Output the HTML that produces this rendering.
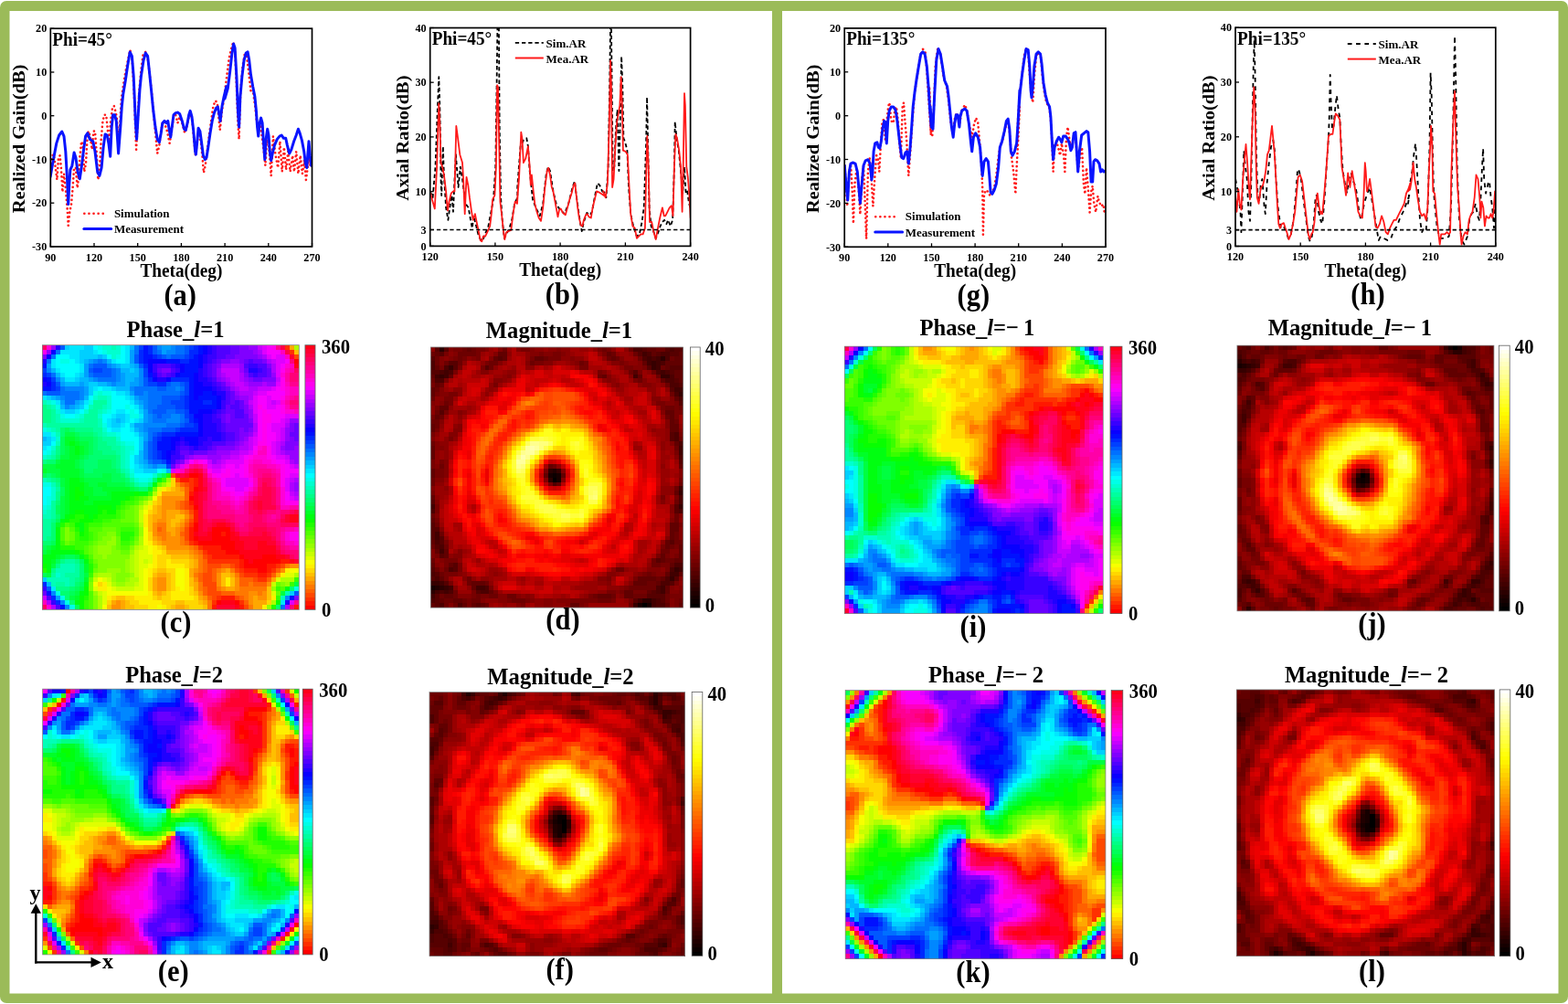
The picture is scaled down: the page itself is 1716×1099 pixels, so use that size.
<!DOCTYPE html>
<html><head><meta charset="utf-8"><style>
html,body{margin:0;padding:0;background:#fff;width:1716px;height:1099px;overflow:hidden}
svg{display:block}
text{font-family:'Liberation Serif','Times New Roman',serif;font-weight:bold}
</style></head><body>
<svg width="1716" height="1099" viewBox="0 0 1716 1099" font-family="'Liberation Serif','Times New Roman',serif" font-weight="bold">
<rect x="0" y="1" width="1716" height="1097" rx="7" fill="#9bbb59"/><rect x="10.5" y="12" width="834.5" height="1075.5" fill="#fff"/><rect x="856" y="12" width="849.5" height="1075.5" fill="#fff"/><g transform="translate(46.40 377.70) scale(5.01607 4.99483)" shape-rendering="crispEdges"><path fill="#ff0060" d="M0 0h1v1h-1zM55 5h1v1h-1zM35 28h1v1h-1zM48 29h2v1h-2zM49 30h1v1h-1zM47 31h1v1h-1zM50 31h1v1h-1zM47 32h1v1h-1zM50 32h1v1h-1zM46 33h1v1h-1zM50 33h1v1h-1zM35 34h1v1h-1zM45 34h1v1h-1zM50 34h1v1h-1zM35 35h1v1h-1zM45 35h1v1h-1zM35 36h1v1h-1zM45 36h2v1h-2zM48 36h1v1h-1zM54 36h1v1h-1zM35 37h1v1h-1zM46 37h2v1h-2zM52 37h1v1h-1zM36 38h1v1h-1zM40 38h1v1h-1zM46 38h2v1h-2zM45 39h4v1h-4zM52 39h4v1h-4zM42 40h1v1h-1zM45 40h1v1h-1zM49 40h2v1h-2zM43 41h2v1h-2zM50 41h1v1h-1zM51 43h1v1h-1zM52 45h1v1h-1zM54 46h1v1h-1zM0 57h1v1h-1z"/><path fill="#ff00d7" d="M1 0h1v1h-1zM53 4h1v1h-1zM52 6h1v1h-1zM53 9h1v1h-1zM53 10h1v1h-1zM52 12h1v1h-1zM53 14h2v1h-2zM47 22h1v1h-1zM46 24h3v1h-3zM33 25h1v1h-1zM45 25h1v1h-1zM48 25h2v1h-2zM31 26h1v1h-1zM51 26h1v1h-1zM29 27h1v1h-1zM45 28h1v1h-1zM38 29h1v1h-1zM45 31h1v1h-1zM52 31h1v1h-1zM39 32h2v1h-2zM44 32h1v1h-1zM52 32h1v1h-1zM41 33h1v1h-1zM43 33h1v1h-1zM52 33h1v1h-1zM42 34h1v1h-1zM52 34h1v1h-1zM53 41h1v1h-1zM53 42h1v1h-1zM55 43h1v1h-1zM1 57h1v1h-1z"/><path fill="#9700ff" d="M2 0h1v1h-1zM45 0h2v1h-2zM1 1h1v1h-1zM46 1h1v1h-1zM47 2h1v1h-1zM41 3h2v1h-2zM43 4h1v1h-1zM38 5h1v1h-1zM43 5h1v1h-1zM38 6h1v1h-1zM50 6h1v1h-1zM39 7h1v1h-1zM44 7h1v1h-1zM40 8h1v1h-1zM45 8h3v1h-3zM49 8h2v1h-2zM41 9h1v1h-1zM42 10h1v1h-1zM43 11h2v1h-2zM44 12h1v1h-1zM45 14h1v1h-1zM45 15h1v1h-1zM54 16h2v1h-2zM53 18h1v1h-1zM45 19h1v1h-1zM53 19h1v1h-1zM44 20h1v1h-1zM53 20h1v1h-1zM43 21h1v1h-1zM42 22h1v1h-1zM52 22h1v1h-1zM55 22h1v1h-1zM38 23h3v1h-3zM53 23h3v1h-3zM32 24h1v1h-1zM36 24h3v1h-3zM54 24h2v1h-2zM37 25h1v1h-1zM55 25h1v1h-1zM55 30h1v1h-1zM55 31h1v1h-1z"/><path fill="#2000ff" d="M3 0h1v1h-1zM36 0h1v1h-1zM36 1h1v1h-1zM35 2h1v1h-1zM0 3h1v1h-1zM35 3h1v1h-1zM29 4h1v1h-1zM34 5h1v1h-1zM45 5h2v1h-2zM24 6h1v1h-1zM34 6h1v1h-1zM25 7h2v1h-2zM34 7h2v1h-2zM0 8h1v1h-1zM35 8h2v1h-2zM37 9h1v1h-1zM38 10h2v1h-2zM39 11h1v1h-1zM37 14h1v1h-1zM35 15h2v1h-2zM35 16h2v1h-2zM35 17h3v1h-3zM35 18h3v1h-3zM35 19h4v1h-4zM30 20h1v1h-1zM34 20h2v1h-2zM37 20h2v1h-2zM29 21h1v1h-1zM31 21h1v1h-1zM34 21h1v1h-1zM33 22h1v1h-1zM28 23h1v1h-1zM53 56h1v1h-1z"/><path fill="#0058ff" d="M4 0h1v1h-1zM24 0h1v1h-1zM31 0h1v1h-1zM24 1h1v1h-1zM31 1h1v1h-1zM20 2h1v1h-1zM26 2h1v1h-1zM28 2h3v1h-3zM20 3h1v1h-1zM11 4h3v1h-3zM21 4h1v1h-1zM10 5h1v1h-1zM13 5h2v1h-2zM11 6h4v1h-4zM22 7h1v1h-1zM3 8h1v1h-1zM22 8h1v1h-1zM27 8h1v1h-1zM30 8h1v1h-1zM25 9h2v1h-2zM1 10h3v1h-3zM30 10h1v1h-1zM26 11h4v1h-4zM26 12h2v1h-2zM25 13h4v1h-4zM24 14h3v1h-3zM29 14h2v1h-2zM25 15h1v1h-1zM31 16h1v1h-1zM30 17h1v1h-1zM26 18h3v1h-3zM24 19h1v1h-1zM23 21h1v1h-1zM23 22h1v1h-1zM23 23h1v1h-1zM23 24h1v1h-1zM24 25h2v1h-2zM1 53h1v1h-1zM55 54h1v1h-1z"/><path fill="#00cfff" d="M5 0h1v1h-1zM9 0h2v1h-2zM8 1h3v1h-3zM8 2h4v1h-4zM13 2h1v1h-1zM8 3h1v1h-1zM17 4h2v1h-2zM19 5h1v1h-1zM8 6h1v1h-1zM7 7h1v1h-1zM10 8h2v1h-2zM10 9h1v1h-1zM15 9h1v1h-1zM10 10h1v1h-1zM18 10h1v1h-1zM1 11h1v1h-1zM19 11h1v1h-1zM8 13h1v1h-1zM5 14h2v1h-2zM21 14h1v1h-1zM16 15h2v1h-2zM15 16h1v1h-1zM17 16h1v1h-1zM21 16h1v1h-1zM15 17h2v1h-2zM19 17h1v1h-1zM1 20h1v1h-1zM21 20h1v1h-1zM0 21h2v1h-2zM21 21h1v1h-1zM21 22h1v1h-1zM20 24h1v1h-1zM20 25h1v1h-1zM21 26h1v1h-1zM22 27h3v1h-3zM0 51h1v1h-1zM54 54h1v1h-1z"/><path fill="#00e7ff" d="M6 0h3v1h-3zM18 0h1v1h-1zM4 1h4v1h-4zM11 1h1v1h-1zM18 1h1v1h-1zM6 2h2v1h-2zM18 2h1v1h-1zM2 3h1v1h-1zM7 3h1v1h-1zM15 3h1v1h-1zM18 3h1v1h-1zM2 4h1v1h-1zM8 4h1v1h-1zM3 5h1v1h-1zM8 5h1v1h-1zM4 6h1v1h-1zM7 6h1v1h-1zM5 7h2v1h-2zM11 9h1v1h-1zM13 9h2v1h-2zM16 10h2v1h-2zM0 11h1v1h-1zM18 11h1v1h-1zM3 12h1v1h-1zM9 12h1v1h-1zM19 12h1v1h-1zM20 13h1v1h-1zM4 14h1v1h-1zM7 14h1v1h-1zM16 14h2v1h-2zM15 15h1v1h-1zM18 15h1v1h-1zM21 15h1v1h-1zM14 16h1v1h-1zM18 16h1v1h-1zM20 16h1v1h-1zM14 17h1v1h-1zM17 17h1v1h-1zM15 18h2v1h-2zM19 18h1v1h-1zM0 19h2v1h-2zM20 19h1v1h-1zM2 20h1v1h-1zM0 22h1v1h-1zM20 26h1v1h-1zM20 27h2v1h-2zM2 53h1v1h-1zM52 56h1v1h-1z"/><path fill="#00ffff" d="M11 0h1v1h-1zM17 0h1v1h-1zM12 1h1v1h-1zM17 1h1v1h-1zM3 2h3v1h-3zM14 2h1v1h-1zM17 2h1v1h-1zM3 3h1v1h-1zM6 3h1v1h-1zM16 3h2v1h-2zM3 4h5v1h-5zM4 5h4v1h-4zM5 6h2v1h-2zM12 9h1v1h-1zM15 10h1v1h-1zM10 11h1v1h-1zM15 11h3v1h-3zM15 12h4v1h-4zM9 13h1v1h-1zM15 13h3v1h-3zM19 13h1v1h-1zM8 14h1v1h-1zM15 14h1v1h-1zM18 14h1v1h-1zM20 14h1v1h-1zM5 15h2v1h-2zM13 15h2v1h-2zM13 16h1v1h-1zM19 16h1v1h-1zM18 17h1v1h-1zM14 18h1v1h-1zM17 18h2v1h-2zM17 19h3v1h-3zM17 20h4v1h-4zM2 21h1v1h-1zM20 21h1v1h-1zM1 22h1v1h-1zM20 22h1v1h-1zM0 23h1v1h-1zM20 23h1v1h-1zM19 24h1v1h-1zM19 25h1v1h-1zM19 26h1v1h-1zM25 27h1v1h-1zM20 28h4v1h-4zM0 31h2v1h-2zM0 32h2v1h-2zM0 33h1v1h-1zM0 34h1v1h-1z"/><path fill="#00ffe7" d="M12 0h1v1h-1zM13 1h1v1h-1zM16 2h1v1h-1zM4 3h2v1h-2zM11 10h1v1h-1zM13 10h2v1h-2zM2 12h1v1h-1zM10 12h1v1h-1zM3 13h1v1h-1zM18 13h1v1h-1zM14 14h1v1h-1zM19 14h1v1h-1zM4 15h1v1h-1zM7 15h1v1h-1zM19 15h2v1h-2zM13 17h1v1h-1zM0 18h1v1h-1zM2 19h1v1h-1zM16 19h1v1h-1zM18 21h2v1h-2zM1 23h1v1h-1zM19 23h1v1h-1zM19 27h1v1h-1zM26 27h1v1h-1zM21 29h2v1h-2zM0 30h2v1h-2zM1 33h1v1h-1zM1 34h1v1h-1zM0 35h1v1h-1zM55 53h1v1h-1zM3 54h1v1h-1zM4 55h1v1h-1zM5 56h1v1h-1zM6 57h1v1h-1z"/><path fill="#00ffcf" d="M13 0h2v1h-2zM16 0h1v1h-1zM14 1h3v1h-3zM15 2h1v1h-1zM12 10h1v1h-1zM11 11h1v1h-1zM14 11h1v1h-1zM1 12h1v1h-1zM14 12h1v1h-1zM14 13h1v1h-1zM3 14h1v1h-1zM9 14h1v1h-1zM13 14h1v1h-1zM8 15h1v1h-1zM12 15h1v1h-1zM4 16h4v1h-4zM1 18h1v1h-1zM13 18h1v1h-1zM14 19h2v1h-2zM3 20h1v1h-1zM16 20h1v1h-1zM17 21h1v1h-1zM2 22h1v1h-1zM18 22h2v1h-2zM18 23h1v1h-1zM0 24h1v1h-1zM18 24h1v1h-1zM18 25h1v1h-1zM18 26h1v1h-1zM19 28h1v1h-1zM24 28h1v1h-1zM20 29h1v1h-1zM23 29h1v1h-1zM2 31h1v1h-1zM2 32h1v1h-1zM2 33h1v1h-1zM1 35h1v1h-1zM0 36h1v1h-1zM3 50h1v1h-1z"/><path fill="#00ffb7" d="M15 0h1v1h-1zM12 11h2v1h-2zM0 12h1v1h-1zM2 13h1v1h-1zM10 13h1v1h-1zM13 13h1v1h-1zM12 14h1v1h-1zM3 15h1v1h-1zM3 16h1v1h-1zM8 16h1v1h-1zM12 16h1v1h-1zM0 17h1v1h-1zM12 17h1v1h-1zM2 18h1v1h-1zM3 19h1v1h-1zM13 19h1v1h-1zM3 21h1v1h-1zM16 21h1v1h-1zM17 22h1v1h-1zM2 23h1v1h-1zM17 23h1v1h-1zM1 24h1v1h-1zM17 24h1v1h-1zM17 25h1v1h-1zM17 26h1v1h-1zM18 27h1v1h-1zM0 29h1v1h-1zM2 30h1v1h-1zM21 30h2v1h-2zM1 36h1v1h-1zM0 37h2v1h-2zM4 48h3v1h-3zM3 49h4v1h-4zM4 50h1v1h-1zM1 51h5v1h-5zM2 52h1v1h-1zM5 52h1v1h-1zM53 54h1v1h-1zM52 55h1v1h-1z"/><path fill="#00b7ff" d="M19 0h1v1h-1zM12 2h1v1h-1zM9 3h1v1h-1zM14 3h1v1h-1zM16 4h1v1h-1zM19 4h1v1h-1zM2 5h1v1h-1zM17 5h2v1h-2zM20 5h1v1h-1zM3 6h1v1h-1zM18 6h3v1h-3zM4 7h1v1h-1zM8 7h2v1h-2zM18 7h2v1h-2zM5 8h3v1h-3zM9 8h1v1h-1zM12 8h2v1h-2zM18 8h1v1h-1zM16 9h3v1h-3zM2 11h1v1h-1zM9 11h1v1h-1zM8 12h1v1h-1zM20 12h1v1h-1zM4 13h1v1h-1zM7 13h1v1h-1zM21 13h1v1h-1zM16 16h1v1h-1zM20 18h1v1h-1zM21 19h1v1h-1zM0 20h1v1h-1zM21 23h1v1h-1zM21 24h1v1h-1zM21 25h1v1h-1zM22 26h1v1h-1zM27 27h1v1h-1zM1 52h1v1h-1z"/><path fill="#0070ff" d="M20 0h1v1h-1zM29 0h2v1h-2zM3 1h1v1h-1zM20 1h1v1h-1zM25 1h1v1h-1zM29 1h2v1h-2zM2 2h1v1h-1zM27 2h1v1h-1zM1 3h1v1h-1zM12 3h1v1h-1zM10 4h1v1h-1zM15 5h1v1h-1zM2 6h1v1h-1zM10 6h1v1h-1zM15 6h1v1h-1zM12 7h4v1h-4zM28 8h2v1h-2zM4 9h1v1h-1zM20 9h5v1h-5zM27 9h2v1h-2zM30 9h1v1h-1zM0 10h1v1h-1zM4 10h4v1h-4zM20 10h2v1h-2zM23 10h7v1h-7zM5 11h3v1h-3zM23 11h3v1h-3zM5 12h2v1h-2zM23 12h3v1h-3zM23 13h2v1h-2zM23 14h1v1h-1zM27 14h2v1h-2zM24 15h1v1h-1zM26 15h2v1h-2zM30 15h1v1h-1zM24 16h3v1h-3zM30 16h1v1h-1zM27 17h3v1h-3zM23 18h3v1h-3zM23 19h1v1h-1zM23 20h1v1h-1zM23 25h1v1h-1zM52 57h1v1h-1z"/><path fill="#0040ff" d="M21 0h1v1h-1zM32 0h1v1h-1zM25 2h1v1h-1zM31 2h1v1h-1zM0 5h1v1h-1zM11 5h2v1h-2zM22 5h1v1h-1zM1 6h1v1h-1zM22 6h1v1h-1zM2 7h1v1h-1zM23 8h2v1h-2zM31 8h1v1h-1zM3 9h1v1h-1zM31 9h1v1h-1zM31 10h1v1h-1zM30 11h1v1h-1zM28 12h3v1h-3zM29 13h2v1h-2zM31 14h1v1h-1zM31 15h1v1h-1zM31 17h2v1h-2zM29 18h1v1h-1zM25 19h1v1h-1zM24 20h1v1h-1zM24 21h1v1h-1zM24 22h1v1h-1zM24 23h1v1h-1zM24 24h1v1h-1zM26 25h1v1h-1zM27 26h1v1h-1z"/><path fill="#0010ff" d="M22 0h1v1h-1zM34 0h1v1h-1zM22 1h1v1h-1zM34 1h1v1h-1zM22 2h2v1h-2zM33 2h1v1h-1zM22 3h1v1h-1zM27 3h3v1h-3zM32 3h2v1h-2zM0 4h1v1h-1zM31 4h3v1h-3zM31 5h3v1h-3zM23 6h1v1h-1zM30 6h3v1h-3zM1 7h1v1h-1zM32 7h1v1h-1zM32 8h1v1h-1zM0 9h2v1h-2zM32 9h1v1h-1zM32 10h1v1h-1zM35 10h2v1h-2zM32 11h1v1h-1zM34 11h4v1h-4zM32 12h3v1h-3zM37 12h1v1h-1zM32 13h6v1h-6zM32 14h2v1h-2zM33 16h1v1h-1zM29 19h5v1h-5zM26 20h2v1h-2zM25 21h3v1h-3zM25 22h3v1h-3zM26 23h1v1h-1zM26 24h1v1h-1zM27 25h1v1h-1zM1 54h1v1h-1zM54 55h1v1h-1zM4 57h1v1h-1z"/><path fill="#0028ff" d="M23 0h1v1h-1zM33 0h1v1h-1zM21 1h1v1h-1zM23 1h1v1h-1zM32 1h2v1h-2zM21 2h1v1h-1zM24 2h1v1h-1zM32 2h1v1h-1zM21 3h1v1h-1zM30 3h2v1h-2zM22 4h1v1h-1zM0 6h1v1h-1zM23 7h1v1h-1zM28 7h4v1h-4zM2 8h1v1h-1zM25 8h2v1h-2zM2 9h1v1h-1zM31 11h1v1h-1zM31 12h1v1h-1zM35 12h2v1h-2zM31 13h1v1h-1zM32 15h1v1h-1zM32 16h1v1h-1zM33 17h1v1h-1zM30 18h4v1h-4zM26 19h3v1h-3zM25 20h1v1h-1zM25 23h1v1h-1zM25 24h1v1h-1zM0 52h1v1h-1zM2 55h1v1h-1zM3 56h1v1h-1z"/><path fill="#0087ff" d="M25 0h1v1h-1zM28 0h1v1h-1zM27 1h2v1h-2zM11 3h1v1h-1zM13 3h1v1h-1zM14 4h1v1h-1zM1 5h1v1h-1zM16 5h1v1h-1zM21 5h1v1h-1zM16 6h1v1h-1zM21 6h1v1h-1zM3 7h1v1h-1zM11 7h1v1h-1zM16 7h1v1h-1zM21 7h1v1h-1zM15 8h1v1h-1zM21 8h1v1h-1zM5 9h4v1h-4zM19 9h1v1h-1zM29 9h1v1h-1zM8 10h1v1h-1zM22 10h1v1h-1zM4 11h1v1h-1zM8 11h1v1h-1zM21 11h2v1h-2zM22 12h1v1h-1zM5 13h1v1h-1zM22 13h1v1h-1zM23 15h1v1h-1zM28 15h2v1h-2zM23 16h1v1h-1zM27 16h3v1h-3zM22 17h5v1h-5zM22 18h1v1h-1zM22 21h1v1h-1zM22 22h1v1h-1zM22 23h1v1h-1zM22 24h1v1h-1zM24 26h1v1h-1zM2 54h1v1h-1zM53 55h1v1h-1zM4 56h1v1h-1zM5 57h1v1h-1z"/><path fill="#009fff" d="M26 0h2v1h-2zM19 1h1v1h-1zM26 1h1v1h-1zM19 2h1v1h-1zM10 3h1v1h-1zM19 3h1v1h-1zM1 4h1v1h-1zM9 4h1v1h-1zM15 4h1v1h-1zM20 4h1v1h-1zM9 5h1v1h-1zM9 6h1v1h-1zM17 6h1v1h-1zM10 7h1v1h-1zM17 7h1v1h-1zM20 7h1v1h-1zM4 8h1v1h-1zM8 8h1v1h-1zM14 8h1v1h-1zM16 8h2v1h-2zM19 8h2v1h-2zM9 9h1v1h-1zM9 10h1v1h-1zM19 10h1v1h-1zM3 11h1v1h-1zM20 11h1v1h-1zM4 12h1v1h-1zM7 12h1v1h-1zM21 12h1v1h-1zM6 13h1v1h-1zM22 14h1v1h-1zM22 15h1v1h-1zM22 16h1v1h-1zM20 17h2v1h-2zM21 18h1v1h-1zM22 19h1v1h-1zM22 20h1v1h-1zM22 25h1v1h-1zM23 26h1v1h-1zM25 26h2v1h-2zM3 55h1v1h-1z"/><path fill="#0800ff" d="M35 0h1v1h-1zM2 1h1v1h-1zM35 1h1v1h-1zM1 2h1v1h-1zM34 2h1v1h-1zM23 3h4v1h-4zM34 3h1v1h-1zM23 4h1v1h-1zM30 4h1v1h-1zM34 4h1v1h-1zM23 5h1v1h-1zM30 5h1v1h-1zM29 6h1v1h-1zM33 6h1v1h-1zM0 7h1v1h-1zM24 7h1v1h-1zM27 7h1v1h-1zM33 7h1v1h-1zM1 8h1v1h-1zM33 8h2v1h-2zM33 9h4v1h-4zM33 10h2v1h-2zM37 10h1v1h-1zM33 11h1v1h-1zM38 11h1v1h-1zM38 12h1v1h-1zM38 13h1v1h-1zM34 14h3v1h-3zM33 15h2v1h-2zM34 16h1v1h-1zM34 17h1v1h-1zM34 18h1v1h-1zM34 19h1v1h-1zM28 20h2v1h-2zM31 20h3v1h-3zM28 21h1v1h-1zM32 21h2v1h-2zM28 22h1v1h-1zM27 23h1v1h-1zM27 24h1v1h-1z"/><path fill="#3800ff" d="M37 0h1v1h-1zM37 1h1v1h-1zM36 2h2v1h-2zM36 3h1v1h-1zM24 4h1v1h-1zM28 4h1v1h-1zM35 4h1v1h-1zM45 4h2v1h-2zM24 5h1v1h-1zM29 5h1v1h-1zM35 5h1v1h-1zM47 5h1v1h-1zM28 6h1v1h-1zM35 6h1v1h-1zM46 6h1v1h-1zM36 7h1v1h-1zM37 8h1v1h-1zM38 9h1v1h-1zM39 12h1v1h-1zM39 13h1v1h-1zM38 14h1v1h-1zM37 15h1v1h-1zM37 16h2v1h-2zM38 17h1v1h-1zM38 18h1v1h-1zM39 19h1v1h-1zM36 20h1v1h-1zM39 20h1v1h-1zM30 21h1v1h-1zM35 21h2v1h-2zM29 22h1v1h-1zM32 22h1v1h-1zM34 22h2v1h-2zM29 23h1v1h-1zM28 24h2v1h-2zM28 25h1v1h-1zM0 53h1v1h-1zM2 56h1v1h-1z"/><path fill="#5000ff" d="M38 0h3v1h-3zM38 1h3v1h-3zM38 2h2v1h-2zM37 3h1v1h-1zM45 3h1v1h-1zM25 4h3v1h-3zM36 4h1v1h-1zM44 4h1v1h-1zM47 4h2v1h-2zM28 5h1v1h-1zM36 5h1v1h-1zM48 5h1v1h-1zM25 6h1v1h-1zM27 6h1v1h-1zM36 6h1v1h-1zM45 6h1v1h-1zM47 6h2v1h-2zM37 7h1v1h-1zM38 8h1v1h-1zM39 9h1v1h-1zM40 10h1v1h-1zM40 11h1v1h-1zM40 12h1v1h-1zM42 12h1v1h-1zM41 13h2v1h-2zM39 14h1v1h-1zM42 14h2v1h-2zM38 15h1v1h-1zM42 15h2v1h-2zM39 17h1v1h-1zM39 18h1v1h-1zM40 19h2v1h-2zM40 20h2v1h-2zM37 21h3v1h-3zM30 22h2v1h-2zM36 22h1v1h-1zM32 23h1v1h-1zM30 24h1v1h-1zM1 55h1v1h-1zM3 57h1v1h-1z"/><path fill="#6800ff" d="M41 0h2v1h-2zM41 1h2v1h-2zM40 2h2v1h-2zM38 3h1v1h-1zM44 3h1v1h-1zM46 3h2v1h-2zM37 4h1v1h-1zM25 5h1v1h-1zM37 5h1v1h-1zM44 5h1v1h-1zM49 5h1v1h-1zM26 6h1v1h-1zM37 6h1v1h-1zM49 6h1v1h-1zM46 7h2v1h-2zM39 8h1v1h-1zM40 9h1v1h-1zM41 10h1v1h-1zM41 11h1v1h-1zM41 12h1v1h-1zM43 12h1v1h-1zM40 13h1v1h-1zM43 13h1v1h-1zM40 14h2v1h-2zM39 15h1v1h-1zM41 15h1v1h-1zM44 15h1v1h-1zM39 16h1v1h-1zM41 16h4v1h-4zM40 17h6v1h-6zM55 17h1v1h-1zM40 18h3v1h-3zM44 18h1v1h-1zM55 18h1v1h-1zM42 19h1v1h-1zM54 19h2v1h-2zM42 20h1v1h-1zM55 20h1v1h-1zM40 21h2v1h-2zM37 22h1v1h-1zM30 23h2v1h-2zM33 23h3v1h-3zM29 25h1v1h-1zM28 26h1v1h-1zM0 54h1v1h-1z"/><path fill="#8000ff" d="M43 0h2v1h-2zM43 1h3v1h-3zM0 2h1v1h-1zM42 2h5v1h-5zM39 3h2v1h-2zM43 3h1v1h-1zM48 3h1v1h-1zM38 4h1v1h-1zM49 4h1v1h-1zM26 5h2v1h-2zM44 6h1v1h-1zM38 7h1v1h-1zM45 7h1v1h-1zM48 7h3v1h-3zM42 11h1v1h-1zM44 13h1v1h-1zM44 14h1v1h-1zM40 15h1v1h-1zM40 16h1v1h-1zM45 16h1v1h-1zM54 17h1v1h-1zM43 18h1v1h-1zM45 18h1v1h-1zM54 18h1v1h-1zM43 19h2v1h-2zM43 20h1v1h-1zM54 20h1v1h-1zM42 21h1v1h-1zM53 21h3v1h-3zM38 22h4v1h-4zM53 22h2v1h-2zM36 23h2v1h-2zM31 24h1v1h-1zM30 25h1v1h-1zM55 55h1v1h-1z"/><path fill="#c700ff" d="M47 0h1v1h-1zM50 3h1v1h-1zM39 5h4v1h-4zM40 6h3v1h-3zM41 7h2v1h-2zM51 7h1v1h-1zM42 8h2v1h-2zM43 9h2v1h-2zM47 9h3v1h-3zM46 10h1v1h-1zM45 12h1v1h-1zM50 12h1v1h-1zM46 15h1v1h-1zM46 16h1v1h-1zM53 16h1v1h-1zM52 18h1v1h-1zM46 19h1v1h-1zM52 19h1v1h-1zM45 20h1v1h-1zM52 20h1v1h-1zM45 21h1v1h-1zM51 21h1v1h-1zM45 22h1v1h-1zM51 22h1v1h-1zM43 23h2v1h-2zM51 23h1v1h-1zM41 24h2v1h-2zM53 24h1v1h-1zM31 25h1v1h-1zM36 25h1v1h-1zM39 25h1v1h-1zM37 26h2v1h-2zM55 26h1v1h-1zM54 29h1v1h-1zM54 32h1v1h-1zM55 33h1v1h-1zM0 55h1v1h-1z"/><path fill="#df00ff" d="M48 0h1v1h-1zM48 1h1v1h-1zM49 2h1v1h-1zM51 2h2v1h-2zM51 3h2v1h-2zM51 4h1v1h-1zM51 5h1v1h-1zM51 6h1v1h-1zM51 8h1v1h-1zM50 9h1v1h-1zM47 10h2v1h-2zM46 11h1v1h-1zM49 11h1v1h-1zM46 12h1v1h-1zM49 12h1v1h-1zM51 12h1v1h-1zM46 13h1v1h-1zM49 13h2v1h-2zM46 14h1v1h-1zM53 15h3v1h-3zM52 16h1v1h-1zM50 17h3v1h-3zM50 18h2v1h-2zM51 19h1v1h-1zM46 20h1v1h-1zM51 20h1v1h-1zM46 21h1v1h-1zM50 21h1v1h-1zM50 22h1v1h-1zM45 23h1v1h-1zM50 23h1v1h-1zM43 24h1v1h-1zM51 24h2v1h-2zM40 25h4v1h-4zM53 25h1v1h-1zM30 26h1v1h-1zM36 26h1v1h-1zM39 26h1v1h-1zM42 26h1v1h-1zM54 26h1v1h-1zM28 27h1v1h-1zM37 27h2v1h-2zM42 28h1v1h-1zM54 28h2v1h-2zM40 29h5v1h-5zM53 29h1v1h-1zM40 30h5v1h-5zM53 30h1v1h-1zM42 31h2v1h-2zM53 31h1v1h-1zM54 33h1v1h-1zM54 56h1v1h-1z"/><path fill="#f700ff" d="M49 0h1v1h-1zM49 1h3v1h-3zM50 2h1v1h-1zM53 3h1v1h-1zM52 4h1v1h-1zM51 9h1v1h-1zM49 10h4v1h-4zM47 11h2v1h-2zM50 11h2v1h-2zM47 12h2v1h-2zM48 13h1v1h-1zM51 13h1v1h-1zM47 14h1v1h-1zM49 14h3v1h-3zM47 15h1v1h-1zM50 15h3v1h-3zM47 16h1v1h-1zM50 16h2v1h-2zM47 17h1v1h-1zM49 17h1v1h-1zM47 18h1v1h-1zM49 18h1v1h-1zM47 19h1v1h-1zM49 19h2v1h-2zM47 20h1v1h-1zM49 20h2v1h-2zM49 21h1v1h-1zM46 22h1v1h-1zM44 24h1v1h-1zM50 24h1v1h-1zM32 25h1v1h-1zM35 25h1v1h-1zM51 25h2v1h-2zM40 26h2v1h-2zM43 26h1v1h-1zM53 26h1v1h-1zM39 27h1v1h-1zM41 27h3v1h-3zM53 27h3v1h-3zM38 28h1v1h-1zM41 28h1v1h-1zM43 28h1v1h-1zM53 28h1v1h-1zM39 29h1v1h-1zM39 30h1v1h-1zM45 30h1v1h-1zM40 31h2v1h-2zM44 31h1v1h-1zM42 32h2v1h-2zM53 32h1v1h-1zM53 33h1v1h-1z"/><path fill="#ff00ef" d="M50 0h1v1h-1zM0 1h1v1h-1zM52 5h1v1h-1zM52 7h1v1h-1zM52 8h1v1h-1zM52 9h1v1h-1zM52 11h1v1h-1zM47 13h1v1h-1zM52 13h1v1h-1zM48 14h1v1h-1zM52 14h1v1h-1zM48 15h2v1h-2zM48 16h2v1h-2zM48 17h1v1h-1zM48 18h1v1h-1zM48 19h1v1h-1zM48 20h1v1h-1zM47 21h2v1h-2zM49 22h1v1h-1zM46 23h1v1h-1zM49 23h1v1h-1zM45 24h1v1h-1zM49 24h1v1h-1zM34 25h1v1h-1zM44 25h1v1h-1zM50 25h1v1h-1zM44 26h1v1h-1zM52 26h1v1h-1zM36 27h1v1h-1zM40 27h1v1h-1zM44 27h1v1h-1zM52 27h1v1h-1zM37 28h1v1h-1zM39 28h2v1h-2zM44 28h1v1h-1zM52 28h1v1h-1zM45 29h1v1h-1zM52 29h1v1h-1zM52 30h1v1h-1zM39 31h1v1h-1zM41 32h1v1h-1zM42 33h1v1h-1zM53 34h3v1h-3zM54 41h2v1h-2zM54 42h2v1h-2z"/><path fill="#ff008f" d="M51 0h1v1h-1zM54 8h2v1h-2zM55 11h1v1h-1zM54 13h2v1h-2zM32 26h1v1h-1zM34 26h1v1h-1zM35 27h1v1h-1zM47 27h3v1h-3zM47 28h1v1h-1zM50 28h1v1h-1zM36 29h1v1h-1zM51 31h1v1h-1zM46 32h1v1h-1zM51 32h1v1h-1zM45 33h1v1h-1zM51 33h1v1h-1zM37 34h2v1h-2zM44 34h1v1h-1zM51 34h1v1h-1zM38 35h3v1h-3zM44 35h1v1h-1zM39 36h3v1h-3zM44 36h1v1h-1zM51 36h1v1h-1zM42 37h3v1h-3zM49 37h1v1h-1zM51 37h1v1h-1zM42 38h3v1h-3zM49 38h2v1h-2zM43 39h1v1h-1zM52 40h1v1h-1zM52 43h1v1h-1zM53 44h1v1h-1zM55 56h1v1h-1z"/><path fill="#ff0048" d="M52 0h1v1h-1zM53 1h1v1h-1zM32 27h1v1h-1zM34 27h1v1h-1zM30 28h1v1h-1zM35 29h1v1h-1zM35 30h1v1h-1zM48 30h1v1h-1zM48 31h2v1h-2zM35 32h1v1h-1zM48 32h2v1h-2zM35 33h1v1h-1zM47 33h3v1h-3zM46 34h1v1h-1zM48 34h2v1h-2zM46 35h1v1h-1zM48 35h3v1h-3zM47 36h1v1h-1zM55 36h1v1h-1zM35 38h1v1h-1zM37 38h3v1h-3zM52 38h1v1h-1zM35 39h2v1h-2zM41 39h1v1h-1zM35 40h1v1h-1zM46 40h3v1h-3zM45 41h3v1h-3zM49 41h1v1h-1zM50 42h1v1h-1zM51 44h1v1h-1z"/><path fill="#ff3000" d="M53 0h1v1h-1zM54 1h1v1h-1zM32 29h1v1h-1zM32 30h1v1h-1zM32 31h1v1h-1zM32 35h1v1h-1zM32 39h1v1h-1zM32 43h1v1h-1zM34 44h1v1h-1zM35 45h1v1h-1zM36 46h1v1h-1zM36 47h7v1h-7zM42 48h1v1h-1zM51 48h1v1h-1zM43 49h1v1h-1zM50 49h1v1h-1zM44 50h3v1h-3zM49 50h1v1h-1zM47 51h2v1h-2zM38 55h1v1h-1zM37 56h1v1h-1zM43 56h1v1h-1z"/><path fill="#ffa700" d="M54 0h1v1h-1zM29 31h1v1h-1zM26 32h5v1h-5zM25 35h1v1h-1zM25 36h1v1h-1zM27 36h3v1h-3zM24 37h2v1h-2zM27 37h2v1h-2zM24 38h1v1h-1zM27 38h1v1h-1zM30 38h1v1h-1zM27 39h1v1h-1zM29 39h1v1h-1zM27 40h2v1h-2zM28 41h1v1h-1zM24 42h1v1h-1zM25 43h1v1h-1zM27 45h5v1h-5zM32 46h1v1h-1zM33 47h1v1h-1zM33 48h1v1h-1zM32 49h1v1h-1zM40 49h1v1h-1zM25 50h2v1h-2zM32 50h1v1h-1zM41 50h1v1h-1zM51 50h1v1h-1zM24 51h1v1h-1zM50 51h1v1h-1zM24 52h1v1h-1zM33 52h1v1h-1zM24 53h1v1h-1zM33 53h1v1h-1zM40 53h2v1h-2zM25 54h1v1h-1zM34 55h1v1h-1zM46 55h1v1h-1zM15 56h1v1h-1zM17 56h1v1h-1zM35 56h1v1h-1zM46 56h3v1h-3zM17 57h1v1h-1zM29 57h2v1h-2zM46 57h2v1h-2z"/><path fill="#afff00" d="M55 0h1v1h-1zM24 32h1v1h-1zM22 34h1v1h-1zM21 35h1v1h-1zM21 39h1v1h-1zM21 42h1v1h-1zM21 43h1v1h-1zM20 44h1v1h-1zM19 46h1v1h-1zM19 47h1v1h-1zM19 48h1v1h-1zM19 49h1v1h-1zM12 50h3v1h-3zM55 50h1v1h-1zM19 51h2v1h-2zM52 51h3v1h-3zM15 52h1v1h-1zM18 52h2v1h-2zM12 55h1v1h-1zM12 56h1v1h-1zM50 56h1v1h-1zM12 57h1v1h-1z"/><path fill="#af00ff" d="M47 1h1v1h-1zM48 2h1v1h-1zM49 3h1v1h-1zM39 4h4v1h-4zM50 4h1v1h-1zM50 5h1v1h-1zM39 6h1v1h-1zM43 6h1v1h-1zM40 7h1v1h-1zM43 7h1v1h-1zM41 8h1v1h-1zM44 8h1v1h-1zM48 8h1v1h-1zM42 9h1v1h-1zM45 9h2v1h-2zM43 10h3v1h-3zM45 11h1v1h-1zM45 13h1v1h-1zM46 17h1v1h-1zM53 17h1v1h-1zM46 18h1v1h-1zM44 21h1v1h-1zM52 21h1v1h-1zM43 22h2v1h-2zM41 23h2v1h-2zM52 23h1v1h-1zM33 24h3v1h-3zM39 24h2v1h-2zM38 25h1v1h-1zM54 25h1v1h-1zM29 26h1v1h-1zM55 29h1v1h-1zM54 30h1v1h-1zM54 31h1v1h-1zM55 32h1v1h-1zM1 56h1v1h-1zM2 57h1v1h-1zM53 57h1v1h-1z"/><path fill="#ff00bf" d="M52 1h1v1h-1zM53 2h1v1h-1zM54 4h1v1h-1zM53 5h1v1h-1zM53 8h1v1h-1zM54 9h2v1h-2zM54 10h2v1h-2zM53 11h1v1h-1zM53 13h1v1h-1zM55 14h1v1h-1zM48 22h1v1h-1zM47 23h2v1h-2zM46 25h2v1h-2zM35 26h1v1h-1zM45 26h1v1h-1zM49 26h2v1h-2zM30 27h1v1h-1zM45 27h1v1h-1zM51 27h1v1h-1zM36 28h1v1h-1zM37 29h1v1h-1zM46 29h1v1h-1zM38 30h1v1h-1zM46 30h1v1h-1zM38 31h1v1h-1zM38 32h1v1h-1zM38 33h3v1h-3zM44 33h1v1h-1zM41 34h1v1h-1zM43 34h1v1h-1zM42 35h1v1h-1zM52 35h2v1h-2zM55 40h1v1h-1zM53 43h2v1h-2zM0 56h1v1h-1z"/><path fill="#ffbf00" d="M55 1h1v1h-1zM28 31h1v1h-1zM25 33h1v1h-1zM25 34h1v1h-1zM24 35h1v1h-1zM24 36h1v1h-1zM23 37h1v1h-1zM29 37h2v1h-2zM23 38h1v1h-1zM28 38h2v1h-2zM23 39h1v1h-1zM28 39h1v1h-1zM23 40h1v1h-1zM24 43h1v1h-1zM26 44h1v1h-1zM28 46h4v1h-4zM32 47h1v1h-1zM32 48h1v1h-1zM25 49h2v1h-2zM24 50h1v1h-1zM27 50h1v1h-1zM39 50h2v1h-2zM27 51h1v1h-1zM32 51h1v1h-1zM39 51h1v1h-1zM41 51h1v1h-1zM27 52h1v1h-1zM32 52h1v1h-1zM39 52h1v1h-1zM41 52h1v1h-1zM27 53h1v1h-1zM49 53h1v1h-1zM24 54h1v1h-1zM26 54h1v1h-1zM33 54h1v1h-1zM49 54h1v1h-1zM16 55h2v1h-2zM25 55h1v1h-1zM49 55h1v1h-1zM18 56h1v1h-1zM29 56h2v1h-2zM34 56h1v1h-1zM14 57h1v1h-1zM18 57h2v1h-2zM28 57h1v1h-1zM31 57h1v1h-1zM35 57h1v1h-1z"/><path fill="#ff0030" d="M54 2h1v1h-1zM33 27h1v1h-1zM29 28h1v1h-1zM31 28h1v1h-1zM35 31h1v1h-1zM34 32h1v1h-1zM34 33h1v1h-1zM34 34h1v1h-1zM47 34h1v1h-1zM34 35h1v1h-1zM47 35h1v1h-1zM34 36h1v1h-1zM34 37h1v1h-1zM53 37h1v1h-1zM34 38h1v1h-1zM53 38h1v1h-1zM34 39h1v1h-1zM37 39h1v1h-1zM40 39h1v1h-1zM34 40h1v1h-1zM36 40h1v1h-1zM41 40h1v1h-1zM34 41h2v1h-2zM42 41h1v1h-1zM48 41h1v1h-1zM43 42h7v1h-7zM44 43h3v1h-3zM49 43h2v1h-2zM44 44h3v1h-3zM51 45h1v1h-1zM53 46h1v1h-1zM55 47h1v1h-1zM38 57h4v1h-4z"/><path fill="#ff4800" d="M55 2h1v1h-1zM28 28h1v1h-1zM29 29h1v1h-1zM31 30h1v1h-1zM31 34h1v1h-1zM31 35h1v1h-1zM32 36h1v1h-1zM32 38h1v1h-1zM31 40h1v1h-1zM31 41h1v1h-1zM31 42h1v1h-1zM35 46h1v1h-1zM36 48h3v1h-3zM41 48h1v1h-1zM52 48h1v1h-1zM36 49h1v1h-1zM42 49h1v1h-1zM35 50h2v1h-2zM43 50h1v1h-1zM35 51h2v1h-2zM46 51h1v1h-1zM35 52h3v1h-3zM36 53h2v1h-2zM36 54h3v1h-3zM37 55h1v1h-1zM42 55h1v1h-1zM44 57h1v1h-1z"/><path fill="#ff0078" d="M54 3h1v1h-1zM54 6h2v1h-2zM54 7h2v1h-2zM54 12h2v1h-2zM33 26h1v1h-1zM31 27h1v1h-1zM48 28h2v1h-2zM47 29h1v1h-1zM50 29h1v1h-1zM36 30h1v1h-1zM47 30h1v1h-1zM50 30h1v1h-1zM36 31h1v1h-1zM36 32h1v1h-1zM36 33h1v1h-1zM36 34h1v1h-1zM36 35h2v1h-2zM51 35h1v1h-1zM36 36h3v1h-3zM49 36h2v1h-2zM52 36h2v1h-2zM36 37h6v1h-6zM45 37h1v1h-1zM48 37h1v1h-1zM41 38h1v1h-1zM45 38h1v1h-1zM48 38h1v1h-1zM51 38h1v1h-1zM42 39h1v1h-1zM44 39h1v1h-1zM49 39h3v1h-3zM43 40h2v1h-2zM51 40h1v1h-1zM51 41h1v1h-1zM51 42h1v1h-1zM52 44h1v1h-1zM53 45h3v1h-3zM55 46h1v1h-1zM54 57h1v1h-1z"/><path fill="#ff0000" d="M55 3h1v1h-1zM32 28h2v1h-2zM33 31h1v1h-1zM32 33h1v1h-1zM33 35h1v1h-1zM33 39h1v1h-1zM33 40h1v1h-1zM37 40h4v1h-4zM37 41h2v1h-2zM40 41h1v1h-1zM33 42h1v1h-1zM37 42h4v1h-4zM34 43h8v1h-8zM39 44h3v1h-3zM40 45h3v1h-3zM43 46h1v1h-1zM48 46h3v1h-3zM44 47h1v1h-1zM46 47h6v1h-6zM44 48h5v1h-5zM47 49h2v1h-2zM38 56h1v1h-1zM42 56h1v1h-1z"/><path fill="#ff0018" d="M55 4h1v1h-1zM34 28h1v1h-1zM34 29h1v1h-1zM34 30h1v1h-1zM34 31h1v1h-1zM33 32h1v1h-1zM33 33h1v1h-1zM33 34h1v1h-1zM54 37h2v1h-2zM54 38h2v1h-2zM38 39h2v1h-2zM33 41h1v1h-1zM36 41h1v1h-1zM41 41h1v1h-1zM34 42h3v1h-3zM41 42h2v1h-2zM42 43h2v1h-2zM47 43h2v1h-2zM42 44h2v1h-2zM47 44h4v1h-4zM43 45h8v1h-8zM44 46h4v1h-4zM51 46h2v1h-2zM45 47h1v1h-1zM54 47h1v1h-1zM39 56h3v1h-3zM42 57h1v1h-1z"/><path fill="#ff00a7" d="M54 5h1v1h-1zM53 6h1v1h-1zM53 7h1v1h-1zM54 11h1v1h-1zM53 12h1v1h-1zM46 26h3v1h-3zM46 27h1v1h-1zM50 27h1v1h-1zM46 28h1v1h-1zM51 28h1v1h-1zM51 29h1v1h-1zM37 30h1v1h-1zM51 30h1v1h-1zM37 31h1v1h-1zM46 31h1v1h-1zM37 32h1v1h-1zM45 32h1v1h-1zM37 33h1v1h-1zM39 34h2v1h-2zM41 35h1v1h-1zM43 35h1v1h-1zM54 35h2v1h-2zM42 36h2v1h-2zM50 37h1v1h-1zM53 40h2v1h-2zM52 41h1v1h-1zM52 42h1v1h-1zM54 44h2v1h-2z"/><path fill="#00ff9f" d="M11 12h3v1h-3zM1 13h1v1h-1zM11 13h2v1h-2zM2 14h1v1h-1zM10 14h2v1h-2zM2 15h1v1h-1zM9 15h3v1h-3zM2 16h1v1h-1zM9 16h3v1h-3zM1 17h11v1h-11zM3 18h1v1h-1zM11 18h2v1h-2zM12 19h1v1h-1zM13 20h3v1h-3zM14 21h2v1h-2zM15 22h2v1h-2zM16 23h1v1h-1zM2 24h1v1h-1zM17 27h1v1h-1zM18 28h1v1h-1zM1 29h1v1h-1zM19 29h1v1h-1zM20 30h1v1h-1zM3 31h1v1h-1zM2 34h1v1h-1zM2 35h1v1h-1zM2 36h1v1h-1zM2 37h1v1h-1zM0 38h2v1h-2zM0 39h2v1h-2zM0 40h2v1h-2zM0 41h2v1h-2zM0 42h1v1h-1zM5 47h2v1h-2zM7 48h1v1h-1zM7 49h1v1h-1zM2 50h1v1h-1zM5 50h3v1h-3zM6 51h1v1h-1zM3 52h2v1h-2zM6 52h1v1h-1z"/><path fill="#00ff87" d="M0 13h1v1h-1zM0 14h2v1h-2zM0 15h2v1h-2zM0 16h2v1h-2zM7 18h4v1h-4zM11 19h1v1h-1zM12 20h1v1h-1zM12 21h2v1h-2zM3 22h1v1h-1zM12 22h3v1h-3zM3 23h1v1h-1zM13 23h3v1h-3zM16 24h1v1h-1zM0 25h1v1h-1zM16 25h1v1h-1zM16 26h1v1h-1zM25 28h1v1h-1zM2 29h1v1h-1zM3 30h1v1h-1zM23 30h1v1h-1zM3 32h1v1h-1zM3 33h1v1h-1zM2 38h1v1h-1zM1 42h1v1h-1zM4 47h1v1h-1zM7 47h1v1h-1zM3 48h1v1h-1zM2 49h1v1h-1zM7 51h1v1h-1zM3 53h3v1h-3z"/><path fill="#00ff70" d="M4 18h1v1h-1zM6 18h1v1h-1zM4 19h1v1h-1zM8 19h3v1h-3zM11 20h1v1h-1zM11 21h1v1h-1zM11 22h1v1h-1zM11 23h2v1h-2zM3 24h1v1h-1zM10 24h6v1h-6zM1 25h2v1h-2zM9 25h3v1h-3zM15 25h1v1h-1zM9 26h3v1h-3zM15 26h1v1h-1zM9 27h2v1h-2zM16 27h1v1h-1zM1 28h1v1h-1zM17 28h1v1h-1zM3 29h1v1h-1zM18 29h1v1h-1zM24 29h1v1h-1zM19 30h1v1h-1zM21 31h2v1h-2zM3 34h1v1h-1zM3 37h1v1h-1zM2 39h1v1h-1zM2 40h1v1h-1zM2 41h1v1h-1zM2 42h1v1h-1zM0 43h2v1h-2zM8 48h1v1h-1zM8 49h1v1h-1zM8 50h1v1h-1zM8 51h1v1h-1zM7 52h1v1h-1zM6 53h1v1h-1zM54 53h1v1h-1zM4 54h2v1h-2zM5 55h1v1h-1zM6 56h1v1h-1zM51 57h1v1h-1z"/><path fill="#00ff58" d="M5 18h1v1h-1zM7 19h1v1h-1zM4 20h1v1h-1zM8 20h3v1h-3zM4 21h1v1h-1zM10 21h1v1h-1zM4 22h1v1h-1zM10 22h1v1h-1zM4 23h1v1h-1zM10 23h1v1h-1zM9 24h1v1h-1zM8 25h1v1h-1zM12 25h3v1h-3zM8 26h1v1h-1zM12 26h3v1h-3zM11 27h5v1h-5zM0 28h1v1h-1zM2 28h1v1h-1zM9 28h4v1h-4zM15 28h2v1h-2zM26 28h1v1h-1zM15 29h3v1h-3zM18 30h1v1h-1zM4 31h1v1h-1zM20 31h1v1h-1zM4 32h1v1h-1zM3 35h1v1h-1zM3 36h1v1h-1zM3 38h1v1h-1zM2 43h1v1h-1zM0 44h1v1h-1zM5 46h2v1h-2zM3 47h1v1h-1zM8 47h1v1h-1zM0 50h1v1h-1zM8 52h1v1h-1zM7 53h1v1h-1zM6 54h1v1h-1zM7 57h1v1h-1z"/><path fill="#00ff40" d="M5 19h2v1h-2zM7 20h1v1h-1zM8 21h2v1h-2zM5 22h1v1h-1zM9 22h1v1h-1zM5 23h1v1h-1zM9 23h1v1h-1zM4 24h2v1h-2zM8 24h1v1h-1zM3 25h1v1h-1zM7 25h1v1h-1zM0 26h3v1h-3zM7 26h1v1h-1zM1 27h3v1h-3zM8 27h1v1h-1zM3 28h1v1h-1zM8 28h1v1h-1zM13 28h2v1h-2zM4 29h1v1h-1zM9 29h6v1h-6zM4 30h1v1h-1zM10 30h2v1h-2zM14 30h4v1h-4zM11 31h2v1h-2zM19 31h1v1h-1zM11 32h3v1h-3zM4 33h1v1h-1zM4 34h1v1h-1zM4 35h1v1h-1zM4 36h1v1h-1zM4 37h1v1h-1zM1 44h1v1h-1zM0 45h1v1h-1zM4 46h1v1h-1zM7 46h1v1h-1zM2 48h1v1h-1zM1 50h1v1h-1zM9 50h1v1h-1zM55 52h1v1h-1zM8 53h1v1h-1zM7 54h1v1h-1zM52 54h1v1h-1zM6 55h1v1h-1z"/><path fill="#00ff28" d="M5 20h2v1h-2zM5 21h1v1h-1zM7 21h1v1h-1zM6 22h1v1h-1zM8 22h1v1h-1zM6 23h1v1h-1zM8 23h1v1h-1zM6 24h2v1h-2zM4 25h3v1h-3zM3 26h4v1h-4zM0 27h1v1h-1zM4 27h4v1h-4zM4 28h4v1h-4zM5 29h1v1h-1zM8 29h1v1h-1zM5 30h1v1h-1zM9 30h1v1h-1zM12 30h2v1h-2zM5 31h1v1h-1zM9 31h2v1h-2zM13 31h6v1h-6zM23 31h1v1h-1zM5 32h1v1h-1zM9 32h2v1h-2zM14 32h1v1h-1zM5 33h1v1h-1zM10 33h5v1h-5zM5 34h1v1h-1zM9 34h2v1h-2zM5 35h1v1h-1zM5 36h1v1h-1zM3 39h1v1h-1zM2 44h1v1h-1zM1 45h1v1h-1zM3 46h1v1h-1zM2 47h1v1h-1zM9 48h1v1h-1zM9 49h1v1h-1zM9 51h1v1h-1zM7 55h1v1h-1z"/><path fill="#00ff10" d="M6 21h1v1h-1zM7 22h1v1h-1zM7 23h1v1h-1zM6 29h2v1h-2zM25 29h1v1h-1zM6 30h3v1h-3zM24 30h1v1h-1zM6 31h1v1h-1zM8 31h1v1h-1zM6 32h1v1h-1zM15 32h5v1h-5zM21 32h2v1h-2zM6 33h1v1h-1zM8 33h2v1h-2zM15 33h3v1h-3zM6 34h3v1h-3zM11 34h6v1h-6zM6 35h6v1h-6zM15 35h1v1h-1zM6 36h1v1h-1zM9 36h3v1h-3zM5 37h1v1h-1zM10 37h1v1h-1zM4 38h1v1h-1zM8 39h1v1h-1zM3 40h1v1h-1zM8 40h1v1h-1zM3 41h1v1h-1zM3 42h1v1h-1zM3 43h1v1h-1zM3 44h1v1h-1zM2 45h5v1h-5zM0 46h3v1h-3zM8 46h1v1h-1zM0 47h2v1h-2zM9 47h1v1h-1zM1 48h1v1h-1zM1 49h1v1h-1zM9 52h1v1h-1zM53 53h1v1h-1zM8 54h1v1h-1zM7 56h1v1h-1z"/><path fill="#20ff00" d="M27 28h1v1h-1zM19 33h1v1h-1zM17 34h1v1h-1zM16 35h1v1h-1zM13 36h1v1h-1zM7 37h2v1h-2zM12 37h4v1h-4zM6 38h2v1h-2zM11 38h2v1h-2zM4 39h1v1h-1zM9 39h1v1h-1zM7 40h1v1h-1zM9 40h1v1h-1zM9 41h1v1h-1zM17 41h3v1h-3zM8 42h2v1h-2zM17 42h2v1h-2zM4 44h3v1h-3zM8 45h1v1h-1zM9 46h1v1h-1zM10 48h1v1h-1zM0 49h1v1h-1zM10 49h1v1h-1zM9 55h1v1h-1zM50 57h1v1h-1z"/><path fill="#38ff00" d="M26 29h1v1h-1zM23 32h1v1h-1zM20 33h1v1h-1zM18 34h2v1h-2zM17 35h1v1h-1zM16 36h1v1h-1zM16 37h1v1h-1zM13 38h2v1h-2zM6 39h1v1h-1zM10 39h3v1h-3zM17 40h3v1h-3zM7 41h1v1h-1zM10 41h1v1h-1zM7 42h1v1h-1zM10 42h1v1h-1zM19 42h1v1h-1zM4 43h1v1h-1zM7 43h3v1h-3zM17 43h2v1h-2zM7 44h2v1h-2zM10 47h1v1h-1zM10 50h1v1h-1zM55 51h1v1h-1zM54 52h1v1h-1zM51 53h1v1h-1zM51 55h1v1h-1zM9 56h1v1h-1zM9 57h1v1h-1z"/><path fill="#97ff00" d="M27 29h1v1h-1zM26 30h1v1h-1zM23 33h1v1h-1zM21 40h1v1h-1zM21 41h1v1h-1zM15 42h1v1h-1zM14 43h2v1h-2zM12 44h3v1h-3zM12 45h3v1h-3zM19 45h1v1h-1zM13 46h1v1h-1zM18 47h1v1h-1zM18 48h1v1h-1zM14 49h3v1h-3zM18 49h1v1h-1zM11 50h1v1h-1zM15 50h1v1h-1zM19 50h1v1h-1zM15 51h1v1h-1zM18 51h1v1h-1zM16 52h2v1h-2zM53 52h1v1h-1zM50 53h1v1h-1zM11 54h1v1h-1zM49 57h1v1h-1z"/><path fill="#ffd700" d="M28 29h1v1h-1zM28 30h1v1h-1zM27 31h1v1h-1zM24 34h1v1h-1zM23 36h1v1h-1zM23 41h1v1h-1zM23 42h1v1h-1zM25 44h1v1h-1zM26 45h1v1h-1zM25 46h3v1h-3zM25 47h2v1h-2zM28 47h4v1h-4zM25 48h2v1h-2zM31 48h1v1h-1zM24 49h1v1h-1zM27 49h2v1h-2zM28 50h1v1h-1zM23 51h1v1h-1zM28 51h1v1h-1zM12 52h1v1h-1zM23 52h1v1h-1zM28 52h1v1h-1zM23 53h1v1h-1zM28 53h1v1h-1zM32 53h1v1h-1zM27 54h1v1h-1zM32 54h1v1h-1zM15 55h1v1h-1zM18 55h2v1h-2zM24 55h1v1h-1zM26 55h2v1h-2zM33 55h1v1h-1zM14 56h1v1h-1zM19 56h2v1h-2zM26 56h3v1h-3zM31 56h3v1h-3zM49 56h1v1h-1zM20 57h3v1h-3zM27 57h1v1h-1zM32 57h3v1h-3z"/><path fill="#ff1800" d="M30 29h2v1h-2zM33 29h1v1h-1zM33 30h1v1h-1zM32 32h1v1h-1zM32 34h1v1h-1zM33 36h1v1h-1zM33 37h1v1h-1zM33 38h1v1h-1zM32 40h1v1h-1zM32 41h1v1h-1zM39 41h1v1h-1zM32 42h1v1h-1zM33 43h1v1h-1zM35 44h4v1h-4zM36 45h4v1h-4zM37 46h6v1h-6zM43 47h1v1h-1zM52 47h2v1h-2zM43 48h1v1h-1zM49 48h2v1h-2zM44 49h3v1h-3zM49 49h1v1h-1zM47 50h2v1h-2zM39 55h3v1h-3zM37 57h1v1h-1zM43 57h1v1h-1zM55 57h1v1h-1z"/><path fill="#68ff00" d="M25 30h1v1h-1zM24 31h1v1h-1zM22 33h1v1h-1zM19 35h1v1h-1zM18 36h2v1h-2zM18 37h2v1h-2zM17 38h3v1h-3zM20 39h1v1h-1zM13 40h3v1h-3zM6 41h1v1h-1zM12 41h2v1h-2zM6 42h1v1h-1zM12 42h1v1h-1zM16 42h1v1h-1zM20 42h1v1h-1zM5 43h1v1h-1zM11 43h1v1h-1zM16 43h1v1h-1zM10 44h1v1h-1zM16 44h1v1h-1zM10 45h1v1h-1zM17 45h2v1h-2zM11 47h1v1h-1zM11 49h1v1h-1zM10 51h1v1h-1zM51 52h1v1h-1zM51 54h1v1h-1z"/><path fill="#c7ff00" d="M27 30h1v1h-1zM21 36h1v1h-1zM21 37h1v1h-1zM21 38h1v1h-1zM21 44h1v1h-1zM20 45h1v1h-1zM20 46h1v1h-1zM20 47h1v1h-1zM22 47h1v1h-1zM20 48h1v1h-1zM20 49h1v1h-1zM20 50h1v1h-1zM11 51h1v1h-1zM14 51h1v1h-1zM20 52h1v1h-1zM50 52h1v1h-1zM16 53h4v1h-4zM12 54h1v1h-1z"/><path fill="#ff8f00" d="M29 30h1v1h-1zM30 31h1v1h-1zM26 33h5v1h-5zM26 34h3v1h-3zM26 35h3v1h-3zM26 36h1v1h-1zM30 36h1v1h-1zM26 37h1v1h-1zM31 37h1v1h-1zM25 38h2v1h-2zM24 39h1v1h-1zM30 39h1v1h-1zM24 40h1v1h-1zM29 40h1v1h-1zM24 41h1v1h-1zM27 41h1v1h-1zM29 41h1v1h-1zM25 42h1v1h-1zM27 42h3v1h-3zM26 43h4v1h-4zM27 44h5v1h-5zM32 45h1v1h-1zM33 46h1v1h-1zM54 48h2v1h-2zM33 49h1v1h-1zM39 49h1v1h-1zM52 49h1v1h-1zM38 50h1v1h-1zM25 51h2v1h-2zM33 51h1v1h-1zM38 51h1v1h-1zM42 51h1v1h-1zM25 52h2v1h-2zM38 52h1v1h-1zM42 52h1v1h-1zM49 52h1v1h-1zM25 53h2v1h-2zM39 53h1v1h-1zM42 53h1v1h-1zM34 54h1v1h-1zM45 54h2v1h-2zM48 54h1v1h-1zM35 55h1v1h-1zM45 55h1v1h-1zM47 55h2v1h-2zM16 56h1v1h-1zM45 56h1v1h-1zM15 57h2v1h-2z"/><path fill="#ff6000" d="M30 30h1v1h-1zM31 31h1v1h-1zM31 32h1v1h-1zM31 33h1v1h-1zM30 34h1v1h-1zM30 35h1v1h-1zM32 37h1v1h-1zM31 39h1v1h-1zM25 40h1v1h-1zM30 41h1v1h-1zM31 43h1v1h-1zM33 44h1v1h-1zM34 45h1v1h-1zM35 47h1v1h-1zM35 48h1v1h-1zM39 48h2v1h-2zM35 49h1v1h-1zM37 49h1v1h-1zM51 49h1v1h-1zM34 50h1v1h-1zM37 50h1v1h-1zM50 50h1v1h-1zM34 51h1v1h-1zM37 51h1v1h-1zM43 51h3v1h-3zM49 51h1v1h-1zM43 52h2v1h-2zM46 52h3v1h-3zM35 53h1v1h-1zM35 54h1v1h-1zM39 54h3v1h-3zM36 55h1v1h-1zM43 55h1v1h-1zM44 56h1v1h-1z"/><path fill="#08ff00" d="M7 31h1v1h-1zM7 32h2v1h-2zM20 32h1v1h-1zM7 33h1v1h-1zM18 33h1v1h-1zM12 35h3v1h-3zM7 36h2v1h-2zM12 36h1v1h-1zM14 36h2v1h-2zM6 37h1v1h-1zM9 37h1v1h-1zM11 37h1v1h-1zM5 38h1v1h-1zM8 38h3v1h-3zM7 39h1v1h-1zM8 41h1v1h-1zM7 45h1v1h-1zM0 48h1v1h-1zM9 53h1v1h-1zM9 54h1v1h-1zM8 55h1v1h-1zM8 56h1v1h-1zM51 56h1v1h-1zM8 57h1v1h-1z"/><path fill="#dfff00" d="M25 31h1v1h-1zM23 34h1v1h-1zM22 35h1v1h-1zM22 44h1v1h-1zM21 45h2v1h-2zM21 46h3v1h-3zM21 47h1v1h-1zM23 47h1v1h-1zM21 48h2v1h-2zM21 49h1v1h-1zM21 50h1v1h-1zM53 50h2v1h-2zM13 51h1v1h-1zM21 51h1v1h-1zM51 51h1v1h-1zM14 52h1v1h-1zM21 52h1v1h-1zM11 53h1v1h-1zM15 53h1v1h-1zM20 53h2v1h-2zM13 54h1v1h-1zM50 54h1v1h-1zM13 55h1v1h-1zM13 56h1v1h-1z"/><path fill="#ffef00" d="M26 31h1v1h-1zM25 32h1v1h-1zM23 35h1v1h-1zM22 37h1v1h-1zM22 38h1v1h-1zM22 39h1v1h-1zM23 43h1v1h-1zM24 44h1v1h-1zM24 45h2v1h-2zM24 46h1v1h-1zM24 47h1v1h-1zM27 47h1v1h-1zM24 48h1v1h-1zM27 48h4v1h-4zM23 49h1v1h-1zM31 49h1v1h-1zM53 49h1v1h-1zM23 50h1v1h-1zM31 50h1v1h-1zM52 50h1v1h-1zM31 51h1v1h-1zM40 51h1v1h-1zM13 52h1v1h-1zM31 52h1v1h-1zM40 52h1v1h-1zM12 53h2v1h-2zM29 53h1v1h-1zM31 53h1v1h-1zM23 54h1v1h-1zM28 54h4v1h-4zM14 55h1v1h-1zM20 55h4v1h-4zM28 55h5v1h-5zM50 55h1v1h-1zM21 56h5v1h-5zM23 57h2v1h-2zM26 57h1v1h-1zM48 57h1v1h-1z"/><path fill="#50ff00" d="M21 33h1v1h-1zM20 34h1v1h-1zM18 35h1v1h-1zM17 36h1v1h-1zM17 37h1v1h-1zM15 38h2v1h-2zM5 39h1v1h-1zM13 39h7v1h-7zM4 40h1v1h-1zM6 40h1v1h-1zM10 40h3v1h-3zM16 40h1v1h-1zM20 40h1v1h-1zM4 41h1v1h-1zM11 41h1v1h-1zM16 41h1v1h-1zM20 41h1v1h-1zM4 42h1v1h-1zM11 42h1v1h-1zM6 43h1v1h-1zM10 43h1v1h-1zM19 43h1v1h-1zM9 44h1v1h-1zM17 44h2v1h-2zM9 45h1v1h-1zM10 46h1v1h-1zM11 48h1v1h-1zM52 53h1v1h-1zM10 54h1v1h-1zM10 55h1v1h-1zM10 56h1v1h-1zM10 57h1v1h-1z"/><path fill="#f7ff00" d="M24 33h1v1h-1zM22 36h1v1h-1zM22 40h1v1h-1zM22 41h1v1h-1zM22 42h1v1h-1zM22 43h1v1h-1zM23 44h1v1h-1zM23 45h1v1h-1zM23 48h1v1h-1zM22 49h1v1h-1zM29 49h2v1h-2zM54 49h2v1h-2zM22 50h1v1h-1zM29 50h2v1h-2zM12 51h1v1h-1zM22 51h1v1h-1zM29 51h2v1h-2zM11 52h1v1h-1zM22 52h1v1h-1zM29 52h2v1h-2zM14 53h1v1h-1zM22 53h1v1h-1zM30 53h1v1h-1zM14 54h9v1h-9zM13 57h1v1h-1zM25 57h1v1h-1z"/><path fill="#80ff00" d="M21 34h1v1h-1zM20 35h1v1h-1zM20 36h1v1h-1zM20 37h1v1h-1zM20 38h1v1h-1zM5 40h1v1h-1zM5 41h1v1h-1zM14 41h2v1h-2zM5 42h1v1h-1zM13 42h2v1h-2zM12 43h2v1h-2zM20 43h1v1h-1zM11 44h1v1h-1zM15 44h1v1h-1zM19 44h1v1h-1zM11 45h1v1h-1zM15 45h2v1h-2zM11 46h2v1h-2zM14 46h5v1h-5zM12 47h6v1h-6zM12 48h6v1h-6zM12 49h2v1h-2zM17 49h1v1h-1zM16 50h3v1h-3zM16 51h2v1h-2zM10 52h1v1h-1zM52 52h1v1h-1zM10 53h1v1h-1zM11 55h1v1h-1zM11 56h1v1h-1zM11 57h1v1h-1z"/><path fill="#ff7800" d="M29 34h1v1h-1zM29 35h1v1h-1zM31 36h1v1h-1zM31 38h1v1h-1zM25 39h2v1h-2zM26 40h1v1h-1zM30 40h1v1h-1zM25 41h2v1h-2zM26 42h1v1h-1zM30 42h1v1h-1zM30 43h1v1h-1zM32 44h1v1h-1zM33 45h1v1h-1zM34 46h1v1h-1zM34 47h1v1h-1zM34 48h1v1h-1zM53 48h1v1h-1zM34 49h1v1h-1zM38 49h1v1h-1zM41 49h1v1h-1zM33 50h1v1h-1zM42 50h1v1h-1zM34 52h1v1h-1zM45 52h1v1h-1zM34 53h1v1h-1zM38 53h1v1h-1zM43 53h6v1h-6zM42 54h3v1h-3zM47 54h1v1h-1zM44 55h1v1h-1zM36 56h1v1h-1zM36 57h1v1h-1zM45 57h1v1h-1z"/></g><rect x="46.40" y="377.70" width="280.90" height="289.70" fill="none" stroke="#808080" stroke-width="0.8"/><g transform="translate(333.90 377.70) scale(11.10000 4.52656)" shape-rendering="crispEdges"><path fill="#ff0018" d="M0 0h1v1h-1z"/><path fill="#ff0030" d="M0 1h1v1h-1z"/><path fill="#ff0048" d="M0 2h1v1h-1z"/><path fill="#ff0060" d="M0 3h1v1h-1z"/><path fill="#ff0078" d="M0 4h1v1h-1z"/><path fill="#ff008f" d="M0 5h1v1h-1z"/><path fill="#ff00a7" d="M0 6h1v1h-1z"/><path fill="#ff00bf" d="M0 7h1v1h-1z"/><path fill="#ff00d7" d="M0 8h1v1h-1z"/><path fill="#ff00ef" d="M0 9h1v1h-1z"/><path fill="#f700ff" d="M0 10h1v1h-1z"/><path fill="#df00ff" d="M0 11h1v1h-1z"/><path fill="#c700ff" d="M0 12h1v1h-1z"/><path fill="#af00ff" d="M0 13h1v1h-1z"/><path fill="#9700ff" d="M0 14h1v1h-1z"/><path fill="#8000ff" d="M0 15h1v1h-1z"/><path fill="#6800ff" d="M0 16h1v1h-1z"/><path fill="#5000ff" d="M0 17h1v1h-1z"/><path fill="#3800ff" d="M0 18h1v1h-1z"/><path fill="#2000ff" d="M0 19h1v1h-1z"/><path fill="#0800ff" d="M0 20h1v1h-1z"/><path fill="#0010ff" d="M0 21h1v1h-1z"/><path fill="#0028ff" d="M0 22h1v1h-1z"/><path fill="#0040ff" d="M0 23h1v1h-1z"/><path fill="#0058ff" d="M0 24h1v1h-1z"/><path fill="#0070ff" d="M0 25h1v1h-1z"/><path fill="#0087ff" d="M0 26h1v1h-1z"/><path fill="#009fff" d="M0 27h1v1h-1z"/><path fill="#00b7ff" d="M0 28h1v1h-1z"/><path fill="#00cfff" d="M0 29h1v1h-1z"/><path fill="#00e7ff" d="M0 30h1v1h-1z"/><path fill="#00ffff" d="M0 31h1v1h-1z"/><path fill="#00ffe7" d="M0 32h1v1h-1z"/><path fill="#00ffcf" d="M0 33h1v1h-1z"/><path fill="#00ffb7" d="M0 34h1v1h-1z"/><path fill="#00ff9f" d="M0 35h1v1h-1z"/><path fill="#00ff87" d="M0 36h1v1h-1z"/><path fill="#00ff70" d="M0 37h1v1h-1z"/><path fill="#00ff58" d="M0 38h1v1h-1z"/><path fill="#00ff40" d="M0 39h1v1h-1z"/><path fill="#00ff28" d="M0 40h1v1h-1z"/><path fill="#00ff10" d="M0 41h1v1h-1z"/><path fill="#08ff00" d="M0 42h1v1h-1z"/><path fill="#20ff00" d="M0 43h1v1h-1z"/><path fill="#38ff00" d="M0 44h1v1h-1z"/><path fill="#50ff00" d="M0 45h1v1h-1z"/><path fill="#68ff00" d="M0 46h1v1h-1z"/><path fill="#80ff00" d="M0 47h1v1h-1z"/><path fill="#97ff00" d="M0 48h1v1h-1z"/><path fill="#afff00" d="M0 49h1v1h-1z"/><path fill="#c7ff00" d="M0 50h1v1h-1z"/><path fill="#dfff00" d="M0 51h1v1h-1z"/><path fill="#f7ff00" d="M0 52h1v1h-1z"/><path fill="#ffef00" d="M0 53h1v1h-1z"/><path fill="#ffd700" d="M0 54h1v1h-1z"/><path fill="#ffbf00" d="M0 55h1v1h-1z"/><path fill="#ffa700" d="M0 56h1v1h-1z"/><path fill="#ff8f00" d="M0 57h1v1h-1z"/><path fill="#ff7800" d="M0 58h1v1h-1z"/><path fill="#ff6000" d="M0 59h1v1h-1z"/><path fill="#ff4800" d="M0 60h1v1h-1z"/><path fill="#ff3000" d="M0 61h1v1h-1z"/><path fill="#ff1800" d="M0 62h1v1h-1z"/><path fill="#ff0000" d="M0 63h1v1h-1z"/></g><rect x="333.90" y="377.70" width="11.10" height="289.70" fill="none" stroke="#606060" stroke-width="0.8"/><text font-size="20.7" text-anchor="start" transform="translate(352.0 386.6) scale(1.0 1.1)">360</text><text font-size="20.7" text-anchor="start" transform="translate(352.0 674.6) scale(1.0 1.1)">0</text><g transform="translate(471.40 380.00) scale(4.93036 4.91724)" shape-rendering="crispEdges"><path fill="#8c0000" d="M0 0h1v1h-1zM23 0h2v1h-2zM26 0h2v1h-2zM29 0h2v1h-2zM36 0h1v1h-1zM40 0h1v1h-1zM43 0h1v1h-1zM4 1h1v1h-1zM17 1h1v1h-1zM21 1h1v1h-1zM30 1h1v1h-1zM37 1h1v1h-1zM41 1h1v1h-1zM44 1h1v1h-1zM3 2h1v1h-1zM8 2h1v1h-1zM21 2h1v1h-1zM29 2h2v1h-2zM32 2h2v1h-2zM38 2h1v1h-1zM45 2h1v1h-1zM7 3h1v1h-1zM11 3h1v1h-1zM31 3h1v1h-1zM44 3h2v1h-2zM14 4h1v1h-1zM21 4h2v1h-2zM42 4h1v1h-1zM17 5h2v1h-2zM43 5h1v1h-1zM48 5h1v1h-1zM16 6h1v1h-1zM16 7h1v1h-1zM38 7h1v1h-1zM40 7h1v1h-1zM50 7h1v1h-1zM13 8h1v1h-1zM40 8h1v1h-1zM46 8h1v1h-1zM49 8h1v1h-1zM51 8h1v1h-1zM5 9h2v1h-2zM13 9h1v1h-1zM48 9h2v1h-2zM52 9h1v1h-1zM6 10h1v1h-1zM12 10h1v1h-1zM49 10h1v1h-1zM1 11h2v1h-2zM1 12h1v1h-1zM49 12h1v1h-1zM0 13h1v1h-1zM4 13h1v1h-1zM0 14h1v1h-1zM7 14h1v1h-1zM6 15h1v1h-1zM2 17h1v1h-1zM5 17h1v1h-1zM55 17h1v1h-1zM49 18h1v1h-1zM52 18h1v1h-1zM1 19h1v1h-1zM52 19h1v1h-1zM3 20h1v1h-1zM5 20h1v1h-1zM52 20h1v1h-1zM2 21h2v1h-2zM51 21h1v1h-1zM3 22h1v1h-1zM51 22h1v1h-1zM1 23h1v1h-1zM3 23h1v1h-1zM1 24h1v1h-1zM3 24h1v1h-1zM1 25h1v1h-1zM28 26h1v1h-1zM51 26h1v1h-1zM1 30h2v1h-2zM3 31h1v1h-1zM51 31h3v1h-3zM51 32h3v1h-3zM1 33h1v1h-1zM53 37h1v1h-1zM55 38h1v1h-1zM3 42h1v1h-1zM51 43h1v1h-1zM4 46h1v1h-1zM1 47h1v1h-1zM6 47h1v1h-1zM2 48h1v1h-1zM48 48h1v1h-1zM40 49h1v1h-1zM43 49h1v1h-1zM51 49h1v1h-1zM7 50h1v1h-1zM14 50h1v1h-1zM41 50h1v1h-1zM45 50h1v1h-1zM9 51h1v1h-1zM11 51h2v1h-2zM13 52h1v1h-1zM37 52h2v1h-2zM55 52h1v1h-1zM8 53h1v1h-1zM39 53h3v1h-3zM54 53h1v1h-1zM37 54h2v1h-2zM20 55h1v1h-1zM22 55h1v1h-1zM34 55h1v1h-1zM41 55h1v1h-1zM12 56h3v1h-3zM23 56h2v1h-2zM27 56h1v1h-1zM43 56h1v1h-1zM16 57h1v1h-1zM23 57h2v1h-2zM27 57h3v1h-3z"/><path fill="#560000" d="M1 0h1v1h-1zM3 0h1v1h-1zM47 0h1v1h-1zM52 0h1v1h-1zM54 0h2v1h-2zM2 1h1v1h-1zM46 1h1v1h-1zM50 1h1v1h-1zM53 1h2v1h-2zM0 2h1v1h-1zM15 2h1v1h-1zM4 3h2v1h-2zM5 4h1v1h-1zM12 4h1v1h-1zM48 4h1v1h-1zM53 4h3v1h-3zM0 5h2v1h-2zM45 5h1v1h-1zM53 5h1v1h-1zM54 7h1v1h-1zM55 8h1v1h-1zM53 9h1v1h-1zM55 12h1v1h-1zM2 14h1v1h-1zM53 19h1v1h-1zM53 20h1v1h-1zM55 25h1v1h-1zM0 34h1v1h-1zM54 35h1v1h-1zM54 36h1v1h-1zM0 39h1v1h-1zM0 40h2v1h-2zM0 41h1v1h-1zM0 42h1v1h-1zM2 42h1v1h-1zM2 43h1v1h-1zM53 43h1v1h-1zM1 44h1v1h-1zM2 46h1v1h-1zM50 47h1v1h-1zM5 48h1v1h-1zM0 49h1v1h-1zM5 49h1v1h-1zM1 50h1v1h-1zM0 51h1v1h-1zM54 51h1v1h-1zM3 52h1v1h-1zM53 52h1v1h-1zM10 54h1v1h-1zM49 54h1v1h-1zM1 55h1v1h-1zM48 55h4v1h-4zM1 56h1v1h-1zM45 56h1v1h-1zM51 56h1v1h-1zM1 57h1v1h-1zM10 57h1v1h-1z"/><path fill="#2b0000" d="M2 0h1v1h-1zM51 2h1v1h-1zM26 27h1v1h-1zM26 29h1v1h-1zM2 53h1v1h-1zM0 54h1v1h-1zM47 56h2v1h-2z"/><path fill="#820000" d="M4 0h1v1h-1zM12 0h1v1h-1zM15 0h1v1h-1zM19 0h1v1h-1zM22 0h1v1h-1zM28 0h1v1h-1zM5 1h1v1h-1zM14 1h1v1h-1zM22 1h2v1h-2zM25 1h2v1h-2zM29 1h1v1h-1zM2 2h1v1h-1zM4 2h1v1h-1zM9 2h1v1h-1zM13 2h1v1h-1zM31 2h1v1h-1zM42 2h1v1h-1zM2 3h1v1h-1zM15 3h1v1h-1zM21 3h1v1h-1zM25 3h2v1h-2zM32 3h1v1h-1zM40 3h2v1h-2zM43 3h1v1h-1zM46 3h1v1h-1zM45 4h2v1h-2zM11 5h2v1h-2zM38 5h1v1h-1zM17 6h1v1h-1zM39 6h1v1h-1zM44 6h1v1h-1zM14 7h2v1h-2zM39 7h1v1h-1zM47 7h1v1h-1zM41 8h1v1h-1zM47 8h2v1h-2zM2 9h1v1h-1zM2 10h2v1h-2zM49 11h2v1h-2zM53 11h1v1h-1zM0 12h1v1h-1zM2 12h1v1h-1zM52 12h2v1h-2zM6 14h1v1h-1zM51 14h1v1h-1zM2 16h1v1h-1zM52 16h1v1h-1zM6 17h1v1h-1zM52 17h1v1h-1zM5 18h2v1h-2zM55 18h1v1h-1zM4 19h2v1h-2zM0 20h1v1h-1zM1 21h1v1h-1zM53 21h1v1h-1zM1 22h2v1h-2zM54 24h1v1h-1zM3 25h1v1h-1zM1 26h1v1h-1zM3 26h1v1h-1zM3 27h1v1h-1zM29 27h1v1h-1zM55 27h1v1h-1zM3 28h1v1h-1zM55 28h1v1h-1zM1 29h2v1h-2zM25 29h1v1h-1zM29 29h1v1h-1zM0 31h1v1h-1zM1 34h1v1h-1zM51 34h1v1h-1zM53 35h1v1h-1zM53 36h1v1h-1zM1 37h1v1h-1zM55 37h1v1h-1zM53 38h1v1h-1zM2 40h1v1h-1zM55 40h1v1h-1zM55 41h1v1h-1zM52 42h1v1h-1zM55 42h1v1h-1zM0 45h1v1h-1zM6 45h1v1h-1zM53 45h2v1h-2zM0 46h1v1h-1zM5 46h2v1h-2zM53 46h1v1h-1zM2 47h1v1h-1zM1 48h1v1h-1zM2 49h1v1h-1zM48 49h3v1h-3zM6 50h1v1h-1zM39 50h2v1h-2zM46 50h1v1h-1zM50 50h2v1h-2zM7 51h1v1h-1zM37 51h2v1h-2zM55 51h1v1h-1zM39 52h1v1h-1zM44 52h1v1h-1zM5 53h1v1h-1zM42 53h1v1h-1zM53 53h1v1h-1zM55 53h1v1h-1zM41 54h1v1h-1zM53 54h2v1h-2zM6 55h3v1h-3zM15 55h2v1h-2zM19 55h1v1h-1zM21 55h1v1h-1zM42 55h1v1h-1zM11 56h1v1h-1zM15 56h2v1h-2zM22 56h1v1h-1zM25 56h2v1h-2zM28 56h3v1h-3zM53 56h1v1h-1zM4 57h1v1h-1zM19 57h1v1h-1zM25 57h2v1h-2zM30 57h1v1h-1zM34 57h1v1h-1zM53 57h1v1h-1z"/><path fill="#770000" d="M5 0h2v1h-2zM10 0h2v1h-2zM20 0h2v1h-2zM37 0h1v1h-1zM39 0h1v1h-1zM3 1h1v1h-1zM10 1h1v1h-1zM24 1h1v1h-1zM27 1h2v1h-2zM38 1h1v1h-1zM5 2h1v1h-1zM7 2h1v1h-1zM10 2h1v1h-1zM22 2h1v1h-1zM26 2h3v1h-3zM12 3h1v1h-1zM23 3h2v1h-2zM34 3h1v1h-1zM42 3h1v1h-1zM2 4h1v1h-1zM6 4h1v1h-1zM11 4h1v1h-1zM33 4h2v1h-2zM43 4h2v1h-2zM47 4h1v1h-1zM5 5h1v1h-1zM37 5h1v1h-1zM46 5h1v1h-1zM3 7h1v1h-1zM45 7h1v1h-1zM0 8h1v1h-1zM14 8h1v1h-1zM1 10h1v1h-1zM4 10h2v1h-2zM3 11h2v1h-2zM4 12h1v1h-1zM50 12h2v1h-2zM54 12h1v1h-1zM1 13h1v1h-1zM51 13h1v1h-1zM54 13h1v1h-1zM3 14h1v1h-1zM54 14h2v1h-2zM0 15h1v1h-1zM54 15h1v1h-1zM1 18h1v1h-1zM0 19h1v1h-1zM55 19h1v1h-1zM4 20h1v1h-1zM54 23h1v1h-1zM0 25h1v1h-1zM2 25h1v1h-1zM0 26h1v1h-1zM1 27h2v1h-2zM25 27h1v1h-1zM1 28h2v1h-2zM55 29h1v1h-1zM26 30h1v1h-1zM0 32h1v1h-1zM51 33h1v1h-1zM54 33h1v1h-1zM1 35h1v1h-1zM1 36h1v1h-1zM1 38h1v1h-1zM55 39h1v1h-1zM3 43h1v1h-1zM51 44h1v1h-1zM54 44h1v1h-1zM1 46h1v1h-1zM50 46h1v1h-1zM52 46h1v1h-1zM54 46h1v1h-1zM3 47h3v1h-3zM3 48h1v1h-1zM6 48h1v1h-1zM51 48h2v1h-2zM6 49h1v1h-1zM52 49h1v1h-1zM3 50h3v1h-3zM47 50h1v1h-1zM49 50h1v1h-1zM3 51h1v1h-1zM39 51h1v1h-1zM45 51h1v1h-1zM4 52h1v1h-1zM54 52h1v1h-1zM13 53h1v1h-1zM43 53h1v1h-1zM9 54h1v1h-1zM14 54h1v1h-1zM39 54h2v1h-2zM42 54h1v1h-1zM45 54h3v1h-3zM55 54h1v1h-1zM9 55h1v1h-1zM11 55h2v1h-2zM35 55h1v1h-1zM53 55h3v1h-3zM8 56h1v1h-1zM17 56h1v1h-1zM21 56h1v1h-1zM31 56h6v1h-6zM40 56h1v1h-1zM44 56h1v1h-1zM54 56h1v1h-1zM8 57h1v1h-1zM20 57h1v1h-1zM33 57h1v1h-1zM54 57h1v1h-1z"/><path fill="#6c0000" d="M7 0h1v1h-1zM9 0h1v1h-1zM16 0h1v1h-1zM38 0h1v1h-1zM44 0h1v1h-1zM50 0h2v1h-2zM0 1h1v1h-1zM6 1h4v1h-4zM40 1h1v1h-1zM45 1h1v1h-1zM1 2h1v1h-1zM6 2h1v1h-1zM25 2h1v1h-1zM39 2h1v1h-1zM41 2h1v1h-1zM46 2h1v1h-1zM53 2h1v1h-1zM1 3h1v1h-1zM3 3h1v1h-1zM6 3h1v1h-1zM13 3h2v1h-2zM22 3h1v1h-1zM33 3h1v1h-1zM13 4h1v1h-1zM51 4h1v1h-1zM44 5h1v1h-1zM49 5h1v1h-1zM37 6h1v1h-1zM50 6h1v1h-1zM0 7h1v1h-1zM46 7h1v1h-1zM2 8h1v1h-1zM52 8h1v1h-1zM1 9h1v1h-1zM53 10h1v1h-1zM0 11h1v1h-1zM3 12h1v1h-1zM52 13h2v1h-2zM55 13h1v1h-1zM1 14h1v1h-1zM2 15h1v1h-1zM52 15h1v1h-1zM0 16h2v1h-2zM54 16h1v1h-1zM1 17h1v1h-1zM55 20h1v1h-1zM0 21h1v1h-1zM54 22h1v1h-1zM2 26h1v1h-1zM27 26h1v1h-1zM0 29h1v1h-1zM0 30h1v1h-1zM55 30h1v1h-1zM54 31h1v1h-1zM54 34h1v1h-1zM0 37h1v1h-1zM54 37h1v1h-1zM54 38h1v1h-1zM1 39h1v1h-1zM2 41h1v1h-1zM54 41h1v1h-1zM54 42h1v1h-1zM54 43h2v1h-2zM0 44h1v1h-1zM3 44h1v1h-1zM53 44h1v1h-1zM51 45h2v1h-2zM0 47h1v1h-1zM49 47h1v1h-1zM52 47h2v1h-2zM49 48h2v1h-2zM1 49h1v1h-1zM3 49h1v1h-1zM41 49h2v1h-2zM2 50h1v1h-1zM48 50h1v1h-1zM8 51h1v1h-1zM50 51h1v1h-1zM8 52h1v1h-1zM12 52h1v1h-1zM48 52h2v1h-2zM44 53h6v1h-6zM5 54h1v1h-1zM2 55h1v1h-1zM5 55h1v1h-1zM10 55h1v1h-1zM13 55h2v1h-2zM17 55h2v1h-2zM36 55h1v1h-1zM40 55h1v1h-1zM45 55h3v1h-3zM52 55h1v1h-1zM3 56h2v1h-2zM7 56h1v1h-1zM9 56h2v1h-2zM18 56h3v1h-3zM37 56h3v1h-3zM52 56h1v1h-1zM55 56h1v1h-1zM3 57h1v1h-1zM5 57h1v1h-1zM12 57h1v1h-1zM44 57h1v1h-1z"/><path fill="#610000" d="M8 0h1v1h-1zM48 0h2v1h-2zM1 1h1v1h-1zM15 1h2v1h-2zM39 1h1v1h-1zM49 1h1v1h-1zM55 1h1v1h-1zM14 2h1v1h-1zM16 2h1v1h-1zM23 2h2v1h-2zM40 2h1v1h-1zM54 2h2v1h-2zM47 3h1v1h-1zM52 3h4v1h-4zM1 4h1v1h-1zM52 4h1v1h-1zM54 5h2v1h-2zM0 6h1v1h-1zM4 6h1v1h-1zM38 6h1v1h-1zM46 6h1v1h-1zM54 6h2v1h-2zM51 7h1v1h-1zM55 7h1v1h-1zM1 8h1v1h-1zM0 9h1v1h-1zM0 10h1v1h-1zM54 11h1v1h-1zM2 13h2v1h-2zM52 14h2v1h-2zM1 15h1v1h-1zM53 15h1v1h-1zM53 16h1v1h-1zM0 17h1v1h-1zM53 17h2v1h-2zM0 18h1v1h-1zM53 18h2v1h-2zM54 21h1v1h-1zM0 22h1v1h-1zM0 23h1v1h-1zM0 24h1v1h-1zM26 26h1v1h-1zM55 26h1v1h-1zM0 27h1v1h-1zM0 28h1v1h-1zM25 28h1v1h-1zM29 28h1v1h-1zM28 30h1v1h-1zM54 32h1v1h-1zM0 33h1v1h-1zM0 38h1v1h-1zM53 39h2v1h-2zM53 40h2v1h-2zM53 41h1v1h-1zM53 42h1v1h-1zM0 43h1v1h-1zM52 43h1v1h-1zM52 44h1v1h-1zM55 44h1v1h-1zM1 45h1v1h-1zM3 45h1v1h-1zM55 45h1v1h-1zM3 46h1v1h-1zM51 46h1v1h-1zM55 46h1v1h-1zM51 47h1v1h-1zM54 47h2v1h-2zM0 48h1v1h-1zM4 48h1v1h-1zM53 48h1v1h-1zM52 50h1v1h-1zM55 50h1v1h-1zM2 51h1v1h-1zM46 51h4v1h-4zM51 51h1v1h-1zM9 52h3v1h-3zM45 52h3v1h-3zM50 52h1v1h-1zM9 53h1v1h-1zM52 53h1v1h-1zM13 54h1v1h-1zM43 54h2v1h-2zM48 54h1v1h-1zM52 54h1v1h-1zM3 55h2v1h-2zM37 55h3v1h-3zM43 55h2v1h-2zM2 56h1v1h-1zM5 56h2v1h-2zM0 57h1v1h-1zM7 57h1v1h-1zM9 57h1v1h-1zM11 57h1v1h-1zM31 57h2v1h-2zM52 57h1v1h-1zM55 57h1v1h-1z"/><path fill="#970000" d="M13 0h1v1h-1zM17 0h1v1h-1zM25 0h1v1h-1zM33 0h2v1h-2zM11 1h1v1h-1zM13 1h1v1h-1zM31 1h1v1h-1zM42 1h2v1h-2zM17 2h1v1h-1zM43 2h2v1h-2zM16 3h1v1h-1zM27 3h1v1h-1zM30 3h1v1h-1zM39 3h1v1h-1zM18 4h1v1h-1zM32 4h1v1h-1zM10 5h1v1h-1zM13 5h1v1h-1zM16 5h1v1h-1zM39 5h1v1h-1zM47 5h1v1h-1zM14 6h2v1h-2zM18 6h1v1h-1zM40 6h1v1h-1zM47 6h1v1h-1zM49 6h1v1h-1zM17 7h1v1h-1zM41 7h1v1h-1zM44 7h1v1h-1zM48 7h2v1h-2zM15 8h1v1h-1zM42 8h1v1h-1zM50 8h1v1h-1zM3 9h1v1h-1zM12 9h1v1h-1zM14 9h1v1h-1zM41 9h2v1h-2zM5 11h1v1h-1zM51 11h2v1h-2zM8 13h1v1h-1zM50 13h1v1h-1zM4 14h2v1h-2zM3 15h1v1h-1zM51 15h1v1h-1zM55 15h1v1h-1zM6 16h1v1h-1zM55 16h1v1h-1zM2 18h1v1h-1zM50 18h2v1h-2zM50 19h2v1h-2zM1 20h1v1h-1zM51 20h1v1h-1zM52 21h1v1h-1zM45 22h2v1h-2zM52 22h2v1h-2zM2 23h1v1h-1zM51 23h1v1h-1zM53 23h1v1h-1zM2 24h1v1h-1zM51 24h2v1h-2zM51 25h1v1h-1zM54 25h1v1h-1zM51 27h2v1h-2zM51 28h2v1h-2zM54 28h1v1h-1zM3 29h1v1h-1zM51 29h1v1h-1zM51 30h2v1h-2zM54 30h1v1h-1zM1 31h2v1h-2zM1 32h3v1h-3zM2 33h1v1h-1zM50 33h1v1h-1zM52 33h1v1h-1zM50 34h1v1h-1zM52 34h1v1h-1zM2 39h1v1h-1zM52 39h1v1h-1zM52 40h1v1h-1zM52 41h1v1h-1zM4 43h1v1h-1zM4 44h1v1h-1zM5 45h1v1h-1zM7 45h1v1h-1zM50 45h1v1h-1zM10 47h1v1h-1zM48 47h1v1h-1zM13 49h2v1h-2zM44 49h2v1h-2zM47 49h1v1h-1zM13 50h1v1h-1zM15 50h1v1h-1zM42 50h1v1h-1zM4 51h1v1h-1zM13 51h1v1h-1zM20 51h1v1h-1zM40 51h1v1h-1zM44 51h1v1h-1zM7 52h1v1h-1zM34 52h3v1h-3zM43 52h1v1h-1zM32 53h5v1h-5zM6 54h3v1h-3zM15 54h1v1h-1zM35 54h2v1h-2zM29 55h1v1h-1zM33 55h1v1h-1zM41 56h2v1h-2zM13 57h1v1h-1zM15 57h1v1h-1zM17 57h2v1h-2zM21 57h1v1h-1zM35 57h9v1h-9z"/><path fill="#a20000" d="M14 0h1v1h-1zM31 0h2v1h-2zM35 0h1v1h-1zM12 1h1v1h-1zM19 1h2v1h-2zM32 1h2v1h-2zM11 2h1v1h-1zM34 2h1v1h-1zM10 3h1v1h-1zM28 3h2v1h-2zM15 4h1v1h-1zM17 4h1v1h-1zM25 4h1v1h-1zM35 4h3v1h-3zM41 4h1v1h-1zM6 5h1v1h-1zM14 5h2v1h-2zM36 5h1v1h-1zM42 5h1v1h-1zM5 6h1v1h-1zM9 6h2v1h-2zM41 6h1v1h-1zM48 6h1v1h-1zM4 7h1v1h-1zM13 7h1v1h-1zM3 8h1v1h-1zM6 8h1v1h-1zM39 8h1v1h-1zM43 8h1v1h-1zM4 9h1v1h-1zM50 9h1v1h-1zM11 10h1v1h-1zM13 10h1v1h-1zM42 10h1v1h-1zM50 10h1v1h-1zM52 10h1v1h-1zM11 11h1v1h-1zM43 11h2v1h-2zM5 13h3v1h-3zM9 13h1v1h-1zM8 14h1v1h-1zM46 14h2v1h-2zM5 15h1v1h-1zM7 15h1v1h-1zM5 16h1v1h-1zM48 17h2v1h-2zM51 17h1v1h-1zM48 18h1v1h-1zM2 19h2v1h-2zM6 19h1v1h-1zM49 19h1v1h-1zM2 20h1v1h-1zM50 20h1v1h-1zM4 21h1v1h-1zM45 21h1v1h-1zM50 21h1v1h-1zM4 23h1v1h-1zM52 23h1v1h-1zM4 24h1v1h-1zM53 24h1v1h-1zM52 25h1v1h-1zM25 26h1v1h-1zM52 26h1v1h-1zM54 26h1v1h-1zM53 27h2v1h-2zM53 28h1v1h-1zM52 29h1v1h-1zM54 29h1v1h-1zM3 30h1v1h-1zM3 33h1v1h-1zM2 34h1v1h-1zM53 34h1v1h-1zM2 35h1v1h-1zM2 38h1v1h-1zM5 39h2v1h-2zM6 40h1v1h-1zM3 41h1v1h-1zM46 43h2v1h-2zM6 44h1v1h-1zM46 44h2v1h-2zM50 44h1v1h-1zM8 45h1v1h-1zM46 45h1v1h-1zM7 46h1v1h-1zM49 46h1v1h-1zM42 48h1v1h-1zM7 49h1v1h-1zM15 49h1v1h-1zM46 49h1v1h-1zM8 50h1v1h-1zM12 50h1v1h-1zM16 50h1v1h-1zM38 50h1v1h-1zM43 50h2v1h-2zM10 51h1v1h-1zM14 51h3v1h-3zM19 51h1v1h-1zM36 51h1v1h-1zM5 52h1v1h-1zM20 52h1v1h-1zM23 52h2v1h-2zM33 52h1v1h-1zM40 52h1v1h-1zM6 53h2v1h-2zM14 53h1v1h-1zM31 53h1v1h-1zM37 53h2v1h-2zM34 54h1v1h-1zM27 55h2v1h-2zM30 55h1v1h-1zM14 57h1v1h-1zM22 57h1v1h-1z"/><path fill="#ad0000" d="M18 0h1v1h-1zM41 0h2v1h-2zM18 1h1v1h-1zM34 1h1v1h-1zM12 2h1v1h-1zM18 2h1v1h-1zM20 2h1v1h-1zM37 2h1v1h-1zM9 3h1v1h-1zM17 3h2v1h-2zM20 3h1v1h-1zM35 3h1v1h-1zM38 3h1v1h-1zM7 4h1v1h-1zM10 4h1v1h-1zM16 4h1v1h-1zM23 4h1v1h-1zM26 4h1v1h-1zM31 4h1v1h-1zM38 4h1v1h-1zM40 4h1v1h-1zM9 5h1v1h-1zM19 5h1v1h-1zM40 5h2v1h-2zM11 6h1v1h-1zM13 6h1v1h-1zM42 6h2v1h-2zM6 7h1v1h-1zM37 7h1v1h-1zM42 7h2v1h-2zM7 8h1v1h-1zM16 8h1v1h-1zM44 8h2v1h-2zM7 9h1v1h-1zM40 9h1v1h-1zM43 9h1v1h-1zM46 9h2v1h-2zM41 10h1v1h-1zM43 10h1v1h-1zM48 10h1v1h-1zM12 11h1v1h-1zM48 11h1v1h-1zM5 12h1v1h-1zM8 12h2v1h-2zM43 12h2v1h-2zM45 13h2v1h-2zM9 14h1v1h-1zM47 15h1v1h-1zM3 16h1v1h-1zM51 16h1v1h-1zM50 17h1v1h-1zM4 18h1v1h-1zM5 21h1v1h-1zM46 21h1v1h-1zM4 22h1v1h-1zM50 22h1v1h-1zM46 23h1v1h-1zM50 25h1v1h-1zM50 26h1v1h-1zM50 27h1v1h-1zM53 30h1v1h-1zM4 31h1v1h-1zM4 32h1v1h-1zM50 32h1v1h-1zM53 33h1v1h-1zM3 34h1v1h-1zM9 35h1v1h-1zM50 35h3v1h-3zM2 36h1v1h-1zM52 36h1v1h-1zM2 37h1v1h-1zM52 38h1v1h-1zM49 39h1v1h-1zM5 40h1v1h-1zM43 40h1v1h-1zM4 42h1v1h-1zM48 43h1v1h-1zM5 44h1v1h-1zM7 44h1v1h-1zM4 45h1v1h-1zM47 45h1v1h-1zM8 46h1v1h-1zM45 46h2v1h-2zM9 47h1v1h-1zM45 47h1v1h-1zM7 48h1v1h-1zM10 48h2v1h-2zM13 48h1v1h-1zM41 48h1v1h-1zM43 48h3v1h-3zM47 48h1v1h-1zM12 49h1v1h-1zM39 49h1v1h-1zM37 50h1v1h-1zM5 51h2v1h-2zM21 51h1v1h-1zM23 51h2v1h-2zM43 51h1v1h-1zM14 52h1v1h-1zM19 52h1v1h-1zM29 52h4v1h-4zM27 53h2v1h-2zM16 54h4v1h-4zM33 54h1v1h-1zM23 55h1v1h-1zM25 55h2v1h-2zM32 55h1v1h-1z"/><path fill="#4c0000" d="M45 0h2v1h-2zM53 0h1v1h-1zM48 1h1v1h-1zM51 1h2v1h-2zM47 2h1v1h-1zM49 2h1v1h-1zM52 2h1v1h-1zM0 3h1v1h-1zM51 3h1v1h-1zM0 4h1v1h-1zM3 4h1v1h-1zM2 5h1v1h-1zM4 5h1v1h-1zM50 5h1v1h-1zM52 5h1v1h-1zM53 6h1v1h-1zM1 7h2v1h-2zM52 7h2v1h-2zM53 8h2v1h-2zM54 10h1v1h-1zM55 11h1v1h-1zM54 19h1v1h-1zM54 20h1v1h-1zM55 21h1v1h-1zM55 24h1v1h-1zM27 30h1v1h-1zM55 33h1v1h-1zM55 34h1v1h-1zM0 36h1v1h-1zM55 36h1v1h-1zM1 43h1v1h-1zM2 44h1v1h-1zM54 48h2v1h-2zM4 49h1v1h-1zM53 49h1v1h-1zM0 50h1v1h-1zM1 51h1v1h-1zM52 51h1v1h-1zM51 52h2v1h-2zM12 53h1v1h-1zM50 53h1v1h-1zM2 54h1v1h-1zM4 54h1v1h-1zM11 54h2v1h-2zM50 54h1v1h-1zM0 56h1v1h-1zM50 56h1v1h-1zM2 57h1v1h-1zM6 57h1v1h-1zM50 57h2v1h-2z"/><path fill="#c20000" d="M35 1h1v1h-1zM35 2h2v1h-2zM8 4h2v1h-2zM29 4h1v1h-1zM7 5h2v1h-2zM20 5h1v1h-1zM22 5h1v1h-1zM25 5h2v1h-2zM33 5h1v1h-1zM7 6h1v1h-1zM19 6h1v1h-1zM26 6h1v1h-1zM29 6h1v1h-1zM12 7h1v1h-1zM23 7h3v1h-3zM31 7h1v1h-1zM12 8h1v1h-1zM17 8h1v1h-1zM23 8h1v1h-1zM31 8h2v1h-2zM38 8h1v1h-1zM21 9h1v1h-1zM46 10h1v1h-1zM6 11h1v1h-1zM8 11h2v1h-2zM45 11h1v1h-1zM7 12h1v1h-1zM10 12h2v1h-2zM45 12h1v1h-1zM39 13h1v1h-1zM41 14h1v1h-1zM50 14h1v1h-1zM48 15h1v1h-1zM7 16h1v1h-1zM7 17h1v1h-1zM47 17h1v1h-1zM43 18h2v1h-2zM48 20h1v1h-1zM5 22h1v1h-1zM47 22h1v1h-1zM45 23h1v1h-1zM26 25h1v1h-1zM47 25h1v1h-1zM4 26h1v1h-1zM29 26h1v1h-1zM47 26h1v1h-1zM4 28h1v1h-1zM24 28h1v1h-1zM50 29h1v1h-1zM50 30h1v1h-1zM27 31h1v1h-1zM4 33h1v1h-1zM3 35h1v1h-1zM8 35h1v1h-1zM3 36h1v1h-1zM3 37h1v1h-1zM45 37h1v1h-1zM3 38h1v1h-1zM49 38h3v1h-3zM3 39h2v1h-2zM4 40h1v1h-1zM50 40h2v1h-2zM42 41h1v1h-1zM49 41h1v1h-1zM7 42h1v1h-1zM48 42h1v1h-1zM51 42h1v1h-1zM12 43h1v1h-1zM14 43h1v1h-1zM45 43h1v1h-1zM49 43h1v1h-1zM13 44h1v1h-1zM40 44h1v1h-1zM45 44h1v1h-1zM49 44h1v1h-1zM15 45h1v1h-1zM45 45h1v1h-1zM48 45h2v1h-2zM8 47h1v1h-1zM33 47h1v1h-1zM44 47h1v1h-1zM9 48h1v1h-1zM11 49h1v1h-1zM10 50h1v1h-1zM17 50h1v1h-1zM36 50h1v1h-1zM29 51h2v1h-2zM33 51h1v1h-1zM15 52h1v1h-1zM25 52h2v1h-2zM41 52h1v1h-1zM20 53h1v1h-1zM22 54h2v1h-2zM29 54h2v1h-2z"/><path fill="#b70000" d="M36 1h1v1h-1zM19 2h1v1h-1zM8 3h1v1h-1zM19 3h1v1h-1zM36 3h2v1h-2zM19 4h2v1h-2zM24 4h1v1h-1zM30 4h1v1h-1zM39 4h1v1h-1zM21 5h1v1h-1zM34 5h2v1h-2zM6 6h1v1h-1zM8 6h1v1h-1zM12 6h1v1h-1zM36 6h1v1h-1zM5 7h1v1h-1zM7 7h4v1h-4zM18 7h1v1h-1zM29 7h2v1h-2zM4 8h2v1h-2zM11 9h1v1h-1zM44 9h2v1h-2zM51 9h1v1h-1zM7 10h1v1h-1zM44 10h2v1h-2zM51 10h1v1h-1zM10 11h1v1h-1zM42 11h1v1h-1zM39 12h1v1h-1zM48 12h1v1h-1zM10 13h1v1h-1zM44 13h1v1h-1zM47 13h1v1h-1zM45 14h1v1h-1zM4 15h1v1h-1zM46 15h1v1h-1zM4 16h1v1h-1zM47 16h2v1h-2zM3 17h2v1h-2zM3 18h1v1h-1zM48 19h1v1h-1zM6 20h1v1h-1zM49 20h1v1h-1zM47 23h1v1h-1zM50 23h1v1h-1zM46 24h2v1h-2zM50 24h1v1h-1zM4 25h1v1h-1zM53 25h1v1h-1zM53 26h1v1h-1zM4 27h1v1h-1zM50 28h1v1h-1zM53 29h1v1h-1zM25 30h1v1h-1zM29 30h1v1h-1zM50 31h1v1h-1zM9 36h1v1h-1zM50 36h2v1h-2zM50 37h3v1h-3zM43 39h2v1h-2zM50 39h2v1h-2zM3 40h1v1h-1zM44 40h1v1h-1zM49 40h1v1h-1zM4 41h3v1h-3zM43 41h1v1h-1zM5 42h2v1h-2zM5 43h3v1h-3zM13 43h1v1h-1zM50 43h1v1h-1zM8 44h1v1h-1zM14 44h1v1h-1zM48 44h1v1h-1zM9 46h1v1h-1zM47 46h2v1h-2zM7 47h1v1h-1zM11 47h1v1h-1zM46 47h2v1h-2zM12 48h1v1h-1zM14 48h1v1h-1zM46 48h1v1h-1zM16 49h1v1h-1zM9 50h1v1h-1zM11 50h1v1h-1zM17 51h2v1h-2zM22 51h1v1h-1zM34 51h2v1h-2zM6 52h1v1h-1zM21 52h2v1h-2zM27 52h2v1h-2zM42 52h1v1h-1zM23 53h2v1h-2zM29 53h2v1h-2zM20 54h2v1h-2zM27 54h2v1h-2zM31 54h2v1h-2zM24 55h1v1h-1zM31 55h1v1h-1z"/><path fill="#410000" d="M47 1h1v1h-1zM48 2h1v1h-1zM50 2h1v1h-1zM48 3h1v1h-1zM50 3h1v1h-1zM50 4h1v1h-1zM3 5h1v1h-1zM51 5h1v1h-1zM1 6h1v1h-1zM3 6h1v1h-1zM45 6h1v1h-1zM54 9h2v1h-2zM55 22h1v1h-1zM55 23h1v1h-1zM55 31h1v1h-1zM0 35h1v1h-1zM1 41h1v1h-1zM1 42h1v1h-1zM2 45h1v1h-1zM55 49h1v1h-1zM53 50h2v1h-2zM2 52h1v1h-1zM4 53h1v1h-1zM10 53h2v1h-2zM51 53h1v1h-1zM1 54h1v1h-1zM3 54h1v1h-1zM51 54h1v1h-1zM0 55h1v1h-1zM46 56h1v1h-1zM49 56h1v1h-1zM49 57h1v1h-1z"/><path fill="#360000" d="M49 3h1v1h-1zM4 4h1v1h-1zM49 4h1v1h-1zM2 6h1v1h-1zM51 6h2v1h-2zM55 10h1v1h-1zM28 27h1v1h-1zM55 32h1v1h-1zM55 35h1v1h-1zM54 49h1v1h-1zM53 51h1v1h-1zM0 52h2v1h-2zM3 53h1v1h-1zM45 57h1v1h-1z"/><path fill="#cd0000" d="M27 4h1v1h-1zM22 6h1v1h-1zM25 6h1v1h-1zM27 6h2v1h-2zM30 6h1v1h-1zM11 7h1v1h-1zM22 7h1v1h-1zM26 7h1v1h-1zM28 7h1v1h-1zM8 8h4v1h-4zM18 8h1v1h-1zM21 8h2v1h-2zM30 8h1v1h-1zM33 8h1v1h-1zM8 9h1v1h-1zM15 9h1v1h-1zM22 9h1v1h-1zM39 9h1v1h-1zM8 10h1v1h-1zM10 10h1v1h-1zM14 10h1v1h-1zM40 10h1v1h-1zM47 10h1v1h-1zM7 11h1v1h-1zM13 11h1v1h-1zM36 11h1v1h-1zM39 11h1v1h-1zM46 11h2v1h-2zM38 12h1v1h-1zM40 12h1v1h-1zM46 12h2v1h-2zM40 13h1v1h-1zM43 13h1v1h-1zM48 13h2v1h-2zM10 14h1v1h-1zM40 14h1v1h-1zM44 14h1v1h-1zM48 14h1v1h-1zM8 15h1v1h-1zM40 15h2v1h-2zM45 15h1v1h-1zM50 15h1v1h-1zM46 16h1v1h-1zM49 16h2v1h-2zM43 17h1v1h-1zM7 18h1v1h-1zM47 18h1v1h-1zM47 19h1v1h-1zM45 20h1v1h-1zM47 20h1v1h-1zM6 21h1v1h-1zM44 21h1v1h-1zM47 21h1v1h-1zM49 21h1v1h-1zM27 25h1v1h-1zM46 25h1v1h-1zM47 27h1v1h-1zM30 28h1v1h-1zM47 28h1v1h-1zM26 31h1v1h-1zM28 31h1v1h-1zM49 33h1v1h-1zM4 34h1v1h-1zM49 34h1v1h-1zM8 36h1v1h-1zM49 36h1v1h-1zM4 37h1v1h-1zM49 37h1v1h-1zM4 38h2v1h-2zM44 38h2v1h-2zM48 39h1v1h-1zM48 40h1v1h-1zM7 41h1v1h-1zM48 41h1v1h-1zM42 42h2v1h-2zM47 42h1v1h-1zM49 42h1v1h-1zM33 43h1v1h-1zM9 45h1v1h-1zM16 45h1v1h-1zM44 46h1v1h-1zM12 47h1v1h-1zM32 47h1v1h-1zM34 47h1v1h-1zM8 48h1v1h-1zM8 49h1v1h-1zM10 49h1v1h-1zM21 50h1v1h-1zM25 51h1v1h-1zM41 51h2v1h-2zM16 52h3v1h-3zM15 53h1v1h-1zM19 53h1v1h-1zM21 53h2v1h-2zM25 53h2v1h-2zM24 54h3v1h-3z"/><path fill="#d80000" d="M28 4h1v1h-1zM23 5h2v1h-2zM27 5h4v1h-4zM21 6h1v1h-1zM23 6h2v1h-2zM21 7h1v1h-1zM27 7h1v1h-1zM32 7h1v1h-1zM24 8h1v1h-1zM37 8h1v1h-1zM9 9h2v1h-2zM9 10h1v1h-1zM35 10h2v1h-2zM40 11h2v1h-2zM6 12h1v1h-1zM12 12h1v1h-1zM42 12h1v1h-1zM38 13h1v1h-1zM41 13h2v1h-2zM39 14h1v1h-1zM42 14h1v1h-1zM9 15h1v1h-1zM42 17h1v1h-1zM46 17h1v1h-1zM45 18h2v1h-2zM44 19h2v1h-2zM44 20h1v1h-1zM46 20h1v1h-1zM48 21h1v1h-1zM6 22h1v1h-1zM44 22h1v1h-1zM5 23h1v1h-1zM45 24h1v1h-1zM48 25h2v1h-2zM46 26h1v1h-1zM48 26h2v1h-2zM24 27h1v1h-1zM30 27h1v1h-1zM48 27h2v1h-2zM49 28h1v1h-1zM4 29h1v1h-1zM24 29h1v1h-1zM47 29h1v1h-1zM4 30h1v1h-1zM46 32h1v1h-1zM46 33h1v1h-1zM8 34h2v1h-2zM45 34h2v1h-2zM4 35h1v1h-1zM10 35h1v1h-1zM45 35h1v1h-1zM49 35h1v1h-1zM4 36h1v1h-1zM44 36h2v1h-2zM45 39h1v1h-1zM10 40h1v1h-1zM42 40h1v1h-1zM10 41h1v1h-1zM44 41h1v1h-1zM51 41h1v1h-1zM11 42h2v1h-2zM41 42h1v1h-1zM46 42h1v1h-1zM50 42h1v1h-1zM8 43h1v1h-1zM11 43h1v1h-1zM40 43h2v1h-2zM9 44h1v1h-1zM15 44h1v1h-1zM39 44h1v1h-1zM14 45h1v1h-1zM39 45h2v1h-2zM10 46h1v1h-1zM15 46h2v1h-2zM13 47h2v1h-2zM31 47h1v1h-1zM42 47h1v1h-1zM15 48h1v1h-1zM40 48h1v1h-1zM9 49h1v1h-1zM38 49h1v1h-1zM18 50h3v1h-3zM22 50h1v1h-1zM34 50h2v1h-2zM26 51h1v1h-1zM31 51h2v1h-2z"/><path fill="#ed0000" d="M31 5h1v1h-1zM20 7h1v1h-1zM36 7h1v1h-1zM19 8h2v1h-2zM16 9h5v1h-5zM33 9h1v1h-1zM36 9h1v1h-1zM38 9h1v1h-1zM21 10h1v1h-1zM17 11h1v1h-1zM13 12h3v1h-3zM17 12h1v1h-1zM41 12h1v1h-1zM11 13h1v1h-1zM39 15h1v1h-1zM40 16h1v1h-1zM45 16h1v1h-1zM37 17h1v1h-1zM38 18h1v1h-1zM43 19h1v1h-1zM7 20h1v1h-1zM7 21h1v1h-1zM8 23h1v1h-1zM44 23h1v1h-1zM49 23h1v1h-1zM8 24h1v1h-1zM49 24h1v1h-1zM12 27h1v1h-1zM8 28h1v1h-1zM12 28h1v1h-1zM12 29h1v1h-1zM49 29h1v1h-1zM47 31h1v1h-1zM8 32h1v1h-1zM45 32h1v1h-1zM47 32h1v1h-1zM49 32h1v1h-1zM5 33h1v1h-1zM9 33h1v1h-1zM47 33h1v1h-1zM5 34h1v1h-1zM48 34h1v1h-1zM46 35h1v1h-1zM5 36h1v1h-1zM46 36h1v1h-1zM9 37h1v1h-1zM46 37h1v1h-1zM7 39h1v1h-1zM9 39h1v1h-1zM39 39h1v1h-1zM47 40h1v1h-1zM8 41h1v1h-1zM35 41h1v1h-1zM41 41h1v1h-1zM47 41h1v1h-1zM9 42h1v1h-1zM21 42h2v1h-2zM33 42h1v1h-1zM40 42h1v1h-1zM45 42h1v1h-1zM9 43h2v1h-2zM23 43h1v1h-1zM32 43h1v1h-1zM39 43h1v1h-1zM42 43h1v1h-1zM38 44h1v1h-1zM13 45h1v1h-1zM44 45h1v1h-1zM12 46h1v1h-1zM14 46h1v1h-1zM25 46h1v1h-1zM31 46h3v1h-3zM38 46h4v1h-4zM43 46h1v1h-1zM15 47h1v1h-1zM27 47h2v1h-2zM35 47h1v1h-1zM16 48h1v1h-1zM31 48h1v1h-1zM39 48h1v1h-1zM36 49h1v1h-1zM24 50h1v1h-1zM32 50h1v1h-1z"/><path fill="#e30000" d="M32 5h1v1h-1zM20 6h1v1h-1zM35 6h1v1h-1zM19 7h1v1h-1zM33 7h1v1h-1zM25 8h1v1h-1zM29 8h1v1h-1zM34 8h1v1h-1zM34 9h2v1h-2zM39 10h1v1h-1zM14 11h1v1h-1zM35 11h1v1h-1zM37 11h2v1h-2zM16 12h1v1h-1zM36 12h2v1h-2zM15 13h2v1h-2zM43 14h1v1h-1zM49 14h1v1h-1zM10 15h1v1h-1zM42 15h1v1h-1zM49 15h1v1h-1zM41 16h2v1h-2zM44 17h2v1h-2zM42 18h1v1h-1zM7 19h1v1h-1zM46 19h1v1h-1zM48 22h2v1h-2zM48 23h1v1h-1zM5 24h1v1h-1zM48 24h1v1h-1zM28 25h1v1h-1zM46 27h1v1h-1zM46 28h1v1h-1zM48 28h1v1h-1zM30 29h1v1h-1zM46 29h1v1h-1zM46 30h2v1h-2zM46 31h1v1h-1zM8 33h1v1h-1zM45 33h1v1h-1zM44 35h1v1h-1zM10 36h1v1h-1zM5 37h1v1h-1zM44 37h1v1h-1zM6 38h1v1h-1zM39 38h1v1h-1zM48 38h1v1h-1zM10 39h1v1h-1zM7 40h1v1h-1zM11 40h1v1h-1zM45 40h1v1h-1zM11 41h1v1h-1zM36 41h1v1h-1zM50 41h1v1h-1zM8 42h1v1h-1zM10 42h1v1h-1zM13 42h1v1h-1zM34 42h2v1h-2zM44 42h1v1h-1zM34 43h1v1h-1zM12 44h1v1h-1zM41 44h1v1h-1zM38 45h1v1h-1zM41 45h1v1h-1zM11 46h1v1h-1zM29 46h2v1h-2zM29 47h2v1h-2zM41 47h1v1h-1zM43 47h1v1h-1zM32 48h3v1h-3zM37 49h1v1h-1zM23 50h1v1h-1zM33 50h1v1h-1zM27 51h2v1h-2zM16 53h3v1h-3z"/><path fill="#f80000" d="M31 6h1v1h-1zM33 6h2v1h-2zM34 7h1v1h-1zM26 8h1v1h-1zM28 8h1v1h-1zM23 9h1v1h-1zM32 9h1v1h-1zM37 9h1v1h-1zM15 10h1v1h-1zM18 10h1v1h-1zM34 10h1v1h-1zM37 10h1v1h-1zM15 11h2v1h-2zM18 11h1v1h-1zM35 12h1v1h-1zM37 13h1v1h-1zM15 14h1v1h-1zM38 14h1v1h-1zM43 15h2v1h-2zM8 16h1v1h-1zM10 16h1v1h-1zM43 16h1v1h-1zM8 17h1v1h-1zM11 17h1v1h-1zM38 17h1v1h-1zM41 17h1v1h-1zM37 18h1v1h-1zM8 20h1v1h-1zM8 21h1v1h-1zM7 22h2v1h-2zM41 22h1v1h-1zM7 23h1v1h-1zM5 25h1v1h-1zM25 25h1v1h-1zM45 25h1v1h-1zM5 27h1v1h-1zM8 27h1v1h-1zM8 29h1v1h-1zM48 29h1v1h-1zM8 30h1v1h-1zM49 30h1v1h-1zM8 31h1v1h-1zM25 31h1v1h-1zM29 31h1v1h-1zM45 31h1v1h-1zM49 31h1v1h-1zM5 32h1v1h-1zM48 33h1v1h-1zM7 34h1v1h-1zM47 34h1v1h-1zM5 35h1v1h-1zM7 35h1v1h-1zM48 35h1v1h-1zM7 36h1v1h-1zM43 36h1v1h-1zM48 36h1v1h-1zM6 37h1v1h-1zM8 37h1v1h-1zM39 37h2v1h-2zM48 37h1v1h-1zM9 38h1v1h-1zM15 38h1v1h-1zM40 38h1v1h-1zM43 38h1v1h-1zM46 38h1v1h-1zM42 39h1v1h-1zM46 39h2v1h-2zM9 40h1v1h-1zM37 40h3v1h-3zM46 40h1v1h-1zM9 41h1v1h-1zM12 41h1v1h-1zM37 41h1v1h-1zM45 41h2v1h-2zM23 42h1v1h-1zM36 42h1v1h-1zM30 43h2v1h-2zM43 43h2v1h-2zM10 44h2v1h-2zM16 44h1v1h-1zM44 44h1v1h-1zM12 45h1v1h-1zM29 45h2v1h-2zM13 46h1v1h-1zM17 46h1v1h-1zM19 46h2v1h-2zM23 46h2v1h-2zM26 46h1v1h-1zM28 46h1v1h-1zM34 46h4v1h-4zM42 46h1v1h-1zM16 47h2v1h-2zM24 47h1v1h-1zM26 47h1v1h-1zM36 47h1v1h-1zM40 47h1v1h-1zM30 48h1v1h-1zM35 48h1v1h-1zM17 49h1v1h-1zM21 49h2v1h-2zM31 49h2v1h-2zM34 49h2v1h-2zM25 50h1v1h-1zM29 50h3v1h-3z"/><path fill="#ff0400" d="M32 6h1v1h-1zM35 7h1v1h-1zM27 8h1v1h-1zM36 8h1v1h-1zM17 10h1v1h-1zM19 10h1v1h-1zM22 10h1v1h-1zM38 10h1v1h-1zM36 13h1v1h-1zM11 14h1v1h-1zM16 14h1v1h-1zM34 14h2v1h-2zM11 15h1v1h-1zM9 16h1v1h-1zM11 16h2v1h-2zM39 16h1v1h-1zM44 16h1v1h-1zM12 17h1v1h-1zM40 17h1v1h-1zM8 18h1v1h-1zM39 18h1v1h-1zM8 19h1v1h-1zM42 19h1v1h-1zM43 20h1v1h-1zM41 21h1v1h-1zM6 23h1v1h-1zM7 24h1v1h-1zM44 24h1v1h-1zM5 26h1v1h-1zM7 27h1v1h-1zM5 28h1v1h-1zM7 28h1v1h-1zM12 30h1v1h-1zM24 30h1v1h-1zM42 30h1v1h-1zM45 30h1v1h-1zM48 30h1v1h-1zM5 31h1v1h-1zM48 31h1v1h-1zM48 32h1v1h-1zM7 33h1v1h-1zM10 34h1v1h-1zM41 34h1v1h-1zM41 35h1v1h-1zM43 35h1v1h-1zM47 35h1v1h-1zM15 37h1v1h-1zM7 38h1v1h-1zM10 38h1v1h-1zM16 38h1v1h-1zM11 39h1v1h-1zM38 39h1v1h-1zM8 40h1v1h-1zM36 40h1v1h-1zM21 41h2v1h-2zM38 41h3v1h-3zM14 42h1v1h-1zM32 42h1v1h-1zM39 42h1v1h-1zM15 43h1v1h-1zM22 43h1v1h-1zM24 43h1v1h-1zM29 43h1v1h-1zM29 44h2v1h-2zM33 44h1v1h-1zM42 44h1v1h-1zM10 45h2v1h-2zM17 45h1v1h-1zM25 45h1v1h-1zM37 45h1v1h-1zM42 45h2v1h-2zM21 46h2v1h-2zM27 46h1v1h-1zM18 47h1v1h-1zM23 47h1v1h-1zM25 47h1v1h-1zM39 47h1v1h-1zM28 48h2v1h-2zM36 48h1v1h-1zM33 49h1v1h-1zM26 50h3v1h-3z"/><path fill="#ff0f00" d="M35 8h1v1h-1zM31 9h1v1h-1zM16 10h1v1h-1zM20 10h1v1h-1zM34 11h1v1h-1zM18 12h1v1h-1zM12 13h3v1h-3zM17 13h1v1h-1zM33 13h1v1h-1zM35 13h1v1h-1zM33 14h1v1h-1zM36 14h1v1h-1zM12 15h2v1h-2zM21 15h1v1h-1zM35 15h1v1h-1zM38 15h1v1h-1zM18 16h1v1h-1zM9 17h2v1h-2zM18 17h1v1h-1zM39 17h1v1h-1zM11 18h1v1h-1zM41 18h1v1h-1zM9 19h1v1h-1zM9 20h1v1h-1zM9 21h1v1h-1zM43 21h1v1h-1zM42 22h1v1h-1zM41 23h3v1h-3zM6 24h1v1h-1zM42 24h2v1h-2zM8 25h1v1h-1zM42 25h1v1h-1zM8 26h1v1h-1zM12 26h1v1h-1zM30 26h1v1h-1zM42 26h1v1h-1zM45 26h1v1h-1zM11 28h1v1h-1zM42 29h1v1h-1zM45 29h1v1h-1zM30 30h1v1h-1zM7 31h1v1h-1zM42 31h1v1h-1zM7 32h1v1h-1zM9 32h1v1h-1zM6 33h1v1h-1zM41 33h1v1h-1zM6 34h1v1h-1zM44 34h1v1h-1zM42 35h1v1h-1zM6 36h1v1h-1zM41 36h1v1h-1zM47 36h1v1h-1zM7 37h1v1h-1zM10 37h1v1h-1zM43 37h1v1h-1zM8 38h1v1h-1zM38 38h1v1h-1zM47 38h1v1h-1zM8 39h1v1h-1zM15 39h2v1h-2zM40 39h1v1h-1zM12 40h1v1h-1zM40 40h2v1h-2zM13 41h1v1h-1zM20 41h1v1h-1zM20 42h1v1h-1zM24 42h1v1h-1zM30 42h2v1h-2zM37 42h1v1h-1zM28 43h1v1h-1zM35 43h1v1h-1zM38 43h1v1h-1zM23 44h2v1h-2zM31 44h2v1h-2zM43 44h1v1h-1zM20 45h1v1h-1zM23 45h2v1h-2zM26 45h1v1h-1zM31 45h1v1h-1zM36 45h1v1h-1zM18 46h1v1h-1zM19 47h2v1h-2zM38 47h1v1h-1zM17 48h1v1h-1zM27 48h1v1h-1zM38 48h1v1h-1zM18 49h1v1h-1zM23 49h1v1h-1zM29 49h2v1h-2z"/><path fill="#ff1a00" d="M24 9h1v1h-1zM30 9h1v1h-1zM33 10h1v1h-1zM19 11h1v1h-1zM34 12h1v1h-1zM32 13h1v1h-1zM34 13h1v1h-1zM12 14h3v1h-3zM21 14h2v1h-2zM37 14h1v1h-1zM14 15h1v1h-1zM22 15h1v1h-1zM36 15h1v1h-1zM13 16h1v1h-1zM37 16h2v1h-2zM17 17h1v1h-1zM36 17h1v1h-1zM9 18h2v1h-2zM17 18h2v1h-2zM40 18h1v1h-1zM16 19h1v1h-1zM39 19h1v1h-1zM41 19h1v1h-1zM15 20h2v1h-2zM40 20h3v1h-3zM40 21h1v1h-1zM42 21h1v1h-1zM9 22h1v1h-1zM43 22h1v1h-1zM9 23h1v1h-1zM13 24h1v1h-1zM41 24h1v1h-1zM7 25h1v1h-1zM29 25h1v1h-1zM41 25h1v1h-1zM7 26h1v1h-1zM11 27h1v1h-1zM45 27h1v1h-1zM9 28h1v1h-1zM45 28h1v1h-1zM7 29h1v1h-1zM9 29h1v1h-1zM11 29h1v1h-1zM7 30h1v1h-1zM9 30h1v1h-1zM41 30h1v1h-1zM9 31h1v1h-1zM43 31h2v1h-2zM26 32h3v1h-3zM42 32h1v1h-1zM44 32h1v1h-1zM42 33h1v1h-1zM44 33h1v1h-1zM42 34h1v1h-1zM6 35h1v1h-1zM15 36h1v1h-1zM40 36h1v1h-1zM42 36h1v1h-1zM14 37h1v1h-1zM16 37h1v1h-1zM47 37h1v1h-1zM14 38h1v1h-1zM42 38h1v1h-1zM17 39h1v1h-1zM37 39h1v1h-1zM41 39h1v1h-1zM17 40h1v1h-1zM35 40h1v1h-1zM19 41h1v1h-1zM34 41h1v1h-1zM29 42h1v1h-1zM38 42h1v1h-1zM21 43h1v1h-1zM37 43h1v1h-1zM28 44h1v1h-1zM34 44h1v1h-1zM37 44h1v1h-1zM19 45h1v1h-1zM21 45h2v1h-2zM32 45h1v1h-1zM35 45h1v1h-1zM21 47h2v1h-2zM37 47h1v1h-1zM18 48h1v1h-1zM21 48h6v1h-6zM37 48h1v1h-1zM19 49h2v1h-2zM24 49h3v1h-3zM28 49h1v1h-1z"/><path fill="#ff2400" d="M25 9h1v1h-1zM33 12h1v1h-1zM32 14h1v1h-1zM20 15h1v1h-1zM34 15h1v1h-1zM37 15h1v1h-1zM19 16h1v1h-1zM21 16h1v1h-1zM36 16h1v1h-1zM19 17h1v1h-1zM12 18h1v1h-1zM10 19h1v1h-1zM15 19h1v1h-1zM17 19h1v1h-1zM40 19h1v1h-1zM14 21h2v1h-2zM14 22h1v1h-1zM40 22h1v1h-1zM13 23h1v1h-1zM9 24h1v1h-1zM12 24h1v1h-1zM6 25h1v1h-1zM12 25h2v1h-2zM43 25h2v1h-2zM6 26h1v1h-1zM13 26h1v1h-1zM24 26h1v1h-1zM41 26h1v1h-1zM6 27h1v1h-1zM9 27h1v1h-1zM13 27h1v1h-1zM42 27h1v1h-1zM6 28h1v1h-1zM13 28h1v1h-1zM23 28h1v1h-1zM31 28h1v1h-1zM42 28h1v1h-1zM5 29h1v1h-1zM41 29h1v1h-1zM43 29h1v1h-1zM5 30h1v1h-1zM11 30h1v1h-1zM43 30h1v1h-1zM30 31h1v1h-1zM6 32h1v1h-1zM29 32h1v1h-1zM41 32h1v1h-1zM43 32h1v1h-1zM10 33h1v1h-1zM13 34h1v1h-1zM11 35h1v1h-1zM14 36h1v1h-1zM16 36h1v1h-1zM41 37h1v1h-1zM11 38h1v1h-1zM17 38h1v1h-1zM41 38h1v1h-1zM14 39h1v1h-1zM13 40h1v1h-1zM16 40h1v1h-1zM18 40h2v1h-2zM18 41h1v1h-1zM23 41h1v1h-1zM19 42h1v1h-1zM25 42h1v1h-1zM28 42h1v1h-1zM27 43h1v1h-1zM36 43h1v1h-1zM22 44h1v1h-1zM27 44h1v1h-1zM27 45h2v1h-2zM33 45h2v1h-2zM19 48h2v1h-2zM27 49h1v1h-1z"/><path fill="#ff2f00" d="M26 9h1v1h-1zM29 9h1v1h-1zM33 11h1v1h-1zM32 12h1v1h-1zM31 13h1v1h-1zM20 14h1v1h-1zM18 15h2v1h-2zM17 16h1v1h-1zM20 16h1v1h-1zM22 16h1v1h-1zM35 16h1v1h-1zM21 17h1v1h-1zM16 18h1v1h-1zM36 18h1v1h-1zM38 19h1v1h-1zM10 20h1v1h-1zM14 20h1v1h-1zM39 20h1v1h-1zM13 22h1v1h-1zM14 23h1v1h-1zM40 23h1v1h-1zM9 25h1v1h-1zM9 26h1v1h-1zM11 26h1v1h-1zM43 26h1v1h-1zM23 27h1v1h-1zM31 27h1v1h-1zM43 27h1v1h-1zM43 28h1v1h-1zM13 29h1v1h-1zM23 29h1v1h-1zM44 29h1v1h-1zM44 30h1v1h-1zM6 31h1v1h-1zM12 31h1v1h-1zM41 31h1v1h-1zM12 32h1v1h-1zM13 33h1v1h-1zM40 34h1v1h-1zM43 34h1v1h-1zM13 35h3v1h-3zM11 36h1v1h-1zM38 37h1v1h-1zM42 37h1v1h-1zM12 39h1v1h-1zM18 39h1v1h-1zM36 39h1v1h-1zM14 40h2v1h-2zM20 40h1v1h-1zM14 41h1v1h-1zM17 41h1v1h-1zM33 41h1v1h-1zM26 42h2v1h-2zM16 43h1v1h-1zM17 44h1v1h-1zM21 44h1v1h-1zM25 44h1v1h-1zM35 44h2v1h-2zM18 45h1v1h-1z"/><path fill="#ff3a00" d="M27 9h2v1h-2zM32 10h1v1h-1zM25 12h1v1h-1zM31 12h1v1h-1zM18 13h1v1h-1zM23 13h3v1h-3zM17 14h1v1h-1zM23 14h1v1h-1zM15 15h1v1h-1zM23 15h1v1h-1zM33 15h1v1h-1zM14 16h1v1h-1zM13 17h1v1h-1zM20 17h1v1h-1zM11 19h1v1h-1zM39 21h1v1h-1zM15 22h1v1h-1zM12 23h1v1h-1zM14 24h1v1h-1zM26 24h2v1h-2zM40 24h1v1h-1zM40 25h1v1h-1zM44 26h1v1h-1zM44 27h1v1h-1zM10 29h1v1h-1zM31 29h1v1h-1zM10 30h1v1h-1zM13 30h1v1h-1zM13 32h1v1h-1zM12 33h1v1h-1zM40 33h1v1h-1zM43 33h1v1h-1zM11 34h2v1h-2zM14 34h2v1h-2zM12 35h1v1h-1zM16 35h1v1h-1zM40 35h1v1h-1zM13 36h1v1h-1zM11 37h1v1h-1zM17 37h1v1h-1zM37 38h1v1h-1zM13 39h1v1h-1zM21 40h1v1h-1zM15 42h1v1h-1zM18 42h1v1h-1zM20 43h1v1h-1zM25 43h1v1h-1zM26 44h1v1h-1z"/><path fill="#ff4500" d="M23 10h1v1h-1zM25 10h2v1h-2zM20 11h1v1h-1zM25 11h2v1h-2zM32 11h1v1h-1zM19 12h1v1h-1zM24 12h1v1h-1zM26 12h1v1h-1zM30 12h1v1h-1zM22 13h1v1h-1zM26 13h2v1h-2zM30 13h1v1h-1zM19 14h1v1h-1zM24 14h2v1h-2zM27 14h1v1h-1zM31 14h1v1h-1zM17 15h1v1h-1zM23 16h1v1h-1zM34 16h1v1h-1zM16 17h1v1h-1zM22 17h1v1h-1zM35 17h1v1h-1zM19 18h1v1h-1zM18 19h1v1h-1zM17 20h1v1h-1zM10 21h1v1h-1zM13 21h1v1h-1zM16 21h1v1h-1zM15 23h1v1h-1zM28 24h1v1h-1zM11 25h1v1h-1zM14 25h1v1h-1zM30 25h1v1h-1zM10 26h1v1h-1zM40 26h1v1h-1zM10 27h1v1h-1zM41 27h1v1h-1zM10 28h1v1h-1zM41 28h1v1h-1zM44 28h1v1h-1zM6 29h1v1h-1zM11 31h1v1h-1zM13 31h1v1h-1zM24 31h1v1h-1zM10 32h1v1h-1zM25 32h1v1h-1zM40 32h1v1h-1zM11 33h1v1h-1zM14 33h1v1h-1zM17 36h1v1h-1zM13 37h1v1h-1zM12 38h2v1h-2zM18 38h1v1h-1zM19 39h1v1h-1zM22 40h1v1h-1zM15 41h2v1h-2zM24 41h2v1h-2zM32 41h1v1h-1zM26 43h1v1h-1zM20 44h1v1h-1z"/><path fill="#ff5a00" d="M24 10h1v1h-1zM24 11h1v1h-1zM23 12h1v1h-1zM27 12h2v1h-2zM19 13h1v1h-1zM29 13h1v1h-1zM30 14h1v1h-1zM26 15h1v1h-1zM20 18h1v1h-1zM12 19h1v1h-1zM11 20h1v1h-1zM38 20h1v1h-1zM38 21h1v1h-1zM10 23h1v1h-1zM10 24h1v1h-1zM15 24h1v1h-1zM25 24h1v1h-1zM29 24h1v1h-1zM39 24h1v1h-1zM39 25h1v1h-1zM14 26h1v1h-1zM40 28h1v1h-1zM40 29h1v1h-1zM23 30h1v1h-1zM40 30h1v1h-1zM40 31h1v1h-1zM14 32h1v1h-1zM15 33h1v1h-1zM29 33h1v1h-1zM18 37h1v1h-1zM34 40h1v1h-1zM29 41h1v1h-1zM19 43h1v1h-1z"/><path fill="#ff5000" d="M27 10h5v1h-5zM21 11h1v1h-1zM27 11h5v1h-5zM29 12h1v1h-1zM21 13h1v1h-1zM28 13h1v1h-1zM18 14h1v1h-1zM26 14h1v1h-1zM28 14h1v1h-1zM16 15h1v1h-1zM24 15h2v1h-2zM32 15h1v1h-1zM15 18h1v1h-1zM14 19h1v1h-1zM37 19h1v1h-1zM10 22h1v1h-1zM12 22h1v1h-1zM39 22h1v1h-1zM39 23h1v1h-1zM11 24h1v1h-1zM10 25h1v1h-1zM31 26h1v1h-1zM40 27h1v1h-1zM6 30h1v1h-1zM31 30h1v1h-1zM10 31h1v1h-1zM11 32h1v1h-1zM30 32h1v1h-1zM16 34h1v1h-1zM12 36h1v1h-1zM39 36h1v1h-1zM12 37h1v1h-1zM20 39h1v1h-1zM35 39h1v1h-1zM26 41h1v1h-1zM30 41h2v1h-2zM16 42h2v1h-2zM17 43h1v1h-1zM18 44h2v1h-2z"/><path fill="#ff6500" d="M22 11h2v1h-2zM20 13h1v1h-1zM29 14h1v1h-1zM27 15h2v1h-2zM31 15h1v1h-1zM15 16h2v1h-2zM24 16h1v1h-1zM33 16h1v1h-1zM14 17h2v1h-2zM13 18h1v1h-1zM21 18h1v1h-1zM19 19h1v1h-1zM36 19h1v1h-1zM13 20h1v1h-1zM11 21h1v1h-1zM11 22h1v1h-1zM16 22h1v1h-1zM38 22h1v1h-1zM11 23h1v1h-1zM24 25h1v1h-1zM39 26h1v1h-1zM14 27h1v1h-1zM14 28h1v1h-1zM31 31h1v1h-1zM16 33h1v1h-1zM17 35h1v1h-1zM37 37h1v1h-1zM36 38h1v1h-1zM21 39h1v1h-1zM27 41h2v1h-2zM18 43h1v1h-1z"/><path fill="#ff7000" d="M20 12h1v1h-1zM30 15h1v1h-1zM25 16h1v1h-1zM23 17h1v1h-1zM14 18h1v1h-1zM35 18h1v1h-1zM13 19h1v1h-1zM12 20h1v1h-1zM18 20h1v1h-1zM12 21h1v1h-1zM17 21h1v1h-1zM38 23h1v1h-1zM23 26h1v1h-1zM39 27h1v1h-1zM14 29h1v1h-1zM14 30h1v1h-1zM14 31h1v1h-1zM28 33h1v1h-1zM30 33h1v1h-1zM39 34h1v1h-1zM18 36h1v1h-1zM19 38h1v1h-1zM23 40h1v1h-1z"/><path fill="#ff8600" d="M21 12h1v1h-1zM26 16h3v1h-3zM31 16h1v1h-1zM22 18h1v1h-1zM37 20h1v1h-1zM37 22h1v1h-1zM30 24h1v1h-1zM38 24h1v1h-1zM31 25h1v1h-1zM38 25h1v1h-1zM15 27h1v1h-1zM15 28h1v1h-1zM31 32h1v1h-1zM26 33h1v1h-1zM20 38h1v1h-1zM22 39h1v1h-1zM31 40h1v1h-1z"/><path fill="#ff7b00" d="M22 12h1v1h-1zM29 15h1v1h-1zM32 16h1v1h-1zM34 17h1v1h-1zM37 21h1v1h-1zM16 23h1v1h-1zM15 25h1v1h-1zM39 28h1v1h-1zM15 32h1v1h-1zM27 33h1v1h-1zM39 33h1v1h-1zM39 35h1v1h-1zM38 36h1v1h-1zM32 40h2v1h-2z"/><path fill="#ff9000" d="M29 16h2v1h-2zM33 17h1v1h-1zM20 19h1v1h-1zM35 19h1v1h-1zM36 20h1v1h-1zM27 23h1v1h-1zM16 24h1v1h-1zM15 26h1v1h-1zM38 26h1v1h-1zM38 27h1v1h-1zM22 28h1v1h-1zM32 28h1v1h-1zM22 29h1v1h-1zM32 29h1v1h-1zM39 29h1v1h-1zM15 30h1v1h-1zM15 31h1v1h-1zM16 32h1v1h-1zM24 32h1v1h-1zM39 32h1v1h-1zM17 34h1v1h-1zM18 35h1v1h-1zM19 37h1v1h-1zM21 38h1v1h-1zM24 40h2v1h-2zM30 40h1v1h-1z"/><path fill="#ff9b00" d="M24 17h1v1h-1zM32 17h1v1h-1zM19 20h1v1h-1zM36 21h1v1h-1zM17 22h1v1h-1zM28 23h1v1h-1zM37 23h1v1h-1zM22 27h1v1h-1zM32 27h1v1h-1zM15 29h1v1h-1zM32 30h1v1h-1zM39 30h1v1h-1zM39 31h1v1h-1zM30 34h1v1h-1zM36 37h1v1h-1zM35 38h1v1h-1zM34 39h1v1h-1z"/><path fill="#ffc600" d="M25 17h1v1h-1zM29 17h2v1h-2zM33 18h1v1h-1zM34 19h1v1h-1zM20 20h1v1h-1zM36 23h1v1h-1zM36 24h1v1h-1zM22 26h1v1h-1zM17 30h1v1h-1zM17 32h1v1h-1zM28 34h1v1h-1zM31 34h1v1h-1zM19 35h1v1h-1zM36 36h1v1h-1zM24 39h2v1h-2zM32 39h1v1h-1z"/><path fill="#ffdc00" d="M26 17h1v1h-1zM24 18h1v1h-1zM28 18h1v1h-1zM22 19h1v1h-1zM18 22h1v1h-1zM27 22h1v1h-1zM35 22h1v1h-1zM36 26h1v1h-1zM36 27h1v1h-1zM37 28h1v1h-1zM18 30h1v1h-1zM27 34h1v1h-1zM21 36h1v1h-1zM24 38h1v1h-1zM34 38h1v1h-1zM26 39h1v1h-1zM30 39h1v1h-1z"/><path fill="#ffbc00" d="M27 17h1v1h-1zM21 19h1v1h-1zM17 23h1v1h-1zM31 24h1v1h-1zM16 25h1v1h-1zM23 25h1v1h-1zM37 26h1v1h-1zM37 27h1v1h-1zM16 29h1v1h-1zM22 30h1v1h-1zM32 33h1v1h-1zM18 34h1v1h-1zM38 34h1v1h-1zM21 37h1v1h-1zM23 38h1v1h-1zM27 40h1v1h-1z"/><path fill="#ffb100" d="M28 17h1v1h-1zM23 18h1v1h-1zM35 20h1v1h-1zM36 22h1v1h-1zM24 24h1v1h-1zM37 25h1v1h-1zM32 26h1v1h-1zM16 27h1v1h-1zM16 28h1v1h-1zM38 28h1v1h-1zM16 30h1v1h-1zM32 32h1v1h-1zM25 33h1v1h-1zM38 35h1v1h-1zM37 36h1v1h-1zM20 37h1v1h-1zM28 40h1v1h-1z"/><path fill="#ffa600" d="M31 17h1v1h-1zM34 18h1v1h-1zM18 21h1v1h-1zM26 23h1v1h-1zM29 23h1v1h-1zM37 24h1v1h-1zM16 31h1v1h-1zM23 31h1v1h-1zM32 31h1v1h-1zM17 33h1v1h-1zM31 33h1v1h-1zM29 34h1v1h-1zM19 36h1v1h-1zM22 38h1v1h-1zM23 39h1v1h-1zM26 40h1v1h-1zM29 40h1v1h-1z"/><path fill="#ffff1c" d="M25 18h2v1h-2zM25 19h2v1h-2zM27 20h1v1h-1zM33 20h1v1h-1zM27 21h1v1h-1zM33 21h1v1h-1zM26 22h1v1h-1zM31 22h1v1h-1zM33 22h1v1h-1zM24 23h1v1h-1zM18 24h1v1h-1zM34 26h1v1h-1zM19 29h1v1h-1zM35 29h2v1h-2zM20 31h1v1h-1zM20 32h1v1h-1zM34 33h1v1h-1zM20 34h1v1h-1zM34 35h1v1h-1zM23 36h1v1h-1zM31 36h2v1h-2zM34 36h1v1h-1zM25 37h1v1h-1zM27 38h1v1h-1zM31 38h1v1h-1zM33 38h1v1h-1z"/><path fill="#ffe700" d="M27 18h1v1h-1zM34 20h1v1h-1zM35 23h1v1h-1zM17 28h1v1h-1zM21 28h1v1h-1zM18 29h1v1h-1zM21 29h1v1h-1zM38 30h1v1h-1zM18 31h1v1h-1zM38 31h1v1h-1zM18 32h1v1h-1zM23 32h1v1h-1zM38 32h1v1h-1zM24 33h1v1h-1zM26 34h1v1h-1zM33 34h1v1h-1zM30 35h2v1h-2zM37 35h1v1h-1zM35 36h1v1h-1zM23 37h1v1h-1zM29 39h1v1h-1z"/><path fill="#fffc00" d="M29 18h1v1h-1zM28 19h1v1h-1zM21 20h1v1h-1zM30 20h1v1h-1zM20 21h1v1h-1zM28 21h1v1h-1zM30 21h1v1h-1zM34 22h1v1h-1zM18 23h1v1h-1zM23 24h1v1h-1zM22 25h1v1h-1zM35 25h1v1h-1zM17 26h1v1h-1zM33 27h1v1h-1zM35 27h1v1h-1zM34 29h1v1h-1zM21 30h1v1h-1zM19 31h1v1h-1zM33 31h1v1h-1zM19 33h1v1h-1zM36 35h1v1h-1zM24 37h1v1h-1zM26 38h1v1h-1zM27 39h2v1h-2z"/><path fill="#fff200" d="M30 18h1v1h-1zM23 19h1v1h-1zM29 19h5v1h-5zM29 20h1v1h-1zM29 21h1v1h-1zM34 21h1v1h-1zM30 22h1v1h-1zM31 23h1v1h-1zM33 23h2v1h-2zM32 24h4v1h-4zM17 25h1v1h-1zM17 27h1v1h-1zM21 27h1v1h-1zM33 28h1v1h-1zM36 28h1v1h-1zM22 31h1v1h-1zM19 32h1v1h-1zM33 32h1v1h-1zM19 34h1v1h-1zM20 35h2v1h-2zM29 35h1v1h-1zM32 35h1v1h-1zM22 36h1v1h-1zM25 38h1v1h-1z"/><path fill="#ffd100" d="M31 18h2v1h-2zM19 21h1v1h-1zM35 21h1v1h-1zM28 22h2v1h-2zM25 23h1v1h-1zM30 23h1v1h-1zM17 24h1v1h-1zM32 25h1v1h-1zM36 25h1v1h-1zM16 26h1v1h-1zM17 29h1v1h-1zM33 29h1v1h-1zM38 29h1v1h-1zM33 30h1v1h-1zM17 31h1v1h-1zM18 33h1v1h-1zM33 33h1v1h-1zM38 33h1v1h-1zM32 34h1v1h-1zM20 36h1v1h-1zM22 37h1v1h-1zM35 37h1v1h-1zM31 39h1v1h-1zM33 39h1v1h-1z"/><path fill="#ffff0c" d="M24 19h1v1h-1zM27 19h1v1h-1zM28 20h1v1h-1zM31 20h2v1h-2zM19 22h1v1h-1zM32 23h1v1h-1zM33 25h2v1h-2zM33 26h1v1h-1zM35 26h1v1h-1zM18 28h1v1h-1zM35 28h1v1h-1zM37 29h1v1h-1zM19 30h1v1h-1zM34 30h1v1h-1zM25 34h1v1h-1zM34 34h1v1h-1zM37 34h1v1h-1zM22 35h1v1h-1zM28 35h1v1h-1zM33 35h1v1h-1zM35 35h1v1h-1zM34 37h1v1h-1zM32 38h1v1h-1z"/><path fill="#ffff3d" d="M22 20h2v1h-2zM25 20h1v1h-1zM32 21h1v1h-1zM18 25h1v1h-1zM18 26h1v1h-1zM19 28h2v1h-2zM35 30h3v1h-3zM34 31h1v1h-1zM37 31h1v1h-1zM34 32h1v1h-1zM37 32h1v1h-1zM20 33h3v1h-3zM23 34h2v1h-2zM23 35h1v1h-1zM24 36h1v1h-1zM28 36h2v1h-2zM33 36h1v1h-1zM27 37h2v1h-2zM31 37h2v1h-2zM29 38h2v1h-2z"/><path fill="#ffff4d" d="M24 20h1v1h-1zM20 22h1v1h-1zM25 22h1v1h-1zM19 23h1v1h-1zM22 24h1v1h-1zM35 34h2v1h-2zM24 35h3v1h-3zM25 36h3v1h-3zM33 37h1v1h-1z"/><path fill="#ffff2d" d="M26 20h1v1h-1zM31 21h1v1h-1zM32 22h1v1h-1zM21 26h1v1h-1zM18 27h1v1h-1zM34 27h1v1h-1zM34 28h1v1h-1zM20 29h1v1h-1zM20 30h1v1h-1zM21 31h1v1h-1zM21 32h2v1h-2zM23 33h1v1h-1zM37 33h1v1h-1zM21 34h2v1h-2zM27 35h1v1h-1zM30 36h1v1h-1zM26 37h1v1h-1zM28 38h1v1h-1z"/><path fill="#ffff5d" d="M21 21h1v1h-1zM26 21h1v1h-1zM21 25h1v1h-1zM20 27h1v1h-1zM35 31h2v1h-2zM35 32h1v1h-1zM29 37h2v1h-2z"/><path fill="#ffff8e" d="M22 21h2v1h-2zM20 23h1v1h-1zM21 24h1v1h-1zM19 26h1v1h-1z"/><path fill="#ffff7d" d="M24 21h2v1h-2zM24 22h1v1h-1zM19 24h1v1h-1zM20 26h1v1h-1zM36 33h1v1h-1z"/><path fill="#ffff9e" d="M21 22h1v1h-1zM23 22h1v1h-1zM21 23h2v1h-2zM19 25h2v1h-2z"/><path fill="#ffffae" d="M22 22h1v1h-1zM20 24h1v1h-1z"/><path fill="#ffff6d" d="M23 23h1v1h-1zM19 27h1v1h-1zM36 32h1v1h-1zM35 33h1v1h-1z"/><path fill="#200000" d="M27 27h1v1h-1zM1 53h1v1h-1z"/><path fill="#160000" d="M26 28h1v1h-1zM28 28h1v1h-1zM28 29h1v1h-1zM0 53h1v1h-1zM46 57h1v1h-1zM48 57h1v1h-1z"/><path fill="#0b0000" d="M27 28h1v1h-1z"/><path fill="#000000" d="M27 29h1v1h-1zM47 57h1v1h-1z"/></g><rect x="471.40" y="380.00" width="276.10" height="285.20" fill="none" stroke="#808080" stroke-width="0.8"/><g transform="translate(755.40 380.00) scale(10.80000 4.45625)" shape-rendering="crispEdges"><path fill="#ffffff" d="M0 0h1v1h-1z"/><path fill="#ffffef" d="M0 1h1v1h-1z"/><path fill="#ffffdf" d="M0 2h1v1h-1z"/><path fill="#ffffce" d="M0 3h1v1h-1z"/><path fill="#ffffbe" d="M0 4h1v1h-1z"/><path fill="#ffffae" d="M0 5h1v1h-1z"/><path fill="#ffff9e" d="M0 6h1v1h-1z"/><path fill="#ffff8e" d="M0 7h1v1h-1z"/><path fill="#ffff7d" d="M0 8h1v1h-1z"/><path fill="#ffff6d" d="M0 9h1v1h-1z"/><path fill="#ffff5d" d="M0 10h1v1h-1z"/><path fill="#ffff4d" d="M0 11h1v1h-1z"/><path fill="#ffff3d" d="M0 12h1v1h-1z"/><path fill="#ffff2d" d="M0 13h1v1h-1z"/><path fill="#ffff1c" d="M0 14h1v1h-1z"/><path fill="#ffff0c" d="M0 15h1v1h-1z"/><path fill="#fffc00" d="M0 16h1v1h-1z"/><path fill="#fff200" d="M0 17h1v1h-1z"/><path fill="#ffe700" d="M0 18h1v1h-1z"/><path fill="#ffdc00" d="M0 19h1v1h-1z"/><path fill="#ffd100" d="M0 20h1v1h-1z"/><path fill="#ffc600" d="M0 21h1v1h-1z"/><path fill="#ffbc00" d="M0 22h1v1h-1z"/><path fill="#ffb100" d="M0 23h1v1h-1z"/><path fill="#ffa600" d="M0 24h1v1h-1z"/><path fill="#ff9b00" d="M0 25h1v1h-1z"/><path fill="#ff9000" d="M0 26h1v1h-1z"/><path fill="#ff8600" d="M0 27h1v1h-1z"/><path fill="#ff7b00" d="M0 28h1v1h-1z"/><path fill="#ff7000" d="M0 29h1v1h-1z"/><path fill="#ff6500" d="M0 30h1v1h-1z"/><path fill="#ff5a00" d="M0 31h1v1h-1z"/><path fill="#ff5000" d="M0 32h1v1h-1z"/><path fill="#ff4500" d="M0 33h1v1h-1z"/><path fill="#ff3a00" d="M0 34h1v1h-1z"/><path fill="#ff2f00" d="M0 35h1v1h-1z"/><path fill="#ff2400" d="M0 36h1v1h-1z"/><path fill="#ff1a00" d="M0 37h1v1h-1z"/><path fill="#ff0f00" d="M0 38h1v1h-1z"/><path fill="#ff0400" d="M0 39h1v1h-1z"/><path fill="#f80000" d="M0 40h1v1h-1z"/><path fill="#ed0000" d="M0 41h1v1h-1z"/><path fill="#e30000" d="M0 42h1v1h-1z"/><path fill="#d80000" d="M0 43h1v1h-1z"/><path fill="#cd0000" d="M0 44h1v1h-1z"/><path fill="#c20000" d="M0 45h1v1h-1z"/><path fill="#b70000" d="M0 46h1v1h-1z"/><path fill="#ad0000" d="M0 47h1v1h-1z"/><path fill="#a20000" d="M0 48h1v1h-1z"/><path fill="#970000" d="M0 49h1v1h-1z"/><path fill="#8c0000" d="M0 50h1v1h-1z"/><path fill="#820000" d="M0 51h1v1h-1z"/><path fill="#770000" d="M0 52h1v1h-1z"/><path fill="#6c0000" d="M0 53h1v1h-1z"/><path fill="#610000" d="M0 54h1v1h-1z"/><path fill="#560000" d="M0 55h1v1h-1z"/><path fill="#4c0000" d="M0 56h1v1h-1z"/><path fill="#410000" d="M0 57h1v1h-1z"/><path fill="#360000" d="M0 58h1v1h-1z"/><path fill="#2b0000" d="M0 59h1v1h-1z"/><path fill="#200000" d="M0 60h1v1h-1z"/><path fill="#160000" d="M0 61h1v1h-1z"/><path fill="#0b0000" d="M0 62h1v1h-1z"/><path fill="#000000" d="M0 63h1v1h-1z"/></g><rect x="755.40" y="380.00" width="10.80" height="285.20" fill="none" stroke="#606060" stroke-width="0.8"/><text font-size="20.7" text-anchor="start" transform="translate(771.8 389.2) scale(1.0 1.1)">40</text><text font-size="20.7" text-anchor="start" transform="translate(771.8 669.7) scale(1.0 1.1)">0</text><g transform="translate(46.60 754.20) scale(5.01250 5.01207)" shape-rendering="crispEdges"><path fill="#ff00ef" d="M0 0h1v1h-1zM36 0h1v1h-1zM38 0h1v1h-1zM37 1h1v1h-1zM34 3h1v1h-1zM54 3h1v1h-1zM36 8h1v1h-1zM36 9h2v1h-2zM35 10h1v1h-1zM38 10h1v1h-1zM38 11h1v1h-1zM38 12h1v1h-1zM38 13h1v1h-1zM38 14h1v1h-1zM37 16h1v1h-1zM36 18h1v1h-1zM33 19h3v1h-3zM27 20h4v1h-4zM28 21h1v1h-1zM28 22h1v1h-1zM25 38h4v1h-4zM23 40h1v1h-1zM22 43h1v1h-1zM21 44h1v1h-1zM18 45h1v1h-1zM21 45h1v1h-1zM18 46h1v1h-1zM22 46h1v1h-1zM22 47h1v1h-1zM20 48h3v1h-3zM20 49h1v1h-1zM54 51h1v1h-1zM16 56h1v1h-1zM15 57h1v1h-1zM17 57h1v1h-1z"/><path fill="#5000ff" d="M1 0h1v1h-1zM51 0h1v1h-1zM5 3h1v1h-1zM4 4h1v1h-1zM24 5h1v1h-1zM28 5h2v1h-2zM33 5h1v1h-1zM24 6h1v1h-1zM29 6h2v1h-2zM32 6h1v1h-1zM25 7h5v1h-5zM0 8h1v1h-1zM29 8h1v1h-1zM29 9h1v1h-1zM29 10h1v1h-1zM27 12h1v1h-1zM27 13h3v1h-3zM30 15h1v1h-1zM25 16h1v1h-1zM28 16h2v1h-2zM24 17h1v1h-1zM23 20h1v1h-1zM24 23h1v1h-1zM30 34h1v1h-1zM31 40h1v1h-1zM30 44h1v1h-1zM30 45h1v1h-1zM29 46h1v1h-1zM27 47h2v1h-2zM27 48h3v1h-3zM26 49h4v1h-4zM25 50h2v1h-2zM30 50h2v1h-2zM54 50h1v1h-1zM23 51h3v1h-3zM31 51h1v1h-1zM1 52h1v1h-1zM23 52h2v1h-2zM31 52h1v1h-1zM24 53h5v1h-5zM2 54h1v1h-1zM48 56h1v1h-1zM25 57h1v1h-1z"/><path fill="#0800ff" d="M2 0h2v1h-2zM11 0h1v1h-1zM12 1h1v1h-1zM6 2h1v1h-1zM29 3h1v1h-1zM53 3h1v1h-1zM7 5h2v1h-2zM55 6h1v1h-1zM23 7h1v1h-1zM24 9h1v1h-1zM24 10h1v1h-1zM27 10h1v1h-1zM24 11h2v1h-2zM23 12h2v1h-2zM23 13h3v1h-3zM25 14h1v1h-1zM24 15h2v1h-2zM23 18h1v1h-1zM23 23h1v1h-1zM32 37h1v1h-1zM32 38h1v1h-1zM32 39h1v1h-1zM32 40h1v1h-1zM32 44h1v1h-1zM32 45h1v1h-1zM32 46h1v1h-1zM31 47h1v1h-1zM32 48h1v1h-1zM33 49h1v1h-1zM33 50h1v1h-1zM33 52h1v1h-1zM32 53h1v1h-1zM51 53h1v1h-1zM26 54h1v1h-1z"/><path fill="#0010ff" d="M4 0h1v1h-1zM9 0h1v1h-1zM13 0h1v1h-1zM13 1h1v1h-1zM29 2h1v1h-1zM25 3h4v1h-4zM23 4h1v1h-1zM9 5h1v1h-1zM22 5h1v1h-1zM7 6h2v1h-2zM22 6h1v1h-1zM22 7h1v1h-1zM23 8h1v1h-1zM20 9h2v1h-2zM23 9h1v1h-1zM20 10h2v1h-2zM23 10h1v1h-1zM22 11h2v1h-2zM22 12h1v1h-1zM25 12h1v1h-1zM22 13h1v1h-1zM23 14h2v1h-2zM23 15h1v1h-1zM23 16h1v1h-1zM23 17h1v1h-1zM22 20h1v1h-1zM22 21h1v1h-1zM24 24h1v1h-1zM31 34h1v1h-1zM32 41h1v1h-1zM32 42h1v1h-1zM32 43h1v1h-1zM33 45h1v1h-1zM32 47h1v1h-1zM55 48h1v1h-1zM34 51h1v1h-1zM27 54h1v1h-1zM3 55h1v1h-1zM46 57h1v1h-1zM53 57h1v1h-1z"/><path fill="#ff0000" d="M5 0h1v1h-1zM3 3h1v1h-1zM45 4h4v1h-4zM44 5h1v1h-1zM44 6h3v1h-3zM47 7h1v1h-1zM43 8h1v1h-1zM43 9h2v1h-2zM44 10h1v1h-1zM46 13h1v1h-1zM54 13h1v1h-1zM54 14h1v1h-1zM45 15h1v1h-1zM55 16h1v1h-1zM54 17h1v1h-1zM39 18h1v1h-1zM41 18h1v1h-1zM54 18h1v1h-1zM38 19h1v1h-1zM42 19h1v1h-1zM54 19h1v1h-1zM54 20h1v1h-1zM54 21h2v1h-2zM33 22h4v1h-4zM55 22h1v1h-1zM25 35h1v1h-1zM20 36h2v1h-2zM11 38h1v1h-1zM13 38h1v1h-1zM18 38h1v1h-1zM14 39h1v1h-1zM1 43h1v1h-1zM9 44h1v1h-1zM1 45h1v1h-1zM8 45h1v1h-1zM8 49h1v1h-1zM8 50h3v1h-3zM7 51h4v1h-4zM55 51h1v1h-1zM6 52h7v1h-7zM6 53h1v1h-1zM12 53h1v1h-1z"/><path fill="#ff00a7" d="M6 0h1v1h-1zM35 0h1v1h-1zM52 0h1v1h-1zM5 1h1v1h-1zM33 1h1v1h-1zM39 1h1v1h-1zM38 2h1v1h-1zM36 3h1v1h-1zM38 8h1v1h-1zM40 9h1v1h-1zM40 10h1v1h-1zM40 11h1v1h-1zM40 14h1v1h-1zM39 15h1v1h-1zM37 18h1v1h-1zM34 20h1v1h-1zM30 21h1v1h-1zM27 36h1v1h-1zM26 37h2v1h-2zM23 38h1v1h-1zM22 39h1v1h-1zM21 40h1v1h-1zM20 41h1v1h-1zM19 42h1v1h-1zM17 43h1v1h-1zM15 44h1v1h-1zM15 46h1v1h-1zM15 47h1v1h-1zM16 48h1v1h-1zM18 49h1v1h-1zM0 52h1v1h-1zM20 53h1v1h-1zM20 54h1v1h-1zM17 55h2v1h-2zM14 56h1v1h-1zM19 56h1v1h-1zM49 56h1v1h-1zM14 57h1v1h-1zM19 57h1v1h-1zM23 57h1v1h-1z"/><path fill="#af00ff" d="M7 0h1v1h-1zM31 0h1v1h-1zM31 1h1v1h-1zM53 2h1v1h-1zM55 5h1v1h-1zM34 6h1v1h-1zM33 7h1v1h-1zM31 9h2v1h-2zM32 10h1v1h-1zM32 11h1v1h-1zM32 13h1v1h-1zM33 14h1v1h-1zM33 15h1v1h-1zM32 16h1v1h-1zM26 17h1v1h-1zM25 18h1v1h-1zM25 22h1v1h-1zM26 23h1v1h-1zM29 34h1v1h-1zM30 37h1v1h-1zM30 38h1v1h-1zM25 39h2v1h-2zM30 39h1v1h-1zM24 40h1v1h-1zM28 40h2v1h-2zM24 41h1v1h-1zM24 42h1v1h-1zM24 43h1v1h-1zM24 44h1v1h-1zM24 45h1v1h-1zM24 48h1v1h-1zM23 49h1v1h-1zM22 50h1v1h-1zM23 54h1v1h-1zM3 56h1v1h-1z"/><path fill="#2000ff" d="M8 0h1v1h-1zM12 0h1v1h-1zM30 0h1v1h-1zM30 1h1v1h-1zM24 4h1v1h-1zM3 5h1v1h-1zM23 5h1v1h-1zM31 5h1v1h-1zM2 6h1v1h-1zM23 6h1v1h-1zM1 7h1v1h-1zM24 8h1v1h-1zM27 9h1v1h-1zM25 10h2v1h-2zM28 10h1v1h-1zM26 11h2v1h-2zM26 12h1v1h-1zM26 13h1v1h-1zM26 14h2v1h-2zM26 15h3v1h-3zM24 16h1v1h-1zM23 22h1v1h-1zM25 24h1v1h-1zM30 33h1v1h-1zM31 35h1v1h-1zM31 46h1v1h-1zM30 47h1v1h-1zM31 48h1v1h-1zM32 49h1v1h-1zM33 51h1v1h-1zM53 51h1v1h-1zM30 53h2v1h-2z"/><path fill="#0040ff" d="M10 0h1v1h-1zM18 0h1v1h-1zM29 0h1v1h-1zM18 1h2v1h-2zM29 1h1v1h-1zM13 2h1v1h-1zM19 2h1v1h-1zM28 2h1v1h-1zM52 2h1v1h-1zM23 3h1v1h-1zM9 4h1v1h-1zM21 4h1v1h-1zM21 5h1v1h-1zM54 5h1v1h-1zM5 6h1v1h-1zM9 6h1v1h-1zM7 7h1v1h-1zM20 7h1v1h-1zM6 8h1v1h-1zM19 8h1v1h-1zM19 10h1v1h-1zM20 11h1v1h-1zM21 12h1v1h-1zM21 13h1v1h-1zM21 14h1v1h-1zM22 15h1v1h-1zM22 16h1v1h-1zM22 17h1v1h-1zM22 18h1v1h-1zM22 23h1v1h-1zM23 24h1v1h-1zM31 33h1v1h-1zM32 35h1v1h-1zM33 38h1v1h-1zM33 39h1v1h-1zM33 40h1v1h-1zM33 41h1v1h-1zM33 42h2v1h-2zM34 43h1v1h-1zM34 44h1v1h-1zM34 45h1v1h-1zM34 46h1v1h-1zM34 47h1v1h-1zM34 48h1v1h-1zM0 50h1v1h-1zM35 51h1v1h-1zM35 52h1v1h-1zM46 52h2v1h-2zM34 53h1v1h-1zM46 53h2v1h-2zM29 54h1v1h-1zM32 54h1v1h-1zM43 55h1v1h-1zM55 55h1v1h-1zM42 56h1v1h-1zM54 56h1v1h-1z"/><path fill="#0058ff" d="M14 0h1v1h-1zM17 0h1v1h-1zM20 0h1v1h-1zM20 1h1v1h-1zM28 1h1v1h-1zM11 2h1v1h-1zM18 2h1v1h-1zM20 2h1v1h-1zM25 2h3v1h-3zM19 3h4v1h-4zM5 4h2v1h-2zM20 6h1v1h-1zM4 7h1v1h-1zM18 7h2v1h-2zM4 8h1v1h-1zM18 8h1v1h-1zM0 9h1v1h-1zM21 15h1v1h-1zM25 25h1v1h-1zM29 31h1v1h-1zM33 37h1v1h-1zM34 41h1v1h-1zM35 42h1v1h-1zM35 43h1v1h-1zM35 44h1v1h-1zM35 45h1v1h-1zM35 46h1v1h-1zM35 48h1v1h-1zM35 49h1v1h-1zM54 49h1v1h-1zM35 50h1v1h-1zM36 51h1v1h-1zM46 51h2v1h-2zM36 52h1v1h-1zM35 53h1v1h-1zM45 53h1v1h-1zM30 54h2v1h-2zM33 54h1v1h-1zM45 54h1v1h-1zM49 54h1v1h-1zM27 55h1v1h-1zM42 55h1v1h-1zM44 55h1v1h-1zM41 56h1v1h-1zM44 56h1v1h-1zM41 57h1v1h-1zM44 57h1v1h-1z"/><path fill="#009fff" d="M15 0h1v1h-1zM24 0h1v1h-1zM15 1h2v1h-2zM22 1h1v1h-1zM24 1h1v1h-1zM10 2h1v1h-1zM15 2h1v1h-1zM7 3h3v1h-3zM15 3h1v1h-1zM11 4h3v1h-3zM53 4h1v1h-1zM10 6h1v1h-1zM3 7h1v1h-1zM9 7h1v1h-1zM3 8h1v1h-1zM16 8h1v1h-1zM6 9h1v1h-1zM12 10h2v1h-2zM18 11h1v1h-1zM18 12h1v1h-1zM18 13h2v1h-2zM18 14h1v1h-1zM18 15h1v1h-1zM19 16h1v1h-1zM20 17h1v1h-1zM32 32h1v1h-1zM33 35h1v1h-1zM34 37h1v1h-1zM36 41h1v1h-1zM37 46h1v1h-1zM37 49h1v1h-1zM46 50h2v1h-2zM50 50h1v1h-1zM39 51h1v1h-1zM45 51h1v1h-1zM49 51h1v1h-1zM40 53h1v1h-1zM44 53h1v1h-1zM50 53h1v1h-1zM36 54h6v1h-6zM48 54h1v1h-1zM31 55h1v1h-1zM34 55h1v1h-1zM40 55h1v1h-1zM46 55h1v1h-1zM34 56h1v1h-1zM45 56h1v1h-1zM35 57h1v1h-1z"/><path fill="#0087ff" d="M16 0h1v1h-1zM21 0h1v1h-1zM25 0h1v1h-1zM27 0h1v1h-1zM1 1h1v1h-1zM21 1h1v1h-1zM51 1h1v1h-1zM16 2h1v1h-1zM22 2h2v1h-2zM10 3h2v1h-2zM14 3h1v1h-1zM16 3h1v1h-1zM14 4h1v1h-1zM16 4h4v1h-4zM14 5h1v1h-1zM17 5h3v1h-3zM3 6h1v1h-1zM15 6h1v1h-1zM17 6h2v1h-2zM2 7h1v1h-1zM16 7h1v1h-1zM1 8h1v1h-1zM7 8h1v1h-1zM17 9h1v1h-1zM18 10h1v1h-1zM19 12h1v1h-1zM20 13h1v1h-1zM19 14h1v1h-1zM19 15h1v1h-1zM20 16h1v1h-1zM21 18h1v1h-1zM21 19h1v1h-1zM21 20h1v1h-1zM21 21h1v1h-1zM21 22h1v1h-1zM21 23h1v1h-1zM23 25h1v1h-1zM30 31h1v1h-1zM32 33h1v1h-1zM34 38h1v1h-1zM34 39h1v1h-1zM35 40h1v1h-1zM36 42h1v1h-1zM36 43h1v1h-1zM36 44h1v1h-1zM36 45h1v1h-1zM36 46h1v1h-1zM37 47h1v1h-1zM37 48h1v1h-1zM50 48h2v1h-2zM49 49h1v1h-1zM51 49h1v1h-1zM37 50h1v1h-1zM48 50h2v1h-2zM53 50h1v1h-1zM38 51h1v1h-1zM39 52h1v1h-1zM37 53h3v1h-3zM35 54h1v1h-1zM42 54h2v1h-2zM28 55h1v1h-1zM32 55h2v1h-2zM32 56h2v1h-2zM40 56h1v1h-1zM27 57h1v1h-1zM32 57h1v1h-1zM34 57h1v1h-1zM40 57h1v1h-1z"/><path fill="#0028ff" d="M19 0h1v1h-1zM7 1h1v1h-1zM11 1h1v1h-1zM12 2h1v1h-1zM24 3h1v1h-1zM7 4h2v1h-2zM22 4h1v1h-1zM6 5h1v1h-1zM6 6h1v1h-1zM21 6h1v1h-1zM5 7h2v1h-2zM21 7h1v1h-1zM5 8h1v1h-1zM20 8h3v1h-3zM19 9h1v1h-1zM22 9h1v1h-1zM22 10h1v1h-1zM21 11h1v1h-1zM22 14h1v1h-1zM22 19h1v1h-1zM22 22h1v1h-1zM26 25h1v1h-1zM30 32h1v1h-1zM32 36h1v1h-1zM33 43h1v1h-1zM33 44h1v1h-1zM33 46h1v1h-1zM33 47h1v1h-1zM33 48h1v1h-1zM34 49h1v1h-1zM34 50h1v1h-1zM34 52h1v1h-1zM52 52h1v1h-1zM2 53h1v1h-1zM33 53h1v1h-1zM28 54h1v1h-1zM26 55h1v1h-1zM4 56h1v1h-1zM26 56h1v1h-1zM43 56h1v1h-1zM26 57h1v1h-1zM42 57h2v1h-2z"/><path fill="#00b7ff" d="M22 0h2v1h-2zM8 1h1v1h-1zM23 1h1v1h-1zM11 5h1v1h-1zM13 5h1v1h-1zM14 6h1v1h-1zM15 7h1v1h-1zM55 7h1v1h-1zM15 8h1v1h-1zM3 9h1v1h-1zM12 9h3v1h-3zM16 9h1v1h-1zM17 10h1v1h-1zM17 11h1v1h-1zM17 15h1v1h-1zM18 16h1v1h-1zM19 17h1v1h-1zM20 18h1v1h-1zM21 24h1v1h-1zM22 25h1v1h-1zM31 31h1v1h-1zM33 33h1v1h-1zM33 34h1v1h-1zM35 39h1v1h-1zM36 40h1v1h-1zM37 42h1v1h-1zM39 42h2v1h-2zM37 43h1v1h-1zM39 43h1v1h-1zM37 44h1v1h-1zM37 45h1v1h-1zM38 46h1v1h-1zM38 47h1v1h-1zM55 47h1v1h-1zM38 48h1v1h-1zM49 48h1v1h-1zM52 48h1v1h-1zM38 49h1v1h-1zM48 49h1v1h-1zM52 49h1v1h-1zM38 50h1v1h-1zM51 50h1v1h-1zM52 51h1v1h-1zM40 52h1v1h-1zM49 52h1v1h-1zM41 53h1v1h-1zM49 53h1v1h-1zM3 54h1v1h-1zM29 55h2v1h-2zM35 55h5v1h-5zM28 56h1v1h-1zM31 56h1v1h-1zM35 56h1v1h-1zM39 56h1v1h-1zM28 57h1v1h-1zM31 57h1v1h-1zM39 57h1v1h-1zM52 57h1v1h-1z"/><path fill="#0070ff" d="M26 0h1v1h-1zM28 0h1v1h-1zM10 1h1v1h-1zM14 1h1v1h-1zM17 1h1v1h-1zM25 1h3v1h-3zM14 2h1v1h-1zM17 2h1v1h-1zM21 2h1v1h-1zM24 2h1v1h-1zM6 3h1v1h-1zM12 3h2v1h-2zM17 3h2v1h-2zM10 4h1v1h-1zM15 4h1v1h-1zM20 4h1v1h-1zM4 5h2v1h-2zM10 5h1v1h-1zM15 5h2v1h-2zM20 5h1v1h-1zM4 6h1v1h-1zM16 6h1v1h-1zM19 6h1v1h-1zM8 7h1v1h-1zM17 7h1v1h-1zM17 8h1v1h-1zM4 9h2v1h-2zM18 9h1v1h-1zM19 11h1v1h-1zM20 12h1v1h-1zM20 14h1v1h-1zM20 15h1v1h-1zM21 16h1v1h-1zM21 17h1v1h-1zM22 24h1v1h-1zM24 25h1v1h-1zM31 32h1v1h-1zM32 34h1v1h-1zM33 36h1v1h-1zM34 40h1v1h-1zM35 41h1v1h-1zM35 47h2v1h-2zM36 48h1v1h-1zM36 49h1v1h-1zM50 49h1v1h-1zM36 50h1v1h-1zM1 51h1v1h-1zM37 51h1v1h-1zM48 51h1v1h-1zM37 52h2v1h-2zM45 52h1v1h-1zM48 52h1v1h-1zM36 53h1v1h-1zM48 53h1v1h-1zM34 54h1v1h-1zM44 54h1v1h-1zM46 54h2v1h-2zM41 55h1v1h-1zM45 55h1v1h-1zM48 55h1v1h-1zM27 56h1v1h-1zM47 56h1v1h-1zM5 57h1v1h-1zM33 57h1v1h-1zM45 57h1v1h-1z"/><path fill="#ff00d7" d="M32 0h1v1h-1zM32 1h1v1h-1zM36 1h1v1h-1zM38 1h1v1h-1zM33 2h1v1h-1zM4 3h1v1h-1zM35 6h1v1h-1zM38 9h1v1h-1zM39 10h1v1h-1zM38 15h1v1h-1zM31 20h1v1h-1zM28 34h1v1h-1zM28 35h1v1h-1zM28 36h1v1h-1zM23 39h1v1h-1zM22 41h1v1h-1zM21 42h2v1h-2zM20 43h2v1h-2zM17 44h4v1h-4zM16 45h2v1h-2zM19 45h2v1h-2zM17 46h1v1h-1zM19 46h3v1h-3zM18 47h4v1h-4zM18 48h2v1h-2zM19 49h1v1h-1zM20 51h1v1h-1zM21 54h1v1h-1zM15 56h1v1h-1zM17 56h1v1h-1zM18 57h1v1h-1zM48 57h1v1h-1z"/><path fill="#ff008f" d="M33 0h2v1h-2zM34 1h1v1h-1zM53 1h1v1h-1zM37 3h1v1h-1zM55 4h1v1h-1zM36 6h1v1h-1zM39 8h2v1h-2zM40 12h1v1h-1zM40 13h1v1h-1zM40 15h1v1h-1zM39 16h1v1h-1zM35 20h1v1h-1zM29 22h1v1h-1zM28 24h1v1h-1zM28 32h1v1h-1zM27 35h1v1h-1zM25 37h1v1h-1zM21 39h1v1h-1zM19 40h2v1h-2zM19 41h1v1h-1zM18 42h1v1h-1zM16 43h1v1h-1zM14 44h1v1h-1zM14 45h1v1h-1zM14 46h1v1h-1zM15 48h1v1h-1zM17 49h1v1h-1zM19 51h1v1h-1zM19 54h1v1h-1zM19 55h3v1h-3zM2 56h1v1h-1zM3 57h1v1h-1zM55 57h1v1h-1z"/><path fill="#f700ff" d="M37 0h1v1h-1zM3 4h1v1h-1zM0 7h1v1h-1zM35 7h1v1h-1zM35 8h1v1h-1zM34 9h2v1h-2zM34 10h1v1h-1zM36 10h2v1h-2zM35 11h3v1h-3zM37 12h1v1h-1zM37 13h1v1h-1zM37 14h1v1h-1zM35 15h3v1h-3zM27 19h1v1h-1zM32 19h1v1h-1zM26 20h1v1h-1zM26 21h2v1h-2zM29 36h1v1h-1zM29 37h1v1h-1zM29 38h1v1h-1zM23 41h1v1h-1zM23 42h1v1h-1zM22 44h1v1h-1zM22 45h1v1h-1zM23 46h1v1h-1zM23 47h1v1h-1zM21 49h1v1h-1zM20 50h1v1h-1zM21 53h1v1h-1zM22 54h1v1h-1zM23 55h1v1h-1zM16 57h1v1h-1z"/><path fill="#ff00bf" d="M39 0h1v1h-1zM35 1h1v1h-1zM34 2h4v1h-4zM35 3h1v1h-1zM35 4h1v1h-1zM35 5h1v1h-1zM36 7h1v1h-1zM37 8h1v1h-1zM39 9h1v1h-1zM39 11h1v1h-1zM39 12h1v1h-1zM39 13h1v1h-1zM39 14h1v1h-1zM38 16h1v1h-1zM37 17h1v1h-1zM36 19h1v1h-1zM32 20h2v1h-2zM29 21h1v1h-1zM28 23h1v1h-1zM28 33h1v1h-1zM28 37h1v1h-1zM24 38h1v1h-1zM22 40h1v1h-1zM21 41h1v1h-1zM20 42h1v1h-1zM18 43h2v1h-2zM16 44h1v1h-1zM15 45h1v1h-1zM16 46h1v1h-1zM16 47h2v1h-2zM17 48h1v1h-1zM19 50h1v1h-1zM55 50h1v1h-1zM20 52h1v1h-1zM1 54h1v1h-1zM51 54h1v1h-1zM15 55h2v1h-2zM22 55h1v1h-1zM18 56h1v1h-1zM23 56h1v1h-1z"/><path fill="#ff0078" d="M40 0h1v1h-1zM40 1h1v1h-1zM39 2h1v1h-1zM38 3h1v1h-1zM36 4h1v1h-1zM1 5h1v1h-1zM36 5h1v1h-1zM37 7h1v1h-1zM39 7h2v1h-2zM41 12h1v1h-1zM41 13h1v1h-1zM41 14h1v1h-1zM41 15h1v1h-1zM38 17h1v1h-1zM36 20h1v1h-1zM31 21h2v1h-2zM26 36h1v1h-1zM24 37h1v1h-1zM21 38h2v1h-2zM20 39h1v1h-1zM18 40h1v1h-1zM18 41h1v1h-1zM13 42h1v1h-1zM17 42h1v1h-1zM13 43h3v1h-3zM13 44h1v1h-1zM13 45h1v1h-1zM14 47h1v1h-1zM14 48h1v1h-1zM16 49h1v1h-1zM18 50h1v1h-1zM18 51h1v1h-1zM18 52h2v1h-2zM18 53h2v1h-2zM15 54h4v1h-4zM14 55h1v1h-1zM50 55h1v1h-1zM9 56h1v1h-1zM20 56h3v1h-3zM20 57h1v1h-1z"/><path fill="#ff0060" d="M41 0h1v1h-1zM46 1h1v1h-1zM46 2h2v1h-2zM2 4h1v1h-1zM37 4h2v1h-2zM37 5h1v1h-1zM39 5h4v1h-4zM37 6h1v1h-1zM39 6h2v1h-2zM38 7h1v1h-1zM41 9h1v1h-1zM41 10h1v1h-1zM41 11h1v1h-1zM42 12h1v1h-1zM42 13h1v1h-1zM42 14h1v1h-1zM42 15h1v1h-1zM40 16h4v1h-4zM43 17h1v1h-1zM37 19h1v1h-1zM33 21h3v1h-3zM27 34h1v1h-1zM23 37h1v1h-1zM20 38h1v1h-1zM19 39h1v1h-1zM12 41h2v1h-2zM17 41h1v1h-1zM12 42h1v1h-1zM14 42h3v1h-3zM12 43h1v1h-1zM12 44h1v1h-1zM12 45h1v1h-1zM13 46h1v1h-1zM13 47h1v1h-1zM13 48h1v1h-1zM13 49h3v1h-3zM17 50h1v1h-1zM17 51h1v1h-1zM17 52h1v1h-1zM17 53h1v1h-1zM14 54h1v1h-1zM9 55h1v1h-1zM10 56h1v1h-1zM13 56h1v1h-1zM13 57h1v1h-1zM21 57h2v1h-2z"/><path fill="#ff0048" d="M42 0h1v1h-1zM45 0h1v1h-1zM41 1h2v1h-2zM45 1h1v1h-1zM40 2h1v1h-1zM45 2h1v1h-1zM54 2h1v1h-1zM39 3h1v1h-1zM39 4h5v1h-5zM38 5h1v1h-1zM43 5h1v1h-1zM0 6h1v1h-1zM38 6h1v1h-1zM41 6h2v1h-2zM41 7h1v1h-1zM41 8h1v1h-1zM43 12h1v1h-1zM43 13h1v1h-1zM43 14h1v1h-1zM43 15h1v1h-1zM44 16h1v1h-1zM42 17h1v1h-1zM44 17h1v1h-1zM38 18h1v1h-1zM43 18h2v1h-2zM30 22h1v1h-1zM29 23h1v1h-1zM26 35h1v1h-1zM25 36h1v1h-1zM20 37h3v1h-3zM19 38h1v1h-1zM18 39h1v1h-1zM12 40h2v1h-2zM17 40h1v1h-1zM14 41h1v1h-1zM16 41h1v1h-1zM11 44h1v1h-1zM11 45h1v1h-1zM11 46h2v1h-2zM11 47h2v1h-2zM11 48h2v1h-2zM12 49h1v1h-1zM13 50h1v1h-1zM16 50h1v1h-1zM15 53h2v1h-2zM1 55h1v1h-1zM8 55h1v1h-1zM10 55h1v1h-1zM13 55h1v1h-1zM11 57h1v1h-1z"/><path fill="#ff0030" d="M43 0h2v1h-2zM43 1h2v1h-2zM41 2h4v1h-4zM40 3h9v1h-9zM43 6h1v1h-1zM45 8h2v1h-2zM46 9h1v1h-1zM42 11h1v1h-1zM44 12h1v1h-1zM44 13h1v1h-1zM44 14h1v1h-1zM44 15h1v1h-1zM39 17h1v1h-1zM41 17h1v1h-1zM42 18h1v1h-1zM37 20h1v1h-1zM36 21h1v1h-1zM24 36h1v1h-1zM12 39h1v1h-1zM11 40h1v1h-1zM14 40h1v1h-1zM11 41h1v1h-1zM15 41h1v1h-1zM10 45h1v1h-1zM9 46h2v1h-2zM9 47h2v1h-2zM9 48h2v1h-2zM11 49h1v1h-1zM12 50h1v1h-1zM14 50h2v1h-2zM13 51h1v1h-1zM16 51h1v1h-1zM16 52h1v1h-1zM0 53h1v1h-1zM14 53h1v1h-1zM7 54h4v1h-4zM13 54h1v1h-1zM11 55h1v1h-1zM11 56h2v1h-2zM12 57h1v1h-1z"/><path fill="#ff3000" d="M46 0h1v1h-1zM53 0h1v1h-1zM1 4h1v1h-1zM49 4h1v1h-1zM48 5h1v1h-1zM48 6h1v1h-1zM48 7h1v1h-1zM48 8h1v1h-1zM48 9h1v1h-1zM48 10h1v1h-1zM48 11h1v1h-1zM48 12h1v1h-1zM55 12h1v1h-1zM53 14h1v1h-1zM46 15h1v1h-1zM46 16h1v1h-1zM46 17h1v1h-1zM40 18h1v1h-1zM53 18h1v1h-1zM39 19h1v1h-1zM41 19h1v1h-1zM53 19h1v1h-1zM42 20h1v1h-1zM38 21h1v1h-1zM43 21h2v1h-2zM38 22h1v1h-1zM23 35h1v1h-1zM18 36h1v1h-1zM13 37h1v1h-1zM14 38h1v1h-1zM17 38h1v1h-1zM10 39h1v1h-1zM15 39h1v1h-1zM0 40h1v1h-1zM0 41h1v1h-1zM10 41h1v1h-1zM10 42h1v1h-1zM2 43h1v1h-1zM8 43h2v1h-2zM2 44h1v1h-1zM2 45h1v1h-1zM7 45h1v1h-1zM6 50h1v1h-1zM5 51h1v1h-1zM0 54h1v1h-1zM7 55h1v1h-1zM2 57h1v1h-1zM49 57h1v1h-1z"/><path fill="#ffbf00" d="M47 0h1v1h-1zM2 3h1v1h-1zM0 4h1v1h-1zM50 8h1v1h-1zM50 9h1v1h-1zM50 10h1v1h-1zM50 11h2v1h-2zM50 12h1v1h-1zM50 13h1v1h-1zM50 14h1v1h-1zM49 15h2v1h-2zM48 16h1v1h-1zM48 19h1v1h-1zM48 20h1v1h-1zM47 22h1v1h-1zM47 23h1v1h-1zM52 23h1v1h-1zM32 24h1v1h-1zM35 24h1v1h-1zM47 24h1v1h-1zM37 25h1v1h-1zM54 25h2v1h-2zM41 26h1v1h-1zM43 26h2v1h-2zM55 26h1v1h-1zM54 27h2v1h-2zM54 28h2v1h-2zM12 31h1v1h-1zM16 31h1v1h-1zM10 32h1v1h-1zM17 32h1v1h-1zM2 33h1v1h-1zM9 33h2v1h-2zM18 33h1v1h-1zM3 34h1v1h-1zM8 34h3v1h-3zM8 35h3v1h-3zM9 36h1v1h-1zM3 37h1v1h-1zM3 38h1v1h-1zM8 39h1v1h-1zM7 40h1v1h-1zM3 41h1v1h-1zM4 42h1v1h-1zM6 42h1v1h-1zM2 48h3v1h-3zM3 49h1v1h-1zM50 56h1v1h-1z"/><path fill="#80ff00" d="M48 0h1v1h-1zM49 1h1v1h-1zM2 25h1v1h-1zM4 25h2v1h-2zM6 26h1v1h-1zM32 26h3v1h-3zM7 27h4v1h-4zM29 27h1v1h-1zM15 28h1v1h-1zM47 28h3v1h-3zM37 29h1v1h-1zM45 29h1v1h-1zM50 30h1v1h-1zM44 31h1v1h-1zM51 31h1v1h-1zM21 32h4v1h-4zM40 32h1v1h-1zM42 32h2v1h-2zM53 32h1v1h-1zM54 36h2v1h-2zM52 37h1v1h-1zM52 38h1v1h-1zM53 39h1v1h-1zM55 41h1v1h-1zM4 53h1v1h-1z"/><path fill="#00ff58" d="M49 0h1v1h-1zM54 7h1v1h-1zM2 13h1v1h-1zM8 13h1v1h-1zM11 17h1v1h-1zM12 18h1v1h-1zM13 20h1v1h-1zM14 21h1v1h-1zM14 22h1v1h-1zM15 23h2v1h-2zM18 25h1v1h-1zM18 26h1v1h-1zM18 27h3v1h-3zM21 29h1v1h-1zM25 29h1v1h-1zM29 29h1v1h-1zM34 29h1v1h-1zM22 30h2v1h-2zM36 32h1v1h-1zM37 33h1v1h-1zM38 35h1v1h-1zM39 36h1v1h-1zM41 37h1v1h-1zM42 38h1v1h-1zM44 40h1v1h-1zM50 40h1v1h-1zM44 41h1v1h-1zM50 41h2v1h-2zM44 42h1v1h-1zM55 43h1v1h-1zM45 44h2v1h-2zM47 45h1v1h-1zM4 54h1v1h-1zM52 56h1v1h-1z"/><path fill="#00cfff" d="M50 0h1v1h-1zM9 1h1v1h-1zM0 2h1v1h-1zM7 2h1v1h-1zM9 2h1v1h-1zM12 5h1v1h-1zM11 6h1v1h-1zM13 6h1v1h-1zM10 7h1v1h-1zM14 7h1v1h-1zM8 8h1v1h-1zM13 8h2v1h-2zM11 9h1v1h-1zM15 9h1v1h-1zM11 10h1v1h-1zM14 10h3v1h-3zM12 11h2v1h-2zM17 12h1v1h-1zM17 13h1v1h-1zM17 14h1v1h-1zM17 16h1v1h-1zM18 17h1v1h-1zM19 18h1v1h-1zM20 19h1v1h-1zM32 31h1v1h-1zM33 32h1v1h-1zM34 36h1v1h-1zM35 38h1v1h-1zM37 41h1v1h-1zM38 42h1v1h-1zM38 43h1v1h-1zM40 43h1v1h-1zM38 44h2v1h-2zM38 45h2v1h-2zM39 50h1v1h-1zM42 50h4v1h-4zM40 51h1v1h-1zM44 51h1v1h-1zM50 51h1v1h-1zM2 52h1v1h-1zM41 52h1v1h-1zM44 52h1v1h-1zM42 53h2v1h-2zM47 55h1v1h-1zM29 56h1v1h-1zM36 56h1v1h-1zM38 56h1v1h-1zM36 57h1v1h-1z"/><path fill="#dfff00" d="M54 0h1v1h-1zM50 3h1v1h-1zM50 17h1v1h-1zM50 18h1v1h-1zM50 21h1v1h-1zM50 24h1v1h-1zM32 25h3v1h-3zM50 25h2v1h-2zM0 26h2v1h-2zM48 26h1v1h-1zM51 26h1v1h-1zM2 27h1v1h-1zM38 27h3v1h-3zM45 27h1v1h-1zM2 28h1v1h-1zM40 28h1v1h-1zM44 28h1v1h-1zM2 29h1v1h-1zM8 29h8v1h-8zM39 29h1v1h-1zM52 29h1v1h-1zM2 30h1v1h-1zM7 30h1v1h-1zM39 30h1v1h-1zM43 30h1v1h-1zM54 31h1v1h-1zM3 32h4v1h-4zM53 54h1v1h-1zM6 55h1v1h-1zM0 56h1v1h-1zM8 57h1v1h-1z"/><path fill="#08ff00" d="M55 0h1v1h-1zM2 2h1v1h-1zM4 13h2v1h-2zM5 14h1v1h-1zM3 16h1v1h-1zM7 17h2v1h-2zM7 18h1v1h-1zM9 18h1v1h-1zM7 19h1v1h-1zM9 19h1v1h-1zM7 20h1v1h-1zM9 20h1v1h-1zM4 21h8v1h-8zM0 22h2v1h-2zM8 22h1v1h-1zM12 22h1v1h-1zM7 23h2v1h-2zM13 23h1v1h-1zM14 24h1v1h-1zM15 26h1v1h-1zM16 27h1v1h-1zM27 27h1v1h-1zM17 28h1v1h-1zM27 28h1v1h-1zM29 28h1v1h-1zM18 29h1v1h-1zM27 29h1v1h-1zM20 30h1v1h-1zM47 30h2v1h-2zM22 31h2v1h-2zM47 31h2v1h-2zM38 32h1v1h-1zM47 32h2v1h-2zM39 34h1v1h-1zM42 34h1v1h-1zM40 35h2v1h-2zM43 35h1v1h-1zM45 37h1v1h-1zM46 38h1v1h-1zM46 39h1v1h-1zM51 39h1v1h-1zM48 40h1v1h-1zM46 41h1v1h-1zM48 41h1v1h-1zM46 42h3v1h-3zM3 52h1v1h-1zM55 53h1v1h-1z"/><path fill="#3800ff" d="M0 1h1v1h-1zM30 2h1v1h-1zM30 3h1v1h-1zM25 4h8v1h-8zM30 5h1v1h-1zM32 5h1v1h-1zM31 6h1v1h-1zM24 7h1v1h-1zM25 8h4v1h-4zM25 9h2v1h-2zM28 9h1v1h-1zM28 11h1v1h-1zM28 14h2v1h-2zM29 15h1v1h-1zM23 19h1v1h-1zM23 21h1v1h-1zM31 36h1v1h-1zM31 41h1v1h-1zM31 42h1v1h-1zM31 43h1v1h-1zM31 44h1v1h-1zM31 45h1v1h-1zM30 46h1v1h-1zM29 47h1v1h-1zM30 48h1v1h-1zM30 49h2v1h-2zM32 50h1v1h-1zM32 51h1v1h-1zM32 52h1v1h-1zM29 53h1v1h-1zM25 54h1v1h-1zM25 55h1v1h-1zM25 56h1v1h-1z"/><path fill="#00e7ff" d="M2 1h1v1h-1zM12 6h1v1h-1zM11 7h3v1h-3zM2 8h1v1h-1zM9 8h4v1h-4zM7 9h1v1h-1zM4 10h2v1h-2zM11 11h1v1h-1zM14 11h3v1h-3zM16 12h1v1h-1zM16 13h1v1h-1zM16 14h1v1h-1zM16 15h1v1h-1zM16 16h1v1h-1zM17 17h1v1h-1zM20 20h1v1h-1zM20 21h1v1h-1zM20 22h1v1h-1zM20 23h1v1h-1zM21 25h1v1h-1zM23 26h3v1h-3zM34 35h1v1h-1zM36 39h1v1h-1zM37 40h1v1h-1zM38 41h2v1h-2zM40 44h1v1h-1zM40 45h1v1h-1zM55 45h1v1h-1zM39 46h1v1h-1zM39 47h1v1h-1zM51 47h2v1h-2zM39 48h1v1h-1zM39 49h1v1h-1zM42 49h3v1h-3zM47 49h1v1h-1zM40 50h2v1h-2zM52 50h1v1h-1zM41 51h3v1h-3zM42 52h1v1h-1zM51 52h1v1h-1zM4 55h1v1h-1zM30 56h1v1h-1zM37 56h1v1h-1zM46 56h1v1h-1zM53 56h1v1h-1zM29 57h2v1h-2zM37 57h2v1h-2z"/><path fill="#00ffe7" d="M3 1h1v1h-1zM9 9h1v1h-1zM2 10h1v1h-1zM7 10h1v1h-1zM9 10h1v1h-1zM10 11h1v1h-1zM11 12h1v1h-1zM12 13h3v1h-3zM14 14h1v1h-1zM14 15h1v1h-1zM15 17h1v1h-1zM15 18h1v1h-1zM20 24h1v1h-1zM32 30h1v1h-1zM34 33h1v1h-1zM35 35h1v1h-1zM35 36h1v1h-1zM37 38h1v1h-1zM41 41h1v1h-1zM41 44h1v1h-1zM55 44h1v1h-1zM41 45h1v1h-1zM40 47h1v1h-1zM54 47h1v1h-1zM40 48h5v1h-5zM55 54h1v1h-1z"/><path fill="#38ff00" d="M4 1h1v1h-1zM50 2h1v1h-1zM0 3h1v1h-1zM55 9h1v1h-1zM0 15h1v1h-1zM1 16h1v1h-1zM3 18h1v1h-1zM0 19h3v1h-3zM1 20h2v1h-2zM5 23h1v1h-1zM2 24h2v1h-2zM7 24h7v1h-7zM14 26h1v1h-1zM15 27h1v1h-1zM31 27h1v1h-1zM34 27h1v1h-1zM36 29h1v1h-1zM47 29h2v1h-2zM27 30h1v1h-1zM46 30h1v1h-1zM25 31h1v1h-1zM46 31h1v1h-1zM49 31h1v1h-1zM46 32h1v1h-1zM50 32h2v1h-2zM47 33h1v1h-1zM53 33h1v1h-1zM44 34h1v1h-1zM49 34h1v1h-1zM54 34h2v1h-2zM44 35h1v1h-1zM50 35h6v1h-6zM45 36h2v1h-2zM48 37h2v1h-2zM52 39h1v1h-1zM55 42h1v1h-1zM6 56h1v1h-1zM7 57h1v1h-1zM50 57h1v1h-1z"/><path fill="#8000ff" d="M6 1h1v1h-1zM52 1h1v1h-1zM32 3h1v1h-1zM33 4h1v1h-1zM30 8h1v1h-1zM30 9h1v1h-1zM30 10h1v1h-1zM30 11h1v1h-1zM30 12h1v1h-1zM31 14h1v1h-1zM31 15h1v1h-1zM31 16h1v1h-1zM28 17h1v1h-1zM30 17h1v1h-1zM24 19h1v1h-1zM24 20h1v1h-1zM24 21h1v1h-1zM24 22h1v1h-1zM25 23h1v1h-1zM30 35h1v1h-1zM27 41h1v1h-1zM30 41h1v1h-1zM25 42h1v1h-1zM27 42h1v1h-1zM29 42h1v1h-1zM25 43h5v1h-5zM25 44h4v1h-4zM26 45h3v1h-3zM26 46h1v1h-1zM25 48h1v1h-1zM24 49h1v1h-1zM23 50h1v1h-1zM22 51h1v1h-1zM27 51h1v1h-1zM29 51h1v1h-1zM22 52h1v1h-1zM27 52h1v1h-1zM29 52h1v1h-1zM49 55h1v1h-1zM47 57h1v1h-1z"/><path fill="#ff0018" d="M47 1h1v1h-1zM48 2h1v1h-1zM44 4h1v1h-1zM42 7h5v1h-5zM42 8h1v1h-1zM44 8h1v1h-1zM47 8h1v1h-1zM42 9h1v1h-1zM45 9h1v1h-1zM47 9h1v1h-1zM42 10h1v1h-1zM45 10h3v1h-3zM43 11h5v1h-5zM45 12h3v1h-3zM45 13h1v1h-1zM45 14h1v1h-1zM45 16h1v1h-1zM40 17h1v1h-1zM45 17h1v1h-1zM55 17h1v1h-1zM45 18h1v1h-1zM55 18h1v1h-1zM43 19h2v1h-2zM55 19h1v1h-1zM55 20h1v1h-1zM37 21h1v1h-1zM31 22h2v1h-2zM28 25h1v1h-1zM27 33h1v1h-1zM22 36h2v1h-2zM19 37h1v1h-1zM12 38h1v1h-1zM11 39h1v1h-1zM13 39h1v1h-1zM17 39h1v1h-1zM15 40h2v1h-2zM11 42h1v1h-1zM0 43h1v1h-1zM11 43h1v1h-1zM0 44h2v1h-2zM10 44h1v1h-1zM0 45h1v1h-1zM9 45h1v1h-1zM8 46h1v1h-1zM8 47h1v1h-1zM8 48h1v1h-1zM9 49h2v1h-2zM11 50h1v1h-1zM11 51h2v1h-2zM14 51h2v1h-2zM13 52h3v1h-3zM54 52h1v1h-1zM7 53h5v1h-5zM13 53h1v1h-1zM53 53h1v1h-1zM11 54h2v1h-2zM12 55h1v1h-1zM10 57h1v1h-1z"/><path fill="#ffa700" d="M48 1h1v1h-1zM55 2h1v1h-1zM51 5h1v1h-1zM51 6h1v1h-1zM50 7h1v1h-1zM53 10h1v1h-1zM51 12h1v1h-1zM51 13h1v1h-1zM49 14h1v1h-1zM51 14h1v1h-1zM51 15h1v1h-1zM52 20h1v1h-1zM47 21h1v1h-1zM46 23h1v1h-1zM31 24h1v1h-1zM36 24h1v1h-1zM53 24h1v1h-1zM38 25h1v1h-1zM46 25h1v1h-1zM42 26h1v1h-1zM13 31h1v1h-1zM1 32h1v1h-1zM11 32h1v1h-1zM11 33h1v1h-1zM11 34h2v1h-2zM20 34h2v1h-2zM3 35h1v1h-1zM3 36h1v1h-1zM9 37h1v1h-1zM2 39h1v1h-1zM2 40h1v1h-1zM7 41h1v1h-1zM5 43h1v1h-1zM3 47h3v1h-3zM5 48h1v1h-1zM4 49h1v1h-1zM4 52h1v1h-1z"/><path fill="#00ff70" d="M50 1h1v1h-1zM8 12h1v1h-1zM0 13h2v1h-2zM9 14h1v1h-1zM10 15h1v1h-1zM11 16h1v1h-1zM13 19h1v1h-1zM14 20h1v1h-1zM17 23h1v1h-1zM18 24h1v1h-1zM19 26h1v1h-1zM26 27h1v1h-1zM21 28h1v1h-1zM35 31h1v1h-1zM36 33h1v1h-1zM37 34h1v1h-1zM40 37h1v1h-1zM41 38h1v1h-1zM41 39h2v1h-2zM43 40h1v1h-1zM44 43h1v1h-1zM44 44h1v1h-1zM53 44h1v1h-1zM45 45h2v1h-2zM52 45h1v1h-1zM47 46h3v1h-3zM2 51h1v1h-1z"/><path fill="#ff6000" d="M54 1h1v1h-1zM49 5h1v1h-1zM49 6h1v1h-1zM53 11h1v1h-1zM52 12h1v1h-1zM52 14h1v1h-1zM47 15h1v1h-1zM46 19h1v1h-1zM46 20h1v1h-1zM40 21h2v1h-2zM45 21h1v1h-1zM40 22h2v1h-2zM44 22h2v1h-2zM32 23h1v1h-1zM35 23h1v1h-1zM39 23h5v1h-5zM39 24h1v1h-1zM41 24h1v1h-1zM14 32h2v1h-2zM27 32h1v1h-1zM14 33h2v1h-2zM0 34h2v1h-2zM25 34h1v1h-1zM1 35h1v1h-1zM17 35h1v1h-1zM1 36h1v1h-1zM11 36h1v1h-1zM13 36h1v1h-1zM17 36h1v1h-1zM0 37h2v1h-2zM10 37h1v1h-1zM14 37h1v1h-1zM17 37h1v1h-1zM1 38h1v1h-1zM15 38h1v1h-1zM1 39h1v1h-1zM1 40h1v1h-1zM9 40h1v1h-1zM9 41h1v1h-1zM8 42h1v1h-1zM7 43h1v1h-1zM3 44h1v1h-1zM6 44h1v1h-1zM3 45h1v1h-1zM5 45h1v1h-1zM6 46h1v1h-1zM1 47h1v1h-1zM6 48h1v1h-1zM5 50h1v1h-1zM5 53h1v1h-1zM6 54h1v1h-1z"/><path fill="#c7ff00" d="M55 1h1v1h-1zM3 2h1v1h-1zM1 3h1v1h-1zM50 19h1v1h-1zM50 20h1v1h-1zM30 26h1v1h-1zM36 26h1v1h-1zM49 26h2v1h-2zM3 27h2v1h-2zM37 27h1v1h-1zM46 27h2v1h-2zM51 27h1v1h-1zM3 28h1v1h-1zM11 28h3v1h-3zM38 28h2v1h-2zM51 28h1v1h-1zM3 29h1v1h-1zM7 29h1v1h-1zM38 29h1v1h-1zM44 29h1v1h-1zM52 30h1v1h-1zM3 31h1v1h-1zM6 31h1v1h-1zM27 31h1v1h-1zM40 31h3v1h-3zM53 31h1v1h-1zM19 32h1v1h-1zM55 37h1v1h-1zM54 38h2v1h-2zM55 39h1v1h-1zM3 51h1v1h-1z"/><path fill="#00ff87" d="M1 2h1v1h-1zM55 8h1v1h-1zM4 11h4v1h-4zM2 12h1v1h-1zM9 13h1v1h-1zM11 15h1v1h-1zM12 16h1v1h-1zM12 17h1v1h-1zM15 20h1v1h-1zM15 21h3v1h-3zM15 22h3v1h-3zM18 23h1v1h-1zM19 25h1v1h-1zM25 28h1v1h-1zM22 29h3v1h-3zM30 29h1v1h-1zM33 29h1v1h-1zM34 30h1v1h-1zM35 32h1v1h-1zM36 34h1v1h-1zM37 35h1v1h-1zM38 36h1v1h-1zM39 37h1v1h-1zM40 38h1v1h-1zM42 40h1v1h-1zM43 41h1v1h-1zM43 42h1v1h-1zM43 43h1v1h-1zM43 44h1v1h-1zM44 45h1v1h-1zM46 46h1v1h-1zM50 46h1v1h-1zM6 57h1v1h-1z"/><path fill="#ff1800" d="M4 2h1v1h-1zM49 3h1v1h-1zM55 3h1v1h-1zM45 5h3v1h-3zM47 6h1v1h-1zM43 10h1v1h-1zM53 12h2v1h-2zM47 13h1v1h-1zM53 13h1v1h-1zM55 13h1v1h-1zM46 14h1v1h-1zM55 14h1v1h-1zM54 15h2v1h-2zM54 16h1v1h-1zM45 19h1v1h-1zM38 20h1v1h-1zM43 20h2v1h-2zM37 22h1v1h-1zM54 22h1v1h-1zM30 23h1v1h-1zM29 24h1v1h-1zM26 34h1v1h-1zM24 35h1v1h-1zM19 36h1v1h-1zM11 37h2v1h-2zM18 37h1v1h-1zM16 39h1v1h-1zM10 40h1v1h-1zM0 42h2v1h-2zM10 43h1v1h-1zM8 44h1v1h-1zM0 46h2v1h-2zM7 46h1v1h-1zM7 47h1v1h-1zM7 48h1v1h-1zM7 49h1v1h-1zM7 50h1v1h-1zM6 51h1v1h-1zM5 52h1v1h-1zM52 54h1v1h-1z"/><path fill="#df00ff" d="M5 2h1v1h-1zM32 2h1v1h-1zM34 4h1v1h-1zM2 5h1v1h-1zM1 6h1v1h-1zM33 8h2v1h-2zM33 9h1v1h-1zM34 11h1v1h-1zM33 12h1v1h-1zM36 12h1v1h-1zM36 13h1v1h-1zM34 14h3v1h-3zM34 15h1v1h-1zM34 16h3v1h-3zM33 17h1v1h-1zM36 17h1v1h-1zM26 18h1v1h-1zM32 18h4v1h-4zM26 19h1v1h-1zM28 19h4v1h-4zM26 22h2v1h-2zM27 23h1v1h-1zM27 24h1v1h-1zM24 39h1v1h-1zM28 39h1v1h-1zM23 43h1v1h-1zM23 44h1v1h-1zM23 45h1v1h-1zM23 48h1v1h-1zM22 49h1v1h-1zM21 52h1v1h-1zM1 53h1v1h-1zM52 53h1v1h-1zM2 55h1v1h-1zM24 57h1v1h-1z"/><path fill="#00ffff" d="M8 2h1v1h-1zM52 3h1v1h-1zM54 6h1v1h-1zM2 9h1v1h-1zM8 9h1v1h-1zM10 9h1v1h-1zM0 10h1v1h-1zM3 10h1v1h-1zM6 10h1v1h-1zM10 10h1v1h-1zM12 12h4v1h-4zM15 13h1v1h-1zM15 14h1v1h-1zM15 15h1v1h-1zM15 16h1v1h-1zM16 17h1v1h-1zM16 18h3v1h-3zM19 19h1v1h-1zM22 26h1v1h-1zM26 26h1v1h-1zM30 30h2v1h-2zM33 31h1v1h-1zM34 34h1v1h-1zM35 37h1v1h-1zM36 38h1v1h-1zM37 39h1v1h-1zM38 40h1v1h-1zM40 41h1v1h-1zM41 42h1v1h-1zM41 43h1v1h-1zM54 45h1v1h-1zM40 46h1v1h-1zM54 46h2v1h-2zM50 47h1v1h-1zM53 47h1v1h-1zM48 48h1v1h-1zM53 48h2v1h-2zM40 49h2v1h-2zM45 49h2v1h-2zM53 49h1v1h-1zM51 51h1v1h-1zM43 52h1v1h-1zM50 52h1v1h-1zM54 55h1v1h-1z"/><path fill="#9700ff" d="M31 2h1v1h-1zM32 7h1v1h-1zM31 8h1v1h-1zM31 10h1v1h-1zM31 11h1v1h-1zM31 12h1v1h-1zM31 13h1v1h-1zM32 14h1v1h-1zM32 15h1v1h-1zM25 17h1v1h-1zM27 17h1v1h-1zM31 17h1v1h-1zM29 18h2v1h-2zM29 33h1v1h-1zM30 36h1v1h-1zM27 40h1v1h-1zM30 40h1v1h-1zM28 41h2v1h-2zM28 42h1v1h-1zM25 45h1v1h-1zM25 46h1v1h-1zM25 47h1v1h-1zM55 49h1v1h-1zM0 51h1v1h-1zM28 51h1v1h-1zM28 52h1v1h-1zM22 53h1v1h-1zM24 55h1v1h-1zM55 56h1v1h-1zM4 57h1v1h-1zM54 57h1v1h-1z"/><path fill="#ffd700" d="M49 2h1v1h-1zM51 7h2v1h-2zM54 9h1v1h-1zM51 10h2v1h-2zM55 10h1v1h-1zM49 16h1v1h-1zM51 16h1v1h-1zM48 17h1v1h-1zM48 18h1v1h-1zM48 21h1v1h-1zM51 22h1v1h-1zM33 24h2v1h-2zM52 24h1v1h-1zM30 25h1v1h-1zM47 25h1v1h-1zM53 25h1v1h-1zM28 26h1v1h-1zM39 26h2v1h-2zM45 26h1v1h-1zM54 26h1v1h-1zM42 27h2v1h-2zM54 29h2v1h-2zM14 30h2v1h-2zM0 31h1v1h-1zM9 31h3v1h-3zM28 31h1v1h-1zM8 32h2v1h-2zM8 33h1v1h-1zM19 33h1v1h-1zM25 33h1v1h-1zM7 34h1v1h-1zM4 35h1v1h-1zM7 35h1v1h-1zM4 36h1v1h-1zM8 36h1v1h-1zM4 37h1v1h-1zM3 39h1v1h-1zM3 40h1v1h-1zM4 41h1v1h-1zM6 41h1v1h-1zM5 42h1v1h-1zM0 47h1v1h-1zM3 50h1v1h-1z"/><path fill="#00ffb7" d="M51 2h1v1h-1zM53 5h1v1h-1zM0 11h3v1h-3zM0 12h1v1h-1zM9 12h1v1h-1zM10 13h1v1h-1zM11 14h2v1h-2zM13 15h1v1h-1zM13 16h1v1h-1zM13 17h1v1h-1zM14 18h1v1h-1zM15 19h1v1h-1zM19 23h1v1h-1zM34 31h1v1h-1zM36 35h1v1h-1zM36 36h1v1h-1zM39 39h1v1h-1zM40 40h1v1h-1zM42 41h1v1h-1zM42 42h1v1h-1zM42 43h1v1h-1zM42 44h1v1h-1zM54 44h1v1h-1zM42 45h1v1h-1zM42 46h1v1h-1zM52 46h1v1h-1zM42 47h4v1h-4zM47 48h1v1h-1zM1 50h1v1h-1zM51 57h1v1h-1z"/><path fill="#6800ff" d="M31 3h1v1h-1zM54 4h1v1h-1zM25 5h3v1h-3zM25 6h4v1h-4zM33 6h1v1h-1zM30 7h2v1h-2zM29 11h1v1h-1zM28 12h2v1h-2zM30 13h1v1h-1zM30 14h1v1h-1zM26 16h2v1h-2zM30 16h1v1h-1zM29 17h1v1h-1zM24 18h1v1h-1zM26 24h1v1h-1zM29 32h1v1h-1zM31 37h1v1h-1zM31 38h1v1h-1zM31 39h1v1h-1zM25 40h2v1h-2zM25 41h2v1h-2zM26 42h1v1h-1zM30 42h1v1h-1zM30 43h1v1h-1zM29 44h1v1h-1zM29 45h1v1h-1zM27 46h2v1h-2zM26 47h1v1h-1zM26 48h1v1h-1zM25 49h1v1h-1zM24 50h1v1h-1zM27 50h3v1h-3zM26 51h1v1h-1zM30 51h1v1h-1zM25 52h2v1h-2zM30 52h1v1h-1zM23 53h1v1h-1zM24 54h1v1h-1zM50 54h1v1h-1z"/><path fill="#c700ff" d="M33 3h1v1h-1zM34 5h1v1h-1zM34 7h1v1h-1zM32 8h1v1h-1zM33 10h1v1h-1zM33 11h1v1h-1zM32 12h1v1h-1zM34 12h2v1h-2zM33 13h3v1h-3zM33 16h1v1h-1zM32 17h1v1h-1zM34 17h2v1h-2zM27 18h2v1h-2zM31 18h1v1h-1zM25 19h1v1h-1zM25 20h1v1h-1zM25 21h1v1h-1zM27 25h1v1h-1zM29 35h1v1h-1zM27 39h1v1h-1zM29 39h1v1h-1zM24 46h1v1h-1zM24 47h1v1h-1zM21 50h1v1h-1zM21 51h1v1h-1zM53 52h1v1h-1zM24 56h1v1h-1z"/><path fill="#00ff10" d="M51 3h1v1h-1zM53 6h1v1h-1zM6 13h1v1h-1zM3 14h2v1h-2zM6 14h1v1h-1zM2 15h1v1h-1zM4 15h3v1h-3zM7 16h2v1h-2zM4 17h1v1h-1zM9 17h1v1h-1zM4 18h1v1h-1zM6 18h1v1h-1zM4 19h1v1h-1zM6 19h1v1h-1zM10 19h1v1h-1zM4 20h1v1h-1zM6 20h1v1h-1zM10 20h2v1h-2zM12 21h1v1h-1zM7 22h1v1h-1zM13 22h1v1h-1zM15 25h1v1h-1zM16 26h1v1h-1zM30 28h1v1h-1zM34 28h1v1h-1zM19 29h1v1h-1zM26 29h1v1h-1zM28 29h1v1h-1zM35 29h1v1h-1zM42 35h1v1h-1zM43 36h1v1h-1zM44 37h1v1h-1zM45 38h1v1h-1zM49 39h1v1h-1zM46 40h1v1h-1zM52 40h1v1h-1zM53 42h1v1h-1zM47 43h2v1h-2zM54 54h1v1h-1z"/><path fill="#ff7800" d="M50 4h1v1h-1zM50 5h1v1h-1zM49 7h1v1h-1zM49 8h1v1h-1zM49 9h1v1h-1zM49 10h1v1h-1zM49 11h1v1h-1zM48 14h1v1h-1zM52 15h1v1h-1zM47 16h1v1h-1zM46 21h1v1h-1zM33 23h2v1h-2zM44 23h2v1h-2zM53 23h1v1h-1zM30 24h1v1h-1zM37 24h2v1h-2zM40 24h1v1h-1zM42 24h3v1h-3zM29 25h1v1h-1zM42 25h1v1h-1zM0 33h1v1h-1zM13 33h1v1h-1zM16 33h1v1h-1zM26 33h1v1h-1zM15 34h4v1h-4zM2 35h1v1h-1zM16 35h1v1h-1zM2 36h1v1h-1zM14 36h1v1h-1zM16 36h1v1h-1zM15 37h2v1h-2zM2 41h1v1h-1zM8 41h1v1h-1zM3 43h1v1h-1zM4 44h2v1h-2zM4 45h1v1h-1zM3 46h1v1h-1zM6 47h1v1h-1zM5 49h1v1h-1zM4 51h1v1h-1zM9 57h1v1h-1z"/><path fill="#afff00" d="M51 4h1v1h-1zM53 7h1v1h-1zM2 26h3v1h-3zM5 27h1v1h-1zM48 27h3v1h-3zM4 28h2v1h-2zM9 28h2v1h-2zM45 28h1v1h-1zM4 29h1v1h-1zM6 29h1v1h-1zM51 29h1v1h-1zM3 30h1v1h-1zM6 30h1v1h-1zM38 30h1v1h-1zM51 30h1v1h-1zM4 31h2v1h-2zM43 31h1v1h-1zM25 32h1v1h-1zM54 37h1v1h-1zM54 39h1v1h-1zM55 40h1v1h-1zM5 54h1v1h-1z"/><path fill="#00ff40" d="M52 4h1v1h-1zM3 12h1v1h-1zM7 12h1v1h-1zM8 14h1v1h-1zM9 15h1v1h-1zM10 16h1v1h-1zM10 17h1v1h-1zM11 18h1v1h-1zM12 19h1v1h-1zM17 24h1v1h-1zM17 25h1v1h-1zM17 26h1v1h-1zM19 28h2v1h-2zM26 28h1v1h-1zM32 28h2v1h-2zM24 30h1v1h-1zM28 30h1v1h-1zM35 30h1v1h-1zM38 34h1v1h-1zM42 37h1v1h-1zM43 38h1v1h-1zM43 39h2v1h-2zM45 40h1v1h-1zM49 40h1v1h-1zM51 40h1v1h-1zM49 41h1v1h-1zM50 42h3v1h-3zM45 43h1v1h-1zM52 43h3v1h-3zM47 44h1v1h-1zM50 44h1v1h-1zM52 44h1v1h-1zM48 45h4v1h-4z"/><path fill="#ff4800" d="M0 5h1v1h-1zM54 11h2v1h-2zM48 13h1v1h-1zM52 13h1v1h-1zM47 14h1v1h-1zM53 15h1v1h-1zM53 16h1v1h-1zM53 17h1v1h-1zM46 18h1v1h-1zM40 19h1v1h-1zM39 20h3v1h-3zM45 20h1v1h-1zM53 20h1v1h-1zM39 21h1v1h-1zM42 21h1v1h-1zM53 21h1v1h-1zM39 22h1v1h-1zM42 22h2v1h-2zM53 22h1v1h-1zM31 23h1v1h-1zM36 23h3v1h-3zM54 23h2v1h-2zM0 35h1v1h-1zM18 35h5v1h-5zM0 36h1v1h-1zM12 36h1v1h-1zM0 38h1v1h-1zM10 38h1v1h-1zM16 38h1v1h-1zM0 39h1v1h-1zM1 41h1v1h-1zM2 42h1v1h-1zM9 42h1v1h-1zM7 44h1v1h-1zM6 45h1v1h-1zM2 46h1v1h-1zM6 49h1v1h-1zM1 56h1v1h-1zM8 56h1v1h-1z"/><path fill="#68ff00" d="M52 5h1v1h-1zM54 8h1v1h-1zM3 25h1v1h-1zM6 25h4v1h-4zM7 26h7v1h-7zM14 27h1v1h-1zM28 27h1v1h-1zM30 27h1v1h-1zM36 28h1v1h-1zM46 29h1v1h-1zM49 29h1v1h-1zM37 30h1v1h-1zM45 30h1v1h-1zM19 31h1v1h-1zM26 31h1v1h-1zM38 31h1v1h-1zM45 31h1v1h-1zM44 32h2v1h-2zM45 33h1v1h-1zM45 34h3v1h-3zM46 35h3v1h-3zM52 36h2v1h-2zM51 37h1v1h-1zM54 41h1v1h-1zM2 50h1v1h-1z"/><path fill="#ff8f00" d="M50 6h1v1h-1zM54 10h1v1h-1zM52 11h1v1h-1zM49 12h1v1h-1zM49 13h1v1h-1zM48 15h1v1h-1zM52 16h1v1h-1zM47 17h1v1h-1zM52 17h1v1h-1zM47 18h1v1h-1zM52 18h1v1h-1zM47 19h1v1h-1zM52 19h1v1h-1zM47 20h1v1h-1zM52 21h1v1h-1zM46 22h1v1h-1zM52 22h1v1h-1zM45 24h2v1h-2zM54 24h2v1h-2zM39 25h3v1h-3zM43 25h3v1h-3zM14 31h2v1h-2zM0 32h1v1h-1zM12 32h2v1h-2zM16 32h1v1h-1zM1 33h1v1h-1zM12 33h1v1h-1zM17 33h1v1h-1zM2 34h1v1h-1zM13 34h2v1h-2zM19 34h1v1h-1zM22 34h3v1h-3zM11 35h5v1h-5zM10 36h1v1h-1zM15 36h1v1h-1zM2 37h1v1h-1zM2 38h1v1h-1zM9 38h1v1h-1zM9 39h1v1h-1zM8 40h1v1h-1zM3 42h1v1h-1zM7 42h1v1h-1zM4 43h1v1h-1zM6 43h1v1h-1zM4 46h2v1h-2zM2 47h1v1h-1zM4 50h1v1h-1zM0 55h1v1h-1zM51 55h1v1h-1z"/><path fill="#ffef00" d="M52 6h1v1h-1zM51 8h3v1h-3zM51 9h3v1h-3zM50 16h1v1h-1zM51 17h1v1h-1zM51 18h1v1h-1zM51 19h1v1h-1zM51 21h1v1h-1zM48 22h1v1h-1zM48 23h1v1h-1zM51 23h1v1h-1zM48 24h1v1h-1zM36 25h1v1h-1zM48 25h1v1h-1zM29 26h1v1h-1zM38 26h1v1h-1zM46 26h1v1h-1zM53 26h1v1h-1zM0 27h1v1h-1zM53 27h1v1h-1zM0 28h2v1h-2zM42 28h2v1h-2zM53 28h1v1h-1zM41 29h2v1h-2zM53 29h1v1h-1zM8 30h1v1h-1zM12 30h2v1h-2zM41 30h1v1h-1zM54 30h2v1h-2zM1 31h1v1h-1zM8 31h1v1h-1zM2 32h1v1h-1zM3 33h1v1h-1zM7 33h1v1h-1zM4 34h1v1h-1zM6 34h1v1h-1zM5 36h1v1h-1zM7 36h1v1h-1zM5 37h1v1h-1zM8 37h1v1h-1zM4 38h1v1h-1zM8 38h1v1h-1zM4 39h1v1h-1zM7 39h1v1h-1zM4 40h3v1h-3zM5 41h1v1h-1zM1 48h1v1h-1zM2 49h1v1h-1zM55 52h1v1h-1zM54 53h1v1h-1zM7 56h1v1h-1z"/><path fill="#00ffcf" d="M1 9h1v1h-1zM1 10h1v1h-1zM8 10h1v1h-1zM9 11h1v1h-1zM10 12h1v1h-1zM11 13h1v1h-1zM13 14h1v1h-1zM14 16h1v1h-1zM14 17h1v1h-1zM16 19h3v1h-3zM19 20h1v1h-1zM19 21h1v1h-1zM19 22h1v1h-1zM20 25h1v1h-1zM21 26h1v1h-1zM22 27h3v1h-3zM29 30h1v1h-1zM33 30h1v1h-1zM34 32h1v1h-1zM35 34h1v1h-1zM36 37h2v1h-2zM38 38h1v1h-1zM38 39h1v1h-1zM39 40h1v1h-1zM41 46h1v1h-1zM53 46h1v1h-1zM41 47h1v1h-1zM49 47h1v1h-1zM45 48h2v1h-2zM0 49h1v1h-1zM5 56h1v1h-1z"/><path fill="#00ff9f" d="M3 11h1v1h-1zM8 11h1v1h-1zM1 12h1v1h-1zM10 14h1v1h-1zM12 15h1v1h-1zM13 18h1v1h-1zM14 19h1v1h-1zM16 20h3v1h-3zM18 21h1v1h-1zM18 22h1v1h-1zM19 24h1v1h-1zM20 26h1v1h-1zM21 27h1v1h-1zM25 27h1v1h-1zM22 28h3v1h-3zM31 29h2v1h-2zM35 33h1v1h-1zM37 36h1v1h-1zM38 37h1v1h-1zM39 38h1v1h-1zM40 39h1v1h-1zM41 40h1v1h-1zM43 45h1v1h-1zM53 45h1v1h-1zM43 46h3v1h-3zM51 46h1v1h-1zM46 47h3v1h-3zM3 53h1v1h-1z"/><path fill="#00ff28" d="M4 12h3v1h-3zM3 13h1v1h-1zM7 13h1v1h-1zM0 14h3v1h-3zM7 14h1v1h-1zM3 15h1v1h-1zM7 15h2v1h-2zM4 16h3v1h-3zM9 16h1v1h-1zM5 17h2v1h-2zM5 18h1v1h-1zM10 18h1v1h-1zM5 19h1v1h-1zM11 19h1v1h-1zM5 20h1v1h-1zM12 20h1v1h-1zM13 21h1v1h-1zM14 23h1v1h-1zM15 24h2v1h-2zM16 25h1v1h-1zM17 27h1v1h-1zM18 28h1v1h-1zM31 28h1v1h-1zM20 29h1v1h-1zM21 30h1v1h-1zM25 30h1v1h-1zM36 31h1v1h-1zM37 32h1v1h-1zM38 33h1v1h-1zM39 35h1v1h-1zM40 36h3v1h-3zM43 37h1v1h-1zM44 38h1v1h-1zM45 39h1v1h-1zM50 39h1v1h-1zM45 41h1v1h-1zM52 41h1v1h-1zM45 42h1v1h-1zM49 42h1v1h-1zM46 43h1v1h-1zM49 43h3v1h-3zM48 44h2v1h-2zM51 44h1v1h-1zM5 55h1v1h-1zM53 55h1v1h-1z"/><path fill="#20ff00" d="M1 15h1v1h-1zM2 16h1v1h-1zM3 17h1v1h-1zM8 18h1v1h-1zM3 19h1v1h-1zM8 19h1v1h-1zM0 20h1v1h-1zM3 20h1v1h-1zM8 20h1v1h-1zM0 21h4v1h-4zM2 22h5v1h-5zM9 22h3v1h-3zM0 23h5v1h-5zM6 23h1v1h-1zM9 23h4v1h-4zM14 25h1v1h-1zM27 26h1v1h-1zM32 27h2v1h-2zM28 28h1v1h-1zM35 28h1v1h-1zM19 30h1v1h-1zM26 30h1v1h-1zM36 30h1v1h-1zM21 31h1v1h-1zM24 31h1v1h-1zM37 31h1v1h-1zM49 32h1v1h-1zM39 33h1v1h-1zM48 33h5v1h-5zM40 34h2v1h-2zM43 34h1v1h-1zM50 34h4v1h-4zM44 36h1v1h-1zM46 37h2v1h-2zM47 38h4v1h-4zM47 39h2v1h-2zM47 40h1v1h-1zM47 41h1v1h-1zM53 41h1v1h-1zM54 42h1v1h-1zM0 48h1v1h-1zM1 49h1v1h-1zM0 57h1v1h-1z"/><path fill="#50ff00" d="M0 16h1v1h-1zM0 17h3v1h-3zM0 18h3v1h-3zM0 24h2v1h-2zM4 24h3v1h-3zM10 25h4v1h-4zM35 27h1v1h-1zM16 28h1v1h-1zM17 29h1v1h-1zM18 30h1v1h-1zM49 30h1v1h-1zM20 31h1v1h-1zM50 31h1v1h-1zM39 32h1v1h-1zM52 32h1v1h-1zM40 33h5v1h-5zM46 33h1v1h-1zM54 33h2v1h-2zM48 34h1v1h-1zM45 35h1v1h-1zM49 35h1v1h-1zM47 36h5v1h-5zM50 37h1v1h-1zM51 38h1v1h-1zM53 40h1v1h-1zM51 56h1v1h-1z"/><path fill="#f7ff00" d="M49 17h1v1h-1zM49 18h1v1h-1zM49 19h1v1h-1zM49 20h1v1h-1zM51 20h1v1h-1zM49 21h1v1h-1zM49 22h2v1h-2zM49 23h2v1h-2zM49 24h1v1h-1zM51 24h1v1h-1zM31 25h1v1h-1zM35 25h1v1h-1zM49 25h1v1h-1zM52 25h1v1h-1zM37 26h1v1h-1zM47 26h1v1h-1zM52 26h1v1h-1zM1 27h1v1h-1zM41 27h1v1h-1zM44 27h1v1h-1zM52 27h1v1h-1zM41 28h1v1h-1zM52 28h1v1h-1zM0 29h2v1h-2zM40 29h1v1h-1zM43 29h1v1h-1zM0 30h2v1h-2zM9 30h3v1h-3zM16 30h1v1h-1zM40 30h1v1h-1zM42 30h1v1h-1zM53 30h1v1h-1zM2 31h1v1h-1zM7 31h1v1h-1zM17 31h1v1h-1zM55 31h1v1h-1zM7 32h1v1h-1zM18 32h1v1h-1zM26 32h1v1h-1zM4 33h3v1h-3zM20 33h5v1h-5zM5 34h1v1h-1zM5 35h2v1h-2zM6 36h1v1h-1zM6 37h2v1h-2zM5 38h3v1h-3zM5 39h2v1h-2zM1 57h1v1h-1z"/><path fill="#97ff00" d="M0 25h2v1h-2zM5 26h1v1h-1zM31 26h1v1h-1zM35 26h1v1h-1zM6 27h1v1h-1zM11 27h3v1h-3zM36 27h1v1h-1zM6 28h3v1h-3zM14 28h1v1h-1zM37 28h1v1h-1zM46 28h1v1h-1zM50 28h1v1h-1zM5 29h1v1h-1zM16 29h1v1h-1zM50 29h1v1h-1zM4 30h2v1h-2zM17 30h1v1h-1zM44 30h1v1h-1zM18 31h1v1h-1zM39 31h1v1h-1zM52 31h1v1h-1zM20 32h1v1h-1zM41 32h1v1h-1zM54 32h2v1h-2zM53 37h1v1h-1zM53 38h1v1h-1zM54 40h1v1h-1zM52 55h1v1h-1z"/></g><rect x="46.60" y="754.20" width="280.70" height="290.70" fill="none" stroke="#808080" stroke-width="0.8"/><g transform="translate(331.30 754.20) scale(10.90000 4.54219)" shape-rendering="crispEdges"><path fill="#ff0018" d="M0 0h1v1h-1z"/><path fill="#ff0030" d="M0 1h1v1h-1z"/><path fill="#ff0048" d="M0 2h1v1h-1z"/><path fill="#ff0060" d="M0 3h1v1h-1z"/><path fill="#ff0078" d="M0 4h1v1h-1z"/><path fill="#ff008f" d="M0 5h1v1h-1z"/><path fill="#ff00a7" d="M0 6h1v1h-1z"/><path fill="#ff00bf" d="M0 7h1v1h-1z"/><path fill="#ff00d7" d="M0 8h1v1h-1z"/><path fill="#ff00ef" d="M0 9h1v1h-1z"/><path fill="#f700ff" d="M0 10h1v1h-1z"/><path fill="#df00ff" d="M0 11h1v1h-1z"/><path fill="#c700ff" d="M0 12h1v1h-1z"/><path fill="#af00ff" d="M0 13h1v1h-1z"/><path fill="#9700ff" d="M0 14h1v1h-1z"/><path fill="#8000ff" d="M0 15h1v1h-1z"/><path fill="#6800ff" d="M0 16h1v1h-1z"/><path fill="#5000ff" d="M0 17h1v1h-1z"/><path fill="#3800ff" d="M0 18h1v1h-1z"/><path fill="#2000ff" d="M0 19h1v1h-1z"/><path fill="#0800ff" d="M0 20h1v1h-1z"/><path fill="#0010ff" d="M0 21h1v1h-1z"/><path fill="#0028ff" d="M0 22h1v1h-1z"/><path fill="#0040ff" d="M0 23h1v1h-1z"/><path fill="#0058ff" d="M0 24h1v1h-1z"/><path fill="#0070ff" d="M0 25h1v1h-1z"/><path fill="#0087ff" d="M0 26h1v1h-1z"/><path fill="#009fff" d="M0 27h1v1h-1z"/><path fill="#00b7ff" d="M0 28h1v1h-1z"/><path fill="#00cfff" d="M0 29h1v1h-1z"/><path fill="#00e7ff" d="M0 30h1v1h-1z"/><path fill="#00ffff" d="M0 31h1v1h-1z"/><path fill="#00ffe7" d="M0 32h1v1h-1z"/><path fill="#00ffcf" d="M0 33h1v1h-1z"/><path fill="#00ffb7" d="M0 34h1v1h-1z"/><path fill="#00ff9f" d="M0 35h1v1h-1z"/><path fill="#00ff87" d="M0 36h1v1h-1z"/><path fill="#00ff70" d="M0 37h1v1h-1z"/><path fill="#00ff58" d="M0 38h1v1h-1z"/><path fill="#00ff40" d="M0 39h1v1h-1z"/><path fill="#00ff28" d="M0 40h1v1h-1z"/><path fill="#00ff10" d="M0 41h1v1h-1z"/><path fill="#08ff00" d="M0 42h1v1h-1z"/><path fill="#20ff00" d="M0 43h1v1h-1z"/><path fill="#38ff00" d="M0 44h1v1h-1z"/><path fill="#50ff00" d="M0 45h1v1h-1z"/><path fill="#68ff00" d="M0 46h1v1h-1z"/><path fill="#80ff00" d="M0 47h1v1h-1z"/><path fill="#97ff00" d="M0 48h1v1h-1z"/><path fill="#afff00" d="M0 49h1v1h-1z"/><path fill="#c7ff00" d="M0 50h1v1h-1z"/><path fill="#dfff00" d="M0 51h1v1h-1z"/><path fill="#f7ff00" d="M0 52h1v1h-1z"/><path fill="#ffef00" d="M0 53h1v1h-1z"/><path fill="#ffd700" d="M0 54h1v1h-1z"/><path fill="#ffbf00" d="M0 55h1v1h-1z"/><path fill="#ffa700" d="M0 56h1v1h-1z"/><path fill="#ff8f00" d="M0 57h1v1h-1z"/><path fill="#ff7800" d="M0 58h1v1h-1z"/><path fill="#ff6000" d="M0 59h1v1h-1z"/><path fill="#ff4800" d="M0 60h1v1h-1z"/><path fill="#ff3000" d="M0 61h1v1h-1z"/><path fill="#ff1800" d="M0 62h1v1h-1z"/><path fill="#ff0000" d="M0 63h1v1h-1z"/></g><rect x="331.30" y="754.20" width="10.90" height="290.70" fill="none" stroke="#606060" stroke-width="0.8"/><text font-size="20.7" text-anchor="start" transform="translate(349.2 763.1) scale(1.0 1.1)">360</text><text font-size="20.7" text-anchor="start" transform="translate(349.2 1052.1) scale(1.0 1.1)">0</text><g transform="translate(470.00 757.50) scale(4.99286 4.98276)" shape-rendering="crispEdges"><path fill="#6c0000" d="M0 0h3v1h-3zM6 0h1v1h-1zM13 0h1v1h-1zM20 0h1v1h-1zM27 0h1v1h-1zM33 0h1v1h-1zM40 0h1v1h-1zM43 0h1v1h-1zM47 0h1v1h-1zM1 1h1v1h-1zM11 1h1v1h-1zM32 1h1v1h-1zM37 1h5v1h-5zM51 1h1v1h-1zM55 1h1v1h-1zM0 2h1v1h-1zM11 2h1v1h-1zM39 2h2v1h-2zM46 2h1v1h-1zM6 3h2v1h-2zM14 3h1v1h-1zM12 4h1v1h-1zM49 4h1v1h-1zM50 5h1v1h-1zM3 6h1v1h-1zM3 9h1v1h-1zM2 11h1v1h-1zM51 11h1v1h-1zM55 12h1v1h-1zM1 13h1v1h-1zM53 14h1v1h-1zM53 15h1v1h-1zM54 17h1v1h-1zM54 18h1v1h-1zM55 19h1v1h-1zM2 20h1v1h-1zM1 21h1v1h-1zM1 23h1v1h-1zM55 26h1v1h-1zM0 29h1v1h-1zM0 33h1v1h-1zM0 34h1v1h-1zM0 39h2v1h-2zM1 40h1v1h-1zM55 40h1v1h-1zM1 41h2v1h-2zM54 44h1v1h-1zM52 45h1v1h-1zM54 45h1v1h-1zM4 47h1v1h-1zM52 48h1v1h-1zM2 49h1v1h-1zM51 49h1v1h-1zM3 50h1v1h-1zM48 51h1v1h-1zM54 51h1v1h-1zM4 52h1v1h-1zM8 52h1v1h-1zM46 52h1v1h-1zM5 53h1v1h-1zM45 53h1v1h-1zM50 53h1v1h-1zM52 53h1v1h-1zM7 54h2v1h-2zM42 54h1v1h-1zM44 54h1v1h-1zM6 55h1v1h-1zM14 55h1v1h-1zM39 55h3v1h-3zM45 55h2v1h-2zM55 55h1v1h-1zM6 56h1v1h-1zM8 56h1v1h-1zM12 56h1v1h-1zM15 56h1v1h-1zM36 56h1v1h-1zM39 56h1v1h-1zM0 57h1v1h-1zM5 57h1v1h-1zM9 57h1v1h-1zM17 57h1v1h-1zM35 57h4v1h-4zM45 57h1v1h-1zM50 57h1v1h-1zM54 57h1v1h-1z"/><path fill="#770000" d="M3 0h1v1h-1zM5 0h1v1h-1zM28 0h1v1h-1zM34 0h2v1h-2zM38 0h2v1h-2zM55 0h1v1h-1zM0 1h1v1h-1zM3 1h1v1h-1zM5 1h1v1h-1zM10 1h1v1h-1zM18 1h1v1h-1zM31 1h1v1h-1zM35 1h2v1h-2zM42 1h1v1h-1zM44 1h1v1h-1zM3 2h1v1h-1zM5 2h1v1h-1zM8 2h1v1h-1zM16 2h1v1h-1zM38 2h1v1h-1zM42 2h1v1h-1zM52 2h1v1h-1zM5 3h1v1h-1zM8 3h1v1h-1zM47 3h1v1h-1zM2 4h1v1h-1zM8 4h1v1h-1zM43 4h1v1h-1zM2 5h3v1h-3zM33 5h1v1h-1zM2 6h1v1h-1zM4 6h1v1h-1zM47 6h1v1h-1zM1 7h1v1h-1zM4 7h1v1h-1zM47 7h1v1h-1zM1 8h1v1h-1zM4 8h1v1h-1zM52 8h1v1h-1zM49 9h2v1h-2zM53 9h1v1h-1zM50 10h2v1h-2zM54 10h1v1h-1zM51 12h2v1h-2zM52 13h2v1h-2zM54 14h1v1h-1zM0 15h1v1h-1zM54 15h1v1h-1zM53 16h2v1h-2zM55 17h1v1h-1zM1 18h2v1h-2zM54 19h1v1h-1zM0 20h1v1h-1zM55 20h1v1h-1zM0 21h1v1h-1zM55 21h1v1h-1zM0 22h2v1h-2zM55 22h1v1h-1zM1 24h1v1h-1zM28 25h1v1h-1zM26 26h1v1h-1zM55 27h1v1h-1zM55 28h1v1h-1zM55 29h1v1h-1zM0 30h1v1h-1zM26 31h1v1h-1zM0 32h1v1h-1zM29 32h1v1h-1zM0 37h1v1h-1zM0 38h2v1h-2zM55 39h1v1h-1zM0 40h1v1h-1zM1 42h1v1h-1zM54 42h1v1h-1zM2 43h1v1h-1zM54 43h2v1h-2zM53 44h1v1h-1zM51 46h1v1h-1zM54 46h1v1h-1zM1 47h1v1h-1zM5 47h1v1h-1zM11 47h2v1h-2zM4 48h1v1h-1zM50 48h1v1h-1zM50 49h1v1h-1zM52 49h2v1h-2zM48 50h2v1h-2zM53 50h1v1h-1zM47 51h1v1h-1zM49 51h1v1h-1zM45 52h1v1h-1zM47 52h1v1h-1zM52 52h4v1h-4zM7 53h1v1h-1zM46 53h1v1h-1zM53 53h1v1h-1zM6 54h1v1h-1zM11 54h2v1h-2zM41 54h1v1h-1zM45 54h1v1h-1zM48 54h1v1h-1zM38 55h1v1h-1zM42 55h3v1h-3zM11 56h1v1h-1zM35 56h1v1h-1zM40 56h1v1h-1zM45 56h1v1h-1zM52 56h1v1h-1zM54 56h1v1h-1zM6 57h1v1h-1zM13 57h1v1h-1zM18 57h1v1h-1zM22 57h2v1h-2zM29 57h2v1h-2zM34 57h1v1h-1zM53 57h1v1h-1z"/><path fill="#8c0000" d="M4 0h1v1h-1zM24 0h3v1h-3zM4 1h1v1h-1zM19 1h1v1h-1zM33 1h2v1h-2zM4 2h1v1h-1zM10 2h1v1h-1zM24 2h3v1h-3zM36 2h1v1h-1zM43 2h1v1h-1zM4 3h1v1h-1zM9 3h1v1h-1zM27 3h2v1h-2zM30 3h1v1h-1zM41 3h2v1h-2zM6 4h2v1h-2zM20 4h1v1h-1zM44 4h1v1h-1zM47 4h1v1h-1zM47 5h1v1h-1zM9 6h1v1h-1zM48 6h1v1h-1zM46 7h1v1h-1zM47 8h1v1h-1zM50 8h1v1h-1zM6 9h1v1h-1zM52 9h1v1h-1zM4 10h3v1h-3zM49 10h1v1h-1zM52 10h1v1h-1zM50 11h1v1h-1zM44 12h1v1h-1zM54 12h1v1h-1zM2 13h1v1h-1zM55 14h1v1h-1zM1 15h3v1h-3zM52 15h1v1h-1zM0 16h2v1h-2zM3 16h1v1h-1zM55 16h1v1h-1zM0 17h1v1h-1zM3 17h1v1h-1zM50 19h1v1h-1zM50 20h2v1h-2zM54 20h1v1h-1zM51 21h1v1h-1zM54 21h1v1h-1zM51 22h1v1h-1zM54 22h1v1h-1zM51 23h1v1h-1zM51 24h2v1h-2zM1 25h1v1h-1zM1 27h1v1h-1zM25 28h1v1h-1zM55 31h1v1h-1zM55 32h1v1h-1zM55 33h1v1h-1zM55 34h1v1h-1zM4 35h1v1h-1zM4 36h1v1h-1zM55 37h1v1h-1zM54 40h1v1h-1zM0 41h1v1h-1zM3 41h1v1h-1zM0 42h1v1h-1zM0 43h1v1h-1zM1 44h1v1h-1zM3 45h1v1h-1zM3 46h1v1h-1zM5 46h1v1h-1zM3 47h1v1h-1zM50 47h1v1h-1zM54 47h1v1h-1zM2 48h2v1h-2zM6 48h1v1h-1zM53 48h1v1h-1zM49 49h1v1h-1zM4 50h1v1h-1zM7 50h1v1h-1zM51 50h2v1h-2zM6 51h1v1h-1zM9 51h1v1h-1zM50 51h1v1h-1zM52 51h1v1h-1zM44 52h1v1h-1zM6 53h1v1h-1zM20 53h1v1h-1zM48 53h1v1h-1zM55 53h1v1h-1zM9 54h1v1h-1zM25 54h2v1h-2zM40 54h1v1h-1zM9 55h2v1h-2zM22 55h1v1h-1zM53 55h1v1h-1zM22 56h1v1h-1zM33 56h1v1h-1zM42 56h2v1h-2zM8 57h1v1h-1zM28 57h1v1h-1zM32 57h1v1h-1zM41 57h3v1h-3z"/><path fill="#410000" d="M7 0h1v1h-1zM17 0h1v1h-1zM32 0h1v1h-1zM50 0h1v1h-1zM8 1h1v1h-1zM14 1h1v1h-1zM16 1h1v1h-1zM48 1h1v1h-1zM13 2h1v1h-1zM48 2h1v1h-1zM49 3h2v1h-2zM53 4h1v1h-1zM52 5h1v1h-1zM54 8h1v1h-1zM0 12h1v1h-1zM0 13h1v1h-1zM55 24h1v1h-1zM27 26h1v1h-1zM30 30h1v1h-1zM0 50h2v1h-2zM4 55h1v1h-1zM50 55h1v1h-1z"/><path fill="#200000" d="M8 0h1v1h-1zM16 0h1v1h-1zM27 27h1v1h-1zM27 29h1v1h-1zM27 30h1v1h-1z"/><path fill="#360000" d="M9 0h1v1h-1zM15 0h1v1h-1zM15 1h1v1h-1zM51 4h2v1h-2zM51 5h1v1h-1zM28 26h1v1h-1zM26 28h1v1h-1zM29 31h1v1h-1zM1 51h1v1h-1zM0 52h1v1h-1zM51 55h1v1h-1z"/><path fill="#560000" d="M10 0h1v1h-1zM46 0h1v1h-1zM48 0h1v1h-1zM51 0h1v1h-1zM9 1h1v1h-1zM12 1h1v1h-1zM46 1h2v1h-2zM54 1h1v1h-1zM1 2h2v1h-2zM13 3h1v1h-1zM51 3h4v1h-4zM53 5h2v1h-2zM54 6h1v1h-1zM55 7h1v1h-1zM2 8h1v1h-1zM55 8h1v1h-1zM2 9h1v1h-1zM54 9h1v1h-1zM0 10h2v1h-2zM55 11h1v1h-1zM1 12h1v1h-1zM0 14h1v1h-1zM1 20h1v1h-1zM0 23h1v1h-1zM0 24h1v1h-1zM29 26h1v1h-1zM0 27h1v1h-1zM30 27h1v1h-1zM0 28h1v1h-1zM27 32h1v1h-1zM0 46h1v1h-1zM52 46h2v1h-2zM0 47h1v1h-1zM51 48h1v1h-1zM2 50h1v1h-1zM2 51h1v1h-1zM3 52h1v1h-1zM1 53h2v1h-2zM4 53h1v1h-1zM43 53h2v1h-2zM1 54h3v1h-3zM5 54h1v1h-1zM0 55h4v1h-4zM5 55h1v1h-1zM13 55h1v1h-1zM47 55h3v1h-3zM3 56h1v1h-1zM5 56h1v1h-1zM14 56h1v1h-1zM50 56h1v1h-1zM3 57h2v1h-2zM15 57h2v1h-2zM48 57h1v1h-1z"/><path fill="#610000" d="M11 0h2v1h-2zM14 0h1v1h-1zM19 0h1v1h-1zM41 0h2v1h-2zM44 0h1v1h-1zM54 0h1v1h-1zM2 1h1v1h-1zM6 1h1v1h-1zM17 1h1v1h-1zM45 1h1v1h-1zM52 1h1v1h-1zM6 2h2v1h-2zM15 2h1v1h-1zM41 2h1v1h-1zM47 2h1v1h-1zM53 2h3v1h-3zM0 3h3v1h-3zM11 3h1v1h-1zM48 3h1v1h-1zM0 4h2v1h-2zM11 4h1v1h-1zM31 4h3v1h-3zM1 5h1v1h-1zM1 6h1v1h-1zM53 6h1v1h-1zM2 7h2v1h-2zM52 7h1v1h-1zM3 8h1v1h-1zM1 9h1v1h-1zM2 10h1v1h-1zM55 18h1v1h-1zM1 19h2v1h-2zM0 25h1v1h-1zM55 25h1v1h-1zM0 26h1v1h-1zM26 30h1v1h-1zM55 41h1v1h-1zM2 42h1v1h-1zM55 42h1v1h-1zM0 45h1v1h-1zM52 47h1v1h-1zM1 48h1v1h-1zM55 48h1v1h-1zM54 49h1v1h-1zM54 50h1v1h-1zM3 51h1v1h-1zM55 51h1v1h-1zM8 53h1v1h-1zM51 53h1v1h-1zM43 54h1v1h-1zM49 54h1v1h-1zM52 54h1v1h-1zM7 55h2v1h-2zM11 55h1v1h-1zM52 55h1v1h-1zM0 56h3v1h-3zM7 56h1v1h-1zM13 56h1v1h-1zM37 56h2v1h-2zM46 56h1v1h-1zM51 56h1v1h-1zM55 56h1v1h-1zM1 57h2v1h-2zM10 57h1v1h-1zM14 57h1v1h-1zM46 57h2v1h-2zM55 57h1v1h-1z"/><path fill="#4c0000" d="M18 0h1v1h-1zM31 0h1v1h-1zM45 0h1v1h-1zM52 0h2v1h-2zM7 1h1v1h-1zM13 1h1v1h-1zM50 1h1v1h-1zM53 1h1v1h-1zM12 2h1v1h-1zM14 2h1v1h-1zM50 2h1v1h-1zM12 3h1v1h-1zM55 3h1v1h-1zM50 4h1v1h-1zM54 4h2v1h-2zM0 5h1v1h-1zM55 5h1v1h-1zM0 6h1v1h-1zM51 6h2v1h-2zM55 6h1v1h-1zM53 7h2v1h-2zM53 8h1v1h-1zM55 9h1v1h-1zM55 10h1v1h-1zM0 11h2v1h-2zM55 23h1v1h-1zM26 27h1v1h-1zM26 29h1v1h-1zM28 32h1v1h-1zM53 45h1v1h-1zM51 47h1v1h-1zM0 48h1v1h-1zM0 49h2v1h-2zM55 49h1v1h-1zM55 50h1v1h-1zM1 52h2v1h-2zM0 53h1v1h-1zM3 53h1v1h-1zM0 54h1v1h-1zM4 54h1v1h-1zM50 54h2v1h-2zM12 55h1v1h-1zM4 56h1v1h-1zM47 56h3v1h-3zM49 57h1v1h-1z"/><path fill="#970000" d="M21 0h1v1h-1zM23 0h1v1h-1zM30 0h1v1h-1zM20 1h1v1h-1zM25 1h4v1h-4zM17 2h1v1h-1zM21 2h3v1h-3zM27 2h1v1h-1zM35 2h1v1h-1zM44 2h1v1h-1zM19 3h2v1h-2zM23 3h2v1h-2zM29 3h1v1h-1zM33 3h1v1h-1zM39 3h1v1h-1zM44 3h1v1h-1zM46 3h1v1h-1zM14 4h1v1h-1zM18 4h1v1h-1zM29 4h1v1h-1zM5 5h1v1h-1zM8 5h1v1h-1zM31 5h1v1h-1zM44 5h3v1h-3zM48 5h2v1h-2zM5 6h1v1h-1zM10 6h1v1h-1zM45 6h1v1h-1zM5 7h1v1h-1zM49 7h2v1h-2zM5 8h1v1h-1zM51 8h1v1h-1zM7 9h1v1h-1zM48 9h1v1h-1zM7 10h1v1h-1zM44 10h2v1h-2zM53 10h1v1h-1zM3 11h3v1h-3zM43 11h1v1h-1zM53 11h1v1h-1zM3 12h1v1h-1zM46 12h1v1h-1zM53 12h1v1h-1zM51 13h1v1h-1zM2 14h2v1h-2zM55 15h1v1h-1zM52 16h1v1h-1zM3 18h1v1h-1zM53 18h1v1h-1zM51 19h1v1h-1zM2 21h1v1h-1zM52 22h1v1h-1zM52 23h2v1h-2zM29 25h1v1h-1zM51 25h1v1h-1zM1 26h1v1h-1zM4 27h1v1h-1zM52 27h1v1h-1zM1 28h1v1h-1zM3 28h2v1h-2zM52 29h1v1h-1zM52 31h1v1h-1zM52 32h1v1h-1zM1 33h1v1h-1zM27 33h1v1h-1zM52 33h2v1h-2zM1 34h1v1h-1zM55 35h1v1h-1zM1 36h1v1h-1zM55 36h1v1h-1zM2 37h1v1h-1zM2 38h1v1h-1zM2 39h1v1h-1zM6 39h1v1h-1zM54 39h1v1h-1zM6 40h1v1h-1zM49 41h2v1h-2zM49 42h1v1h-1zM2 45h1v1h-1zM4 45h1v1h-1zM51 45h1v1h-1zM55 45h1v1h-1zM11 46h1v1h-1zM47 46h1v1h-1zM55 46h1v1h-1zM6 47h1v1h-1zM11 48h1v1h-1zM5 49h2v1h-2zM48 49h1v1h-1zM5 50h2v1h-2zM5 51h1v1h-1zM16 51h1v1h-1zM45 51h1v1h-1zM51 51h1v1h-1zM6 52h1v1h-1zM26 53h1v1h-1zM10 54h1v1h-1zM13 54h1v1h-1zM21 54h4v1h-4zM27 54h1v1h-1zM39 54h1v1h-1zM23 55h4v1h-4zM36 55h1v1h-1zM17 56h1v1h-1zM23 56h2v1h-2zM30 56h1v1h-1zM12 57h1v1h-1zM19 57h2v1h-2zM27 57h1v1h-1zM31 57h1v1h-1z"/><path fill="#a20000" d="M22 0h1v1h-1zM29 0h1v1h-1zM21 1h1v1h-1zM23 1h2v1h-2zM18 2h1v1h-1zM28 2h1v1h-1zM30 2h3v1h-3zM15 3h1v1h-1zM18 3h1v1h-1zM21 3h2v1h-2zM25 3h2v1h-2zM38 3h1v1h-1zM28 4h1v1h-1zM12 5h1v1h-1zM30 5h1v1h-1zM35 5h1v1h-1zM43 5h1v1h-1zM8 6h1v1h-1zM34 6h1v1h-1zM49 6h1v1h-1zM45 7h1v1h-1zM0 8h1v1h-1zM6 8h1v1h-1zM46 8h1v1h-1zM43 10h1v1h-1zM6 11h1v1h-1zM46 11h1v1h-1zM4 12h1v1h-1zM3 13h1v1h-1zM51 16h1v1h-1zM51 17h2v1h-2zM50 18h2v1h-2zM49 19h1v1h-1zM53 19h1v1h-1zM53 20h1v1h-1zM52 21h2v1h-2zM53 22h1v1h-1zM2 23h1v1h-1zM2 24h1v1h-1zM53 24h1v1h-1zM52 25h1v1h-1zM54 25h1v1h-1zM30 26h1v1h-1zM51 26h2v1h-2zM3 27h1v1h-1zM51 27h1v1h-1zM52 28h1v1h-1zM1 29h1v1h-1zM3 29h2v1h-2zM25 29h1v1h-1zM31 29h1v1h-1zM53 29h2v1h-2zM1 30h1v1h-1zM3 30h1v1h-1zM52 30h3v1h-3zM1 31h1v1h-1zM53 31h2v1h-2zM1 32h1v1h-1zM53 32h2v1h-2zM54 33h1v1h-1zM52 34h2v1h-2zM1 35h1v1h-1zM3 35h1v1h-1zM5 36h1v1h-1zM5 37h1v1h-1zM5 38h2v1h-2zM54 38h1v1h-1zM6 41h1v1h-1zM50 42h1v1h-1zM53 43h1v1h-1zM4 44h1v1h-1zM52 44h1v1h-1zM48 45h1v1h-1zM2 46h1v1h-1zM10 46h1v1h-1zM46 46h1v1h-1zM2 47h1v1h-1zM10 47h1v1h-1zM49 48h1v1h-1zM12 49h1v1h-1zM41 49h1v1h-1zM8 50h1v1h-1zM15 51h1v1h-1zM10 52h1v1h-1zM17 52h2v1h-2zM43 52h1v1h-1zM10 53h2v1h-2zM17 53h1v1h-1zM21 53h1v1h-1zM25 53h1v1h-1zM27 53h1v1h-1zM41 53h1v1h-1zM18 54h3v1h-3zM28 54h1v1h-1zM38 54h1v1h-1zM15 55h1v1h-1zM21 55h1v1h-1zM27 55h1v1h-1zM18 56h1v1h-1zM21 56h1v1h-1zM29 56h1v1h-1zM31 56h2v1h-2zM25 57h1v1h-1z"/><path fill="#820000" d="M36 0h2v1h-2zM43 1h1v1h-1zM9 2h1v1h-1zM37 2h1v1h-1zM45 2h1v1h-1zM51 2h1v1h-1zM3 3h1v1h-1zM10 3h1v1h-1zM31 3h2v1h-2zM40 3h1v1h-1zM43 3h1v1h-1zM3 4h3v1h-3zM9 4h2v1h-2zM13 4h1v1h-1zM19 4h1v1h-1zM30 4h1v1h-1zM34 4h1v1h-1zM48 4h1v1h-1zM9 5h3v1h-3zM32 5h1v1h-1zM34 5h1v1h-1zM46 6h1v1h-1zM50 6h1v1h-1zM0 7h1v1h-1zM48 7h1v1h-1zM51 7h1v1h-1zM48 8h2v1h-2zM0 9h1v1h-1zM4 9h2v1h-2zM51 9h1v1h-1zM3 10h1v1h-1zM44 11h2v1h-2zM52 11h1v1h-1zM54 11h1v1h-1zM2 12h1v1h-1zM45 12h1v1h-1zM54 13h2v1h-2zM1 14h1v1h-1zM52 14h1v1h-1zM2 16h1v1h-1zM1 17h2v1h-2zM53 17h1v1h-1zM0 18h1v1h-1zM0 19h1v1h-1zM54 23h1v1h-1zM54 24h1v1h-1zM27 25h1v1h-1zM55 30h1v1h-1zM0 31h1v1h-1zM30 31h1v1h-1zM28 33h1v1h-1zM0 35h1v1h-1zM0 36h1v1h-1zM1 37h1v1h-1zM55 38h1v1h-1zM2 40h1v1h-1zM54 41h1v1h-1zM3 42h1v1h-1zM1 43h1v1h-1zM3 43h1v1h-1zM0 44h1v1h-1zM2 44h2v1h-2zM55 44h1v1h-1zM1 45h1v1h-1zM47 45h1v1h-1zM1 46h1v1h-1zM4 46h1v1h-1zM53 47h1v1h-1zM55 47h1v1h-1zM5 48h1v1h-1zM12 48h1v1h-1zM54 48h1v1h-1zM3 49h2v1h-2zM47 50h1v1h-1zM50 50h1v1h-1zM4 51h1v1h-1zM7 51h2v1h-2zM46 51h1v1h-1zM53 51h1v1h-1zM5 52h1v1h-1zM7 52h1v1h-1zM9 52h1v1h-1zM48 52h4v1h-4zM9 53h1v1h-1zM18 53h2v1h-2zM42 53h1v1h-1zM47 53h1v1h-1zM49 53h1v1h-1zM54 53h1v1h-1zM46 54h2v1h-2zM53 54h3v1h-3zM37 55h1v1h-1zM54 55h1v1h-1zM9 56h2v1h-2zM16 56h1v1h-1zM34 56h1v1h-1zM41 56h1v1h-1zM44 56h1v1h-1zM53 56h1v1h-1zM7 57h1v1h-1zM11 57h1v1h-1zM21 57h1v1h-1zM24 57h1v1h-1zM33 57h1v1h-1zM39 57h2v1h-2zM44 57h1v1h-1zM51 57h2v1h-2z"/><path fill="#2b0000" d="M49 0h1v1h-1zM49 1h1v1h-1zM49 2h1v1h-1zM30 28h1v1h-1zM30 29h1v1h-1zM27 31h1v1h-1zM0 51h1v1h-1z"/><path fill="#ad0000" d="M22 1h1v1h-1zM30 1h1v1h-1zM19 2h2v1h-2zM29 2h1v1h-1zM34 3h2v1h-2zM37 3h1v1h-1zM45 3h1v1h-1zM17 4h1v1h-1zM27 4h1v1h-1zM35 4h1v1h-1zM42 4h1v1h-1zM45 4h2v1h-2zM6 5h2v1h-2zM17 5h3v1h-3zM6 6h1v1h-1zM11 6h1v1h-1zM15 6h2v1h-2zM33 6h1v1h-1zM35 6h1v1h-1zM6 7h4v1h-4zM7 8h1v1h-1zM40 8h2v1h-2zM43 8h1v1h-1zM42 9h4v1h-4zM7 11h1v1h-1zM5 12h1v1h-1zM43 12h1v1h-1zM50 12h1v1h-1zM4 13h1v1h-1zM46 13h1v1h-1zM4 14h1v1h-1zM4 15h1v1h-1zM51 15h1v1h-1zM50 17h1v1h-1zM52 18h1v1h-1zM3 19h1v1h-1zM6 19h1v1h-1zM52 19h1v1h-1zM6 20h1v1h-1zM49 20h1v1h-1zM52 20h1v1h-1zM50 21h1v1h-1zM2 22h1v1h-1zM26 25h1v1h-1zM4 26h1v1h-1zM54 26h1v1h-1zM25 27h1v1h-1zM54 27h1v1h-1zM2 28h1v1h-1zM51 28h1v1h-1zM54 28h1v1h-1zM4 30h1v1h-1zM31 30h1v1h-1zM2 31h2v1h-2zM2 32h2v1h-2zM26 32h1v1h-1zM2 33h2v1h-2zM2 34h3v1h-3zM54 34h1v1h-1zM5 35h1v1h-1zM3 36h1v1h-1zM4 37h1v1h-1zM54 37h1v1h-1zM5 39h1v1h-1zM4 41h2v1h-2zM4 42h1v1h-1zM53 42h1v1h-1zM4 43h1v1h-1zM8 44h2v1h-2zM47 44h2v1h-2zM5 45h1v1h-1zM9 45h2v1h-2zM46 45h1v1h-1zM6 46h1v1h-1zM50 46h1v1h-1zM41 48h2v1h-2zM7 49h1v1h-1zM42 49h1v1h-1zM47 49h1v1h-1zM16 52h1v1h-1zM19 52h1v1h-1zM28 53h1v1h-1zM37 54h1v1h-1zM28 55h3v1h-3zM34 55h2v1h-2zM25 56h4v1h-4zM26 57h1v1h-1z"/><path fill="#b70000" d="M29 1h1v1h-1zM33 2h2v1h-2zM16 3h2v1h-2zM36 3h1v1h-1zM23 4h2v1h-2zM13 5h1v1h-1zM16 5h1v1h-1zM29 5h1v1h-1zM7 6h1v1h-1zM36 6h1v1h-1zM44 6h1v1h-1zM15 7h1v1h-1zM38 7h2v1h-2zM39 8h1v1h-1zM42 8h1v1h-1zM44 8h2v1h-2zM12 9h1v1h-1zM41 9h1v1h-1zM46 9h2v1h-2zM12 10h1v1h-1zM46 10h1v1h-1zM48 10h1v1h-1zM11 11h1v1h-1zM49 11h1v1h-1zM10 13h1v1h-1zM44 13h2v1h-2zM47 13h1v1h-1zM47 14h1v1h-1zM51 14h1v1h-1zM9 15h1v1h-1zM4 16h1v1h-1zM50 16h1v1h-1zM4 17h1v1h-1zM8 17h1v1h-1zM49 17h1v1h-1zM49 18h1v1h-1zM7 19h1v1h-1zM3 20h1v1h-1zM50 22h1v1h-1zM50 23h1v1h-1zM50 24h1v1h-1zM50 25h1v1h-1zM3 26h1v1h-1zM2 27h1v1h-1zM53 27h1v1h-1zM31 28h1v1h-1zM53 28h1v1h-1zM2 29h1v1h-1zM51 29h1v1h-1zM2 30h1v1h-1zM25 30h1v1h-1zM29 33h1v1h-1zM2 35h1v1h-1zM2 36h1v1h-1zM3 37h1v1h-1zM6 37h1v1h-1zM53 37h1v1h-1zM53 38h1v1h-1zM53 39h1v1h-1zM3 40h1v1h-1zM5 40h1v1h-1zM50 40h1v1h-1zM53 40h1v1h-1zM51 41h1v1h-1zM53 41h1v1h-1zM48 42h1v1h-1zM8 43h1v1h-1zM48 43h2v1h-2zM6 45h1v1h-1zM8 45h1v1h-1zM9 46h1v1h-1zM12 46h1v1h-1zM48 46h1v1h-1zM45 47h3v1h-3zM7 48h1v1h-1zM13 48h1v1h-1zM48 48h1v1h-1zM41 50h1v1h-1zM46 50h1v1h-1zM10 51h1v1h-1zM11 52h1v1h-1zM42 52h1v1h-1zM12 53h1v1h-1zM22 53h1v1h-1zM31 53h2v1h-2zM14 54h1v1h-1zM17 54h1v1h-1zM29 54h1v1h-1zM31 54h1v1h-1zM16 55h3v1h-3zM31 55h3v1h-3z"/><path fill="#cd0000" d="M15 4h1v1h-1zM22 4h1v1h-1zM25 4h2v1h-2zM38 4h2v1h-2zM12 6h2v1h-2zM32 6h1v1h-1zM37 6h2v1h-2zM13 7h1v1h-1zM36 7h1v1h-1zM41 7h1v1h-1zM43 7h1v1h-1zM9 8h1v1h-1zM12 8h1v1h-1zM14 8h2v1h-2zM22 8h1v1h-1zM26 8h1v1h-1zM13 10h1v1h-1zM10 11h1v1h-1zM42 11h1v1h-1zM7 12h1v1h-1zM16 12h1v1h-1zM5 13h1v1h-1zM11 13h1v1h-1zM46 14h1v1h-1zM48 14h1v1h-1zM42 15h1v1h-1zM47 15h1v1h-1zM50 15h1v1h-1zM9 16h1v1h-1zM7 17h1v1h-1zM43 17h2v1h-2zM4 18h1v1h-1zM44 18h1v1h-1zM5 19h1v1h-1zM48 19h1v1h-1zM5 20h1v1h-1zM7 20h1v1h-1zM47 21h1v1h-1zM27 24h2v1h-2zM3 25h1v1h-1zM24 29h1v1h-1zM31 31h1v1h-1zM5 34h1v1h-1zM51 34h1v1h-1zM47 35h1v1h-1zM51 35h1v1h-1zM6 36h1v1h-1zM52 36h1v1h-1zM3 39h1v1h-1zM51 39h1v1h-1zM4 40h1v1h-1zM49 40h1v1h-1zM48 41h1v1h-1zM52 41h1v1h-1zM52 42h1v1h-1zM7 43h1v1h-1zM9 43h1v1h-1zM50 43h1v1h-1zM5 44h1v1h-1zM7 44h1v1h-1zM50 44h1v1h-1zM7 45h1v1h-1zM49 45h1v1h-1zM7 46h2v1h-2zM49 46h1v1h-1zM7 47h1v1h-1zM10 48h1v1h-1zM43 48h2v1h-2zM8 49h1v1h-1zM11 49h1v1h-1zM40 49h1v1h-1zM13 50h2v1h-2zM39 50h1v1h-1zM42 50h1v1h-1zM11 51h1v1h-1zM14 51h1v1h-1zM36 51h1v1h-1zM38 51h1v1h-1zM40 51h2v1h-2zM44 51h1v1h-1zM21 52h1v1h-1zM29 53h2v1h-2zM33 53h1v1h-1zM37 53h2v1h-2zM33 54h1v1h-1zM36 54h1v1h-1zM19 55h2v1h-2z"/><path fill="#d80000" d="M16 4h1v1h-1zM37 4h1v1h-1zM37 5h1v1h-1zM41 5h1v1h-1zM18 6h1v1h-1zM30 6h1v1h-1zM39 6h5v1h-5zM11 7h2v1h-2zM35 7h1v1h-1zM42 7h1v1h-1zM21 8h1v1h-1zM23 8h2v1h-2zM37 8h1v1h-1zM11 9h1v1h-1zM14 9h1v1h-1zM39 9h1v1h-1zM10 10h1v1h-1zM47 10h1v1h-1zM9 11h1v1h-1zM16 11h2v1h-2zM47 11h2v1h-2zM12 12h1v1h-1zM17 12h1v1h-1zM48 13h1v1h-1zM50 13h1v1h-1zM44 14h1v1h-1zM49 15h1v1h-1zM8 16h1v1h-1zM10 16h1v1h-1zM42 16h1v1h-1zM44 16h1v1h-1zM9 17h1v1h-1zM48 17h1v1h-1zM43 18h1v1h-1zM45 18h1v1h-1zM44 19h2v1h-2zM12 20h1v1h-1zM45 20h4v1h-4zM3 21h1v1h-1zM45 21h1v1h-1zM46 23h2v1h-2zM3 24h1v1h-1zM26 24h1v1h-1zM47 24h1v1h-1zM49 25h1v1h-1zM25 26h1v1h-1zM49 26h1v1h-1zM24 27h1v1h-1zM31 27h1v1h-1zM5 28h1v1h-1zM50 28h1v1h-1zM24 30h1v1h-1zM25 31h1v1h-1zM5 33h1v1h-1zM53 35h1v1h-1zM47 36h1v1h-1zM51 36h1v1h-1zM53 36h1v1h-1zM51 37h1v1h-1zM7 38h1v1h-1zM51 38h1v1h-1zM4 39h1v1h-1zM50 39h1v1h-1zM7 40h1v1h-1zM5 43h1v1h-1zM47 43h1v1h-1zM51 43h1v1h-1zM6 44h1v1h-1zM11 44h1v1h-1zM46 44h1v1h-1zM41 47h3v1h-3zM45 48h2v1h-2zM21 49h3v1h-3zM38 49h1v1h-1zM43 49h1v1h-1zM46 49h1v1h-1zM11 50h1v1h-1zM16 50h1v1h-1zM45 50h1v1h-1zM13 51h1v1h-1zM35 51h1v1h-1zM37 51h1v1h-1zM42 51h1v1h-1zM12 52h1v1h-1zM24 52h5v1h-5zM35 52h3v1h-3zM40 52h1v1h-1zM13 53h1v1h-1zM34 53h1v1h-1zM39 53h1v1h-1zM15 54h1v1h-1zM34 54h2v1h-2z"/><path fill="#c20000" d="M21 4h1v1h-1zM36 4h1v1h-1zM40 4h2v1h-2zM14 5h2v1h-2zM20 5h1v1h-1zM36 5h1v1h-1zM42 5h1v1h-1zM14 6h1v1h-1zM17 6h1v1h-1zM10 7h1v1h-1zM14 7h1v1h-1zM16 7h1v1h-1zM37 7h1v1h-1zM40 7h1v1h-1zM44 7h1v1h-1zM8 8h1v1h-1zM13 8h1v1h-1zM25 8h1v1h-1zM38 8h1v1h-1zM8 9h1v1h-1zM13 9h1v1h-1zM21 9h2v1h-2zM40 9h1v1h-1zM8 10h1v1h-1zM11 10h1v1h-1zM42 10h1v1h-1zM8 11h1v1h-1zM12 11h1v1h-1zM6 12h1v1h-1zM8 12h4v1h-4zM47 12h1v1h-1zM9 13h1v1h-1zM43 13h1v1h-1zM9 14h2v1h-2zM43 14h1v1h-1zM10 15h1v1h-1zM43 15h1v1h-1zM48 15h1v1h-1zM43 16h1v1h-1zM48 16h2v1h-2zM7 18h2v1h-2zM46 21h1v1h-1zM46 22h2v1h-2zM2 25h1v1h-1zM4 25h1v1h-1zM53 25h1v1h-1zM2 26h1v1h-1zM50 26h1v1h-1zM53 26h1v1h-1zM50 27h1v1h-1zM24 28h1v1h-1zM51 30h1v1h-1zM4 31h1v1h-1zM51 31h1v1h-1zM4 32h1v1h-1zM30 32h1v1h-1zM51 32h1v1h-1zM4 33h1v1h-1zM51 33h1v1h-1zM52 35h1v1h-1zM54 35h1v1h-1zM54 36h1v1h-1zM52 37h1v1h-1zM3 38h2v1h-2zM52 38h1v1h-1zM52 39h1v1h-1zM51 40h2v1h-2zM7 41h1v1h-1zM5 42h3v1h-3zM51 42h1v1h-1zM52 43h1v1h-1zM10 44h1v1h-1zM49 44h1v1h-1zM51 44h1v1h-1zM11 45h1v1h-1zM50 45h1v1h-1zM45 46h1v1h-1zM9 47h1v1h-1zM13 47h1v1h-1zM44 47h1v1h-1zM48 47h2v1h-2zM47 48h1v1h-1zM13 49h1v1h-1zM9 50h1v1h-1zM12 50h1v1h-1zM15 50h1v1h-1zM37 50h2v1h-2zM40 50h1v1h-1zM17 51h1v1h-1zM39 51h1v1h-1zM15 52h1v1h-1zM20 52h1v1h-1zM41 52h1v1h-1zM23 53h2v1h-2zM40 53h1v1h-1zM30 54h1v1h-1zM32 54h1v1h-1zM19 56h2v1h-2z"/><path fill="#e30000" d="M21 5h1v1h-1zM28 5h1v1h-1zM38 5h3v1h-3zM31 6h1v1h-1zM25 7h1v1h-1zM34 7h1v1h-1zM10 8h2v1h-2zM9 9h2v1h-2zM20 9h1v1h-1zM9 10h1v1h-1zM21 10h1v1h-1zM41 10h1v1h-1zM13 11h1v1h-1zM15 12h1v1h-1zM37 12h1v1h-1zM48 12h2v1h-2zM8 13h1v1h-1zM5 14h1v1h-1zM11 14h1v1h-1zM42 14h1v1h-1zM50 14h1v1h-1zM5 15h1v1h-1zM8 15h1v1h-1zM44 15h1v1h-1zM46 15h1v1h-1zM5 16h1v1h-1zM7 16h1v1h-1zM47 16h1v1h-1zM5 18h2v1h-2zM48 18h1v1h-1zM4 19h1v1h-1zM8 19h1v1h-1zM12 19h1v1h-1zM46 19h1v1h-1zM11 20h1v1h-1zM5 21h2v1h-2zM11 21h1v1h-1zM48 21h2v1h-2zM3 22h1v1h-1zM45 22h1v1h-1zM3 23h1v1h-1zM5 23h1v1h-1zM11 23h1v1h-1zM4 24h2v1h-2zM46 24h1v1h-1zM49 24h1v1h-1zM5 25h1v1h-1zM47 25h1v1h-1zM5 26h1v1h-1zM5 27h1v1h-1zM49 27h1v1h-1zM5 29h1v1h-1zM32 29h1v1h-1zM5 30h1v1h-1zM5 31h1v1h-1zM8 31h1v1h-1zM5 32h1v1h-1zM8 32h1v1h-1zM8 33h2v1h-2zM9 34h1v1h-1zM28 34h1v1h-1zM6 35h1v1h-1zM7 37h1v1h-1zM9 37h2v1h-2zM10 38h1v1h-1zM7 39h1v1h-1zM46 39h1v1h-1zM45 40h1v1h-1zM44 41h1v1h-1zM8 42h1v1h-1zM47 42h1v1h-1zM6 43h1v1h-1zM12 43h2v1h-2zM12 44h1v1h-1zM12 45h1v1h-1zM15 45h2v1h-2zM45 45h1v1h-1zM16 46h1v1h-1zM44 46h1v1h-1zM8 47h1v1h-1zM8 48h2v1h-2zM14 49h1v1h-1zM24 49h2v1h-2zM37 49h1v1h-1zM39 49h1v1h-1zM44 49h1v1h-1zM10 50h1v1h-1zM23 50h2v1h-2zM36 50h1v1h-1zM44 50h1v1h-1zM12 51h1v1h-1zM18 51h1v1h-1zM24 51h1v1h-1zM14 52h1v1h-1zM22 52h2v1h-2zM31 52h2v1h-2zM34 52h1v1h-1zM38 52h2v1h-2zM16 53h1v1h-1zM36 53h1v1h-1zM16 54h1v1h-1z"/><path fill="#f80000" d="M22 5h2v1h-2zM21 7h1v1h-1zM23 7h2v1h-2zM32 7h1v1h-1zM20 8h1v1h-1zM28 8h1v1h-1zM31 8h1v1h-1zM36 8h1v1h-1zM16 9h1v1h-1zM24 9h1v1h-1zM31 9h1v1h-1zM38 9h1v1h-1zM14 10h3v1h-3zM19 10h2v1h-2zM40 10h1v1h-1zM14 11h1v1h-1zM37 11h1v1h-1zM13 12h1v1h-1zM7 13h1v1h-1zM12 13h1v1h-1zM14 13h1v1h-1zM41 14h1v1h-1zM7 15h1v1h-1zM11 15h1v1h-1zM45 15h1v1h-1zM45 16h2v1h-2zM10 17h1v1h-1zM13 17h1v1h-1zM47 17h1v1h-1zM46 18h1v1h-1zM43 19h1v1h-1zM10 20h1v1h-1zM13 20h1v1h-1zM7 21h1v1h-1zM44 21h1v1h-1zM5 22h1v1h-1zM10 23h1v1h-1zM12 23h1v1h-1zM45 23h1v1h-1zM11 24h1v1h-1zM25 24h1v1h-1zM9 25h1v1h-1zM30 25h1v1h-1zM8 26h2v1h-2zM8 27h2v1h-2zM47 27h1v1h-1zM8 28h2v1h-2zM23 28h1v1h-1zM46 28h1v1h-1zM48 28h1v1h-1zM9 29h1v1h-1zM23 29h1v1h-1zM50 30h1v1h-1zM7 31h1v1h-1zM7 32h1v1h-1zM10 33h1v1h-1zM26 33h1v1h-1zM30 33h1v1h-1zM47 33h1v1h-1zM6 34h1v1h-1zM8 34h1v1h-1zM10 34h1v1h-1zM29 34h1v1h-1zM46 35h1v1h-1zM9 36h1v1h-1zM46 36h1v1h-1zM48 36h1v1h-1zM42 37h1v1h-1zM46 37h2v1h-2zM8 38h2v1h-2zM40 38h2v1h-2zM47 38h1v1h-1zM11 39h1v1h-1zM39 39h2v1h-2zM8 41h1v1h-1zM12 41h1v1h-1zM43 41h1v1h-1zM46 41h1v1h-1zM13 42h1v1h-1zM37 43h1v1h-1zM42 43h2v1h-2zM46 43h1v1h-1zM15 44h1v1h-1zM38 44h1v1h-1zM36 45h1v1h-1zM14 47h1v1h-1zM19 48h2v1h-2zM22 48h1v1h-1zM27 48h2v1h-2zM15 49h1v1h-1zM19 49h1v1h-1zM17 50h1v1h-1zM20 50h1v1h-1zM25 50h2v1h-2zM35 50h1v1h-1zM20 51h3v1h-3zM25 51h1v1h-1zM15 53h1v1h-1z"/><path fill="#ff0400" d="M24 5h3v1h-3zM20 6h2v1h-2zM18 7h1v1h-1zM31 7h1v1h-1zM17 8h1v1h-1zM19 8h1v1h-1zM32 8h1v1h-1zM25 9h6v1h-6zM32 9h1v1h-1zM37 9h1v1h-1zM17 10h2v1h-2zM29 10h3v1h-3zM38 11h1v1h-1zM41 11h1v1h-1zM14 12h1v1h-1zM18 12h1v1h-1zM13 13h1v1h-1zM40 13h2v1h-2zM12 14h1v1h-1zM14 14h2v1h-2zM40 14h1v1h-1zM6 15h1v1h-1zM41 16h1v1h-1zM46 17h1v1h-1zM12 18h1v1h-1zM47 18h1v1h-1zM9 19h2v1h-2zM8 20h1v1h-1zM10 21h1v1h-1zM6 22h1v1h-1zM10 22h1v1h-1zM12 22h1v1h-1zM44 22h1v1h-1zM49 22h1v1h-1zM26 23h1v1h-1zM9 24h2v1h-2zM12 24h1v1h-1zM45 24h1v1h-1zM8 25h1v1h-1zM10 25h1v1h-1zM32 27h1v1h-1zM45 27h1v1h-1zM47 28h1v1h-1zM46 29h4v1h-4zM7 30h1v1h-1zM23 30h1v1h-1zM47 30h2v1h-2zM6 31h1v1h-1zM24 31h1v1h-1zM32 31h1v1h-1zM50 31h1v1h-1zM6 32h1v1h-1zM47 32h1v1h-1zM50 32h1v1h-1zM6 33h2v1h-2zM48 33h1v1h-1zM50 33h1v1h-1zM7 34h1v1h-1zM27 34h1v1h-1zM46 34h1v1h-1zM48 34h1v1h-1zM50 34h1v1h-1zM9 35h1v1h-1zM50 35h1v1h-1zM7 36h1v1h-1zM10 36h1v1h-1zM50 36h1v1h-1zM50 37h1v1h-1zM11 38h1v1h-1zM42 38h1v1h-1zM44 39h1v1h-1zM48 39h2v1h-2zM10 40h3v1h-3zM38 40h2v1h-2zM43 40h1v1h-1zM9 42h1v1h-1zM11 42h1v1h-1zM42 42h1v1h-1zM45 42h2v1h-2zM44 43h1v1h-1zM45 44h1v1h-1zM13 45h2v1h-2zM17 45h1v1h-1zM38 45h1v1h-1zM18 46h1v1h-1zM36 46h2v1h-2zM16 47h3v1h-3zM23 48h1v1h-1zM25 48h2v1h-2zM29 48h1v1h-1zM27 49h1v1h-1zM36 49h1v1h-1zM18 50h2v1h-2zM26 51h2v1h-2zM34 51h1v1h-1z"/><path fill="#ed0000" d="M27 5h1v1h-1zM19 6h1v1h-1zM29 6h1v1h-1zM17 7h1v1h-1zM22 7h1v1h-1zM26 7h1v1h-1zM33 7h1v1h-1zM16 8h1v1h-1zM27 8h1v1h-1zM15 9h1v1h-1zM19 9h1v1h-1zM23 9h1v1h-1zM22 10h1v1h-1zM15 11h1v1h-1zM18 11h1v1h-1zM38 12h1v1h-1zM42 12h1v1h-1zM6 13h1v1h-1zM15 13h2v1h-2zM42 13h1v1h-1zM49 13h1v1h-1zM8 14h1v1h-1zM45 14h1v1h-1zM49 14h1v1h-1zM41 15h1v1h-1zM6 16h1v1h-1zM5 17h2v1h-2zM42 17h1v1h-1zM45 17h1v1h-1zM9 18h1v1h-1zM13 18h1v1h-1zM11 19h1v1h-1zM13 19h1v1h-1zM47 19h1v1h-1zM4 20h1v1h-1zM44 20h1v1h-1zM4 21h1v1h-1zM12 21h1v1h-1zM4 22h1v1h-1zM11 22h1v1h-1zM48 22h1v1h-1zM4 23h1v1h-1zM6 23h1v1h-1zM48 23h2v1h-2zM6 24h1v1h-1zM29 24h1v1h-1zM48 24h1v1h-1zM25 25h1v1h-1zM46 25h1v1h-1zM48 25h1v1h-1zM46 26h3v1h-3zM46 27h1v1h-1zM48 27h1v1h-1zM32 28h1v1h-1zM49 28h1v1h-1zM8 29h1v1h-1zM50 29h1v1h-1zM8 30h2v1h-2zM32 30h1v1h-1zM9 31h1v1h-1zM9 32h1v1h-1zM31 32h1v1h-1zM47 34h1v1h-1zM48 35h1v1h-1zM8 37h1v1h-1zM41 37h1v1h-1zM46 38h1v1h-1zM50 38h1v1h-1zM10 39h1v1h-1zM45 39h1v1h-1zM47 39h1v1h-1zM44 40h1v1h-1zM46 40h3v1h-3zM45 41h1v1h-1zM47 41h1v1h-1zM12 42h1v1h-1zM43 42h2v1h-2zM10 43h2v1h-2zM14 43h1v1h-1zM13 44h2v1h-2zM37 44h1v1h-1zM37 45h1v1h-1zM13 46h1v1h-1zM15 46h1v1h-1zM17 46h1v1h-1zM14 48h1v1h-1zM21 48h1v1h-1zM40 48h1v1h-1zM9 49h2v1h-2zM20 49h1v1h-1zM26 49h1v1h-1zM45 49h1v1h-1zM21 50h2v1h-2zM43 50h1v1h-1zM19 51h1v1h-1zM23 51h1v1h-1zM43 51h1v1h-1zM13 52h1v1h-1zM29 52h2v1h-2zM33 52h1v1h-1zM14 53h1v1h-1zM35 53h1v1h-1z"/><path fill="#ff0f00" d="M22 6h1v1h-1zM25 6h2v1h-2zM19 7h2v1h-2zM27 7h2v1h-2zM30 7h1v1h-1zM18 8h1v1h-1zM35 8h1v1h-1zM17 9h2v1h-2zM32 10h1v1h-1zM39 10h1v1h-1zM40 11h1v1h-1zM27 12h1v1h-1zM39 12h1v1h-1zM41 12h1v1h-1zM17 13h1v1h-1zM39 13h1v1h-1zM6 14h2v1h-2zM13 14h1v1h-1zM13 15h2v1h-2zM11 16h1v1h-1zM13 16h1v1h-1zM11 17h2v1h-2zM14 17h1v1h-1zM10 18h2v1h-2zM14 18h1v1h-1zM42 18h1v1h-1zM14 19h1v1h-1zM9 20h1v1h-1zM9 23h1v1h-1zM27 23h1v1h-1zM42 23h1v1h-1zM42 24h1v1h-1zM6 25h1v1h-1zM42 25h1v1h-1zM45 25h1v1h-1zM10 26h1v1h-1zM24 26h1v1h-1zM31 26h1v1h-1zM42 26h1v1h-1zM45 26h1v1h-1zM23 27h1v1h-1zM7 28h1v1h-1zM33 28h1v1h-1zM45 28h1v1h-1zM6 29h2v1h-2zM6 30h1v1h-1zM10 30h1v1h-1zM46 30h1v1h-1zM49 30h1v1h-1zM10 31h1v1h-1zM47 31h2v1h-2zM10 32h1v1h-1zM25 32h1v1h-1zM48 32h1v1h-1zM31 33h1v1h-1zM46 33h1v1h-1zM30 34h1v1h-1zM10 35h1v1h-1zM29 35h1v1h-1zM8 36h1v1h-1zM42 36h1v1h-1zM11 37h1v1h-1zM40 37h1v1h-1zM45 38h1v1h-1zM9 39h1v1h-1zM38 39h1v1h-1zM43 39h1v1h-1zM40 40h1v1h-1zM11 41h1v1h-1zM36 41h3v1h-3zM36 42h2v1h-2zM38 43h1v1h-1zM41 43h1v1h-1zM45 43h1v1h-1zM36 44h1v1h-1zM44 44h1v1h-1zM35 45h1v1h-1zM44 45h1v1h-1zM14 46h1v1h-1zM34 46h2v1h-2zM43 46h1v1h-1zM15 47h1v1h-1zM19 47h1v1h-1zM28 47h2v1h-2zM33 47h1v1h-1zM15 48h1v1h-1zM18 48h1v1h-1zM24 48h1v1h-1zM39 48h1v1h-1zM18 49h1v1h-1zM28 49h1v1h-1zM27 50h1v1h-1zM28 51h1v1h-1z"/><path fill="#ff1a00" d="M23 6h1v1h-1zM28 6h1v1h-1zM29 7h1v1h-1zM29 8h2v1h-2zM23 10h1v1h-1zM28 10h1v1h-1zM38 10h1v1h-1zM19 11h1v1h-1zM28 11h1v1h-1zM36 11h1v1h-1zM39 11h1v1h-1zM25 12h2v1h-2zM28 12h1v1h-1zM36 12h1v1h-1zM40 12h1v1h-1zM27 13h1v1h-1zM38 13h1v1h-1zM16 14h1v1h-1zM39 14h1v1h-1zM12 15h1v1h-1zM14 16h1v1h-1zM18 18h1v1h-1zM17 19h1v1h-1zM14 20h1v1h-1zM43 20h1v1h-1zM8 21h2v1h-2zM43 21h1v1h-1zM7 22h1v1h-1zM9 22h1v1h-1zM7 23h1v1h-1zM13 23h2v1h-2zM44 23h1v1h-1zM7 24h2v1h-2zM13 24h1v1h-1zM43 24h2v1h-2zM7 25h1v1h-1zM11 25h1v1h-1zM43 25h2v1h-2zM6 26h2v1h-2zM43 26h1v1h-1zM6 27h2v1h-2zM10 27h1v1h-1zM42 27h1v1h-1zM6 28h1v1h-1zM10 28h1v1h-1zM10 29h1v1h-1zM33 29h1v1h-1zM45 29h1v1h-1zM46 31h1v1h-1zM49 31h1v1h-1zM46 32h1v1h-1zM49 32h1v1h-1zM7 35h2v1h-2zM28 35h1v1h-1zM49 35h1v1h-1zM41 36h1v1h-1zM48 37h1v1h-1zM39 38h1v1h-1zM48 38h2v1h-2zM12 39h1v1h-1zM41 39h1v1h-1zM8 40h2v1h-2zM37 40h1v1h-1zM13 41h1v1h-1zM39 41h1v1h-1zM42 41h1v1h-1zM10 42h1v1h-1zM35 42h1v1h-1zM41 42h1v1h-1zM16 44h1v1h-1zM41 44h3v1h-3zM33 46h1v1h-1zM38 46h1v1h-1zM42 46h1v1h-1zM27 47h1v1h-1zM30 47h3v1h-3zM34 47h1v1h-1zM40 47h1v1h-1zM16 48h2v1h-2zM30 48h1v1h-1zM38 48h1v1h-1zM16 49h2v1h-2zM28 50h1v1h-1zM34 50h1v1h-1zM32 51h2v1h-2z"/><path fill="#ff2400" d="M24 6h1v1h-1zM27 6h1v1h-1zM33 8h2v1h-2zM36 9h1v1h-1zM24 10h1v1h-1zM27 10h1v1h-1zM36 10h2v1h-2zM27 11h1v1h-1zM34 11h2v1h-2zM24 12h1v1h-1zM22 13h5v1h-5zM28 13h1v1h-1zM37 13h1v1h-1zM20 14h2v1h-2zM40 15h1v1h-1zM12 16h1v1h-1zM18 17h1v1h-1zM41 17h1v1h-1zM17 18h1v1h-1zM18 19h1v1h-1zM17 20h1v1h-1zM13 21h1v1h-1zM8 22h1v1h-1zM41 22h3v1h-3zM8 23h1v1h-1zM25 23h1v1h-1zM28 23h1v1h-1zM41 23h1v1h-1zM43 23h1v1h-1zM14 24h1v1h-1zM30 24h1v1h-1zM44 26h1v1h-1zM33 27h1v1h-1zM43 27h2v1h-2zM42 28h2v1h-2zM45 30h1v1h-1zM11 32h1v1h-1zM32 32h1v1h-1zM11 33h1v1h-1zM45 33h1v1h-1zM49 33h1v1h-1zM11 34h1v1h-1zM42 34h2v1h-2zM45 34h1v1h-1zM49 34h1v1h-1zM30 35h1v1h-1zM42 35h2v1h-2zM11 36h1v1h-1zM40 36h1v1h-1zM43 36h1v1h-1zM45 36h1v1h-1zM49 36h1v1h-1zM43 37h1v1h-1zM45 37h1v1h-1zM49 37h1v1h-1zM43 38h2v1h-2zM8 39h1v1h-1zM42 39h1v1h-1zM13 40h1v1h-1zM41 40h2v1h-2zM9 41h1v1h-1zM40 41h2v1h-2zM14 42h1v1h-1zM38 42h1v1h-1zM15 43h1v1h-1zM36 43h1v1h-1zM40 43h1v1h-1zM35 44h1v1h-1zM39 44h2v1h-2zM18 45h1v1h-1zM34 45h1v1h-1zM43 45h1v1h-1zM41 46h1v1h-1zM20 47h1v1h-1zM26 47h1v1h-1zM31 48h1v1h-1zM37 48h1v1h-1zM29 49h1v1h-1zM35 49h1v1h-1zM29 51h3v1h-3z"/><path fill="#ff2f00" d="M33 9h3v1h-3zM33 10h1v1h-1zM35 10h1v1h-1zM20 11h1v1h-1zM26 11h1v1h-1zM29 11h1v1h-1zM33 11h1v1h-1zM23 12h1v1h-1zM34 12h1v1h-1zM18 13h1v1h-1zM21 13h1v1h-1zM36 13h1v1h-1zM19 14h1v1h-1zM22 14h1v1h-1zM15 15h1v1h-1zM19 17h1v1h-1zM19 18h1v1h-1zM15 20h2v1h-2zM41 21h2v1h-2zM41 24h1v1h-1zM12 25h1v1h-1zM24 25h1v1h-1zM11 26h1v1h-1zM11 27h2v1h-2zM11 28h2v1h-2zM22 28h1v1h-1zM44 28h1v1h-1zM22 29h1v1h-1zM44 29h1v1h-1zM33 30h1v1h-1zM11 31h1v1h-1zM23 31h1v1h-1zM12 32h1v1h-1zM24 32h1v1h-1zM42 33h2v1h-2zM31 34h1v1h-1zM11 35h1v1h-1zM41 35h1v1h-1zM45 35h1v1h-1zM14 36h1v1h-1zM29 36h1v1h-1zM12 38h1v1h-1zM10 41h1v1h-1zM35 41h1v1h-1zM39 42h2v1h-2zM22 43h1v1h-1zM35 43h1v1h-1zM39 43h1v1h-1zM25 44h2v1h-2zM25 45h2v1h-2zM19 46h1v1h-1zM29 46h4v1h-4zM21 47h1v1h-1zM25 47h1v1h-1zM35 47h3v1h-3zM32 48h3v1h-3zM30 49h2v1h-2zM33 49h2v1h-2zM29 50h1v1h-1zM33 50h1v1h-1z"/><path fill="#ff4500" d="M25 10h2v1h-2zM31 11h2v1h-2zM35 13h1v1h-1zM18 14h1v1h-1zM24 14h1v1h-1zM18 15h1v1h-1zM21 15h1v1h-1zM33 15h1v1h-1zM37 17h1v1h-1zM15 18h2v1h-2zM37 18h2v1h-2zM39 19h2v1h-2zM18 20h1v1h-1zM42 20h1v1h-1zM14 21h1v1h-1zM16 21h1v1h-1zM14 22h2v1h-2zM15 23h1v1h-1zM13 26h1v1h-1zM23 26h1v1h-1zM41 26h1v1h-1zM41 27h1v1h-1zM13 28h1v1h-1zM12 29h1v1h-1zM12 30h1v1h-1zM42 30h1v1h-1zM43 31h2v1h-2zM44 32h1v1h-1zM32 33h1v1h-1zM12 34h2v1h-2zM26 34h1v1h-1zM41 34h1v1h-1zM12 35h1v1h-1zM12 36h1v1h-1zM39 36h1v1h-1zM13 37h1v1h-1zM15 37h1v1h-1zM13 38h3v1h-3zM21 42h1v1h-1zM34 42h1v1h-1zM25 43h1v1h-1zM33 43h1v1h-1zM17 44h1v1h-1zM21 44h1v1h-1zM27 44h1v1h-1zM33 44h1v1h-1zM22 45h1v1h-1zM24 45h1v1h-1zM40 45h1v1h-1zM20 46h1v1h-1zM25 46h1v1h-1zM39 46h2v1h-2zM23 47h2v1h-2zM35 48h1v1h-1z"/><path fill="#ff3a00" d="M34 10h1v1h-1zM21 11h5v1h-5zM30 11h1v1h-1zM19 12h1v1h-1zM29 12h1v1h-1zM33 12h1v1h-1zM35 12h1v1h-1zM19 13h2v1h-2zM29 13h1v1h-1zM17 14h1v1h-1zM23 14h1v1h-1zM19 15h2v1h-2zM18 16h2v1h-2zM17 17h1v1h-1zM41 18h1v1h-1zM15 19h2v1h-2zM42 19h1v1h-1zM40 20h1v1h-1zM15 21h1v1h-1zM13 22h1v1h-1zM29 23h1v1h-1zM13 25h1v1h-1zM31 25h1v1h-1zM41 25h1v1h-1zM12 26h1v1h-1zM32 26h1v1h-1zM13 27h1v1h-1zM11 29h1v1h-1zM42 29h2v1h-2zM11 30h1v1h-1zM22 30h1v1h-1zM43 30h2v1h-2zM12 31h1v1h-1zM45 31h1v1h-1zM43 32h1v1h-1zM45 32h1v1h-1zM12 33h1v1h-1zM25 33h1v1h-1zM44 33h1v1h-1zM44 34h1v1h-1zM13 35h2v1h-2zM27 35h1v1h-1zM40 35h1v1h-1zM44 35h1v1h-1zM13 36h1v1h-1zM28 36h1v1h-1zM44 36h1v1h-1zM12 37h1v1h-1zM14 37h1v1h-1zM39 37h1v1h-1zM44 37h1v1h-1zM38 38h1v1h-1zM13 39h1v1h-1zM37 39h1v1h-1zM36 40h1v1h-1zM22 42h1v1h-1zM21 43h1v1h-1zM34 43h1v1h-1zM22 44h1v1h-1zM34 44h1v1h-1zM27 45h1v1h-1zM33 45h1v1h-1zM39 45h1v1h-1zM41 45h2v1h-2zM26 46h3v1h-3zM22 47h1v1h-1zM38 47h2v1h-2zM36 48h1v1h-1zM32 49h1v1h-1zM30 50h3v1h-3z"/><path fill="#ff5000" d="M20 12h3v1h-3zM30 13h1v1h-1zM25 14h1v1h-1zM27 14h1v1h-1zM38 14h1v1h-1zM22 15h1v1h-1zM34 15h1v1h-1zM15 16h1v1h-1zM20 16h1v1h-1zM40 16h1v1h-1zM15 17h1v1h-1zM20 17h1v1h-1zM38 17h1v1h-1zM19 19h1v1h-1zM41 19h1v1h-1zM39 20h1v1h-1zM41 20h1v1h-1zM17 21h1v1h-1zM40 21h1v1h-1zM27 22h1v1h-1zM24 24h1v1h-1zM14 25h1v1h-1zM33 26h1v1h-1zM22 27h1v1h-1zM41 28h1v1h-1zM13 31h1v1h-1zM33 31h1v1h-1zM13 32h1v1h-1zM42 32h1v1h-1zM13 33h1v1h-1zM15 36h1v1h-1zM30 36h1v1h-1zM16 37h1v1h-1zM16 38h1v1h-1zM14 40h1v1h-1zM14 41h1v1h-1zM22 41h1v1h-1zM15 42h1v1h-1zM26 43h1v1h-1zM23 44h2v1h-2zM32 44h1v1h-1zM19 45h1v1h-1zM21 45h1v1h-1zM23 45h1v1h-1zM28 45h2v1h-2zM32 45h1v1h-1zM21 46h1v1h-1zM24 46h1v1h-1z"/><path fill="#ff5a00" d="M30 12h1v1h-1zM34 13h1v1h-1zM26 14h1v1h-1zM28 14h1v1h-1zM35 14h2v1h-2zM16 15h2v1h-2zM39 15h1v1h-1zM17 16h1v1h-1zM33 16h2v1h-2zM20 18h1v1h-1zM38 19h1v1h-1zM26 22h1v1h-1zM28 22h1v1h-1zM15 24h1v1h-1zM31 24h1v1h-1zM34 28h1v1h-1zM42 31h1v1h-1zM41 33h1v1h-1zM40 34h1v1h-1zM28 37h1v1h-1zM17 38h1v1h-1zM14 39h1v1h-1zM23 42h1v1h-1zM16 43h1v1h-1zM23 43h1v1h-1zM32 43h1v1h-1zM18 44h1v1h-1zM28 44h1v1h-1zM20 45h1v1h-1zM30 45h2v1h-2zM22 46h2v1h-2z"/><path fill="#ff7b00" d="M31 12h1v1h-1zM31 13h1v1h-1zM31 14h1v1h-1zM35 15h1v1h-1zM37 15h1v1h-1zM38 16h2v1h-2zM21 17h1v1h-1zM39 17h1v1h-1zM20 19h1v1h-1zM37 19h1v1h-1zM19 20h1v1h-1zM38 20h1v1h-1zM18 21h1v1h-1zM39 21h1v1h-1zM16 23h1v1h-1zM40 23h1v1h-1zM23 25h1v1h-1zM40 27h1v1h-1zM14 28h1v1h-1zM21 28h1v1h-1zM40 28h1v1h-1zM21 29h1v1h-1zM34 30h1v1h-1zM25 34h1v1h-1zM32 34h1v1h-1zM16 36h1v1h-1zM18 37h1v1h-1zM18 39h1v1h-1zM16 40h1v1h-1zM18 40h1v1h-1zM22 40h1v1h-1zM17 41h2v1h-2zM24 41h1v1h-1zM18 42h1v1h-1zM20 42h1v1h-1zM25 42h1v1h-1zM17 43h3v1h-3zM27 43h1v1h-1zM29 44h2v1h-2z"/><path fill="#ff7000" d="M32 12h1v1h-1zM33 13h1v1h-1zM32 14h1v1h-1zM24 15h1v1h-1zM32 15h1v1h-1zM38 15h1v1h-1zM16 16h1v1h-1zM37 16h1v1h-1zM36 17h1v1h-1zM39 18h1v1h-1zM30 23h1v1h-1zM32 25h1v1h-1zM22 26h1v1h-1zM14 27h1v1h-1zM41 30h1v1h-1zM33 32h1v1h-1zM40 33h1v1h-1zM15 35h1v1h-1zM18 38h1v1h-1zM15 40h1v1h-1zM17 40h1v1h-1zM23 40h1v1h-1zM35 40h1v1h-1zM16 41h1v1h-1zM34 41h1v1h-1zM16 42h1v1h-1zM24 42h1v1h-1zM19 44h1v1h-1z"/><path fill="#ff8600" d="M32 13h1v1h-1zM25 15h1v1h-1zM36 15h1v1h-1zM22 16h2v1h-2zM35 16h2v1h-2zM36 18h1v1h-1zM17 22h1v1h-1zM25 22h1v1h-1zM29 22h1v1h-1zM40 24h1v1h-1zM40 25h1v1h-1zM40 26h1v1h-1zM41 32h1v1h-1zM14 33h1v1h-1zM39 34h1v1h-1zM26 35h1v1h-1zM38 36h1v1h-1zM19 39h2v1h-2zM19 40h3v1h-3zM17 42h1v1h-1zM19 42h1v1h-1zM31 43h1v1h-1z"/><path fill="#ff6500" d="M29 14h2v1h-2zM33 14h2v1h-2zM37 14h1v1h-1zM23 15h1v1h-1zM21 16h1v1h-1zM16 17h1v1h-1zM40 17h1v1h-1zM40 18h1v1h-1zM16 22h1v1h-1zM40 22h1v1h-1zM14 26h1v1h-1zM34 27h1v1h-1zM13 29h1v1h-1zM34 29h1v1h-1zM41 29h1v1h-1zM13 30h1v1h-1zM22 31h1v1h-1zM23 32h1v1h-1zM24 33h1v1h-1zM14 34h1v1h-1zM31 35h1v1h-1zM39 35h1v1h-1zM27 36h1v1h-1zM17 37h1v1h-1zM29 37h1v1h-1zM38 37h1v1h-1zM37 38h1v1h-1zM15 39h3v1h-3zM36 39h1v1h-1zM15 41h1v1h-1zM21 41h1v1h-1zM23 41h1v1h-1zM33 42h1v1h-1zM20 43h1v1h-1zM24 43h1v1h-1zM20 44h1v1h-1zM31 44h1v1h-1z"/><path fill="#ff9b00" d="M26 15h1v1h-1zM24 16h1v1h-1zM33 17h1v1h-1zM37 20h1v1h-1zM27 21h1v1h-1zM39 22h1v1h-1zM16 24h1v1h-1zM32 24h1v1h-1zM33 25h1v1h-1zM34 26h1v1h-1zM21 27h1v1h-1zM40 30h1v1h-1zM14 31h1v1h-1zM34 31h1v1h-1zM17 36h1v1h-1zM28 38h1v1h-1zM36 38h1v1h-1zM25 41h1v1h-1zM33 41h1v1h-1zM26 42h1v1h-1zM28 43h1v1h-1z"/><path fill="#ffb100" d="M27 15h1v1h-1zM30 15h1v1h-1zM35 18h1v1h-1zM36 19h1v1h-1zM20 20h1v1h-1zM26 21h1v1h-1zM29 21h1v1h-1zM37 21h1v1h-1zM18 22h1v1h-1zM31 23h1v1h-1zM23 24h1v1h-1zM15 26h1v1h-1zM15 27h1v1h-1zM35 28h1v1h-1zM14 30h1v1h-1zM21 31h1v1h-1zM40 31h1v1h-1zM23 33h1v1h-1zM24 34h1v1h-1zM32 35h1v1h-1zM18 36h1v1h-1zM29 38h1v1h-1zM24 39h1v1h-1zM34 40h1v1h-1z"/><path fill="#ffbc00" d="M28 15h2v1h-2zM25 16h1v1h-1zM31 16h1v1h-1zM23 17h1v1h-1zM32 17h1v1h-1zM34 18h1v1h-1zM19 21h1v1h-1zM39 23h1v1h-1zM22 25h1v1h-1zM21 26h1v1h-1zM35 27h1v1h-1zM39 27h1v1h-1zM39 28h1v1h-1zM22 32h1v1h-1zM34 32h1v1h-1zM38 35h1v1h-1zM26 36h1v1h-1zM27 38h1v1h-1zM22 39h1v1h-1zM31 42h1v1h-1zM30 43h1v1h-1z"/><path fill="#ff9000" d="M31 15h1v1h-1zM32 16h1v1h-1zM34 17h2v1h-2zM21 18h1v1h-1zM38 21h1v1h-1zM24 23h1v1h-1zM15 25h1v1h-1zM40 29h1v1h-1zM21 30h1v1h-1zM41 31h1v1h-1zM14 32h1v1h-1zM31 36h1v1h-1zM27 37h1v1h-1zM30 37h1v1h-1zM37 37h1v1h-1zM24 40h1v1h-1zM19 41h2v1h-2zM32 42h1v1h-1z"/><path fill="#ffd100" d="M26 16h1v1h-1zM36 20h1v1h-1zM25 21h1v1h-1zM24 22h1v1h-1zM37 22h1v1h-1zM33 24h1v1h-1zM16 25h1v1h-1zM34 25h1v1h-1zM20 27h1v1h-1zM20 29h1v1h-1zM35 30h1v1h-1zM16 34h1v1h-1zM33 34h1v1h-1zM25 35h1v1h-1zM36 37h1v1h-1z"/><path fill="#fff200" d="M27 16h1v1h-1zM32 18h1v1h-1zM22 19h1v1h-1zM21 20h1v1h-1zM26 20h1v1h-1zM30 20h1v1h-1zM19 22h1v1h-1zM31 22h1v1h-1zM18 24h1v1h-1zM37 24h1v1h-1zM21 25h1v1h-1zM36 27h1v1h-1zM15 30h1v1h-1zM15 31h1v1h-1zM20 31h1v1h-1zM16 33h1v1h-1zM18 34h1v1h-1zM38 34h1v1h-1zM19 35h1v1h-1zM31 38h1v1h-1zM26 39h1v1h-1zM27 40h1v1h-1zM27 41h1v1h-1zM31 41h1v1h-1z"/><path fill="#fffc00" d="M28 16h2v1h-2zM23 19h1v1h-1zM34 19h1v1h-1zM24 20h2v1h-2zM21 21h1v1h-1zM24 21h1v1h-1zM36 22h1v1h-1zM32 23h1v1h-1zM22 24h1v1h-1zM34 24h1v1h-1zM18 25h1v1h-1zM35 25h1v1h-1zM37 25h1v1h-1zM17 26h2v1h-2zM20 26h1v1h-1zM36 26h1v1h-1zM17 27h1v1h-1zM19 27h1v1h-1zM37 27h1v1h-1zM16 28h1v1h-1zM19 28h1v1h-1zM37 28h1v1h-1zM38 29h1v1h-1zM38 30h1v1h-1zM36 31h1v1h-1zM38 31h1v1h-1zM19 34h1v1h-1zM34 34h2v1h-2zM24 35h1v1h-1zM37 35h1v1h-1zM25 36h1v1h-1zM36 36h1v1h-1zM20 37h2v1h-2zM26 38h1v1h-1zM34 38h1v1h-1zM29 39h1v1h-1zM32 40h1v1h-1z"/><path fill="#ffe700" d="M30 16h1v1h-1zM31 17h1v1h-1zM23 18h1v1h-1zM27 20h1v1h-1zM20 21h1v1h-1zM36 21h1v1h-1zM23 23h1v1h-1zM37 23h1v1h-1zM38 24h1v1h-1zM17 25h1v1h-1zM38 25h1v1h-1zM16 26h1v1h-1zM38 26h1v1h-1zM16 27h1v1h-1zM38 27h1v1h-1zM36 28h1v1h-1zM38 28h1v1h-1zM15 29h1v1h-1zM20 30h1v1h-1zM39 31h1v1h-1zM15 32h1v1h-1zM21 32h1v1h-1zM35 32h1v1h-1zM17 34h1v1h-1zM18 35h1v1h-1zM26 37h1v1h-1zM22 38h1v1h-1zM35 38h1v1h-1zM34 39h1v1h-1zM26 40h1v1h-1zM28 42h1v1h-1z"/><path fill="#ffa600" d="M22 17h1v1h-1zM28 21h1v1h-1zM38 22h1v1h-1zM17 23h1v1h-1zM14 29h1v1h-1zM40 32h1v1h-1zM33 33h1v1h-1zM39 33h1v1h-1zM15 34h1v1h-1zM16 35h1v1h-1zM19 38h1v1h-1zM21 39h1v1h-1zM23 39h1v1h-1zM35 39h1v1h-1z"/><path fill="#ffdc00" d="M24 17h1v1h-1zM33 18h1v1h-1zM35 19h1v1h-1zM28 20h2v1h-2zM30 21h1v1h-1zM18 23h1v1h-1zM35 26h1v1h-1zM35 31h1v1h-1zM39 32h1v1h-1zM34 33h2v1h-2zM19 36h1v1h-1zM32 36h1v1h-1zM21 38h1v1h-1zM25 39h1v1h-1zM27 39h2v1h-2zM33 40h1v1h-1z"/><path fill="#ffff0c" d="M25 17h1v1h-1zM31 18h1v1h-1zM24 19h1v1h-1zM29 19h2v1h-2zM23 20h1v1h-1zM35 20h1v1h-1zM31 21h1v1h-1zM23 22h1v1h-1zM19 23h1v1h-1zM36 25h1v1h-1zM37 26h1v1h-1zM18 27h1v1h-1zM36 29h1v1h-1zM36 30h1v1h-1zM20 32h1v1h-1zM36 32h1v1h-1zM38 32h1v1h-1zM17 33h2v1h-2zM20 33h1v1h-1zM22 33h1v1h-1zM36 33h1v1h-1zM38 33h1v1h-1zM23 34h1v1h-1zM33 35h1v1h-1zM20 36h1v1h-1zM32 37h1v1h-1zM35 37h1v1h-1zM30 39h2v1h-2zM28 40h1v1h-1zM30 42h1v1h-1z"/><path fill="#ffff3d" d="M26 17h2v1h-2zM30 18h1v1h-1zM25 19h3v1h-3zM31 20h1v1h-1zM35 22h1v1h-1zM20 23h1v1h-1zM34 23h1v1h-1zM21 24h1v1h-1zM35 24h1v1h-1zM19 30h1v1h-1zM19 31h1v1h-1zM19 32h1v1h-1zM37 34h1v1h-1zM23 35h1v1h-1zM34 35h2v1h-2zM25 37h1v1h-1z"/><path fill="#ffff4d" d="M28 17h2v1h-2zM29 18h1v1h-1zM32 22h1v1h-1zM21 23h1v1h-1zM35 23h1v1h-1zM16 31h1v1h-1zM17 32h2v1h-2zM37 33h1v1h-1zM21 35h1v1h-1zM22 36h1v1h-1zM34 36h1v1h-1zM29 40h2v1h-2zM30 41h1v1h-1z"/><path fill="#ffff2d" d="M30 17h1v1h-1zM28 19h1v1h-1zM31 19h2v1h-2zM34 20h1v1h-1zM35 21h1v1h-1zM20 22h2v1h-2zM22 23h1v1h-1zM33 23h1v1h-1zM20 24h1v1h-1zM36 24h1v1h-1zM19 25h2v1h-2zM17 28h2v1h-2zM19 29h1v1h-1zM37 29h1v1h-1zM16 30h1v1h-1zM37 30h1v1h-1zM16 32h1v1h-1zM37 32h1v1h-1zM21 33h1v1h-1zM20 34h1v1h-1zM20 35h1v1h-1zM36 35h1v1h-1zM21 36h1v1h-1zM24 36h1v1h-1zM33 36h1v1h-1zM35 36h1v1h-1zM24 38h2v1h-2zM32 38h1v1h-1z"/><path fill="#ffc600" d="M22 18h1v1h-1zM21 19h1v1h-1zM30 22h1v1h-1zM38 23h1v1h-1zM17 24h1v1h-1zM39 24h1v1h-1zM39 25h1v1h-1zM39 26h1v1h-1zM15 28h1v1h-1zM20 28h1v1h-1zM35 29h1v1h-1zM39 29h1v1h-1zM39 30h1v1h-1zM15 33h1v1h-1zM17 35h1v1h-1zM37 36h1v1h-1zM19 37h1v1h-1zM31 37h1v1h-1zM20 38h1v1h-1zM30 38h1v1h-1zM25 40h1v1h-1zM26 41h1v1h-1zM32 41h1v1h-1zM27 42h1v1h-1zM29 43h1v1h-1z"/><path fill="#ffff1c" d="M24 18h1v1h-1zM33 19h1v1h-1zM22 20h1v1h-1zM22 21h2v1h-2zM22 22h1v1h-1zM36 23h1v1h-1zM19 24h1v1h-1zM19 26h1v1h-1zM16 29h1v1h-1zM37 31h1v1h-1zM19 33h1v1h-1zM36 34h1v1h-1zM22 37h1v1h-1zM33 37h2v1h-2zM23 38h1v1h-1zM33 38h1v1h-1zM32 39h2v1h-2zM31 40h1v1h-1zM28 41h1v1h-1zM29 42h1v1h-1z"/><path fill="#ffff5d" d="M25 18h1v1h-1zM27 18h2v1h-2zM33 20h1v1h-1zM32 21h1v1h-1zM21 34h2v1h-2zM23 36h1v1h-1zM29 41h1v1h-1z"/><path fill="#ffff6d" d="M26 18h1v1h-1zM32 20h1v1h-1zM17 29h2v1h-2zM17 31h2v1h-2zM22 35h1v1h-1zM23 37h2v1h-2z"/><path fill="#ffff9e" d="M33 21h1v1h-1zM33 22h1v1h-1z"/><path fill="#ffff7d" d="M34 21h1v1h-1zM17 30h2v1h-2z"/><path fill="#ffff8e" d="M34 22h1v1h-1z"/><path fill="#0b0000" d="M28 27h2v1h-2zM28 28h1v1h-1z"/><path fill="#160000" d="M27 28h1v1h-1zM28 29h1v1h-1zM28 30h1v1h-1zM28 31h1v1h-1z"/><path fill="#000000" d="M29 28h1v1h-1zM29 29h1v1h-1zM29 30h1v1h-1z"/></g><rect x="470.00" y="757.50" width="279.60" height="289.00" fill="none" stroke="#808080" stroke-width="0.8"/><g transform="translate(757.20 757.50) scale(11.60000 4.51562)" shape-rendering="crispEdges"><path fill="#ffffff" d="M0 0h1v1h-1z"/><path fill="#ffffef" d="M0 1h1v1h-1z"/><path fill="#ffffdf" d="M0 2h1v1h-1z"/><path fill="#ffffce" d="M0 3h1v1h-1z"/><path fill="#ffffbe" d="M0 4h1v1h-1z"/><path fill="#ffffae" d="M0 5h1v1h-1z"/><path fill="#ffff9e" d="M0 6h1v1h-1z"/><path fill="#ffff8e" d="M0 7h1v1h-1z"/><path fill="#ffff7d" d="M0 8h1v1h-1z"/><path fill="#ffff6d" d="M0 9h1v1h-1z"/><path fill="#ffff5d" d="M0 10h1v1h-1z"/><path fill="#ffff4d" d="M0 11h1v1h-1z"/><path fill="#ffff3d" d="M0 12h1v1h-1z"/><path fill="#ffff2d" d="M0 13h1v1h-1z"/><path fill="#ffff1c" d="M0 14h1v1h-1z"/><path fill="#ffff0c" d="M0 15h1v1h-1z"/><path fill="#fffc00" d="M0 16h1v1h-1z"/><path fill="#fff200" d="M0 17h1v1h-1z"/><path fill="#ffe700" d="M0 18h1v1h-1z"/><path fill="#ffdc00" d="M0 19h1v1h-1z"/><path fill="#ffd100" d="M0 20h1v1h-1z"/><path fill="#ffc600" d="M0 21h1v1h-1z"/><path fill="#ffbc00" d="M0 22h1v1h-1z"/><path fill="#ffb100" d="M0 23h1v1h-1z"/><path fill="#ffa600" d="M0 24h1v1h-1z"/><path fill="#ff9b00" d="M0 25h1v1h-1z"/><path fill="#ff9000" d="M0 26h1v1h-1z"/><path fill="#ff8600" d="M0 27h1v1h-1z"/><path fill="#ff7b00" d="M0 28h1v1h-1z"/><path fill="#ff7000" d="M0 29h1v1h-1z"/><path fill="#ff6500" d="M0 30h1v1h-1z"/><path fill="#ff5a00" d="M0 31h1v1h-1z"/><path fill="#ff5000" d="M0 32h1v1h-1z"/><path fill="#ff4500" d="M0 33h1v1h-1z"/><path fill="#ff3a00" d="M0 34h1v1h-1z"/><path fill="#ff2f00" d="M0 35h1v1h-1z"/><path fill="#ff2400" d="M0 36h1v1h-1z"/><path fill="#ff1a00" d="M0 37h1v1h-1z"/><path fill="#ff0f00" d="M0 38h1v1h-1z"/><path fill="#ff0400" d="M0 39h1v1h-1z"/><path fill="#f80000" d="M0 40h1v1h-1z"/><path fill="#ed0000" d="M0 41h1v1h-1z"/><path fill="#e30000" d="M0 42h1v1h-1z"/><path fill="#d80000" d="M0 43h1v1h-1z"/><path fill="#cd0000" d="M0 44h1v1h-1z"/><path fill="#c20000" d="M0 45h1v1h-1z"/><path fill="#b70000" d="M0 46h1v1h-1z"/><path fill="#ad0000" d="M0 47h1v1h-1z"/><path fill="#a20000" d="M0 48h1v1h-1z"/><path fill="#970000" d="M0 49h1v1h-1z"/><path fill="#8c0000" d="M0 50h1v1h-1z"/><path fill="#820000" d="M0 51h1v1h-1z"/><path fill="#770000" d="M0 52h1v1h-1z"/><path fill="#6c0000" d="M0 53h1v1h-1z"/><path fill="#610000" d="M0 54h1v1h-1z"/><path fill="#560000" d="M0 55h1v1h-1z"/><path fill="#4c0000" d="M0 56h1v1h-1z"/><path fill="#410000" d="M0 57h1v1h-1z"/><path fill="#360000" d="M0 58h1v1h-1z"/><path fill="#2b0000" d="M0 59h1v1h-1z"/><path fill="#200000" d="M0 60h1v1h-1z"/><path fill="#160000" d="M0 61h1v1h-1z"/><path fill="#0b0000" d="M0 62h1v1h-1z"/><path fill="#000000" d="M0 63h1v1h-1z"/></g><rect x="757.20" y="757.50" width="11.60" height="289.00" fill="none" stroke="#606060" stroke-width="0.8"/><text font-size="20.7" text-anchor="start" transform="translate(774.4 766.7) scale(1.0 1.1)">40</text><text font-size="20.7" text-anchor="start" transform="translate(774.4 1051.0) scale(1.0 1.1)">0</text><g transform="translate(924.30 379.20) scale(5.05357 5.03966)" shape-rendering="crispEdges"><path fill="#ff0048" d="M0 0h1v1h-1zM54 13h2v1h-2zM44 14h2v1h-2zM42 15h2v1h-2zM52 15h1v1h-1zM42 16h1v1h-1zM45 17h1v1h-1zM45 18h1v1h-1zM51 18h1v1h-1zM36 19h1v1h-1zM45 19h1v1h-1zM51 19h1v1h-1zM35 20h1v1h-1zM38 20h1v1h-1zM41 20h1v1h-1zM45 20h1v1h-1zM39 21h1v1h-1zM41 21h1v1h-1zM45 21h1v1h-1zM50 21h1v1h-1zM34 22h1v1h-1zM40 22h1v1h-1zM34 23h1v1h-1zM45 23h1v1h-1zM34 24h1v1h-1zM46 24h1v1h-1zM34 25h1v1h-1zM50 29h1v1h-1zM31 30h1v1h-1zM33 30h1v1h-1zM51 30h1v1h-1zM50 31h1v1h-1zM54 53h1v1h-1z"/><path fill="#ff00d7" d="M1 0h1v1h-1zM55 17h1v1h-1zM54 18h1v1h-1zM53 19h3v1h-3zM53 20h2v1h-2zM41 25h1v1h-1zM43 25h2v1h-2zM55 25h1v1h-1zM36 26h1v1h-1zM39 26h2v1h-2zM45 26h1v1h-1zM54 26h1v1h-1zM40 27h1v1h-1zM47 28h1v1h-1zM54 29h1v1h-1zM48 30h1v1h-1zM54 30h2v1h-2zM53 31h1v1h-1zM30 32h1v1h-1zM36 32h1v1h-1zM33 33h3v1h-3zM53 34h1v1h-1zM47 36h1v1h-1zM51 36h1v1h-1zM47 37h1v1h-1zM49 37h1v1h-1zM48 38h1v1h-1zM48 39h1v1h-1zM52 40h3v1h-3zM52 41h1v1h-1zM53 42h1v1h-1zM54 43h1v1h-1zM53 51h1v1h-1zM1 57h1v1h-1z"/><path fill="#9700ff" d="M2 0h1v1h-1zM55 1h1v1h-1zM29 33h1v1h-1zM31 34h1v1h-1zM42 34h1v1h-1zM33 35h1v1h-1zM38 35h3v1h-3zM45 35h1v1h-1zM34 36h2v1h-2zM45 36h1v1h-1zM45 37h1v1h-1zM45 41h1v1h-1zM45 42h1v1h-1zM45 43h1v1h-1zM45 44h1v1h-1zM44 45h1v1h-1zM51 45h2v1h-2zM43 46h1v1h-1zM42 47h2v1h-2zM43 48h1v1h-1zM47 48h1v1h-1zM44 49h1v1h-1zM46 49h2v1h-2zM48 52h1v1h-1zM50 55h1v1h-1zM1 56h1v1h-1z"/><path fill="#0800ff" d="M3 0h1v1h-1zM2 1h1v1h-1zM27 32h1v1h-1zM26 33h1v1h-1zM26 34h1v1h-1zM27 35h1v1h-1zM27 36h1v1h-1zM27 38h4v1h-4zM32 39h1v1h-1zM33 40h3v1h-3zM34 41h1v1h-1zM34 42h1v1h-1zM34 43h4v1h-4zM32 44h2v1h-2zM36 44h3v1h-3zM32 45h2v1h-2zM38 45h1v1h-1zM33 46h1v1h-1zM38 48h1v1h-1zM0 49h2v1h-2zM34 49h1v1h-1zM36 49h2v1h-2zM0 50h2v1h-2zM25 50h3v1h-3zM33 50h1v1h-1zM13 51h3v1h-3zM22 51h1v1h-1zM32 51h3v1h-3zM13 52h1v1h-1zM16 52h2v1h-2zM19 52h2v1h-2zM33 52h2v1h-2zM20 53h1v1h-1zM32 53h2v1h-2zM36 53h1v1h-1zM21 54h1v1h-1zM28 54h1v1h-1zM21 55h2v1h-2zM46 55h2v1h-2zM21 56h1v1h-1zM38 56h1v1h-1zM46 56h1v1h-1zM49 56h1v1h-1zM21 57h1v1h-1zM33 57h3v1h-3zM46 57h1v1h-1z"/><path fill="#0070ff" d="M4 0h1v1h-1zM52 0h1v1h-1zM53 1h1v1h-1zM1 3h1v1h-1zM0 4h1v1h-1zM22 32h1v1h-1zM23 37h1v1h-1zM23 39h1v1h-1zM23 40h1v1h-1zM23 41h1v1h-1zM28 41h2v1h-2zM22 42h1v1h-1zM28 42h2v1h-2zM22 43h1v1h-1zM20 44h1v1h-1zM6 45h1v1h-1zM20 45h1v1h-1zM22 45h1v1h-1zM6 46h3v1h-3zM22 46h2v1h-2zM0 47h1v1h-1zM2 47h1v1h-1zM9 47h1v1h-1zM23 47h1v1h-1zM8 48h2v1h-2zM29 48h1v1h-1zM4 49h1v1h-1zM10 49h5v1h-5zM23 49h1v1h-1zM10 50h1v1h-1zM17 50h2v1h-2zM20 50h2v1h-2zM5 53h1v1h-1zM10 54h1v1h-1zM14 54h1v1h-1zM10 55h2v1h-2zM19 55h1v1h-1zM29 55h2v1h-2zM28 56h1v1h-1zM27 57h1v1h-1z"/><path fill="#00ffff" d="M5 0h1v1h-1zM4 1h1v1h-1zM52 1h1v1h-1zM53 2h1v1h-1zM0 5h1v1h-1zM1 26h1v1h-1zM0 29h2v1h-2zM1 30h1v1h-1zM25 30h1v1h-1zM0 31h2v1h-2zM20 32h1v1h-1zM2 33h1v1h-1zM13 37h1v1h-1zM20 37h1v1h-1zM12 38h1v1h-1zM18 38h1v1h-1zM20 38h1v1h-1zM2 39h1v1h-1zM19 39h1v1h-1zM0 40h1v1h-1zM11 40h1v1h-1zM12 41h1v1h-1zM4 42h1v1h-1zM14 42h1v1h-1zM8 43h1v1h-1zM15 43h1v1h-1zM9 44h1v1h-1zM16 44h1v1h-1zM3 45h1v1h-1zM10 45h1v1h-1zM16 45h1v1h-1zM16 46h1v1h-1zM13 47h3v1h-3zM8 51h1v1h-1zM8 52h1v1h-1zM2 54h1v1h-1zM4 55h2v1h-2zM6 56h1v1h-1zM14 56h2v1h-2zM17 56h1v1h-1zM6 57h1v1h-1zM13 57h2v1h-2z"/><path fill="#00ff58" d="M6 0h1v1h-1zM53 3h1v1h-1zM1 5h1v1h-1zM0 6h1v1h-1zM0 15h1v1h-1zM1 16h1v1h-1zM2 17h1v1h-1zM2 18h1v1h-1zM1 19h1v1h-1zM1 20h1v1h-1zM1 21h1v1h-1zM2 23h1v1h-1zM3 24h1v1h-1zM20 27h1v1h-1zM19 28h1v1h-1zM18 29h1v1h-1zM18 30h1v1h-1zM17 31h1v1h-1zM17 32h1v1h-1zM17 33h1v1h-1zM10 34h3v1h-3zM9 36h1v1h-1zM8 37h1v1h-1zM4 38h1v1h-1zM4 39h1v1h-1zM0 42h2v1h-2zM0 43h2v1h-2z"/><path fill="#20ff00" d="M7 0h1v1h-1zM11 0h1v1h-1zM11 1h1v1h-1zM5 2h1v1h-1zM4 3h2v1h-2zM4 4h1v1h-1zM6 4h1v1h-1zM7 5h1v1h-1zM55 5h1v1h-1zM8 6h1v1h-1zM3 7h1v1h-1zM8 7h1v1h-1zM7 9h1v1h-1zM6 10h1v1h-1zM4 11h2v1h-2zM1 13h2v1h-2zM2 14h1v1h-1zM4 16h1v1h-1zM5 17h1v1h-1zM6 18h1v1h-1zM5 19h4v1h-4zM5 20h2v1h-2zM9 20h1v1h-1zM9 21h1v1h-1zM9 22h1v1h-1zM15 22h1v1h-1zM9 23h1v1h-1zM12 23h2v1h-2zM16 23h1v1h-1zM17 24h1v1h-1zM19 25h4v1h-4zM23 26h1v1h-1zM12 27h2v1h-2zM54 57h1v1h-1z"/><path fill="#80ff00" d="M8 0h1v1h-1zM8 1h1v1h-1zM8 2h1v1h-1zM12 3h1v1h-1zM11 4h1v1h-1zM52 4h1v1h-1zM10 6h1v1h-1zM10 7h1v1h-1zM10 8h1v1h-1zM9 9h3v1h-3zM13 9h1v1h-1zM9 10h2v1h-2zM14 10h1v1h-1zM8 11h4v1h-4zM13 11h1v1h-1zM7 12h7v1h-7zM6 13h7v1h-7zM6 14h3v1h-3zM11 16h1v1h-1zM11 17h1v1h-1zM14 17h4v1h-4zM11 18h1v1h-1zM15 18h2v1h-2zM11 19h1v1h-1zM14 20h2v1h-2zM12 21h2v1h-2zM17 22h1v1h-1zM18 23h1v1h-1zM21 24h2v1h-2zM55 55h1v1h-1z"/><path fill="#68ff00" d="M9 0h1v1h-1zM13 0h1v1h-1zM7 1h1v1h-1zM9 1h1v1h-1zM13 1h1v1h-1zM7 2h1v1h-1zM9 2h1v1h-1zM12 2h1v1h-1zM8 3h1v1h-1zM11 3h1v1h-1zM50 3h2v1h-2zM10 4h1v1h-1zM49 4h1v1h-1zM10 5h1v1h-1zM49 5h1v1h-1zM51 5h1v1h-1zM1 7h1v1h-1zM0 8h2v1h-2zM9 8h1v1h-1zM8 9h1v1h-1zM12 9h1v1h-1zM8 10h1v1h-1zM11 10h3v1h-3zM7 11h1v1h-1zM12 11h1v1h-1zM6 12h1v1h-1zM5 13h1v1h-1zM5 14h1v1h-1zM9 14h3v1h-3zM6 15h3v1h-3zM11 15h1v1h-1zM7 16h4v1h-4zM9 17h2v1h-2zM10 18h1v1h-1zM11 20h1v1h-1zM11 21h1v1h-1zM14 21h1v1h-1zM16 21h1v1h-1zM20 24h1v1h-1z"/><path fill="#38ff00" d="M10 0h1v1h-1zM12 0h1v1h-1zM6 1h1v1h-1zM10 1h1v1h-1zM12 1h1v1h-1zM50 1h1v1h-1zM6 3h1v1h-1zM3 4h1v1h-1zM7 4h2v1h-2zM53 4h1v1h-1zM3 5h1v1h-1zM8 5h1v1h-1zM1 6h1v1h-1zM3 6h1v1h-1zM0 7h1v1h-1zM2 8h1v1h-1zM8 8h1v1h-1zM2 9h1v1h-1zM2 10h1v1h-1zM1 11h3v1h-3zM0 12h4v1h-4zM3 13h1v1h-1zM3 14h1v1h-1zM3 15h1v1h-1zM5 16h1v1h-1zM6 17h1v1h-1zM7 18h2v1h-2zM9 19h1v1h-1zM10 20h1v1h-1zM10 21h1v1h-1zM14 22h1v1h-1zM10 23h2v1h-2zM18 24h1v1h-1zM25 28h1v1h-1zM27 29h1v1h-1z"/><path fill="#c7ff00" d="M14 0h1v1h-1zM14 1h1v1h-1zM49 1h1v1h-1zM14 2h1v1h-1zM49 2h1v1h-1zM14 3h1v1h-1zM16 4h1v1h-1zM13 5h1v1h-1zM18 5h1v1h-1zM12 6h2v1h-2zM18 6h2v1h-2zM13 7h6v1h-6zM15 8h3v1h-3zM16 9h1v1h-1zM16 10h1v1h-1zM16 11h1v1h-1zM17 12h2v1h-2zM19 13h1v1h-1zM19 14h1v1h-1zM19 15h1v1h-1zM19 17h1v1h-1zM19 18h1v1h-1zM18 20h1v1h-1zM19 22h1v1h-1zM20 23h1v1h-1zM24 24h1v1h-1zM25 27h1v1h-1zM53 57h1v1h-1z"/><path fill="#ffef00" d="M15 0h1v1h-1zM21 0h1v1h-1zM34 0h1v1h-1zM15 1h1v1h-1zM22 1h2v1h-2zM31 1h1v1h-1zM34 1h1v1h-1zM32 2h1v1h-1zM48 2h1v1h-1zM17 3h4v1h-4zM22 4h1v1h-1zM22 5h2v1h-2zM27 5h2v1h-2zM22 6h1v1h-1zM27 6h2v1h-2zM53 6h1v1h-1zM20 7h1v1h-1zM25 7h1v1h-1zM20 8h2v1h-2zM25 8h1v1h-1zM22 9h2v1h-2zM28 9h1v1h-1zM18 10h1v1h-1zM23 10h1v1h-1zM28 10h1v1h-1zM23 11h1v1h-1zM23 12h3v1h-3zM23 13h1v1h-1zM22 14h1v1h-1zM22 15h1v1h-1zM22 16h1v1h-1zM22 17h1v1h-1zM22 18h1v1h-1zM21 19h2v1h-2zM20 20h6v1h-6zM21 21h6v1h-6zM21 22h6v1h-6zM25 23h2v1h-2zM55 54h1v1h-1z"/><path fill="#ffbf00" d="M16 0h1v1h-1zM25 0h1v1h-1zM29 0h1v1h-1zM35 0h1v1h-1zM47 0h1v1h-1zM16 1h1v1h-1zM20 1h1v1h-1zM25 1h1v1h-1zM29 1h1v1h-1zM35 1h1v1h-1zM47 1h1v1h-1zM18 2h3v1h-3zM23 2h2v1h-2zM29 2h2v1h-2zM34 2h1v1h-1zM47 2h1v1h-1zM22 3h4v1h-4zM28 3h6v1h-6zM46 3h1v1h-1zM25 4h1v1h-1zM30 4h1v1h-1zM46 4h1v1h-1zM30 5h1v1h-1zM35 5h2v1h-2zM30 6h1v1h-1zM35 6h2v1h-2zM46 6h1v1h-1zM23 7h1v1h-1zM30 7h1v1h-1zM35 7h2v1h-2zM49 7h1v1h-1zM51 7h1v1h-1zM30 8h1v1h-1zM36 8h1v1h-1zM31 9h1v1h-1zM25 10h2v1h-2zM30 10h2v1h-2zM29 11h3v1h-3zM27 12h4v1h-4zM26 13h4v1h-4zM24 14h2v1h-2zM27 14h3v1h-3zM23 15h1v1h-1zM28 15h2v1h-2zM23 16h3v1h-3zM23 17h1v1h-1zM26 19h1v1h-1zM28 20h1v1h-1zM28 21h1v1h-1zM28 22h1v1h-1zM28 23h1v1h-1zM27 24h1v1h-1zM27 26h1v1h-1zM28 27h1v1h-1zM28 28h1v1h-1zM53 56h1v1h-1z"/><path fill="#ff8f00" d="M17 0h2v1h-2zM27 0h1v1h-1zM36 0h1v1h-1zM45 0h1v1h-1zM36 1h1v1h-1zM45 1h1v1h-1zM36 2h1v1h-1zM45 2h1v1h-1zM35 3h3v1h-3zM45 3h1v1h-1zM32 4h2v1h-2zM37 4h1v1h-1zM31 5h1v1h-1zM44 5h1v1h-1zM31 6h1v1h-1zM34 6h1v1h-1zM44 6h1v1h-1zM32 7h1v1h-1zM34 7h1v1h-1zM45 7h2v1h-2zM32 8h2v1h-2zM45 8h2v1h-2zM54 8h2v1h-2zM33 9h2v1h-2zM36 9h1v1h-1zM33 10h2v1h-2zM33 11h1v1h-1zM33 12h1v1h-1zM32 13h1v1h-1zM31 14h1v1h-1zM27 16h1v1h-1zM30 16h1v1h-1zM29 17h1v1h-1zM28 18h2v1h-2zM30 19h1v1h-1zM30 20h1v1h-1zM29 24h1v1h-1zM28 25h2v1h-2zM52 57h1v1h-1z"/><path fill="#ffa700" d="M19 0h1v1h-1zM26 0h1v1h-1zM28 0h1v1h-1zM46 0h1v1h-1zM17 1h3v1h-3zM26 1h3v1h-3zM46 1h1v1h-1zM25 2h4v1h-4zM35 2h1v1h-1zM46 2h1v1h-1zM26 3h2v1h-2zM34 3h1v1h-1zM31 4h1v1h-1zM34 4h3v1h-3zM45 4h1v1h-1zM34 5h1v1h-1zM37 5h1v1h-1zM45 5h1v1h-1zM37 6h1v1h-1zM45 6h1v1h-1zM31 7h1v1h-1zM37 7h1v1h-1zM47 7h2v1h-2zM52 7h3v1h-3zM31 8h1v1h-1zM34 8h2v1h-2zM37 8h1v1h-1zM32 9h1v1h-1zM35 9h1v1h-1zM32 10h1v1h-1zM32 11h1v1h-1zM31 12h2v1h-2zM30 13h2v1h-2zM26 14h1v1h-1zM30 14h1v1h-1zM24 15h4v1h-4zM30 15h1v1h-1zM26 16h1v1h-1zM28 16h2v1h-2zM26 17h1v1h-1zM26 18h1v1h-1zM27 19h3v1h-3zM29 20h1v1h-1zM29 21h1v1h-1zM29 22h1v1h-1zM29 23h1v1h-1zM28 24h1v1h-1zM27 25h1v1h-1zM28 26h1v1h-1z"/><path fill="#ffd700" d="M20 0h1v1h-1zM24 0h1v1h-1zM30 0h1v1h-1zM21 1h1v1h-1zM24 1h1v1h-1zM30 1h1v1h-1zM48 1h1v1h-1zM16 2h2v1h-2zM21 2h2v1h-2zM31 2h1v1h-1zM33 2h1v1h-1zM21 3h1v1h-1zM47 3h1v1h-1zM23 4h2v1h-2zM26 4h4v1h-4zM24 5h3v1h-3zM29 5h1v1h-1zM46 5h1v1h-1zM23 6h4v1h-4zM29 6h1v1h-1zM47 6h1v1h-1zM54 6h1v1h-1zM21 7h2v1h-2zM24 7h1v1h-1zM26 7h4v1h-4zM50 7h1v1h-1zM55 7h1v1h-1zM22 8h3v1h-3zM26 8h4v1h-4zM24 9h4v1h-4zM29 9h2v1h-2zM24 10h1v1h-1zM27 10h1v1h-1zM29 10h1v1h-1zM24 11h5v1h-5zM26 12h1v1h-1zM24 13h2v1h-2zM23 14h1v1h-1zM24 17h2v1h-2zM23 18h3v1h-3zM23 19h3v1h-3zM26 20h2v1h-2zM27 21h1v1h-1zM27 22h1v1h-1zM27 23h1v1h-1zM26 24h1v1h-1zM26 25h1v1h-1zM26 26h1v1h-1zM54 55h1v1h-1z"/><path fill="#f7ff00" d="M22 0h2v1h-2zM31 0h1v1h-1zM33 1h1v1h-1zM15 2h1v1h-1zM16 3h1v1h-1zM21 4h1v1h-1zM47 4h1v1h-1zM47 5h1v1h-1zM21 6h1v1h-1zM19 7h1v1h-1zM19 8h1v1h-1zM17 9h3v1h-3zM21 9h1v1h-1zM17 10h1v1h-1zM19 10h1v1h-1zM22 10h1v1h-1zM18 11h1v1h-1zM22 11h1v1h-1zM21 12h2v1h-2zM22 13h1v1h-1zM21 14h1v1h-1zM21 15h1v1h-1zM21 16h1v1h-1zM21 17h1v1h-1zM20 18h2v1h-2zM20 19h1v1h-1zM20 21h1v1h-1zM20 22h1v1h-1zM23 23h2v1h-2zM25 24h1v1h-1zM25 25h1v1h-1zM25 26h1v1h-1zM27 27h1v1h-1z"/><path fill="#dfff00" d="M32 0h2v1h-2zM48 0h1v1h-1zM32 1h1v1h-1zM15 3h1v1h-1zM48 3h1v1h-1zM17 4h4v1h-4zM21 5h1v1h-1zM53 5h1v1h-1zM20 6h1v1h-1zM48 6h1v1h-1zM52 6h1v1h-1zM18 8h1v1h-1zM20 9h1v1h-1zM20 10h2v1h-2zM17 11h1v1h-1zM19 11h3v1h-3zM19 12h2v1h-2zM20 13h2v1h-2zM20 14h1v1h-1zM20 15h1v1h-1zM20 16h1v1h-1zM20 17h1v1h-1zM19 19h1v1h-1zM19 20h1v1h-1zM19 21h1v1h-1zM21 23h2v1h-2zM26 27h1v1h-1z"/><path fill="#ff4800" d="M37 0h1v1h-1zM39 3h1v1h-1zM39 4h1v1h-1zM43 4h1v1h-1zM39 5h1v1h-1zM42 5h1v1h-1zM39 6h4v1h-4zM40 7h3v1h-3zM39 8h2v1h-2zM42 8h1v1h-1zM49 8h4v1h-4zM38 9h1v1h-1zM42 9h1v1h-1zM48 9h1v1h-1zM37 10h1v1h-1zM42 10h1v1h-1zM48 10h1v1h-1zM36 11h1v1h-1zM46 11h1v1h-1zM34 13h1v1h-1zM33 14h2v1h-2zM36 14h2v1h-2zM32 15h1v1h-1zM36 15h1v1h-1zM38 15h1v1h-1zM35 16h1v1h-1zM38 16h1v1h-1zM36 17h3v1h-3zM31 22h1v1h-1zM31 23h1v1h-1zM31 24h1v1h-1zM31 25h1v1h-1zM31 26h1v1h-1zM30 27h1v1h-1zM29 28h1v1h-1z"/><path fill="#ff1800" d="M38 0h1v1h-1zM43 0h1v1h-1zM39 1h1v1h-1zM43 1h1v1h-1zM40 2h1v1h-1zM43 2h1v1h-1zM41 3h1v1h-1zM51 9h1v1h-1zM39 10h2v1h-2zM54 10h1v1h-1zM38 11h1v1h-1zM48 11h2v1h-2zM37 12h2v1h-2zM41 12h4v1h-4zM46 12h2v1h-2zM41 13h1v1h-1zM39 14h1v1h-1zM48 14h2v1h-2zM39 15h1v1h-1zM47 15h1v1h-1zM50 15h1v1h-1zM33 16h1v1h-1zM48 16h3v1h-3zM33 17h2v1h-2zM49 17h2v1h-2zM33 18h1v1h-1zM37 18h3v1h-3zM32 22h1v1h-1zM32 23h1v1h-1zM32 24h1v1h-1zM32 25h1v1h-1zM32 26h1v1h-1zM32 27h1v1h-1zM30 28h3v1h-3zM52 56h1v1h-1z"/><path fill="#ff0000" d="M39 0h2v1h-2zM40 1h2v1h-2zM41 2h2v1h-2zM42 3h1v1h-1zM52 9h1v1h-1zM51 10h1v1h-1zM53 10h1v1h-1zM50 11h1v1h-1zM54 11h2v1h-2zM48 12h1v1h-1zM52 12h1v1h-1zM42 13h1v1h-1zM45 13h5v1h-5zM40 14h1v1h-1zM47 14h1v1h-1zM50 14h1v1h-1zM40 16h1v1h-1zM47 16h1v1h-1zM40 17h1v1h-1zM48 17h1v1h-1zM34 18h3v1h-3zM40 18h1v1h-1zM49 18h2v1h-2zM33 19h1v1h-1zM39 19h2v1h-2zM49 19h1v1h-1zM33 20h1v1h-1z"/><path fill="#ff0018" d="M41 0h2v1h-2zM42 1h1v1h-1zM52 10h1v1h-1zM51 11h3v1h-3zM49 12h1v1h-1zM51 12h1v1h-1zM53 12h1v1h-1zM43 13h2v1h-2zM50 13h3v1h-3zM41 14h1v1h-1zM46 14h1v1h-1zM51 14h1v1h-1zM40 15h1v1h-1zM51 15h1v1h-1zM51 16h1v1h-1zM41 17h1v1h-1zM47 17h1v1h-1zM51 17h1v1h-1zM41 18h1v1h-1zM47 18h2v1h-2zM34 19h1v1h-1zM38 19h1v1h-1zM47 19h2v1h-2zM50 19h1v1h-1zM34 20h1v1h-1zM40 20h1v1h-1zM47 20h4v1h-4zM33 21h1v1h-1zM47 21h1v1h-1zM33 22h1v1h-1zM46 22h2v1h-2zM33 23h1v1h-1zM47 23h1v1h-1zM33 24h1v1h-1zM47 24h1v1h-1zM33 25h1v1h-1zM33 26h1v1h-1zM33 27h1v1h-1zM33 28h1v1h-1zM31 29h2v1h-2z"/><path fill="#ff6000" d="M44 0h1v1h-1zM37 1h1v1h-1zM44 1h1v1h-1zM38 2h1v1h-1zM44 2h1v1h-1zM44 3h1v1h-1zM39 7h1v1h-1zM43 7h1v1h-1zM43 8h1v1h-1zM48 8h1v1h-1zM53 8h1v1h-1zM47 9h1v1h-1zM54 9h1v1h-1zM43 10h5v1h-5zM35 11h1v1h-1zM34 12h1v1h-1zM32 14h1v1h-1zM37 15h1v1h-1zM31 16h1v1h-1zM36 16h2v1h-2zM31 17h1v1h-1zM31 18h1v1h-1zM31 19h1v1h-1zM31 20h1v1h-1zM31 21h1v1h-1zM30 25h1v1h-1zM30 26h1v1h-1zM54 54h1v1h-1z"/><path fill="#50ff00" d="M49 0h1v1h-1zM6 2h1v1h-1zM10 2h2v1h-2zM7 3h1v1h-1zM9 3h2v1h-2zM9 4h1v1h-1zM50 4h2v1h-2zM2 5h1v1h-1zM9 5h1v1h-1zM50 5h1v1h-1zM2 6h1v1h-1zM9 6h1v1h-1zM2 7h1v1h-1zM9 7h1v1h-1zM0 9h2v1h-2zM0 10h2v1h-2zM7 10h1v1h-1zM0 11h1v1h-1zM6 11h1v1h-1zM4 12h2v1h-2zM4 13h1v1h-1zM4 14h1v1h-1zM4 15h2v1h-2zM9 15h2v1h-2zM6 16h1v1h-1zM7 17h2v1h-2zM9 18h1v1h-1zM10 19h1v1h-1zM15 21h1v1h-1zM10 22h4v1h-4zM16 22h1v1h-1zM17 23h1v1h-1zM19 24h1v1h-1zM23 25h1v1h-1zM24 27h1v1h-1zM26 28h1v1h-1z"/><path fill="#00ff40" d="M50 0h1v1h-1zM3 3h1v1h-1zM2 4h1v1h-1zM5 9h1v1h-1zM1 15h1v1h-1zM2 19h1v1h-1zM4 25h1v1h-1zM4 26h1v1h-1zM8 26h2v1h-2zM21 26h1v1h-1zM4 27h1v1h-1zM8 27h2v1h-2zM4 28h1v1h-1zM8 28h2v1h-2zM18 28h1v1h-1zM24 28h1v1h-1zM4 29h1v1h-1zM16 29h2v1h-2zM26 29h1v1h-1zM4 30h1v1h-1zM16 30h2v1h-2zM4 31h1v1h-1zM4 32h1v1h-1zM4 33h1v1h-1zM10 33h2v1h-2zM4 34h1v1h-1zM9 34h1v1h-1zM13 34h1v1h-1zM16 34h1v1h-1zM4 35h1v1h-1zM9 35h1v1h-1zM4 36h1v1h-1zM8 36h1v1h-1zM4 37h1v1h-1zM7 38h1v1h-1zM6 39h1v1h-1z"/><path fill="#00ffe7" d="M51 0h1v1h-1zM3 2h1v1h-1zM1 4h1v1h-1zM2 26h1v1h-1zM2 27h1v1h-1zM2 28h1v1h-1zM2 29h1v1h-1zM21 29h1v1h-1zM0 30h1v1h-1zM2 30h1v1h-1zM26 30h1v1h-1zM2 31h1v1h-1zM20 31h1v1h-1zM2 32h1v1h-1zM19 34h1v1h-1zM19 35h1v1h-1zM19 36h1v1h-1zM17 37h3v1h-3zM19 38h1v1h-1zM11 39h1v1h-1zM1 40h1v1h-1zM11 41h1v1h-1zM7 42h1v1h-1zM9 43h1v1h-1zM10 44h1v1h-1zM15 44h1v1h-1zM11 46h1v1h-1zM15 46h1v1h-1zM3 55h1v1h-1zM16 56h1v1h-1zM5 57h1v1h-1zM15 57h3v1h-3z"/><path fill="#2000ff" d="M53 0h1v1h-1zM54 1h1v1h-1zM1 2h1v1h-1zM27 33h1v1h-1zM27 34h1v1h-1zM28 35h1v1h-1zM28 36h2v1h-2zM27 37h4v1h-4zM43 37h1v1h-1zM31 38h1v1h-1zM42 38h2v1h-2zM33 39h4v1h-4zM42 39h2v1h-2zM36 40h1v1h-1zM35 41h3v1h-3zM35 42h4v1h-4zM38 43h3v1h-3zM39 44h2v1h-2zM39 45h1v1h-1zM39 46h1v1h-1zM35 49h1v1h-1zM38 49h1v1h-1zM34 50h1v1h-1zM36 50h3v1h-3zM23 51h3v1h-3zM30 51h2v1h-2zM35 51h4v1h-4zM14 52h2v1h-2zM32 52h1v1h-1zM35 52h4v1h-4zM44 52h1v1h-1zM31 53h1v1h-1zM37 53h1v1h-1zM44 53h2v1h-2zM22 54h2v1h-2zM26 54h2v1h-2zM44 54h4v1h-4zM23 55h3v1h-3zM37 55h1v1h-1zM45 55h1v1h-1zM48 55h1v1h-1zM24 56h1v1h-1zM24 57h1v1h-1z"/><path fill="#af00ff" d="M54 0h1v1h-1zM1 1h1v1h-1zM28 30h1v1h-1zM45 30h1v1h-1zM45 31h1v1h-1zM32 34h1v1h-1zM39 34h3v1h-3zM43 34h3v1h-3zM34 35h1v1h-1zM36 35h2v1h-2zM46 40h1v1h-1zM49 43h2v1h-2zM49 44h4v1h-4zM45 45h2v1h-2zM48 45h3v1h-3zM53 45h1v1h-1zM44 46h2v1h-2zM47 46h6v1h-6zM44 47h1v1h-1zM47 47h2v1h-2zM44 48h3v1h-3zM48 48h1v1h-1zM45 49h1v1h-1zM48 49h1v1h-1zM48 50h1v1h-1zM48 51h1v1h-1zM49 53h1v1h-1z"/><path fill="#ff00bf" d="M55 0h1v1h-1zM0 1h1v1h-1zM54 17h1v1h-1zM53 18h1v1h-1zM55 20h1v1h-1zM53 21h3v1h-3zM53 22h1v1h-1zM42 24h2v1h-2zM55 24h1v1h-1zM37 25h4v1h-4zM54 25h1v1h-1zM53 26h1v1h-1zM46 27h1v1h-1zM53 27h1v1h-1zM53 28h1v1h-1zM48 29h1v1h-1zM29 30h1v1h-1zM35 30h1v1h-1zM30 31h1v1h-1zM48 31h1v1h-1zM48 32h1v1h-1zM52 32h1v1h-1zM48 33h1v1h-1zM48 34h1v1h-1zM48 35h1v1h-1zM52 35h1v1h-1zM48 36h3v1h-3zM48 37h1v1h-1zM53 41h2v1h-2zM55 43h1v1h-1zM54 51h2v1h-2zM53 52h1v1h-1zM52 53h1v1h-1zM0 56h1v1h-1z"/><path fill="#0087ff" d="M3 1h1v1h-1zM2 2h1v1h-1zM23 30h1v1h-1zM22 31h1v1h-1zM25 31h2v1h-2zM21 34h1v1h-1zM0 35h2v1h-2zM0 36h2v1h-2zM22 36h1v1h-1zM23 38h1v1h-1zM22 40h1v1h-1zM22 41h1v1h-1zM21 43h1v1h-1zM5 44h2v1h-2zM19 44h1v1h-1zM5 45h1v1h-1zM7 45h1v1h-1zM5 46h1v1h-1zM21 46h1v1h-1zM3 47h1v1h-1zM6 47h1v1h-1zM22 47h1v1h-1zM4 48h1v1h-1zM6 48h2v1h-2zM10 48h1v1h-1zM23 48h1v1h-1zM5 49h1v1h-1zM9 49h1v1h-1zM15 49h2v1h-2zM19 50h1v1h-1zM6 51h1v1h-1zM10 51h1v1h-1zM2 52h1v1h-1zM6 52h1v1h-1zM3 53h1v1h-1zM15 54h3v1h-3zM9 55h1v1h-1zM12 55h1v1h-1zM9 56h3v1h-3zM19 56h1v1h-1zM29 56h2v1h-2zM28 57h3v1h-3z"/><path fill="#00ff70" d="M5 1h1v1h-1zM51 1h1v1h-1zM4 2h1v1h-1zM55 4h1v1h-1zM0 16h1v1h-1zM0 17h2v1h-2zM0 18h2v1h-2zM0 19h1v1h-1zM0 20h1v1h-1zM1 22h1v1h-1zM21 27h2v1h-2zM25 29h1v1h-1zM18 31h1v1h-1zM17 34h1v1h-1zM10 35h7v1h-7zM8 38h1v1h-1zM7 39h1v1h-1zM5 40h2v1h-2zM2 42h1v1h-1zM2 43h1v1h-1zM0 44h2v1h-2zM55 57h1v1h-1z"/><path fill="#ff3000" d="M38 1h1v1h-1zM39 2h1v1h-1zM40 3h1v1h-1zM43 3h1v1h-1zM40 4h3v1h-3zM40 5h2v1h-2zM41 8h1v1h-1zM39 9h3v1h-3zM49 9h2v1h-2zM53 9h1v1h-1zM38 10h1v1h-1zM41 10h1v1h-1zM49 10h2v1h-2zM55 10h1v1h-1zM37 11h1v1h-1zM39 11h7v1h-7zM47 11h1v1h-1zM35 12h2v1h-2zM39 12h2v1h-2zM45 12h1v1h-1zM35 13h6v1h-6zM35 14h1v1h-1zM38 14h1v1h-1zM33 15h3v1h-3zM48 15h2v1h-2zM32 16h1v1h-1zM34 16h1v1h-1zM39 16h1v1h-1zM32 17h1v1h-1zM35 17h1v1h-1zM39 17h1v1h-1zM32 18h1v1h-1zM32 19h1v1h-1zM32 20h1v1h-1zM32 21h1v1h-1zM31 27h1v1h-1zM28 29h1v1h-1zM53 55h1v1h-1z"/><path fill="#c700ff" d="M0 2h1v1h-1zM44 29h2v1h-2zM44 30h1v1h-1zM46 30h1v1h-1zM46 31h1v1h-1zM29 32h1v1h-1zM45 32h1v1h-1zM45 33h1v1h-1zM37 34h2v1h-2zM46 34h1v1h-1zM35 35h1v1h-1zM46 35h1v1h-1zM55 35h1v1h-1zM54 36h2v1h-2zM54 37h2v1h-2zM46 39h1v1h-1zM46 41h1v1h-1zM46 42h1v1h-1zM49 42h2v1h-2zM46 43h1v1h-1zM51 43h1v1h-1zM46 44h3v1h-3zM47 45h1v1h-1zM46 46h1v1h-1zM53 46h1v1h-1zM45 47h2v1h-2zM49 47h1v1h-1zM52 47h2v1h-2zM49 52h1v1h-1zM50 54h1v1h-1z"/><path fill="#97ff00" d="M13 2h1v1h-1zM50 2h1v1h-1zM49 3h1v1h-1zM11 5h1v1h-1zM15 5h2v1h-2zM48 5h1v1h-1zM52 5h1v1h-1zM54 5h1v1h-1zM11 6h1v1h-1zM15 6h1v1h-1zM50 6h1v1h-1zM11 7h1v1h-1zM11 8h2v1h-2zM14 9h1v1h-1zM14 11h1v1h-1zM14 12h1v1h-1zM13 13h2v1h-2zM12 14h3v1h-3zM12 15h1v1h-1zM12 16h7v1h-7zM12 17h2v1h-2zM18 17h1v1h-1zM12 18h1v1h-1zM14 18h1v1h-1zM17 18h2v1h-2zM14 19h3v1h-3zM12 20h2v1h-2zM16 20h2v1h-2zM17 21h1v1h-1zM18 22h1v1h-1zM19 23h1v1h-1zM24 26h1v1h-1zM54 56h1v1h-1z"/><path fill="#ff7800" d="M37 2h1v1h-1zM38 3h1v1h-1zM38 4h1v1h-1zM44 4h1v1h-1zM32 5h2v1h-2zM38 5h1v1h-1zM43 5h1v1h-1zM32 6h2v1h-2zM38 6h1v1h-1zM43 6h1v1h-1zM33 7h1v1h-1zM38 7h1v1h-1zM44 7h1v1h-1zM38 8h1v1h-1zM44 8h1v1h-1zM47 8h1v1h-1zM37 9h1v1h-1zM43 9h4v1h-4zM55 9h1v1h-1zM35 10h2v1h-2zM34 11h1v1h-1zM33 13h1v1h-1zM31 15h1v1h-1zM27 17h2v1h-2zM30 17h1v1h-1zM27 18h1v1h-1zM30 18h1v1h-1zM30 21h1v1h-1zM30 22h1v1h-1zM30 23h1v1h-1zM30 24h1v1h-1zM29 26h1v1h-1zM29 27h1v1h-1zM55 53h1v1h-1z"/><path fill="#08ff00" d="M51 2h1v1h-1zM5 4h1v1h-1zM4 5h1v1h-1zM6 5h1v1h-1zM4 6h1v1h-1zM7 6h1v1h-1zM3 8h1v1h-1zM7 8h1v1h-1zM3 9h1v1h-1zM3 10h1v1h-1zM0 13h1v1h-1zM2 15h1v1h-1zM3 16h1v1h-1zM4 17h1v1h-1zM4 18h2v1h-2zM4 19h1v1h-1zM3 20h2v1h-2zM7 20h2v1h-2zM4 21h5v1h-5zM14 23h2v1h-2zM10 24h4v1h-4zM15 24h2v1h-2zM16 25h3v1h-3zM12 26h2v1h-2zM12 28h2v1h-2zM12 29h1v1h-1zM5 32h2v1h-2zM13 32h3v1h-3zM5 33h2v1h-2zM5 34h3v1h-3zM5 35h3v1h-3zM5 36h2v1h-2zM5 37h1v1h-1zM55 56h1v1h-1z"/><path fill="#00ff87" d="M52 2h1v1h-1zM0 21h1v1h-1zM1 23h1v1h-1zM2 24h1v1h-1zM3 25h1v1h-1zM3 26h1v1h-1zM3 27h1v1h-1zM20 28h1v1h-1zM19 29h1v1h-1zM18 32h1v1h-1zM10 36h1v1h-1zM9 37h1v1h-1zM9 38h1v1h-1zM8 39h1v1h-1zM4 40h1v1h-1zM1 41h2v1h-2zM2 44h1v1h-1zM12 44h1v1h-1z"/><path fill="#009fff" d="M54 2h1v1h-1zM22 30h1v1h-1zM24 30h1v1h-1zM21 33h1v1h-1zM0 34h2v1h-2zM21 35h1v1h-1zM0 37h2v1h-2zM22 37h1v1h-1zM15 38h1v1h-1zM22 38h1v1h-1zM15 39h1v1h-1zM22 39h1v1h-1zM15 40h1v1h-1zM17 42h2v1h-2zM21 42h1v1h-1zM5 43h1v1h-1zM18 43h3v1h-3zM8 45h1v1h-1zM19 45h1v1h-1zM4 46h1v1h-1zM9 46h1v1h-1zM20 46h1v1h-1zM4 47h2v1h-2zM21 47h1v1h-1zM5 48h1v1h-1zM11 48h2v1h-2zM22 48h1v1h-1zM6 49h1v1h-1zM17 49h1v1h-1zM21 49h2v1h-2zM6 50h1v1h-1zM10 52h1v1h-1zM6 53h1v1h-1zM10 53h1v1h-1zM4 54h2v1h-2zM9 54h1v1h-1zM2 55h1v1h-1zM8 55h1v1h-1zM18 55h1v1h-1zM8 56h1v1h-1zM8 57h4v1h-4zM19 57h1v1h-1z"/><path fill="#0028ff" d="M55 2h1v1h-1zM24 32h1v1h-1zM23 33h2v1h-2zM23 34h2v1h-2zM24 35h1v1h-1zM25 36h1v1h-1zM25 39h2v1h-2zM28 39h3v1h-3zM25 40h2v1h-2zM31 40h1v1h-1zM32 41h1v1h-1zM32 42h1v1h-1zM31 43h2v1h-2zM27 44h5v1h-5zM29 45h2v1h-2zM27 46h5v1h-5zM34 46h3v1h-3zM31 47h1v1h-1zM34 47h1v1h-1zM36 47h2v1h-2zM2 48h1v1h-1zM32 48h1v1h-1zM25 49h2v1h-2zM32 49h1v1h-1zM3 50h1v1h-1zM13 50h2v1h-2zM29 50h3v1h-3zM0 51h2v1h-2zM17 51h4v1h-4zM12 53h1v1h-1zM16 53h3v1h-3zM30 54h2v1h-2zM34 54h1v1h-1zM20 55h1v1h-1zM27 55h1v1h-1zM32 55h1v1h-1zM36 55h1v1h-1zM2 56h1v1h-1zM32 56h1v1h-1zM25 57h1v1h-1zM37 57h1v1h-1z"/><path fill="#3800ff" d="M0 3h1v1h-1zM28 34h1v1h-1zM29 35h1v1h-1zM30 36h1v1h-1zM42 37h1v1h-1zM35 38h2v1h-2zM44 38h1v1h-1zM37 39h1v1h-1zM44 39h1v1h-1zM37 40h1v1h-1zM42 40h2v1h-2zM38 41h2v1h-2zM39 42h2v1h-2zM41 43h1v1h-1zM41 44h1v1h-1zM40 45h1v1h-1zM40 46h1v1h-1zM39 47h1v1h-1zM39 48h1v1h-1zM39 49h1v1h-1zM35 50h1v1h-1zM39 50h5v1h-5zM26 51h4v1h-4zM39 51h6v1h-6zM21 52h1v1h-1zM25 52h1v1h-1zM31 52h1v1h-1zM39 52h5v1h-5zM45 52h1v1h-1zM21 53h1v1h-1zM28 53h3v1h-3zM38 53h6v1h-6zM46 53h1v1h-1zM24 54h2v1h-2zM37 54h1v1h-1zM43 54h1v1h-1zM38 55h1v1h-1zM44 55h1v1h-1zM49 55h1v1h-1zM22 56h2v1h-2zM39 56h1v1h-1zM45 56h1v1h-1zM39 57h1v1h-1zM45 57h1v1h-1zM50 57h1v1h-1z"/><path fill="#00ffcf" d="M2 3h1v1h-1zM0 25h2v1h-2zM24 29h1v1h-1zM20 30h1v1h-1zM19 33h1v1h-1zM3 36h1v1h-1zM14 36h5v1h-5zM3 37h1v1h-1zM12 37h1v1h-1zM3 38h1v1h-1zM11 38h1v1h-1zM10 39h1v1h-1zM10 40h1v1h-1zM4 41h3v1h-3zM10 41h1v1h-1zM8 42h1v1h-1zM10 42h4v1h-4zM10 43h1v1h-1zM14 43h1v1h-1zM3 44h1v1h-1zM15 45h1v1h-1zM12 46h3v1h-3zM5 56h1v1h-1z"/><path fill="#afff00" d="M13 3h1v1h-1zM12 4h4v1h-4zM48 4h1v1h-1zM12 5h1v1h-1zM14 5h1v1h-1zM17 5h1v1h-1zM19 5h2v1h-2zM14 6h1v1h-1zM16 6h2v1h-2zM49 6h1v1h-1zM51 6h1v1h-1zM55 6h1v1h-1zM12 7h1v1h-1zM13 8h2v1h-2zM15 9h1v1h-1zM15 10h1v1h-1zM15 11h1v1h-1zM15 12h2v1h-2zM15 13h4v1h-4zM15 14h4v1h-4zM13 15h6v1h-6zM19 16h1v1h-1zM13 18h1v1h-1zM12 19h2v1h-2zM17 19h2v1h-2zM18 21h1v1h-1zM23 24h1v1h-1zM24 25h1v1h-1zM27 28h1v1h-1z"/><path fill="#00ff10" d="M52 3h1v1h-1zM54 4h1v1h-1zM5 5h1v1h-1zM5 6h2v1h-2zM4 7h4v1h-4zM6 9h1v1h-1zM4 10h2v1h-2zM1 14h1v1h-1zM3 19h1v1h-1zM3 21h1v1h-1zM3 22h6v1h-6zM5 23h4v1h-4zM5 24h5v1h-5zM14 24h1v1h-1zM5 25h3v1h-3zM11 25h5v1h-5zM5 26h2v1h-2zM11 26h1v1h-1zM14 26h6v1h-6zM5 27h2v1h-2zM11 27h1v1h-1zM14 27h1v1h-1zM17 27h2v1h-2zM5 28h2v1h-2zM11 28h1v1h-1zM14 28h1v1h-1zM5 29h2v1h-2zM10 29h2v1h-2zM13 29h2v1h-2zM5 30h3v1h-3zM10 30h4v1h-4zM5 31h3v1h-3zM10 31h6v1h-6zM7 32h1v1h-1zM12 32h1v1h-1zM7 33h1v1h-1zM13 33h3v1h-3zM8 34h1v1h-1zM7 36h1v1h-1zM6 37h1v1h-1zM5 38h2v1h-2z"/><path fill="#00ff9f" d="M54 3h1v1h-1zM0 22h1v1h-1zM0 23h1v1h-1zM0 24h2v1h-2zM3 28h1v1h-1zM23 28h1v1h-1zM3 29h1v1h-1zM3 30h1v1h-1zM19 30h1v1h-1zM3 31h1v1h-1zM3 32h1v1h-1zM3 33h1v1h-1zM18 33h1v1h-1zM17 35h1v1h-1zM11 36h1v1h-1zM10 37h1v1h-1zM9 39h1v1h-1zM3 40h1v1h-1zM7 40h2v1h-2zM0 41h1v1h-1zM3 41h1v1h-1zM3 42h1v1h-1zM12 43h1v1h-1zM13 44h1v1h-1zM0 45h2v1h-2zM12 45h2v1h-2z"/><path fill="#00e7ff" d="M55 3h1v1h-1zM0 26h1v1h-1zM1 28h1v1h-1zM22 29h2v1h-2zM21 30h1v1h-1zM1 32h1v1h-1zM20 33h1v1h-1zM2 34h1v1h-1zM20 35h1v1h-1zM20 36h1v1h-1zM14 37h1v1h-1zM16 37h1v1h-1zM13 38h1v1h-1zM17 38h1v1h-1zM12 39h1v1h-1zM18 39h1v1h-1zM20 39h1v1h-1zM12 40h1v1h-1zM13 41h1v1h-1zM6 42h1v1h-1zM15 42h1v1h-1zM4 43h1v1h-1zM16 43h1v1h-1zM17 45h1v1h-1zM0 46h3v1h-3zM10 46h1v1h-1zM17 46h2v1h-2zM11 47h2v1h-2zM16 47h4v1h-4zM18 48h2v1h-2zM8 50h1v1h-1zM9 52h1v1h-1zM2 53h1v1h-1zM8 53h1v1h-1zM6 55h1v1h-1zM16 55h1v1h-1zM13 56h1v1h-1zM18 57h1v1h-1z"/><path fill="#00ff28" d="M4 8h3v1h-3zM4 9h1v1h-1zM0 14h1v1h-1zM2 16h1v1h-1zM3 17h1v1h-1zM3 18h1v1h-1zM2 20h1v1h-1zM2 21h1v1h-1zM2 22h1v1h-1zM3 23h2v1h-2zM4 24h1v1h-1zM8 25h3v1h-3zM7 26h1v1h-1zM10 26h1v1h-1zM20 26h1v1h-1zM22 26h1v1h-1zM7 27h1v1h-1zM10 27h1v1h-1zM15 27h2v1h-2zM19 27h1v1h-1zM23 27h1v1h-1zM7 28h1v1h-1zM10 28h1v1h-1zM15 28h3v1h-3zM7 29h3v1h-3zM15 29h1v1h-1zM8 30h2v1h-2zM14 30h2v1h-2zM8 31h2v1h-2zM16 31h1v1h-1zM8 32h4v1h-4zM16 32h1v1h-1zM8 33h2v1h-2zM12 33h1v1h-1zM16 33h1v1h-1zM14 34h2v1h-2zM8 35h1v1h-1zM7 37h1v1h-1zM5 39h1v1h-1z"/><path fill="#ff0030" d="M50 12h1v1h-1zM54 12h2v1h-2zM53 13h1v1h-1zM42 14h2v1h-2zM52 14h1v1h-1zM41 15h1v1h-1zM46 15h1v1h-1zM41 16h1v1h-1zM46 16h1v1h-1zM46 17h1v1h-1zM46 18h1v1h-1zM35 19h1v1h-1zM37 19h1v1h-1zM41 19h1v1h-1zM46 19h1v1h-1zM39 20h1v1h-1zM46 20h1v1h-1zM34 21h1v1h-1zM40 21h1v1h-1zM46 21h1v1h-1zM48 21h2v1h-2zM45 22h1v1h-1zM48 22h1v1h-1zM46 23h1v1h-1zM48 23h1v1h-1zM48 24h1v1h-1zM47 25h2v1h-2zM29 29h2v1h-2zM33 29h1v1h-1zM32 30h1v1h-1zM50 30h1v1h-1zM55 52h1v1h-1zM0 57h1v1h-1z"/><path fill="#ff0060" d="M53 14h3v1h-3zM44 15h2v1h-2zM43 16h3v1h-3zM52 16h1v1h-1zM42 17h1v1h-1zM44 17h1v1h-1zM52 17h1v1h-1zM42 18h1v1h-1zM44 18h1v1h-1zM42 19h1v1h-1zM36 20h2v1h-2zM51 20h1v1h-1zM35 21h1v1h-1zM38 21h1v1h-1zM44 21h1v1h-1zM39 22h1v1h-1zM41 22h1v1h-1zM44 22h1v1h-1zM49 22h1v1h-1zM49 23h1v1h-1zM49 24h1v1h-1zM49 25h1v1h-1zM34 26h1v1h-1zM48 26h1v1h-1zM34 27h1v1h-1zM34 28h1v1h-1zM34 29h1v1h-1zM51 29h1v1h-1zM34 30h1v1h-1zM32 31h2v1h-2zM51 31h1v1h-1zM50 32h1v1h-1zM50 33h1v1h-1zM53 54h1v1h-1z"/><path fill="#ff0078" d="M53 15h3v1h-3zM43 17h1v1h-1zM43 18h1v1h-1zM43 19h2v1h-2zM42 20h1v1h-1zM44 20h1v1h-1zM36 21h2v1h-2zM42 21h2v1h-2zM51 21h1v1h-1zM35 22h1v1h-1zM38 22h1v1h-1zM42 22h2v1h-2zM35 23h1v1h-1zM40 23h1v1h-1zM44 23h1v1h-1zM35 24h1v1h-1zM45 24h1v1h-1zM50 24h1v1h-1zM46 25h1v1h-1zM50 25h1v1h-1zM47 26h1v1h-1zM49 26h1v1h-1zM50 27h1v1h-1zM50 28h2v1h-2zM49 29h1v1h-1zM49 30h1v1h-1zM52 30h1v1h-1zM31 31h1v1h-1zM34 31h1v1h-1zM49 31h1v1h-1zM51 32h1v1h-1zM51 33h1v1h-1zM50 34h2v1h-2zM51 57h1v1h-1z"/><path fill="#ff008f" d="M53 16h1v1h-1zM53 17h1v1h-1zM52 18h1v1h-1zM43 20h1v1h-1zM36 22h2v1h-2zM50 22h1v1h-1zM36 23h4v1h-4zM41 23h3v1h-3zM50 23h1v1h-1zM36 24h1v1h-1zM51 24h2v1h-2zM35 25h1v1h-1zM51 25h2v1h-2zM46 26h1v1h-1zM50 26h2v1h-2zM48 27h2v1h-2zM51 27h1v1h-1zM49 28h1v1h-1zM52 28h1v1h-1zM52 29h1v1h-1zM30 30h1v1h-1zM52 31h1v1h-1zM32 32h3v1h-3zM49 32h1v1h-1zM49 33h1v1h-1zM49 34h1v1h-1zM50 35h2v1h-2zM55 42h1v1h-1zM54 52h1v1h-1zM53 53h1v1h-1zM52 55h1v1h-1z"/><path fill="#ff00a7" d="M54 16h2v1h-2zM52 19h1v1h-1zM52 20h1v1h-1zM52 21h1v1h-1zM51 22h2v1h-2zM54 22h2v1h-2zM51 23h5v1h-5zM37 24h5v1h-5zM44 24h1v1h-1zM53 24h2v1h-2zM36 25h1v1h-1zM45 25h1v1h-1zM53 25h1v1h-1zM35 26h1v1h-1zM52 26h1v1h-1zM35 27h1v1h-1zM47 27h1v1h-1zM52 27h1v1h-1zM35 28h1v1h-1zM48 28h1v1h-1zM35 29h1v1h-1zM53 29h1v1h-1zM53 30h1v1h-1zM35 31h1v1h-1zM31 32h1v1h-1zM35 32h1v1h-1zM52 33h1v1h-1zM52 34h1v1h-1zM49 35h1v1h-1zM55 41h1v1h-1zM54 42h1v1h-1zM52 54h1v1h-1z"/><path fill="#ff00ef" d="M55 18h1v1h-1zM42 25h1v1h-1zM37 26h2v1h-2zM41 26h1v1h-1zM44 26h1v1h-1zM55 26h1v1h-1zM36 27h1v1h-1zM39 27h1v1h-1zM41 27h1v1h-1zM45 27h1v1h-1zM54 27h2v1h-2zM36 28h1v1h-1zM40 28h1v1h-1zM46 28h1v1h-1zM54 28h2v1h-2zM36 29h1v1h-1zM47 29h1v1h-1zM55 29h1v1h-1zM36 30h1v1h-1zM36 31h1v1h-1zM42 31h1v1h-1zM54 31h2v1h-2zM37 32h1v1h-1zM41 32h3v1h-3zM53 32h1v1h-1zM32 33h1v1h-1zM36 33h1v1h-1zM47 33h1v1h-1zM53 33h1v1h-1zM47 34h1v1h-1zM47 35h1v1h-1zM53 35h1v1h-1zM52 36h1v1h-1zM50 37h1v1h-1zM47 38h1v1h-1zM49 38h1v1h-1zM47 39h1v1h-1zM49 39h5v1h-5zM48 40h4v1h-4zM55 40h1v1h-1zM55 44h1v1h-1zM51 49h1v1h-1zM51 50h5v1h-5zM51 51h2v1h-2zM51 52h2v1h-2zM51 53h1v1h-1zM51 54h1v1h-1zM51 55h1v1h-1z"/><path fill="#00ffb7" d="M2 25h1v1h-1zM21 28h2v1h-2zM20 29h1v1h-1zM19 31h1v1h-1zM19 32h1v1h-1zM3 34h1v1h-1zM18 34h1v1h-1zM3 35h1v1h-1zM18 35h1v1h-1zM12 36h2v1h-2zM11 37h1v1h-1zM10 38h1v1h-1zM3 39h1v1h-1zM2 40h1v1h-1zM9 40h1v1h-1zM7 41h3v1h-3zM9 42h1v1h-1zM3 43h1v1h-1zM11 43h1v1h-1zM13 43h1v1h-1zM11 44h1v1h-1zM14 44h1v1h-1zM2 45h1v1h-1zM11 45h1v1h-1zM14 45h1v1h-1zM1 53h1v1h-1zM4 56h1v1h-1z"/><path fill="#f700ff" d="M42 26h2v1h-2zM37 27h2v1h-2zM42 27h3v1h-3zM39 28h1v1h-1zM41 28h2v1h-2zM45 28h1v1h-1zM41 29h3v1h-3zM42 30h2v1h-2zM47 30h1v1h-1zM37 31h2v1h-2zM40 31h2v1h-2zM43 31h1v1h-1zM47 31h1v1h-1zM38 32h3v1h-3zM47 32h1v1h-1zM54 32h1v1h-1zM31 33h1v1h-1zM37 33h1v1h-1zM43 33h1v1h-1zM34 34h2v1h-2zM53 36h1v1h-1zM51 37h2v1h-2zM50 38h4v1h-4zM54 39h2v1h-2zM47 40h1v1h-1zM47 41h3v1h-3zM51 41h1v1h-1zM48 42h1v1h-1zM52 42h1v1h-1zM53 43h1v1h-1zM54 44h1v1h-1zM55 46h1v1h-1zM55 47h1v1h-1zM50 48h2v1h-2zM55 48h1v1h-1zM50 49h1v1h-1zM52 49h2v1h-2zM55 49h1v1h-1zM50 50h1v1h-1zM50 51h1v1h-1zM50 52h1v1h-1zM51 56h1v1h-1z"/><path fill="#00cfff" d="M0 27h2v1h-2zM0 28h1v1h-1zM27 30h1v1h-1zM21 31h1v1h-1zM0 32h1v1h-1zM1 33h1v1h-1zM20 34h1v1h-1zM2 35h1v1h-1zM15 37h1v1h-1zM21 37h1v1h-1zM2 38h1v1h-1zM21 38h1v1h-1zM1 39h1v1h-1zM13 39h1v1h-1zM17 39h1v1h-1zM21 39h1v1h-1zM13 40h1v1h-1zM17 40h4v1h-4zM14 41h2v1h-2zM19 41h2v1h-2zM5 42h1v1h-1zM16 42h1v1h-1zM7 43h1v1h-1zM4 44h1v1h-1zM8 44h1v1h-1zM17 44h1v1h-1zM9 45h1v1h-1zM18 45h1v1h-1zM15 48h3v1h-3zM20 48h1v1h-1zM7 50h1v1h-1zM7 51h1v1h-1zM9 51h1v1h-1zM0 52h2v1h-2zM7 52h1v1h-1zM0 53h1v1h-1zM7 53h1v1h-1zM9 53h1v1h-1zM14 55h2v1h-2zM17 55h1v1h-1zM3 56h1v1h-1zM7 56h1v1h-1zM18 56h1v1h-1zM4 57h1v1h-1zM7 57h1v1h-1zM12 57h1v1h-1z"/><path fill="#df00ff" d="M37 28h2v1h-2zM43 28h2v1h-2zM37 29h4v1h-4zM46 29h1v1h-1zM37 30h5v1h-5zM29 31h1v1h-1zM39 31h1v1h-1zM44 31h1v1h-1zM44 32h1v1h-1zM46 32h1v1h-1zM55 32h1v1h-1zM30 33h1v1h-1zM38 33h5v1h-5zM44 33h1v1h-1zM46 33h1v1h-1zM54 33h2v1h-2zM33 34h1v1h-1zM36 34h1v1h-1zM54 34h2v1h-2zM54 35h1v1h-1zM46 36h1v1h-1zM46 37h1v1h-1zM53 37h1v1h-1zM46 38h1v1h-1zM54 38h2v1h-2zM50 41h1v1h-1zM47 42h1v1h-1zM51 42h1v1h-1zM47 43h2v1h-2zM52 43h1v1h-1zM53 44h1v1h-1zM54 45h2v1h-2zM54 46h1v1h-1zM50 47h2v1h-2zM54 47h1v1h-1zM49 48h1v1h-1zM52 48h3v1h-3zM49 49h1v1h-1zM54 49h1v1h-1zM49 50h1v1h-1zM49 51h1v1h-1zM50 53h1v1h-1z"/><path fill="#0058ff" d="M23 31h2v1h-2zM22 33h1v1h-1zM22 34h1v1h-1zM22 35h1v1h-1zM23 36h1v1h-1zM24 37h1v1h-1zM24 38h1v1h-1zM24 40h1v1h-1zM29 40h1v1h-1zM24 41h1v1h-1zM27 41h1v1h-1zM30 41h1v1h-1zM23 42h1v1h-1zM27 42h1v1h-1zM30 42h1v1h-1zM23 43h1v1h-1zM28 43h1v1h-1zM21 44h3v1h-3zM21 45h1v1h-1zM23 45h2v1h-2zM24 46h1v1h-1zM1 47h1v1h-1zM7 47h2v1h-2zM24 47h1v1h-1zM28 47h2v1h-2zM3 48h1v1h-1zM24 48h1v1h-1zM27 48h2v1h-2zM30 48h1v1h-1zM24 49h1v1h-1zM28 49h3v1h-3zM5 50h1v1h-1zM11 50h1v1h-1zM16 50h1v1h-1zM22 50h1v1h-1zM5 51h1v1h-1zM3 52h3v1h-3zM11 52h1v1h-1zM4 53h1v1h-1zM11 53h1v1h-1zM11 54h3v1h-3zM18 54h1v1h-1zM35 55h1v1h-1zM27 56h1v1h-1zM31 56h1v1h-1zM3 57h1v1h-1zM20 57h1v1h-1zM26 57h1v1h-1zM31 57h1v1h-1z"/><path fill="#0040ff" d="M27 31h1v1h-1zM23 32h1v1h-1zM25 32h2v1h-2zM23 35h1v1h-1zM24 36h1v1h-1zM25 37h1v1h-1zM25 38h1v1h-1zM24 39h1v1h-1zM27 40h2v1h-2zM30 40h1v1h-1zM25 41h2v1h-2zM31 41h1v1h-1zM24 42h3v1h-3zM31 42h1v1h-1zM24 43h4v1h-4zM29 43h2v1h-2zM24 44h3v1h-3zM25 45h2v1h-2zM25 46h2v1h-2zM25 47h3v1h-3zM30 47h1v1h-1zM35 47h1v1h-1zM25 48h2v1h-2zM31 48h1v1h-1zM3 49h1v1h-1zM27 49h1v1h-1zM31 49h1v1h-1zM4 50h1v1h-1zM12 50h1v1h-1zM15 50h1v1h-1zM23 50h1v1h-1zM2 51h3v1h-3zM11 51h1v1h-1zM0 54h1v1h-1zM19 54h1v1h-1zM35 54h1v1h-1zM28 55h1v1h-1zM31 55h1v1h-1zM34 55h1v1h-1zM20 56h1v1h-1zM26 56h1v1h-1z"/><path fill="#6800ff" d="M28 31h1v1h-1zM28 32h1v1h-1zM31 35h1v1h-1zM42 35h2v1h-2zM41 36h1v1h-1zM44 36h1v1h-1zM32 37h1v1h-1zM34 37h5v1h-5zM39 38h2v1h-2zM39 39h2v1h-2zM40 40h1v1h-1zM44 41h1v1h-1zM42 42h1v1h-1zM42 43h1v1h-1zM42 44h1v1h-1zM42 45h1v1h-1zM41 46h1v1h-1zM40 48h1v1h-1zM42 49h2v1h-2zM44 50h1v1h-1zM46 51h1v1h-1zM23 52h1v1h-1zM47 52h1v1h-1zM40 55h3v1h-3zM40 56h4v1h-4zM40 57h4v1h-4z"/><path fill="#00b7ff" d="M21 32h1v1h-1zM0 33h1v1h-1zM2 36h1v1h-1zM21 36h1v1h-1zM2 37h1v1h-1zM0 38h2v1h-2zM14 38h1v1h-1zM16 38h1v1h-1zM0 39h1v1h-1zM14 39h1v1h-1zM16 39h1v1h-1zM14 40h1v1h-1zM16 40h1v1h-1zM21 40h1v1h-1zM16 41h3v1h-3zM21 41h1v1h-1zM19 42h2v1h-2zM6 43h1v1h-1zM17 43h1v1h-1zM7 44h1v1h-1zM18 44h1v1h-1zM4 45h1v1h-1zM3 46h1v1h-1zM19 46h1v1h-1zM10 47h1v1h-1zM20 47h1v1h-1zM13 48h2v1h-2zM21 48h1v1h-1zM7 49h2v1h-2zM18 49h3v1h-3zM9 50h1v1h-1zM1 54h1v1h-1zM3 54h1v1h-1zM6 54h3v1h-3zM7 55h1v1h-1zM13 55h1v1h-1zM12 56h1v1h-1z"/><path fill="#0010ff" d="M25 33h1v1h-1zM25 34h1v1h-1zM25 35h2v1h-2zM26 36h1v1h-1zM26 37h1v1h-1zM26 38h1v1h-1zM27 39h1v1h-1zM31 39h1v1h-1zM32 40h1v1h-1zM33 41h1v1h-1zM33 42h1v1h-1zM33 43h1v1h-1zM34 44h2v1h-2zM27 45h2v1h-2zM31 45h1v1h-1zM34 45h4v1h-4zM32 46h1v1h-1zM37 46h2v1h-2zM32 47h2v1h-2zM38 47h1v1h-1zM0 48h2v1h-2zM33 48h5v1h-5zM2 49h1v1h-1zM33 49h1v1h-1zM2 50h1v1h-1zM24 50h1v1h-1zM28 50h1v1h-1zM32 50h1v1h-1zM12 51h1v1h-1zM16 51h1v1h-1zM21 51h1v1h-1zM12 52h1v1h-1zM18 52h1v1h-1zM13 53h3v1h-3zM19 53h1v1h-1zM34 53h2v1h-2zM20 54h1v1h-1zM29 54h1v1h-1zM32 54h2v1h-2zM36 54h1v1h-1zM1 55h1v1h-1zM26 55h1v1h-1zM33 55h1v1h-1zM25 56h1v1h-1zM33 56h5v1h-5zM47 56h2v1h-2zM32 57h1v1h-1zM36 57h1v1h-1zM38 57h1v1h-1zM47 57h3v1h-3z"/><path fill="#5000ff" d="M28 33h1v1h-1zM29 34h1v1h-1zM30 35h1v1h-1zM31 36h1v1h-1zM42 36h2v1h-2zM31 37h1v1h-1zM41 37h1v1h-1zM44 37h1v1h-1zM32 38h3v1h-3zM37 38h2v1h-2zM41 38h1v1h-1zM38 39h1v1h-1zM41 39h1v1h-1zM38 40h2v1h-2zM41 40h1v1h-1zM44 40h1v1h-1zM40 41h4v1h-4zM41 42h1v1h-1zM41 45h1v1h-1zM40 47h1v1h-1zM40 49h2v1h-2zM45 51h1v1h-1zM22 52h1v1h-1zM24 52h1v1h-1zM26 52h5v1h-5zM46 52h1v1h-1zM22 53h6v1h-6zM47 53h1v1h-1zM38 54h5v1h-5zM48 54h1v1h-1zM39 55h1v1h-1zM43 55h1v1h-1zM44 56h1v1h-1zM50 56h1v1h-1zM2 57h1v1h-1zM22 57h2v1h-2zM44 57h1v1h-1z"/><path fill="#8000ff" d="M30 34h1v1h-1zM32 35h1v1h-1zM41 35h1v1h-1zM44 35h1v1h-1zM32 36h2v1h-2zM36 36h5v1h-5zM33 37h1v1h-1zM39 37h2v1h-2zM45 38h1v1h-1zM45 39h1v1h-1zM45 40h1v1h-1zM43 42h2v1h-2zM43 43h2v1h-2zM43 44h2v1h-2zM43 45h1v1h-1zM42 46h1v1h-1zM41 47h1v1h-1zM41 48h2v1h-2zM45 50h3v1h-3zM47 51h1v1h-1zM48 53h1v1h-1zM49 54h1v1h-1zM0 55h1v1h-1z"/></g><rect x="924.30" y="379.20" width="283.00" height="292.30" fill="none" stroke="#808080" stroke-width="0.8"/><g transform="translate(1215.00 379.20) scale(13.00000 4.56719)" shape-rendering="crispEdges"><path fill="#ff0018" d="M0 0h1v1h-1z"/><path fill="#ff0030" d="M0 1h1v1h-1z"/><path fill="#ff0048" d="M0 2h1v1h-1z"/><path fill="#ff0060" d="M0 3h1v1h-1z"/><path fill="#ff0078" d="M0 4h1v1h-1z"/><path fill="#ff008f" d="M0 5h1v1h-1z"/><path fill="#ff00a7" d="M0 6h1v1h-1z"/><path fill="#ff00bf" d="M0 7h1v1h-1z"/><path fill="#ff00d7" d="M0 8h1v1h-1z"/><path fill="#ff00ef" d="M0 9h1v1h-1z"/><path fill="#f700ff" d="M0 10h1v1h-1z"/><path fill="#df00ff" d="M0 11h1v1h-1z"/><path fill="#c700ff" d="M0 12h1v1h-1z"/><path fill="#af00ff" d="M0 13h1v1h-1z"/><path fill="#9700ff" d="M0 14h1v1h-1z"/><path fill="#8000ff" d="M0 15h1v1h-1z"/><path fill="#6800ff" d="M0 16h1v1h-1z"/><path fill="#5000ff" d="M0 17h1v1h-1z"/><path fill="#3800ff" d="M0 18h1v1h-1z"/><path fill="#2000ff" d="M0 19h1v1h-1z"/><path fill="#0800ff" d="M0 20h1v1h-1z"/><path fill="#0010ff" d="M0 21h1v1h-1z"/><path fill="#0028ff" d="M0 22h1v1h-1z"/><path fill="#0040ff" d="M0 23h1v1h-1z"/><path fill="#0058ff" d="M0 24h1v1h-1z"/><path fill="#0070ff" d="M0 25h1v1h-1z"/><path fill="#0087ff" d="M0 26h1v1h-1z"/><path fill="#009fff" d="M0 27h1v1h-1z"/><path fill="#00b7ff" d="M0 28h1v1h-1z"/><path fill="#00cfff" d="M0 29h1v1h-1z"/><path fill="#00e7ff" d="M0 30h1v1h-1z"/><path fill="#00ffff" d="M0 31h1v1h-1z"/><path fill="#00ffe7" d="M0 32h1v1h-1z"/><path fill="#00ffcf" d="M0 33h1v1h-1z"/><path fill="#00ffb7" d="M0 34h1v1h-1z"/><path fill="#00ff9f" d="M0 35h1v1h-1z"/><path fill="#00ff87" d="M0 36h1v1h-1z"/><path fill="#00ff70" d="M0 37h1v1h-1z"/><path fill="#00ff58" d="M0 38h1v1h-1z"/><path fill="#00ff40" d="M0 39h1v1h-1z"/><path fill="#00ff28" d="M0 40h1v1h-1z"/><path fill="#00ff10" d="M0 41h1v1h-1z"/><path fill="#08ff00" d="M0 42h1v1h-1z"/><path fill="#20ff00" d="M0 43h1v1h-1z"/><path fill="#38ff00" d="M0 44h1v1h-1z"/><path fill="#50ff00" d="M0 45h1v1h-1z"/><path fill="#68ff00" d="M0 46h1v1h-1z"/><path fill="#80ff00" d="M0 47h1v1h-1z"/><path fill="#97ff00" d="M0 48h1v1h-1z"/><path fill="#afff00" d="M0 49h1v1h-1z"/><path fill="#c7ff00" d="M0 50h1v1h-1z"/><path fill="#dfff00" d="M0 51h1v1h-1z"/><path fill="#f7ff00" d="M0 52h1v1h-1z"/><path fill="#ffef00" d="M0 53h1v1h-1z"/><path fill="#ffd700" d="M0 54h1v1h-1z"/><path fill="#ffbf00" d="M0 55h1v1h-1z"/><path fill="#ffa700" d="M0 56h1v1h-1z"/><path fill="#ff8f00" d="M0 57h1v1h-1z"/><path fill="#ff7800" d="M0 58h1v1h-1z"/><path fill="#ff6000" d="M0 59h1v1h-1z"/><path fill="#ff4800" d="M0 60h1v1h-1z"/><path fill="#ff3000" d="M0 61h1v1h-1z"/><path fill="#ff1800" d="M0 62h1v1h-1z"/><path fill="#ff0000" d="M0 63h1v1h-1z"/></g><rect x="1215.00" y="379.20" width="13.00" height="292.30" fill="none" stroke="#606060" stroke-width="0.8"/><text font-size="20.7" text-anchor="start" transform="translate(1235.0 388.1) scale(1.0 1.1)">360</text><text font-size="20.7" text-anchor="start" transform="translate(1235.0 678.7) scale(1.0 1.1)">0</text><g transform="translate(1353.90 378.20) scale(5.01786 5.01034)" shape-rendering="crispEdges"><path fill="#610000" d="M0 0h1v1h-1zM7 0h1v1h-1zM9 0h1v1h-1zM11 0h1v1h-1zM31 0h2v1h-2zM52 0h1v1h-1zM55 0h1v1h-1zM2 1h1v1h-1zM5 1h2v1h-2zM3 2h2v1h-2zM37 2h3v1h-3zM43 2h2v1h-2zM13 3h1v1h-1zM43 3h2v1h-2zM48 3h1v1h-1zM52 3h1v1h-1zM9 4h1v1h-1zM52 4h1v1h-1zM9 5h3v1h-3zM45 5h3v1h-3zM50 5h1v1h-1zM2 6h1v1h-1zM46 6h4v1h-4zM51 6h1v1h-1zM52 7h1v1h-1zM55 7h1v1h-1zM0 9h1v1h-1zM4 9h1v1h-1zM53 9h1v1h-1zM51 10h1v1h-1zM54 10h2v1h-2zM3 11h1v1h-1zM51 11h1v1h-1zM55 11h1v1h-1zM1 12h1v1h-1zM3 12h1v1h-1zM55 12h1v1h-1zM52 13h1v1h-1zM55 13h1v1h-1zM0 14h1v1h-1zM52 14h1v1h-1zM53 15h1v1h-1zM53 16h1v1h-1zM53 17h2v1h-2zM53 18h2v1h-2zM0 19h1v1h-1zM0 24h1v1h-1zM54 25h1v1h-1zM28 27h1v1h-1zM0 29h1v1h-1zM25 29h1v1h-1zM29 29h1v1h-1zM0 30h1v1h-1zM26 31h1v1h-1zM55 31h1v1h-1zM0 33h1v1h-1zM0 34h1v1h-1zM0 35h1v1h-1zM54 36h1v1h-1zM0 39h1v1h-1zM53 39h2v1h-2zM0 40h1v1h-1zM53 40h2v1h-2zM53 41h1v1h-1zM1 42h1v1h-1zM53 42h1v1h-1zM52 43h2v1h-2zM2 44h2v1h-2zM54 46h1v1h-1zM0 47h1v1h-1zM0 48h1v1h-1zM1 49h1v1h-1zM51 50h1v1h-1zM55 50h1v1h-1zM0 51h1v1h-1zM4 51h1v1h-1zM38 51h1v1h-1zM46 51h1v1h-1zM54 51h2v1h-2zM54 52h2v1h-2zM1 53h1v1h-1zM52 53h1v1h-1zM47 54h1v1h-1zM52 54h4v1h-4zM14 55h1v1h-1zM16 55h1v1h-1zM23 55h2v1h-2zM40 55h1v1h-1zM54 55h2v1h-2zM1 56h1v1h-1zM15 56h2v1h-2zM39 56h1v1h-1zM49 56h1v1h-1zM55 56h1v1h-1zM8 57h1v1h-1zM48 57h2v1h-2z"/><path fill="#560000" d="M1 0h1v1h-1zM10 0h1v1h-1zM1 1h1v1h-1zM45 1h1v1h-1zM51 1h1v1h-1zM1 2h1v1h-1zM48 2h4v1h-4zM10 3h1v1h-1zM49 3h1v1h-1zM3 5h1v1h-1zM53 5h1v1h-1zM0 6h1v1h-1zM54 6h1v1h-1zM1 7h1v1h-1zM0 8h1v1h-1zM5 8h1v1h-1zM5 9h1v1h-1zM50 10h1v1h-1zM2 11h1v1h-1zM1 13h1v1h-1zM2 14h1v1h-1zM53 14h1v1h-1zM0 15h1v1h-1zM2 15h1v1h-1zM0 16h1v1h-1zM0 17h2v1h-2zM0 18h1v1h-1zM54 21h1v1h-1zM54 22h1v1h-1zM0 23h1v1h-1zM55 32h1v1h-1zM53 37h1v1h-1zM53 38h1v1h-1zM2 43h1v1h-1zM55 45h1v1h-1zM53 48h1v1h-1zM55 49h1v1h-1zM54 50h1v1h-1zM0 52h2v1h-2zM45 52h1v1h-1zM53 52h1v1h-1zM5 53h1v1h-1zM12 53h1v1h-1zM48 53h1v1h-1zM53 53h3v1h-3zM4 54h2v1h-2zM0 55h1v1h-1zM15 55h1v1h-1zM2 56h1v1h-1zM46 56h1v1h-1zM50 56h1v1h-1zM53 56h2v1h-2zM1 57h1v1h-1zM3 57h1v1h-1zM47 57h1v1h-1zM52 57h1v1h-1zM54 57h2v1h-2z"/><path fill="#4c0000" d="M2 0h1v1h-1zM6 0h1v1h-1zM50 0h2v1h-2zM0 1h1v1h-1zM50 1h1v1h-1zM2 3h1v1h-1zM4 3h1v1h-1zM11 3h2v1h-2zM50 3h1v1h-1zM12 4h1v1h-1zM50 4h1v1h-1zM51 5h2v1h-2zM1 6h1v1h-1zM52 6h1v1h-1zM0 7h1v1h-1zM4 8h1v1h-1zM53 8h1v1h-1zM54 9h2v1h-2zM2 13h1v1h-1zM1 14h1v1h-1zM0 21h1v1h-1zM55 21h1v1h-1zM55 23h1v1h-1zM55 24h1v1h-1zM27 27h1v1h-1zM55 33h1v1h-1zM55 36h1v1h-1zM54 37h1v1h-1zM54 38h1v1h-1zM55 46h1v1h-1zM54 47h1v1h-1zM53 49h2v1h-2zM1 50h2v1h-2zM52 50h2v1h-2zM53 51h1v1h-1zM2 52h1v1h-1zM4 52h1v1h-1zM50 52h1v1h-1zM52 52h1v1h-1zM0 53h1v1h-1zM3 53h1v1h-1zM0 54h1v1h-1zM51 54h1v1h-1zM47 55h1v1h-1zM49 55h1v1h-1zM52 55h1v1h-1zM48 56h1v1h-1zM51 56h2v1h-2zM45 57h2v1h-2zM53 57h1v1h-1z"/><path fill="#6c0000" d="M3 0h1v1h-1zM5 0h1v1h-1zM12 0h1v1h-1zM44 0h1v1h-1zM3 1h2v1h-2zM7 1h1v1h-1zM9 1h2v1h-2zM18 1h3v1h-3zM37 1h3v1h-3zM52 1h1v1h-1zM55 1h1v1h-1zM2 2h1v1h-1zM5 2h1v1h-1zM10 2h1v1h-1zM13 2h2v1h-2zM17 2h2v1h-2zM36 2h1v1h-1zM40 2h1v1h-1zM45 2h3v1h-3zM52 2h1v1h-1zM5 3h1v1h-1zM44 4h6v1h-6zM8 5h1v1h-1zM12 5h1v1h-1zM48 5h2v1h-2zM8 6h1v1h-1zM50 6h1v1h-1zM2 7h1v1h-1zM48 7h1v1h-1zM1 8h1v1h-1zM3 8h1v1h-1zM41 8h2v1h-2zM49 9h2v1h-2zM0 10h1v1h-1zM49 10h1v1h-1zM52 10h2v1h-2zM51 12h2v1h-2zM0 13h1v1h-1zM3 13h1v1h-1zM53 13h1v1h-1zM54 14h2v1h-2zM54 15h1v1h-1zM2 16h1v1h-1zM54 16h1v1h-1zM1 18h1v1h-1zM54 19h1v1h-1zM0 20h1v1h-1zM54 20h1v1h-1zM54 23h1v1h-1zM54 26h1v1h-1zM0 27h1v1h-1zM55 27h1v1h-1zM0 28h1v1h-1zM2 31h1v1h-1zM27 31h1v1h-1zM54 35h1v1h-1zM0 36h1v1h-1zM55 37h1v1h-1zM1 40h1v1h-1zM0 41h2v1h-2zM54 41h1v1h-1zM2 42h1v1h-1zM52 42h1v1h-1zM1 43h1v1h-1zM52 44h2v1h-2zM55 44h1v1h-1zM3 45h1v1h-1zM0 46h1v1h-1zM53 47h1v1h-1zM1 48h1v1h-1zM2 49h1v1h-1zM52 49h1v1h-1zM0 50h1v1h-1zM46 50h1v1h-1zM37 51h1v1h-1zM50 51h1v1h-1zM44 52h1v1h-1zM49 52h1v1h-1zM13 53h1v1h-1zM51 53h1v1h-1zM1 54h1v1h-1zM3 54h1v1h-1zM6 54h1v1h-1zM13 54h2v1h-2zM22 54h1v1h-1zM33 54h1v1h-1zM1 55h1v1h-1zM6 55h1v1h-1zM25 55h1v1h-1zM39 55h1v1h-1zM41 55h1v1h-1zM46 55h1v1h-1zM53 55h1v1h-1zM0 56h1v1h-1zM6 56h4v1h-4zM40 56h1v1h-1zM45 56h1v1h-1zM7 57h1v1h-1zM9 57h1v1h-1zM16 57h1v1h-1zM38 57h1v1h-1zM44 57h1v1h-1zM50 57h2v1h-2z"/><path fill="#820000" d="M4 0h1v1h-1zM19 0h1v1h-1zM25 0h2v1h-2zM30 0h1v1h-1zM34 0h1v1h-1zM53 0h1v1h-1zM11 1h1v1h-1zM15 1h2v1h-2zM22 1h1v1h-1zM25 1h2v1h-2zM28 1h3v1h-3zM53 1h1v1h-1zM6 2h3v1h-3zM15 2h2v1h-2zM19 2h1v1h-1zM21 2h1v1h-1zM42 2h1v1h-1zM41 3h1v1h-1zM53 3h2v1h-2zM5 4h1v1h-1zM42 4h1v1h-1zM53 4h1v1h-1zM55 4h1v1h-1zM39 5h1v1h-1zM44 5h1v1h-1zM7 6h1v1h-1zM37 6h2v1h-2zM55 6h1v1h-1zM6 7h1v1h-1zM39 7h2v1h-2zM46 7h1v1h-1zM50 7h2v1h-2zM2 8h1v1h-1zM48 8h3v1h-3zM1 9h1v1h-1zM2 10h1v1h-1zM0 11h1v1h-1zM5 11h2v1h-2zM53 11h1v1h-1zM0 12h1v1h-1zM6 12h1v1h-1zM53 12h2v1h-2zM52 15h1v1h-1zM55 15h1v1h-1zM55 16h1v1h-1zM2 17h1v1h-1zM55 17h1v1h-1zM53 19h1v1h-1zM1 20h1v1h-1zM55 20h1v1h-1zM53 21h1v1h-1zM53 22h1v1h-1zM1 23h1v1h-1zM51 23h1v1h-1zM0 26h1v1h-1zM1 28h2v1h-2zM25 28h1v1h-1zM29 28h1v1h-1zM3 29h1v1h-1zM55 29h1v1h-1zM3 30h1v1h-1zM29 30h1v1h-1zM55 30h1v1h-1zM1 31h1v1h-1zM3 31h1v1h-1zM3 32h1v1h-1zM54 33h1v1h-1zM1 35h2v1h-2zM1 36h1v1h-1zM53 36h1v1h-1zM0 37h1v1h-1zM4 38h2v1h-2zM5 39h2v1h-2zM55 39h1v1h-1zM6 40h1v1h-1zM52 40h1v1h-1zM2 41h1v1h-1zM52 41h1v1h-1zM6 43h1v1h-1zM51 43h1v1h-1zM0 45h1v1h-1zM2 45h1v1h-1zM52 45h2v1h-2zM49 46h2v1h-2zM53 46h1v1h-1zM2 47h2v1h-2zM2 48h1v1h-1zM41 49h1v1h-1zM47 49h2v1h-2zM14 50h2v1h-2zM39 50h1v1h-1zM47 50h1v1h-1zM17 51h1v1h-1zM39 51h1v1h-1zM44 51h1v1h-1zM11 52h2v1h-2zM38 52h1v1h-1zM45 53h2v1h-2zM2 54h1v1h-1zM15 54h1v1h-1zM21 54h1v1h-1zM25 54h2v1h-2zM32 54h1v1h-1zM40 54h2v1h-2zM43 54h1v1h-1zM46 54h1v1h-1zM2 55h1v1h-1zM4 55h1v1h-1zM9 55h1v1h-1zM13 55h1v1h-1zM31 55h1v1h-1zM42 55h1v1h-1zM5 56h1v1h-1zM14 56h1v1h-1zM22 56h2v1h-2zM25 56h2v1h-2zM29 56h1v1h-1zM4 57h1v1h-1zM12 57h1v1h-1zM15 57h1v1h-1zM19 57h1v1h-1zM22 57h1v1h-1zM28 57h1v1h-1z"/><path fill="#770000" d="M8 0h1v1h-1zM20 0h1v1h-1zM33 0h1v1h-1zM54 0h1v1h-1zM8 1h1v1h-1zM17 1h1v1h-1zM21 1h1v1h-1zM31 1h6v1h-6zM40 1h1v1h-1zM44 1h1v1h-1zM54 1h1v1h-1zM9 2h1v1h-1zM11 2h2v1h-2zM35 2h1v1h-1zM53 2h3v1h-3zM9 3h1v1h-1zM14 3h1v1h-1zM39 3h2v1h-2zM42 3h1v1h-1zM45 3h3v1h-3zM55 3h1v1h-1zM13 4h1v1h-1zM43 4h1v1h-1zM4 5h1v1h-1zM54 5h1v1h-1zM3 6h1v1h-1zM39 6h1v1h-1zM45 6h1v1h-1zM3 7h3v1h-3zM47 7h1v1h-1zM49 7h1v1h-1zM6 8h1v1h-1zM52 8h1v1h-1zM3 9h1v1h-1zM6 9h1v1h-1zM51 9h2v1h-2zM3 10h3v1h-3zM1 11h1v1h-1zM50 11h1v1h-1zM52 11h1v1h-1zM54 11h1v1h-1zM51 13h1v1h-1zM54 13h1v1h-1zM3 14h1v1h-1zM55 18h1v1h-1zM1 19h1v1h-1zM1 21h1v1h-1zM1 22h1v1h-1zM51 24h1v1h-1zM54 24h1v1h-1zM0 25h1v1h-1zM26 27h1v1h-1zM55 28h1v1h-1zM1 29h2v1h-2zM1 30h2v1h-2zM25 30h1v1h-1zM0 31h1v1h-1zM0 32h1v1h-1zM2 32h1v1h-1zM54 34h1v1h-1zM4 37h1v1h-1zM0 38h1v1h-1zM55 38h1v1h-1zM1 39h1v1h-1zM0 42h1v1h-1zM54 42h1v1h-1zM3 43h1v1h-1zM54 43h2v1h-2zM1 44h1v1h-1zM51 44h1v1h-1zM54 44h1v1h-1zM4 45h1v1h-1zM50 45h2v1h-2zM54 45h1v1h-1zM3 46h2v1h-2zM1 47h1v1h-1zM4 47h2v1h-2zM0 49h1v1h-1zM14 49h1v1h-1zM3 50h1v1h-1zM45 50h1v1h-1zM5 52h1v1h-1zM37 52h1v1h-1zM46 52h1v1h-1zM2 53h1v1h-1zM6 53h1v1h-1zM11 53h1v1h-1zM33 53h2v1h-2zM43 53h2v1h-2zM47 53h1v1h-1zM12 54h1v1h-1zM23 54h2v1h-2zM34 54h1v1h-1zM42 54h1v1h-1zM5 55h1v1h-1zM7 55h1v1h-1zM10 55h1v1h-1zM22 55h1v1h-1zM26 55h3v1h-3zM3 56h1v1h-1zM10 56h1v1h-1zM24 56h1v1h-1zM27 56h2v1h-2zM38 56h1v1h-1zM5 57h2v1h-2zM10 57h2v1h-2zM20 57h2v1h-2zM37 57h1v1h-1zM39 57h1v1h-1z"/><path fill="#970000" d="M13 0h1v1h-1zM15 0h1v1h-1zM17 0h2v1h-2zM21 0h1v1h-1zM35 0h9v1h-9zM41 1h2v1h-2zM29 2h1v1h-1zM33 2h1v1h-1zM6 3h3v1h-3zM15 3h1v1h-1zM35 3h2v1h-2zM32 4h5v1h-5zM7 5h1v1h-1zM34 5h3v1h-3zM43 5h1v1h-1zM4 6h1v1h-1zM13 6h1v1h-1zM20 6h1v1h-1zM40 6h1v1h-1zM44 6h1v1h-1zM13 7h1v1h-1zM15 7h1v1h-1zM42 7h1v1h-1zM13 8h2v1h-2zM44 8h2v1h-2zM47 8h1v1h-1zM10 10h1v1h-1zM48 10h1v1h-1zM5 12h1v1h-1zM7 12h1v1h-1zM50 12h1v1h-1zM4 13h1v1h-1zM4 14h1v1h-1zM52 16h1v1h-1zM52 17h1v1h-1zM2 18h1v1h-1zM52 18h1v1h-1zM50 23h1v1h-1zM52 23h1v1h-1zM2 24h1v1h-1zM50 24h1v1h-1zM52 24h1v1h-1zM1 25h3v1h-3zM1 26h2v1h-2zM51 27h2v1h-2zM54 27h1v1h-1zM3 28h1v1h-1zM51 28h1v1h-1zM51 29h2v1h-2zM54 29h1v1h-1zM51 30h2v1h-2zM51 32h1v1h-1zM54 32h1v1h-1zM2 33h1v1h-1zM51 33h2v1h-2zM2 34h1v1h-1zM51 34h1v1h-1zM53 34h1v1h-1zM45 35h2v1h-2zM52 35h2v1h-2zM52 36h1v1h-1zM1 37h1v1h-1zM51 37h1v1h-1zM50 38h2v1h-2zM2 39h1v1h-1zM50 39h2v1h-2zM6 41h1v1h-1zM55 41h1v1h-1zM3 42h1v1h-1zM51 42h1v1h-1zM55 42h1v1h-1zM4 43h2v1h-2zM8 44h1v1h-1zM50 44h1v1h-1zM5 46h1v1h-1zM51 46h2v1h-2zM3 48h1v1h-1zM12 48h1v1h-1zM14 48h1v1h-1zM41 48h2v1h-2zM15 49h1v1h-1zM42 49h1v1h-1zM50 49h1v1h-1zM17 50h1v1h-1zM41 50h1v1h-1zM44 50h1v1h-1zM48 50h2v1h-2zM14 51h2v1h-2zM18 51h1v1h-1zM40 51h1v1h-1zM47 51h1v1h-1zM49 51h1v1h-1zM10 52h1v1h-1zM13 52h1v1h-1zM16 52h1v1h-1zM39 52h1v1h-1zM47 52h1v1h-1zM18 53h1v1h-1zM32 53h1v1h-1zM16 54h1v1h-1zM27 54h1v1h-1zM30 54h1v1h-1zM39 54h1v1h-1zM17 55h1v1h-1zM43 55h2v1h-2zM11 56h1v1h-1zM13 56h1v1h-1zM31 56h1v1h-1zM42 56h2v1h-2zM13 57h1v1h-1zM17 57h1v1h-1zM25 57h1v1h-1zM33 57h2v1h-2z"/><path fill="#a20000" d="M14 0h1v1h-1zM22 0h1v1h-1zM27 2h2v1h-2zM30 2h1v1h-1zM34 3h1v1h-1zM6 4h2v1h-2zM14 4h1v1h-1zM31 4h1v1h-1zM37 4h2v1h-2zM5 5h1v1h-1zM20 5h1v1h-1zM23 5h2v1h-2zM33 5h1v1h-1zM40 5h1v1h-1zM10 6h1v1h-1zM14 6h3v1h-3zM19 6h1v1h-1zM36 6h1v1h-1zM8 7h1v1h-1zM12 7h1v1h-1zM16 7h1v1h-1zM38 7h1v1h-1zM43 7h2v1h-2zM7 8h1v1h-1zM15 8h1v1h-1zM46 8h1v1h-1zM42 9h1v1h-1zM7 11h1v1h-1zM49 11h1v1h-1zM8 12h1v1h-1zM46 12h1v1h-1zM6 13h1v1h-1zM46 13h2v1h-2zM50 13h1v1h-1zM46 14h2v1h-2zM3 16h1v1h-1zM6 17h1v1h-1zM5 18h2v1h-2zM2 19h1v1h-1zM2 22h1v1h-1zM2 23h1v1h-1zM53 23h1v1h-1zM3 24h1v1h-1zM3 27h1v1h-1zM52 28h1v1h-1zM54 28h1v1h-1zM53 29h1v1h-1zM53 30h2v1h-2zM25 31h1v1h-1zM52 31h1v1h-1zM54 31h1v1h-1zM52 32h1v1h-1zM4 33h1v1h-1zM53 33h1v1h-1zM4 34h1v1h-1zM52 34h1v1h-1zM4 36h1v1h-1zM45 36h1v1h-1zM50 36h1v1h-1zM2 37h1v1h-1zM50 37h1v1h-1zM2 38h2v1h-2zM6 38h1v1h-1zM49 38h1v1h-1zM48 39h1v1h-1zM48 40h2v1h-2zM51 40h1v1h-1zM5 41h1v1h-1zM5 42h1v1h-1zM7 42h1v1h-1zM8 43h1v1h-1zM46 43h2v1h-2zM5 44h3v1h-3zM9 44h1v1h-1zM11 46h1v1h-1zM43 46h2v1h-2zM11 47h1v1h-1zM13 47h1v1h-1zM42 47h1v1h-1zM50 47h1v1h-1zM52 47h1v1h-1zM4 48h1v1h-1zM50 48h1v1h-1zM3 49h1v1h-1zM6 49h1v1h-1zM39 49h1v1h-1zM43 49h1v1h-1zM4 50h1v1h-1zM13 50h1v1h-1zM5 51h1v1h-1zM9 51h2v1h-2zM41 51h1v1h-1zM48 51h1v1h-1zM6 52h1v1h-1zM14 52h2v1h-2zM36 52h1v1h-1zM42 52h1v1h-1zM15 53h1v1h-1zM17 53h1v1h-1zM25 53h1v1h-1zM35 53h3v1h-3zM41 53h1v1h-1zM10 54h1v1h-1zM28 54h2v1h-2zM11 55h1v1h-1zM34 55h1v1h-1zM12 56h1v1h-1zM19 56h2v1h-2zM32 56h2v1h-2zM14 57h1v1h-1zM31 57h2v1h-2zM35 57h1v1h-1z"/><path fill="#8c0000" d="M16 0h1v1h-1zM23 0h2v1h-2zM27 0h3v1h-3zM12 1h3v1h-3zM23 1h2v1h-2zM27 1h1v1h-1zM43 1h1v1h-1zM20 2h1v1h-1zM22 2h1v1h-1zM34 2h1v1h-1zM41 2h1v1h-1zM37 3h2v1h-2zM8 4h1v1h-1zM39 4h3v1h-3zM54 4h1v1h-1zM13 5h1v1h-1zM37 5h2v1h-2zM55 5h1v1h-1zM9 6h1v1h-1zM11 6h2v1h-2zM7 7h1v1h-1zM14 7h1v1h-1zM41 7h1v1h-1zM45 7h1v1h-1zM40 8h1v1h-1zM43 8h1v1h-1zM51 8h1v1h-1zM2 9h1v1h-1zM48 9h1v1h-1zM1 10h1v1h-1zM6 10h1v1h-1zM4 11h1v1h-1zM51 14h1v1h-1zM3 15h1v1h-1zM55 19h1v1h-1zM53 20h1v1h-1zM1 24h1v1h-1zM51 25h3v1h-3zM3 26h1v1h-1zM51 26h3v1h-3zM1 27h2v1h-2zM28 31h1v1h-1zM51 31h1v1h-1zM1 32h1v1h-1zM1 33h1v1h-1zM3 33h1v1h-1zM1 34h1v1h-1zM3 34h1v1h-1zM3 35h1v1h-1zM51 35h1v1h-1zM2 36h2v1h-2zM51 36h1v1h-1zM3 37h1v1h-1zM5 37h1v1h-1zM52 37h1v1h-1zM1 38h1v1h-1zM52 38h1v1h-1zM49 39h1v1h-1zM52 39h1v1h-1zM2 40h1v1h-1zM5 40h1v1h-1zM55 40h1v1h-1zM6 42h1v1h-1zM0 43h1v1h-1zM7 43h1v1h-1zM0 44h1v1h-1zM4 44h1v1h-1zM1 45h1v1h-1zM49 45h1v1h-1zM1 46h2v1h-2zM6 47h1v1h-1zM12 47h1v1h-1zM49 47h1v1h-1zM5 48h2v1h-2zM13 48h1v1h-1zM48 48h2v1h-2zM52 48h1v1h-1zM13 49h1v1h-1zM40 49h1v1h-1zM46 49h1v1h-1zM49 49h1v1h-1zM51 49h1v1h-1zM16 50h1v1h-1zM38 50h1v1h-1zM40 50h1v1h-1zM50 50h1v1h-1zM16 51h1v1h-1zM17 52h2v1h-2zM43 52h1v1h-1zM48 52h1v1h-1zM14 53h1v1h-1zM21 53h2v1h-2zM42 53h1v1h-1zM7 54h1v1h-1zM11 54h1v1h-1zM31 54h1v1h-1zM44 54h2v1h-2zM3 55h1v1h-1zM8 55h1v1h-1zM21 55h1v1h-1zM29 55h2v1h-2zM32 55h2v1h-2zM38 55h1v1h-1zM45 55h1v1h-1zM4 56h1v1h-1zM17 56h1v1h-1zM21 56h1v1h-1zM30 56h1v1h-1zM37 56h1v1h-1zM41 56h1v1h-1zM44 56h1v1h-1zM0 57h1v1h-1zM23 57h2v1h-2zM26 57h2v1h-2zM29 57h2v1h-2zM36 57h1v1h-1zM40 57h1v1h-1zM43 57h1v1h-1z"/><path fill="#360000" d="M45 0h1v1h-1zM3 4h1v1h-1zM0 5h2v1h-2zM53 6h1v1h-1zM54 8h1v1h-1zM55 22h1v1h-1zM55 25h1v1h-1zM28 30h1v1h-1zM55 47h1v1h-1zM2 51h1v1h-1zM51 51h2v1h-2zM4 53h1v1h-1zM49 53h1v1h-1zM49 54h1v1h-1z"/><path fill="#160000" d="M46 0h1v1h-1zM48 0h1v1h-1zM0 4h1v1h-1zM28 28h1v1h-1zM26 29h1v1h-1zM28 29h1v1h-1z"/><path fill="#000000" d="M47 0h1v1h-1zM27 28h1v1h-1z"/><path fill="#410000" d="M49 0h1v1h-1zM46 1h1v1h-1zM49 1h1v1h-1zM0 2h1v1h-1zM1 3h1v1h-1zM3 3h1v1h-1zM51 3h1v1h-1zM4 4h1v1h-1zM10 4h2v1h-2zM51 4h1v1h-1zM2 5h1v1h-1zM53 7h2v1h-2zM55 8h1v1h-1zM2 12h1v1h-1zM1 15h1v1h-1zM1 16h1v1h-1zM0 22h1v1h-1zM55 26h1v1h-1zM55 34h1v1h-1zM55 35h1v1h-1zM54 48h2v1h-2zM1 51h1v1h-1zM3 51h1v1h-1zM45 51h1v1h-1zM3 52h1v1h-1zM51 52h1v1h-1zM50 53h1v1h-1zM48 54h1v1h-1zM50 54h1v1h-1zM48 55h1v1h-1zM50 55h1v1h-1zM47 56h1v1h-1z"/><path fill="#2b0000" d="M47 1h2v1h-2zM0 3h1v1h-1zM2 4h1v1h-1zM26 28h1v1h-1zM26 30h1v1h-1zM51 55h1v1h-1zM2 57h1v1h-1z"/><path fill="#ad0000" d="M23 2h1v1h-1zM25 2h2v1h-2zM32 2h1v1h-1zM16 3h4v1h-4zM33 3h1v1h-1zM27 4h2v1h-2zM14 5h1v1h-1zM19 5h1v1h-1zM29 5h4v1h-4zM5 6h2v1h-2zM21 6h1v1h-1zM23 6h2v1h-2zM43 6h1v1h-1zM37 7h1v1h-1zM12 8h1v1h-1zM39 8h1v1h-1zM7 9h1v1h-1zM10 9h2v1h-2zM13 9h1v1h-1zM41 9h1v1h-1zM43 9h3v1h-3zM47 9h1v1h-1zM9 10h1v1h-1zM45 10h1v1h-1zM8 11h1v1h-1zM45 11h2v1h-2zM4 12h1v1h-1zM47 12h1v1h-1zM5 13h1v1h-1zM7 13h1v1h-1zM48 14h1v1h-1zM4 15h1v1h-1zM5 17h1v1h-1zM43 17h1v1h-1zM49 18h1v1h-1zM52 19h1v1h-1zM2 20h1v1h-1zM2 21h1v1h-1zM52 21h1v1h-1zM9 22h1v1h-1zM50 22h3v1h-3zM3 23h1v1h-1zM53 24h1v1h-1zM4 25h1v1h-1zM50 25h1v1h-1zM4 26h1v1h-1zM53 27h1v1h-1zM50 30h1v1h-1zM50 31h1v1h-1zM50 32h1v1h-1zM46 34h1v1h-1zM4 35h1v1h-1zM50 35h1v1h-1zM5 36h1v1h-1zM46 36h1v1h-1zM4 39h1v1h-1zM50 40h1v1h-1zM3 41h1v1h-1zM51 41h1v1h-1zM47 42h1v1h-1zM9 43h1v1h-1zM45 44h2v1h-2zM5 45h1v1h-1zM8 45h2v1h-2zM43 45h2v1h-2zM12 46h1v1h-1zM48 46h1v1h-1zM41 47h1v1h-1zM43 47h1v1h-1zM48 47h1v1h-1zM7 48h1v1h-1zM40 48h1v1h-1zM43 48h1v1h-1zM46 48h2v1h-2zM7 49h1v1h-1zM16 49h1v1h-1zM44 49h2v1h-2zM6 50h1v1h-1zM37 50h1v1h-1zM42 50h2v1h-2zM11 51h1v1h-1zM13 51h1v1h-1zM42 51h2v1h-2zM9 52h1v1h-1zM19 52h1v1h-1zM40 52h2v1h-2zM7 53h1v1h-1zM10 53h1v1h-1zM16 53h1v1h-1zM23 53h1v1h-1zM26 53h1v1h-1zM31 53h1v1h-1zM38 53h1v1h-1zM40 53h1v1h-1zM9 54h1v1h-1zM17 54h2v1h-2zM20 54h1v1h-1zM35 54h1v1h-1zM38 54h1v1h-1zM12 55h1v1h-1zM18 55h1v1h-1zM20 55h1v1h-1zM37 55h1v1h-1zM18 56h1v1h-1zM34 56h1v1h-1zM18 57h1v1h-1zM41 57h2v1h-2z"/><path fill="#b70000" d="M24 2h1v1h-1zM31 2h1v1h-1zM20 3h2v1h-2zM27 3h2v1h-2zM31 3h2v1h-2zM23 4h2v1h-2zM29 4h2v1h-2zM6 5h1v1h-1zM21 5h2v1h-2zM27 5h2v1h-2zM42 5h1v1h-1zM17 6h2v1h-2zM22 6h1v1h-1zM34 6h2v1h-2zM9 7h1v1h-1zM11 7h1v1h-1zM16 8h1v1h-1zM12 9h1v1h-1zM14 9h1v1h-1zM46 9h1v1h-1zM7 10h1v1h-1zM11 10h1v1h-1zM46 10h2v1h-2zM9 11h1v1h-1zM47 11h2v1h-2zM8 13h1v1h-1zM14 13h1v1h-1zM48 13h1v1h-1zM5 14h3v1h-3zM13 14h1v1h-1zM50 14h1v1h-1zM5 15h2v1h-2zM4 16h3v1h-3zM43 16h1v1h-1zM3 17h1v1h-1zM44 17h1v1h-1zM49 17h1v1h-1zM43 18h2v1h-2zM50 18h2v1h-2zM50 20h3v1h-3zM9 21h1v1h-1zM50 21h2v1h-2zM50 26h1v1h-1zM25 27h1v1h-1zM29 27h1v1h-1zM53 28h1v1h-1zM50 29h1v1h-1zM4 30h1v1h-1zM53 31h1v1h-1zM4 32h1v1h-1zM53 32h1v1h-1zM46 33h2v1h-2zM50 33h1v1h-1zM47 34h1v1h-1zM50 34h1v1h-1zM6 37h1v1h-1zM49 37h1v1h-1zM48 38h1v1h-1zM3 39h1v1h-1zM3 40h2v1h-2zM4 41h1v1h-1zM47 41h2v1h-2zM4 42h1v1h-1zM46 42h1v1h-1zM45 43h1v1h-1zM10 44h1v1h-1zM44 44h1v1h-1zM47 44h1v1h-1zM39 45h1v1h-1zM48 45h1v1h-1zM10 46h1v1h-1zM42 46h1v1h-1zM7 47h1v1h-1zM44 47h2v1h-2zM51 47h1v1h-1zM11 48h1v1h-1zM44 48h2v1h-2zM51 48h1v1h-1zM4 49h2v1h-2zM5 50h1v1h-1zM7 50h4v1h-4zM18 50h1v1h-1zM29 50h2v1h-2zM6 51h1v1h-1zM8 51h1v1h-1zM12 51h1v1h-1zM36 51h1v1h-1zM21 52h1v1h-1zM34 52h2v1h-2zM19 53h2v1h-2zM24 53h1v1h-1zM30 53h1v1h-1zM39 53h1v1h-1zM8 54h1v1h-1zM19 54h1v1h-1zM36 54h2v1h-2zM19 55h1v1h-1zM36 56h1v1h-1z"/><path fill="#c20000" d="M22 3h2v1h-2zM29 3h2v1h-2zM20 4h1v1h-1zM15 5h1v1h-1zM25 5h2v1h-2zM41 5h1v1h-1zM29 6h2v1h-2zM33 6h1v1h-1zM10 7h1v1h-1zM17 7h1v1h-1zM36 7h1v1h-1zM11 8h1v1h-1zM9 9h1v1h-1zM8 10h1v1h-1zM33 10h1v1h-1zM44 10h1v1h-1zM15 12h1v1h-1zM45 12h1v1h-1zM48 12h2v1h-2zM13 13h1v1h-1zM40 13h1v1h-1zM45 13h1v1h-1zM49 13h1v1h-1zM12 14h1v1h-1zM14 14h1v1h-1zM45 14h1v1h-1zM49 14h1v1h-1zM7 15h1v1h-1zM48 15h1v1h-1zM51 15h1v1h-1zM42 16h1v1h-1zM49 16h1v1h-1zM4 17h1v1h-1zM50 17h2v1h-2zM3 18h2v1h-2zM3 19h1v1h-1zM49 19h3v1h-3zM3 20h1v1h-1zM45 20h1v1h-1zM3 21h1v1h-1zM3 22h1v1h-1zM8 22h1v1h-1zM4 24h1v1h-1zM27 26h1v1h-1zM50 27h1v1h-1zM50 28h1v1h-1zM4 29h1v1h-1zM24 29h1v1h-1zM4 31h1v1h-1zM29 31h1v1h-1zM47 31h1v1h-1zM26 32h1v1h-1zM47 32h1v1h-1zM45 34h1v1h-1zM5 35h1v1h-1zM47 35h1v1h-1zM48 37h1v1h-1zM43 39h2v1h-2zM7 40h1v1h-1zM47 40h1v1h-1zM7 41h1v1h-1zM48 42h1v1h-1zM41 43h1v1h-1zM50 43h1v1h-1zM39 44h1v1h-1zM7 45h1v1h-1zM10 45h2v1h-2zM45 45h1v1h-1zM6 46h1v1h-1zM8 46h2v1h-2zM45 46h1v1h-1zM46 47h1v1h-1zM21 48h1v1h-1zM12 49h1v1h-1zM17 49h1v1h-1zM23 49h1v1h-1zM31 49h2v1h-2zM38 49h1v1h-1zM12 50h1v1h-1zM23 50h3v1h-3zM31 50h1v1h-1zM7 51h1v1h-1zM19 51h1v1h-1zM26 51h1v1h-1zM29 51h1v1h-1zM7 52h2v1h-2zM20 52h1v1h-1zM22 52h1v1h-1zM25 52h2v1h-2zM33 52h1v1h-1zM8 53h2v1h-2zM29 53h1v1h-1zM35 55h2v1h-2zM35 56h1v1h-1z"/><path fill="#cd0000" d="M24 3h3v1h-3zM15 4h1v1h-1zM19 4h1v1h-1zM21 4h2v1h-2zM25 4h2v1h-2zM16 5h3v1h-3zM25 6h1v1h-1zM41 6h2v1h-2zM21 7h1v1h-1zM8 8h1v1h-1zM10 8h1v1h-1zM8 9h1v1h-1zM12 10h1v1h-1zM32 10h1v1h-1zM34 10h1v1h-1zM44 11h1v1h-1zM9 12h1v1h-1zM16 12h1v1h-1zM33 14h1v1h-1zM42 15h2v1h-2zM47 15h1v1h-1zM49 15h1v1h-1zM7 16h1v1h-1zM48 16h1v1h-1zM48 17h1v1h-1zM48 18h1v1h-1zM4 19h2v1h-2zM44 19h2v1h-2zM4 20h1v1h-1zM49 20h1v1h-1zM8 21h1v1h-1zM49 21h1v1h-1zM4 23h1v1h-1zM49 23h1v1h-1zM49 24h1v1h-1zM26 26h1v1h-1zM28 26h1v1h-1zM30 29h1v1h-1zM47 29h1v1h-1zM47 30h1v1h-1zM27 32h1v1h-1zM46 32h1v1h-1zM6 36h1v1h-1zM44 36h1v1h-1zM47 36h1v1h-1zM49 36h1v1h-1zM45 37h1v1h-1zM47 37h1v1h-1zM47 38h1v1h-1zM7 39h1v1h-1zM47 39h1v1h-1zM43 40h1v1h-1zM46 41h1v1h-1zM49 41h2v1h-2zM8 42h1v1h-1zM40 42h2v1h-2zM45 42h1v1h-1zM50 42h1v1h-1zM10 43h1v1h-1zM40 43h1v1h-1zM44 43h1v1h-1zM48 43h1v1h-1zM40 44h1v1h-1zM43 44h1v1h-1zM48 44h2v1h-2zM38 45h1v1h-1zM40 45h1v1h-1zM46 45h2v1h-2zM7 46h1v1h-1zM13 46h1v1h-1zM36 46h1v1h-1zM39 46h1v1h-1zM46 46h2v1h-2zM8 47h1v1h-1zM10 47h1v1h-1zM14 47h1v1h-1zM40 47h1v1h-1zM47 47h1v1h-1zM8 48h1v1h-1zM15 48h1v1h-1zM22 48h1v1h-1zM39 48h1v1h-1zM8 49h4v1h-4zM18 49h1v1h-1zM21 49h2v1h-2zM30 49h1v1h-1zM33 49h1v1h-1zM11 50h1v1h-1zM22 50h1v1h-1zM26 50h1v1h-1zM28 50h1v1h-1zM22 51h1v1h-1zM25 51h1v1h-1zM27 51h2v1h-2zM30 51h1v1h-1zM27 53h1v1h-1z"/><path fill="#200000" d="M1 4h1v1h-1zM27 30h1v1h-1z"/><path fill="#e30000" d="M16 4h3v1h-3zM27 6h2v1h-2zM23 7h1v1h-1zM33 7h1v1h-1zM37 8h1v1h-1zM32 9h3v1h-3zM29 10h2v1h-2zM41 10h1v1h-1zM43 10h1v1h-1zM11 11h1v1h-1zM29 11h2v1h-2zM38 12h1v1h-1zM41 12h1v1h-1zM12 13h1v1h-1zM41 13h1v1h-1zM34 14h1v1h-1zM8 15h1v1h-1zM10 15h1v1h-1zM13 15h1v1h-1zM34 15h2v1h-2zM44 15h1v1h-1zM11 16h1v1h-1zM36 16h1v1h-1zM50 16h1v1h-1zM7 17h1v1h-1zM11 17h1v1h-1zM45 17h1v1h-1zM10 18h1v1h-1zM6 19h1v1h-1zM39 19h1v1h-1zM48 19h1v1h-1zM5 20h1v1h-1zM44 20h1v1h-1zM10 21h1v1h-1zM44 22h1v1h-1zM8 24h1v1h-1zM45 24h1v1h-1zM46 26h1v1h-1zM46 27h2v1h-2zM30 28h1v1h-1zM46 28h1v1h-1zM46 29h1v1h-1zM48 29h1v1h-1zM46 30h1v1h-1zM28 32h1v1h-1zM5 33h1v1h-1zM48 33h1v1h-1zM48 34h1v1h-1zM48 35h2v1h-2zM7 38h1v1h-1zM46 38h1v1h-1zM42 39h1v1h-1zM44 40h2v1h-2zM41 41h2v1h-2zM10 42h1v1h-1zM42 42h1v1h-1zM49 42h1v1h-1zM43 43h1v1h-1zM49 43h1v1h-1zM15 44h2v1h-2zM16 45h1v1h-1zM36 45h2v1h-2zM14 46h1v1h-1zM35 46h1v1h-1zM37 46h2v1h-2zM39 47h1v1h-1zM34 48h2v1h-2zM25 49h1v1h-1zM29 49h1v1h-1zM34 49h1v1h-1zM19 50h1v1h-1zM33 50h1v1h-1zM20 51h1v1h-1zM35 51h1v1h-1zM32 52h1v1h-1z"/><path fill="#d80000" d="M26 6h1v1h-1zM31 6h2v1h-2zM18 7h3v1h-3zM22 7h1v1h-1zM34 7h2v1h-2zM9 8h1v1h-1zM38 8h1v1h-1zM15 9h1v1h-1zM40 9h1v1h-1zM13 10h2v1h-2zM31 10h1v1h-1zM42 10h1v1h-1zM10 11h1v1h-1zM15 11h2v1h-2zM14 12h1v1h-1zM39 12h2v1h-2zM9 13h1v1h-1zM15 13h1v1h-1zM39 13h1v1h-1zM8 14h1v1h-1zM11 14h1v1h-1zM40 14h2v1h-2zM11 15h2v1h-2zM41 15h1v1h-1zM46 15h1v1h-1zM50 15h1v1h-1zM10 16h1v1h-1zM44 16h1v1h-1zM51 16h1v1h-1zM10 17h1v1h-1zM42 17h1v1h-1zM45 18h1v1h-1zM4 21h1v1h-1zM44 21h2v1h-2zM4 22h1v1h-1zM10 22h1v1h-1zM45 22h1v1h-1zM49 22h1v1h-1zM8 23h2v1h-2zM45 23h2v1h-2zM46 24h1v1h-1zM46 25h1v1h-1zM4 27h1v1h-1zM4 28h1v1h-1zM24 28h1v1h-1zM47 28h1v1h-1zM49 29h1v1h-1zM24 30h1v1h-1zM30 30h1v1h-1zM48 30h2v1h-2zM46 31h1v1h-1zM48 31h2v1h-2zM48 32h2v1h-2zM45 33h1v1h-1zM5 34h1v1h-1zM6 35h1v1h-1zM44 35h1v1h-1zM48 36h1v1h-1zM44 37h1v1h-1zM46 37h1v1h-1zM44 38h2v1h-2zM45 39h2v1h-2zM42 40h1v1h-1zM46 40h1v1h-1zM9 42h1v1h-1zM39 43h1v1h-1zM42 43h1v1h-1zM38 44h1v1h-1zM41 44h2v1h-2zM6 45h1v1h-1zM12 45h1v1h-1zM42 45h1v1h-1zM40 46h2v1h-2zM9 47h1v1h-1zM35 47h2v1h-2zM9 48h2v1h-2zM24 49h1v1h-1zM37 49h1v1h-1zM21 50h1v1h-1zM27 50h1v1h-1zM32 50h1v1h-1zM21 51h1v1h-1zM23 51h2v1h-2zM23 52h2v1h-2zM27 52h4v1h-4zM28 53h1v1h-1z"/><path fill="#ed0000" d="M24 7h1v1h-1zM32 7h1v1h-1zM36 8h1v1h-1zM16 9h1v1h-1zM31 9h1v1h-1zM39 9h1v1h-1zM15 10h1v1h-1zM27 10h2v1h-2zM35 10h1v1h-1zM12 11h1v1h-1zM14 11h1v1h-1zM25 11h1v1h-1zM31 11h3v1h-3zM38 11h4v1h-4zM43 11h1v1h-1zM13 12h1v1h-1zM44 12h1v1h-1zM38 13h1v1h-1zM9 14h2v1h-2zM23 14h1v1h-1zM32 14h1v1h-1zM39 14h1v1h-1zM42 14h1v1h-1zM9 15h1v1h-1zM21 15h2v1h-2zM33 15h1v1h-1zM40 15h1v1h-1zM45 15h1v1h-1zM8 16h1v1h-1zM35 16h1v1h-1zM41 16h1v1h-1zM47 16h1v1h-1zM47 17h1v1h-1zM7 18h1v1h-1zM9 18h1v1h-1zM39 18h1v1h-1zM9 20h1v1h-1zM46 20h1v1h-1zM5 21h1v1h-1zM46 21h1v1h-1zM46 22h1v1h-1zM5 23h1v1h-1zM48 23h1v1h-1zM5 24h1v1h-1zM9 24h1v1h-1zM47 24h1v1h-1zM8 25h1v1h-1zM45 25h1v1h-1zM47 25h1v1h-1zM49 25h1v1h-1zM47 26h1v1h-1zM12 28h1v1h-1zM49 28h1v1h-1zM8 29h1v1h-1zM12 29h1v1h-1zM12 30h1v1h-1zM8 33h1v1h-1zM49 33h1v1h-1zM8 34h1v1h-1zM44 34h1v1h-1zM49 34h1v1h-1zM7 36h1v1h-1zM7 37h1v1h-1zM43 38h1v1h-1zM38 39h1v1h-1zM37 40h1v1h-1zM40 41h1v1h-1zM45 41h1v1h-1zM39 42h1v1h-1zM11 44h1v1h-1zM13 45h3v1h-3zM17 45h1v1h-1zM41 45h1v1h-1zM17 46h1v1h-1zM21 47h1v1h-1zM16 48h5v1h-5zM33 48h1v1h-1zM36 48h1v1h-1zM38 48h1v1h-1zM19 49h2v1h-2zM20 50h1v1h-1zM36 50h1v1h-1zM31 52h1v1h-1z"/><path fill="#f80000" d="M25 7h1v1h-1zM29 7h3v1h-3zM17 8h1v1h-1zM21 8h2v1h-2zM31 8h2v1h-2zM34 8h2v1h-2zM30 9h1v1h-1zM35 9h1v1h-1zM16 10h2v1h-2zM24 10h1v1h-1zM26 10h1v1h-1zM36 10h1v1h-1zM40 10h1v1h-1zM13 11h1v1h-1zM17 11h1v1h-1zM19 11h2v1h-2zM23 11h2v1h-2zM26 11h1v1h-1zM28 11h1v1h-1zM34 11h4v1h-4zM42 11h1v1h-1zM12 12h1v1h-1zM29 12h2v1h-2zM10 13h2v1h-2zM16 13h1v1h-1zM44 13h1v1h-1zM30 14h2v1h-2zM43 14h2v1h-2zM23 15h1v1h-1zM36 15h1v1h-1zM9 16h1v1h-1zM12 16h1v1h-1zM37 16h1v1h-1zM45 16h2v1h-2zM9 17h1v1h-1zM37 17h3v1h-3zM46 17h1v1h-1zM42 18h1v1h-1zM46 18h2v1h-2zM9 19h1v1h-1zM15 19h1v1h-1zM40 19h1v1h-1zM43 19h1v1h-1zM46 19h1v1h-1zM6 20h1v1h-1zM8 20h1v1h-1zM39 20h2v1h-2zM48 20h1v1h-1zM7 21h1v1h-1zM43 21h1v1h-1zM48 21h1v1h-1zM5 22h1v1h-1zM7 22h1v1h-1zM48 22h1v1h-1zM7 23h1v1h-1zM47 23h1v1h-1zM48 24h1v1h-1zM5 25h1v1h-1zM8 26h1v1h-1zM25 26h1v1h-1zM29 26h1v1h-1zM45 26h1v1h-1zM49 26h1v1h-1zM8 27h1v1h-1zM49 27h1v1h-1zM8 28h1v1h-1zM48 28h1v1h-1zM5 30h1v1h-1zM8 30h1v1h-1zM5 32h1v1h-1zM25 32h1v1h-1zM45 32h1v1h-1zM7 34h1v1h-1zM7 35h2v1h-2zM41 35h1v1h-1zM8 36h1v1h-1zM8 37h1v1h-1zM37 39h1v1h-1zM8 40h1v1h-1zM11 40h1v1h-1zM38 40h1v1h-1zM41 40h1v1h-1zM8 41h1v1h-1zM10 41h1v1h-1zM43 41h1v1h-1zM43 42h2v1h-2zM15 43h1v1h-1zM38 43h1v1h-1zM37 44h1v1h-1zM35 45h1v1h-1zM15 46h2v1h-2zM18 46h1v1h-1zM15 47h1v1h-1zM18 47h1v1h-1zM34 47h1v1h-1zM37 47h1v1h-1zM23 48h1v1h-1zM32 48h1v1h-1zM37 48h1v1h-1zM26 49h1v1h-1zM28 49h1v1h-1zM34 50h1v1h-1zM31 51h1v1h-1zM33 51h2v1h-2z"/><path fill="#ff0400" d="M26 7h3v1h-3zM33 8h1v1h-1zM28 9h2v1h-2zM36 9h1v1h-1zM18 10h1v1h-1zM23 10h1v1h-1zM25 10h1v1h-1zM39 10h1v1h-1zM21 11h2v1h-2zM27 11h1v1h-1zM10 12h2v1h-2zM17 12h1v1h-1zM25 12h1v1h-1zM37 12h1v1h-1zM42 12h2v1h-2zM29 13h2v1h-2zM33 13h1v1h-1zM42 13h1v1h-1zM15 14h1v1h-1zM22 14h1v1h-1zM24 14h1v1h-1zM29 14h1v1h-1zM14 15h1v1h-1zM32 15h1v1h-1zM39 15h1v1h-1zM21 16h2v1h-2zM38 16h3v1h-3zM8 17h1v1h-1zM36 17h1v1h-1zM11 18h1v1h-1zM38 18h1v1h-1zM7 19h1v1h-1zM10 19h1v1h-1zM16 19h1v1h-1zM15 20h1v1h-1zM41 22h1v1h-1zM43 22h1v1h-1zM47 22h1v1h-1zM10 23h1v1h-1zM41 23h1v1h-1zM7 24h1v1h-1zM48 25h1v1h-1zM5 26h1v1h-1zM48 26h1v1h-1zM12 27h1v1h-1zM24 27h1v1h-1zM42 27h1v1h-1zM45 27h1v1h-1zM48 27h1v1h-1zM5 29h1v1h-1zM7 29h1v1h-1zM7 30h1v1h-1zM5 31h1v1h-1zM7 33h1v1h-1zM44 33h1v1h-1zM6 34h1v1h-1zM41 36h1v1h-1zM43 37h1v1h-1zM8 38h1v1h-1zM42 38h1v1h-1zM8 39h1v1h-1zM39 39h1v1h-1zM12 40h1v1h-1zM40 40h1v1h-1zM9 41h1v1h-1zM11 41h2v1h-2zM39 41h1v1h-1zM44 41h1v1h-1zM11 42h1v1h-1zM11 43h1v1h-1zM16 43h1v1h-1zM34 43h2v1h-2zM36 44h1v1h-1zM17 47h1v1h-1zM19 47h1v1h-1zM22 47h1v1h-1zM38 47h1v1h-1zM27 49h1v1h-1zM36 49h1v1h-1zM35 50h1v1h-1zM32 51h1v1h-1z"/><path fill="#ff0f00" d="M18 8h1v1h-1zM23 8h1v1h-1zM29 8h2v1h-2zM17 9h1v1h-1zM27 9h1v1h-1zM38 9h1v1h-1zM19 10h2v1h-2zM38 10h1v1h-1zM18 11h1v1h-1zM20 12h1v1h-1zM23 12h2v1h-2zM26 12h1v1h-1zM31 12h1v1h-1zM36 12h1v1h-1zM23 13h2v1h-2zM31 13h2v1h-2zM43 13h1v1h-1zM28 14h1v1h-1zM35 14h1v1h-1zM38 14h1v1h-1zM20 15h1v1h-1zM24 15h1v1h-1zM30 15h2v1h-2zM37 15h1v1h-1zM13 16h1v1h-1zM20 16h1v1h-1zM12 17h1v1h-1zM40 17h2v1h-2zM8 18h1v1h-1zM15 18h2v1h-2zM40 18h1v1h-1zM8 19h1v1h-1zM38 19h1v1h-1zM47 19h1v1h-1zM7 20h1v1h-1zM10 20h1v1h-1zM43 20h1v1h-1zM6 21h1v1h-1zM41 21h1v1h-1zM47 21h1v1h-1zM42 22h1v1h-1zM6 23h1v1h-1zM44 23h1v1h-1zM6 24h1v1h-1zM41 24h1v1h-1zM7 25h1v1h-1zM9 25h1v1h-1zM7 26h1v1h-1zM42 26h1v1h-1zM30 27h1v1h-1zM42 28h1v1h-1zM45 28h1v1h-1zM11 29h1v1h-1zM8 31h1v1h-1zM12 31h1v1h-1zM30 31h1v1h-1zM42 31h1v1h-1zM45 31h1v1h-1zM8 32h1v1h-1zM42 32h1v1h-1zM6 33h1v1h-1zM42 33h2v1h-2zM41 34h3v1h-3zM42 35h1v1h-1zM9 36h1v1h-1zM43 36h1v1h-1zM9 37h1v1h-1zM9 38h1v1h-1zM11 39h1v1h-1zM41 39h1v1h-1zM9 40h2v1h-2zM18 40h1v1h-1zM39 40h1v1h-1zM18 41h1v1h-1zM12 42h2v1h-2zM21 42h1v1h-1zM35 42h1v1h-1zM38 42h1v1h-1zM33 43h1v1h-1zM36 43h1v1h-1zM12 44h3v1h-3zM17 44h1v1h-1zM33 44h1v1h-1zM35 44h1v1h-1zM18 45h1v1h-1zM34 46h1v1h-1zM16 47h1v1h-1zM20 47h1v1h-1zM31 48h1v1h-1zM35 49h1v1h-1z"/><path fill="#ff1a00" d="M19 8h2v1h-2zM24 8h3v1h-3zM28 8h1v1h-1zM18 9h1v1h-1zM21 9h6v1h-6zM37 9h1v1h-1zM21 10h2v1h-2zM37 10h1v1h-1zM19 12h1v1h-1zM21 12h2v1h-2zM32 12h1v1h-1zM35 12h1v1h-1zM28 13h1v1h-1zM34 13h1v1h-1zM37 13h1v1h-1zM21 14h1v1h-1zM37 14h1v1h-1zM29 15h1v1h-1zM38 15h1v1h-1zM19 16h1v1h-1zM34 16h1v1h-1zM17 17h1v1h-1zM35 17h1v1h-1zM17 18h1v1h-1zM37 18h1v1h-1zM41 18h1v1h-1zM14 19h1v1h-1zM42 19h1v1h-1zM14 20h1v1h-1zM16 20h1v1h-1zM47 20h1v1h-1zM15 21h1v1h-1zM40 21h1v1h-1zM42 21h1v1h-1zM6 22h1v1h-1zM42 23h1v1h-1zM42 24h1v1h-1zM44 24h1v1h-1zM26 25h3v1h-3zM42 25h1v1h-1zM44 25h1v1h-1zM9 26h1v1h-1zM43 26h2v1h-2zM7 27h1v1h-1zM9 27h1v1h-1zM41 27h1v1h-1zM7 28h1v1h-1zM9 28h1v1h-1zM11 28h1v1h-1zM9 29h1v1h-1zM45 29h1v1h-1zM11 30h1v1h-1zM45 30h1v1h-1zM7 31h1v1h-1zM7 32h1v1h-1zM29 32h1v1h-1zM41 32h1v1h-1zM13 33h1v1h-1zM41 33h1v1h-1zM9 34h1v1h-1zM9 35h1v1h-1zM43 35h1v1h-1zM40 36h1v1h-1zM42 36h1v1h-1zM15 37h2v1h-2zM40 37h3v1h-3zM16 38h1v1h-1zM39 38h1v1h-1zM41 38h1v1h-1zM9 39h2v1h-2zM17 39h2v1h-2zM40 39h1v1h-1zM17 40h1v1h-1zM36 40h1v1h-1zM13 41h1v1h-1zM37 41h2v1h-2zM14 42h1v1h-1zM22 42h1v1h-1zM36 42h1v1h-1zM12 43h3v1h-3zM21 43h2v1h-2zM37 43h1v1h-1zM32 44h1v1h-1zM34 44h1v1h-1zM34 45h1v1h-1zM19 46h1v1h-1zM33 47h1v1h-1zM24 48h1v1h-1zM30 48h1v1h-1z"/><path fill="#ff2400" d="M27 8h1v1h-1zM19 9h2v1h-2zM27 12h2v1h-2zM33 12h2v1h-2zM22 13h1v1h-1zM27 13h1v1h-1zM27 14h1v1h-1zM36 14h1v1h-1zM19 15h1v1h-1zM25 15h1v1h-1zM28 15h1v1h-1zM18 16h1v1h-1zM23 16h1v1h-1zM13 17h1v1h-1zM16 17h1v1h-1zM18 17h2v1h-2zM14 18h1v1h-1zM11 19h1v1h-1zM17 19h1v1h-1zM41 19h1v1h-1zM41 20h1v1h-1zM14 21h1v1h-1zM16 21h1v1h-1zM11 22h1v1h-1zM13 23h1v1h-1zM10 24h1v1h-1zM6 25h1v1h-1zM29 25h1v1h-1zM41 25h1v1h-1zM43 25h1v1h-1zM30 26h1v1h-1zM5 27h1v1h-1zM11 27h1v1h-1zM43 27h1v1h-1zM5 28h1v1h-1zM41 28h1v1h-1zM43 28h1v1h-1zM6 29h1v1h-1zM13 29h1v1h-1zM23 29h1v1h-1zM31 29h1v1h-1zM42 29h1v1h-1zM6 30h1v1h-1zM9 30h1v1h-1zM13 30h1v1h-1zM42 30h1v1h-1zM6 31h1v1h-1zM13 31h1v1h-1zM24 31h1v1h-1zM41 31h1v1h-1zM6 32h1v1h-1zM12 32h2v1h-2zM43 32h2v1h-2zM9 33h1v1h-1zM12 33h1v1h-1zM13 34h1v1h-1zM14 35h1v1h-1zM40 35h1v1h-1zM14 36h2v1h-2zM10 38h1v1h-1zM15 38h1v1h-1zM17 38h1v1h-1zM40 38h1v1h-1zM12 39h1v1h-1zM19 40h1v1h-1zM19 41h1v1h-1zM21 41h1v1h-1zM36 41h1v1h-1zM20 42h1v1h-1zM34 42h1v1h-1zM37 42h1v1h-1zM32 43h1v1h-1zM33 45h1v1h-1zM25 48h1v1h-1z"/><path fill="#ff2f00" d="M18 12h1v1h-1zM17 13h1v1h-1zM21 13h1v1h-1zM25 13h1v1h-1zM35 13h2v1h-2zM16 14h1v1h-1zM26 15h2v1h-2zM14 16h1v1h-1zM17 16h1v1h-1zM33 16h1v1h-1zM14 17h2v1h-2zM20 17h1v1h-1zM12 18h1v1h-1zM18 18h1v1h-1zM36 18h1v1h-1zM38 20h1v1h-1zM42 20h1v1h-1zM11 21h1v1h-1zM13 22h3v1h-3zM40 23h1v1h-1zM43 23h1v1h-1zM13 24h1v1h-1zM12 25h1v1h-1zM6 26h1v1h-1zM12 26h1v1h-1zM41 26h1v1h-1zM44 27h1v1h-1zM13 28h1v1h-1zM23 28h1v1h-1zM44 28h1v1h-1zM43 29h1v1h-1zM23 30h1v1h-1zM31 30h1v1h-1zM43 30h1v1h-1zM9 31h1v1h-1zM11 31h1v1h-1zM43 31h1v1h-1zM9 32h1v1h-1zM14 34h1v1h-1zM40 34h1v1h-1zM13 35h1v1h-1zM10 37h1v1h-1zM14 37h1v1h-1zM39 37h1v1h-1zM38 38h1v1h-1zM16 39h1v1h-1zM36 39h1v1h-1zM21 40h1v1h-1zM17 41h1v1h-1zM20 41h1v1h-1zM22 41h1v1h-1zM35 41h1v1h-1zM18 42h2v1h-2zM20 43h1v1h-1zM31 44h1v1h-1zM32 45h1v1h-1zM33 46h1v1h-1zM26 48h1v1h-1zM29 48h1v1h-1z"/><path fill="#ff5000" d="M18 13h2v1h-2zM17 14h1v1h-1zM16 15h2v1h-2zM26 16h1v1h-1zM30 16h2v1h-2zM20 18h1v1h-1zM35 18h1v1h-1zM12 20h1v1h-1zM12 21h1v1h-1zM39 21h1v1h-1zM16 23h1v1h-1zM11 25h1v1h-1zM30 25h1v1h-1zM10 26h1v1h-1zM6 27h1v1h-1zM31 27h1v1h-1zM40 30h1v1h-1zM31 31h1v1h-1zM10 32h1v1h-1zM11 33h1v1h-1zM39 34h1v1h-1zM10 35h1v1h-1zM12 35h1v1h-1zM39 35h1v1h-1zM14 38h1v1h-1zM37 38h1v1h-1zM15 39h1v1h-1zM16 42h1v1h-1zM24 42h2v1h-2zM32 42h1v1h-1zM18 43h1v1h-1zM26 43h1v1h-1zM28 43h1v1h-1zM21 44h1v1h-1zM28 44h1v1h-1zM29 45h1v1h-1zM21 46h1v1h-1zM27 46h5v1h-5zM27 47h5v1h-5z"/><path fill="#ff4500" d="M20 13h1v1h-1zM26 14h1v1h-1zM15 16h2v1h-2zM24 16h2v1h-2zM32 16h1v1h-1zM22 17h1v1h-1zM19 18h1v1h-1zM12 19h2v1h-2zM18 19h1v1h-1zM13 20h1v1h-1zM17 21h1v1h-1zM11 24h1v1h-1zM14 24h1v1h-1zM10 25h1v1h-1zM25 25h1v1h-1zM40 25h1v1h-1zM11 26h1v1h-1zM13 26h1v1h-1zM24 26h1v1h-1zM6 28h1v1h-1zM10 29h1v1h-1zM41 29h1v1h-1zM44 29h1v1h-1zM10 30h1v1h-1zM41 30h1v1h-1zM10 31h1v1h-1zM40 31h1v1h-1zM11 32h1v1h-1zM14 32h1v1h-1zM30 32h1v1h-1zM28 33h1v1h-1zM15 34h1v1h-1zM10 36h1v1h-1zM13 36h1v1h-1zM16 36h1v1h-1zM17 37h1v1h-1zM18 38h1v1h-1zM19 39h1v1h-1zM16 40h1v1h-1zM22 40h1v1h-1zM35 40h1v1h-1zM23 41h1v1h-1zM34 41h1v1h-1zM17 42h1v1h-1zM19 43h1v1h-1zM24 43h2v1h-2zM27 43h1v1h-1zM31 43h1v1h-1zM22 44h1v1h-1zM26 44h2v1h-2zM30 44h1v1h-1zM19 45h1v1h-1zM24 45h1v1h-1zM26 45h1v1h-1zM30 45h1v1h-1zM20 46h1v1h-1zM25 46h2v1h-2zM32 46h1v1h-1zM23 47h1v1h-1zM25 47h2v1h-2z"/><path fill="#ff3a00" d="M26 13h1v1h-1zM20 14h1v1h-1zM25 14h1v1h-1zM15 15h1v1h-1zM18 15h1v1h-1zM21 17h1v1h-1zM13 18h1v1h-1zM37 19h1v1h-1zM11 20h1v1h-1zM17 20h1v1h-1zM13 21h1v1h-1zM12 22h1v1h-1zM16 22h1v1h-1zM40 22h1v1h-1zM11 23h2v1h-2zM14 23h2v1h-2zM12 24h1v1h-1zM40 24h1v1h-1zM43 24h1v1h-1zM13 25h1v1h-1zM10 27h1v1h-1zM13 27h1v1h-1zM10 28h1v1h-1zM31 28h1v1h-1zM44 30h1v1h-1zM44 31h1v1h-1zM40 32h1v1h-1zM14 33h1v1h-1zM26 33h2v1h-2zM40 33h1v1h-1zM12 34h1v1h-1zM15 35h1v1h-1zM39 36h1v1h-1zM11 38h1v1h-1zM13 40h1v1h-1zM20 40h1v1h-1zM14 41h1v1h-1zM15 42h1v1h-1zM23 42h1v1h-1zM33 42h1v1h-1zM17 43h1v1h-1zM23 43h1v1h-1zM18 44h1v1h-1zM23 44h3v1h-3zM25 45h1v1h-1zM31 45h1v1h-1zM32 47h1v1h-1zM27 48h2v1h-2z"/><path fill="#ff6500" d="M18 14h1v1h-1zM27 16h2v1h-2zM21 18h1v1h-1zM36 19h1v1h-1zM37 20h1v1h-1zM17 22h1v1h-1zM16 24h1v1h-1zM31 26h1v1h-1zM14 29h1v1h-1zM14 30h1v1h-1zM39 31h1v1h-1zM24 32h1v1h-1zM11 34h1v1h-1zM11 35h1v1h-1zM16 35h1v1h-1zM38 35h1v1h-1zM11 36h1v1h-1zM13 37h1v1h-1zM19 38h1v1h-1zM36 38h1v1h-1zM13 39h1v1h-1zM21 39h1v1h-1zM14 40h2v1h-2zM15 41h2v1h-2zM24 41h1v1h-1zM33 41h1v1h-1zM27 42h2v1h-2zM31 42h1v1h-1zM29 43h1v1h-1zM20 44h1v1h-1zM22 46h2v1h-2z"/><path fill="#ff5a00" d="M19 14h1v1h-1zM29 16h1v1h-1zM34 17h1v1h-1zM18 20h1v1h-1zM15 24h1v1h-1zM29 24h1v1h-1zM14 25h1v1h-1zM40 26h1v1h-1zM23 27h1v1h-1zM40 27h1v1h-1zM40 28h1v1h-1zM40 29h1v1h-1zM14 31h1v1h-1zM39 32h1v1h-1zM10 33h1v1h-1zM15 33h1v1h-1zM25 33h1v1h-1zM29 33h1v1h-1zM39 33h1v1h-1zM10 34h1v1h-1zM38 36h1v1h-1zM11 37h1v1h-1zM38 37h1v1h-1zM12 38h1v1h-1zM20 39h1v1h-1zM26 42h1v1h-1zM30 43h1v1h-1zM19 44h1v1h-1zM29 44h1v1h-1zM23 45h1v1h-1zM27 45h2v1h-2zM24 46h1v1h-1zM24 47h1v1h-1z"/><path fill="#ff7000" d="M23 17h1v1h-1zM19 19h1v1h-1zM18 21h1v1h-1zM39 23h1v1h-1zM28 24h1v1h-1zM30 24h1v1h-1zM14 26h1v1h-1zM14 27h1v1h-1zM14 28h1v1h-1zM39 30h1v1h-1zM23 31h1v1h-1zM38 34h1v1h-1zM12 36h1v1h-1zM17 36h1v1h-1zM12 37h1v1h-1zM18 37h1v1h-1zM13 38h1v1h-1zM14 39h1v1h-1zM35 39h1v1h-1zM23 40h1v1h-1zM25 41h1v1h-1zM30 42h1v1h-1zM20 45h1v1h-1z"/><path fill="#ff9000" d="M24 17h2v1h-2zM30 17h1v1h-1zM21 19h1v1h-1zM19 20h1v1h-1zM18 22h1v1h-1zM17 23h1v1h-1zM16 25h1v1h-1zM24 25h1v1h-1zM39 25h1v1h-1zM15 26h1v1h-1zM15 27h1v1h-1zM22 28h1v1h-1zM32 28h1v1h-1zM39 28h1v1h-1zM22 29h1v1h-1zM32 29h1v1h-1zM38 30h1v1h-1zM15 31h1v1h-1zM38 31h1v1h-1zM16 33h1v1h-1zM27 34h1v1h-1zM36 37h1v1h-1zM20 38h1v1h-1zM35 38h1v1h-1zM33 40h1v1h-1zM29 41h2v1h-2z"/><path fill="#ffa600" d="M26 17h1v1h-1zM29 17h1v1h-1zM23 18h1v1h-1zM22 19h1v1h-1zM19 21h1v1h-1zM29 23h1v1h-1zM17 24h1v1h-1zM31 24h1v1h-1zM16 26h1v1h-1zM23 26h1v1h-1zM32 26h1v1h-1zM37 33h1v1h-1zM26 34h1v1h-1zM29 34h1v1h-1zM18 36h1v1h-1zM34 39h1v1h-1zM31 40h1v1h-1z"/><path fill="#ffbc00" d="M27 17h1v1h-1zM23 19h1v1h-1zM21 20h1v1h-1zM18 23h1v1h-1zM38 23h1v1h-1zM32 24h1v1h-1zM22 27h1v1h-1zM16 28h1v1h-1zM37 30h1v1h-1zM37 31h1v1h-1zM16 32h1v1h-1zM23 32h1v1h-1zM31 33h1v1h-1zM17 34h1v1h-1zM21 38h1v1h-1zM27 40h1v1h-1z"/><path fill="#ffb100" d="M28 17h1v1h-1zM20 20h1v1h-1zM37 21h1v1h-1zM38 22h1v1h-1zM25 24h1v1h-1zM32 25h1v1h-1zM16 27h1v1h-1zM16 29h1v1h-1zM38 29h1v1h-1zM16 30h1v1h-1zM32 31h1v1h-1zM37 32h1v1h-1zM24 33h1v1h-1zM36 35h1v1h-1zM35 37h1v1h-1zM23 39h1v1h-1zM28 40h1v1h-1z"/><path fill="#ff8600" d="M31 17h1v1h-1zM22 18h1v1h-1zM20 19h1v1h-1zM26 24h1v1h-1zM31 25h1v1h-1zM15 29h1v1h-1zM15 30h1v1h-1zM31 32h1v1h-1zM38 32h1v1h-1zM30 33h1v1h-1zM38 33h1v1h-1zM37 35h1v1h-1zM37 37h1v1h-1zM22 39h1v1h-1zM26 41h3v1h-3zM31 41h1v1h-1zM21 45h1v1h-1z"/><path fill="#ff7b00" d="M32 17h2v1h-2zM38 21h1v1h-1zM39 22h1v1h-1zM27 24h1v1h-1zM39 24h1v1h-1zM15 25h1v1h-1zM39 29h1v1h-1zM15 32h1v1h-1zM16 34h1v1h-1zM37 36h1v1h-1zM34 40h1v1h-1zM32 41h1v1h-1zM29 42h1v1h-1zM22 45h1v1h-1z"/><path fill="#ffc600" d="M24 18h2v1h-2zM32 18h1v1h-1zM36 21h1v1h-1zM19 22h1v1h-1zM28 23h1v1h-1zM31 23h1v1h-1zM17 25h1v1h-1zM17 27h1v1h-1zM22 31h1v1h-1zM36 33h1v1h-1zM36 34h1v1h-1zM20 37h1v1h-1zM34 38h1v1h-1zM33 39h1v1h-1zM25 40h1v1h-1zM29 40h2v1h-2z"/><path fill="#ffdc00" d="M26 18h1v1h-1zM30 18h1v1h-1zM24 19h1v1h-1zM34 19h1v1h-1zM21 21h1v1h-1zM27 23h1v1h-1zM18 27h1v1h-1zM37 29h1v1h-1zM36 30h1v1h-1zM36 31h1v1h-1zM18 35h1v1h-1zM27 35h1v1h-1zM35 35h1v1h-1zM22 38h1v1h-1zM24 39h1v1h-1zM28 39h1v1h-1zM26 40h1v1h-1z"/><path fill="#fffc00" d="M27 18h2v1h-2zM26 19h1v1h-1zM24 20h1v1h-1zM36 22h1v1h-1zM19 24h1v1h-1zM19 26h1v1h-1zM33 26h1v1h-1zM21 27h1v1h-1zM34 28h1v1h-1zM33 30h1v1h-1zM35 30h1v1h-1zM17 31h1v1h-1zM22 32h1v1h-1zM35 32h1v1h-1zM23 33h1v1h-1zM18 34h1v1h-1zM34 35h1v1h-1zM20 36h1v1h-1zM28 36h1v1h-1zM30 36h1v1h-1zM21 37h1v1h-1zM30 37h1v1h-1zM28 38h1v1h-1zM29 39h1v1h-1z"/><path fill="#ffe700" d="M29 18h1v1h-1zM23 20h1v1h-1zM35 21h1v1h-1zM30 22h2v1h-2zM37 22h1v1h-1zM26 23h1v1h-1zM33 23h1v1h-1zM24 24h1v1h-1zM18 25h1v1h-1zM23 25h1v1h-1zM38 25h1v1h-1zM18 26h1v1h-1zM38 26h1v1h-1zM38 27h1v1h-1zM18 28h1v1h-1zM21 28h1v1h-1zM17 29h1v1h-1zM21 29h1v1h-1zM35 34h1v1h-1zM34 37h1v1h-1zM27 39h1v1h-1z"/><path fill="#ffd100" d="M31 18h1v1h-1zM33 18h1v1h-1zM22 20h1v1h-1zM35 20h1v1h-1zM20 21h1v1h-1zM32 23h1v1h-1zM18 24h1v1h-1zM33 24h1v1h-1zM38 24h1v1h-1zM17 26h1v1h-1zM33 27h1v1h-1zM17 28h1v1h-1zM33 28h1v1h-1zM38 28h1v1h-1zM16 31h1v1h-1zM32 32h1v1h-1zM36 32h1v1h-1zM17 33h1v1h-1zM25 34h1v1h-1zM30 34h1v1h-1zM28 35h2v1h-2zM19 36h1v1h-1zM35 36h1v1h-1zM31 39h2v1h-2z"/><path fill="#ff9b00" d="M34 18h1v1h-1zM35 19h1v1h-1zM36 20h1v1h-1zM30 23h1v1h-1zM39 26h1v1h-1zM32 27h1v1h-1zM39 27h1v1h-1zM15 28h1v1h-1zM22 30h1v1h-1zM32 30h1v1h-1zM28 34h1v1h-1zM37 34h1v1h-1zM17 35h1v1h-1zM36 36h1v1h-1zM19 37h1v1h-1zM24 40h1v1h-1zM32 40h1v1h-1z"/><path fill="#fff200" d="M25 19h1v1h-1zM22 21h1v1h-1zM20 22h2v1h-2zM29 22h1v1h-1zM32 22h1v1h-1zM19 23h1v1h-1zM19 25h1v1h-1zM33 25h1v1h-1zM22 26h1v1h-1zM33 29h1v1h-1zM36 29h1v1h-1zM17 30h1v1h-1zM21 30h1v1h-1zM17 32h1v1h-1zM32 33h4v1h-4zM31 34h1v1h-1zM33 34h2v1h-2zM30 35h1v1h-1zM29 36h1v1h-1zM34 36h1v1h-1zM29 37h1v1h-1zM23 38h1v1h-1zM29 38h5v1h-5zM30 39h1v1h-1z"/><path fill="#ffff1c" d="M27 19h1v1h-1zM31 19h1v1h-1zM33 19h1v1h-1zM25 20h1v1h-1zM23 21h1v1h-1zM31 21h2v1h-2zM34 21h1v1h-1zM34 22h1v1h-1zM20 23h1v1h-1zM34 24h1v1h-1zM20 25h1v1h-1zM20 26h1v1h-1zM19 28h1v1h-1zM35 28h2v1h-2zM34 31h1v1h-1zM18 33h1v1h-1zM24 34h1v1h-1zM26 35h1v1h-1zM31 35h1v1h-1zM33 35h1v1h-1zM27 36h1v1h-1zM33 36h1v1h-1zM27 37h1v1h-1zM33 37h1v1h-1zM25 38h2v1h-2zM25 39h2v1h-2z"/><path fill="#ffff2d" d="M28 19h1v1h-1zM26 20h1v1h-1zM30 21h1v1h-1zM27 22h1v1h-1zM21 23h2v1h-2zM23 24h1v1h-1zM37 24h1v1h-1zM21 25h2v1h-2zM21 26h1v1h-1zM20 27h1v1h-1zM20 28h1v1h-1zM34 29h1v1h-1zM18 30h1v1h-1zM34 30h1v1h-1zM21 31h1v1h-1zM32 35h1v1h-1zM31 36h1v1h-1zM26 37h1v1h-1z"/><path fill="#ffff3d" d="M29 19h2v1h-2zM27 20h2v1h-2zM31 20h2v1h-2zM24 21h1v1h-1zM28 21h2v1h-2zM33 21h1v1h-1zM23 22h1v1h-1zM23 23h2v1h-2zM20 24h3v1h-3zM34 25h1v1h-1zM37 25h1v1h-1zM34 26h1v1h-1zM37 26h1v1h-1zM35 27h3v1h-3zM19 29h2v1h-2zM18 31h1v1h-1zM18 32h1v1h-1zM32 36h1v1h-1zM22 37h2v1h-2zM25 37h1v1h-1z"/><path fill="#ffff0c" d="M32 19h1v1h-1zM34 20h1v1h-1zM22 22h1v1h-1zM28 22h1v1h-1zM33 22h1v1h-1zM35 22h1v1h-1zM25 23h1v1h-1zM34 23h1v1h-1zM37 23h1v1h-1zM19 27h1v1h-1zM34 27h1v1h-1zM37 28h1v1h-1zM18 29h1v1h-1zM35 29h1v1h-1zM33 31h1v1h-1zM35 31h1v1h-1zM33 32h2v1h-2zM32 34h1v1h-1zM19 35h1v1h-1zM28 37h1v1h-1zM31 37h2v1h-2zM24 38h1v1h-1zM27 38h1v1h-1z"/><path fill="#ffff5d" d="M29 20h2v1h-2zM35 25h1v1h-1zM35 26h2v1h-2zM20 30h1v1h-1zM21 32h1v1h-1zM21 36h1v1h-1zM26 36h1v1h-1z"/><path fill="#ffff4d" d="M33 20h1v1h-1zM25 21h3v1h-3zM24 22h3v1h-3zM35 23h2v1h-2zM22 33h1v1h-1zM19 34h1v1h-1zM20 35h1v1h-1zM25 35h1v1h-1zM24 37h1v1h-1z"/><path fill="#ffff6d" d="M35 24h1v1h-1zM36 25h1v1h-1zM19 30h1v1h-1zM23 34h1v1h-1z"/><path fill="#ffff7d" d="M36 24h1v1h-1zM20 31h1v1h-1zM19 33h1v1h-1zM24 35h1v1h-1zM24 36h2v1h-2z"/><path fill="#0b0000" d="M27 29h1v1h-1z"/><path fill="#ffff8e" d="M19 31h1v1h-1zM21 33h1v1h-1zM20 34h1v1h-1zM22 36h2v1h-2z"/><path fill="#ffff9e" d="M19 32h2v1h-2zM21 34h2v1h-2zM21 35h1v1h-1zM23 35h1v1h-1z"/><path fill="#ffffae" d="M20 33h1v1h-1zM22 35h1v1h-1z"/></g><rect x="1353.90" y="378.20" width="281.00" height="290.60" fill="none" stroke="#808080" stroke-width="0.8"/><g transform="translate(1640.50 378.20) scale(11.70000 4.54062)" shape-rendering="crispEdges"><path fill="#ffffff" d="M0 0h1v1h-1z"/><path fill="#ffffef" d="M0 1h1v1h-1z"/><path fill="#ffffdf" d="M0 2h1v1h-1z"/><path fill="#ffffce" d="M0 3h1v1h-1z"/><path fill="#ffffbe" d="M0 4h1v1h-1z"/><path fill="#ffffae" d="M0 5h1v1h-1z"/><path fill="#ffff9e" d="M0 6h1v1h-1z"/><path fill="#ffff8e" d="M0 7h1v1h-1z"/><path fill="#ffff7d" d="M0 8h1v1h-1z"/><path fill="#ffff6d" d="M0 9h1v1h-1z"/><path fill="#ffff5d" d="M0 10h1v1h-1z"/><path fill="#ffff4d" d="M0 11h1v1h-1z"/><path fill="#ffff3d" d="M0 12h1v1h-1z"/><path fill="#ffff2d" d="M0 13h1v1h-1z"/><path fill="#ffff1c" d="M0 14h1v1h-1z"/><path fill="#ffff0c" d="M0 15h1v1h-1z"/><path fill="#fffc00" d="M0 16h1v1h-1z"/><path fill="#fff200" d="M0 17h1v1h-1z"/><path fill="#ffe700" d="M0 18h1v1h-1z"/><path fill="#ffdc00" d="M0 19h1v1h-1z"/><path fill="#ffd100" d="M0 20h1v1h-1z"/><path fill="#ffc600" d="M0 21h1v1h-1z"/><path fill="#ffbc00" d="M0 22h1v1h-1z"/><path fill="#ffb100" d="M0 23h1v1h-1z"/><path fill="#ffa600" d="M0 24h1v1h-1z"/><path fill="#ff9b00" d="M0 25h1v1h-1z"/><path fill="#ff9000" d="M0 26h1v1h-1z"/><path fill="#ff8600" d="M0 27h1v1h-1z"/><path fill="#ff7b00" d="M0 28h1v1h-1z"/><path fill="#ff7000" d="M0 29h1v1h-1z"/><path fill="#ff6500" d="M0 30h1v1h-1z"/><path fill="#ff5a00" d="M0 31h1v1h-1z"/><path fill="#ff5000" d="M0 32h1v1h-1z"/><path fill="#ff4500" d="M0 33h1v1h-1z"/><path fill="#ff3a00" d="M0 34h1v1h-1z"/><path fill="#ff2f00" d="M0 35h1v1h-1z"/><path fill="#ff2400" d="M0 36h1v1h-1z"/><path fill="#ff1a00" d="M0 37h1v1h-1z"/><path fill="#ff0f00" d="M0 38h1v1h-1z"/><path fill="#ff0400" d="M0 39h1v1h-1z"/><path fill="#f80000" d="M0 40h1v1h-1z"/><path fill="#ed0000" d="M0 41h1v1h-1z"/><path fill="#e30000" d="M0 42h1v1h-1z"/><path fill="#d80000" d="M0 43h1v1h-1z"/><path fill="#cd0000" d="M0 44h1v1h-1z"/><path fill="#c20000" d="M0 45h1v1h-1z"/><path fill="#b70000" d="M0 46h1v1h-1z"/><path fill="#ad0000" d="M0 47h1v1h-1z"/><path fill="#a20000" d="M0 48h1v1h-1z"/><path fill="#970000" d="M0 49h1v1h-1z"/><path fill="#8c0000" d="M0 50h1v1h-1z"/><path fill="#820000" d="M0 51h1v1h-1z"/><path fill="#770000" d="M0 52h1v1h-1z"/><path fill="#6c0000" d="M0 53h1v1h-1z"/><path fill="#610000" d="M0 54h1v1h-1z"/><path fill="#560000" d="M0 55h1v1h-1z"/><path fill="#4c0000" d="M0 56h1v1h-1z"/><path fill="#410000" d="M0 57h1v1h-1z"/><path fill="#360000" d="M0 58h1v1h-1z"/><path fill="#2b0000" d="M0 59h1v1h-1z"/><path fill="#200000" d="M0 60h1v1h-1z"/><path fill="#160000" d="M0 61h1v1h-1z"/><path fill="#0b0000" d="M0 62h1v1h-1z"/><path fill="#000000" d="M0 63h1v1h-1z"/></g><rect x="1640.50" y="378.20" width="11.70" height="290.60" fill="none" stroke="#606060" stroke-width="0.8"/><text font-size="20.7" text-anchor="start" transform="translate(1657.8 387.4) scale(1.0 1.1)">40</text><text font-size="20.7" text-anchor="start" transform="translate(1657.8 673.3) scale(1.0 1.1)">0</text><g transform="translate(925.20 755.50) scale(5.08393 5.06897)" shape-rendering="crispEdges"><path fill="#00ff58" d="M0 0h1v1h-1zM54 2h1v1h-1zM48 12h1v1h-1zM48 14h4v1h-4zM46 16h3v1h-3zM51 16h1v1h-1zM45 17h1v1h-1zM49 17h2v1h-2zM41 20h1v1h-1zM40 21h1v1h-1zM38 22h1v1h-1zM35 24h1v1h-1zM30 27h1v1h-1zM32 27h1v1h-1zM22 29h3v1h-3zM19 33h1v1h-1zM18 35h1v1h-1zM15 36h2v1h-2zM14 37h1v1h-1zM13 38h1v1h-1zM0 41h2v1h-2zM11 41h1v1h-1zM3 42h1v1h-1zM3 43h1v1h-1zM9 43h1v1h-1zM8 44h1v1h-1zM4 45h1v1h-1z"/><path fill="#97ff00" d="M1 0h1v1h-1zM50 0h1v1h-1zM4 4h1v1h-1zM2 6h1v1h-1zM55 18h1v1h-1zM54 19h2v1h-2zM54 20h2v1h-2zM51 26h1v1h-1zM19 27h1v1h-1zM27 27h1v1h-1zM40 27h3v1h-3zM45 27h1v1h-1zM18 28h1v1h-1zM38 28h1v1h-1zM45 28h1v1h-1zM10 29h1v1h-1zM18 29h1v1h-1zM27 29h2v1h-2zM37 29h1v1h-1zM45 29h1v1h-1zM5 30h1v1h-1zM11 30h1v1h-1zM16 30h2v1h-2zM27 30h1v1h-1zM29 30h1v1h-1zM45 30h2v1h-2zM51 30h1v1h-1zM4 32h1v1h-1zM3 33h1v1h-1zM48 33h1v1h-1zM51 34h1v1h-1zM0 35h1v1h-1zM0 36h1v1h-1zM2 54h1v1h-1zM50 54h1v1h-1zM55 54h1v1h-1zM53 56h1v1h-1zM5 57h1v1h-1zM52 57h1v1h-1z"/><path fill="#ff7800" d="M2 0h1v1h-1zM49 0h1v1h-1zM8 1h1v1h-1zM5 4h1v1h-1zM5 6h1v1h-1zM2 7h1v1h-1zM4 7h1v1h-1zM1 8h1v1h-1zM4 8h1v1h-1zM5 9h1v1h-1zM0 10h1v1h-1zM3 14h2v1h-2zM6 15h1v1h-1zM6 16h1v1h-1zM7 17h1v1h-1zM8 18h1v1h-1zM9 20h1v1h-1zM0 22h1v1h-1zM10 22h1v1h-1zM10 23h4v1h-4zM18 24h3v1h-3zM2 25h1v1h-1zM0 27h1v1h-1zM26 32h1v1h-1zM40 33h1v1h-1zM53 33h1v1h-1zM34 34h1v1h-1zM40 34h3v1h-3zM53 34h1v1h-1zM39 35h2v1h-2zM43 35h1v1h-1zM38 36h1v1h-1zM53 36h1v1h-1zM54 38h2v1h-2zM48 41h3v1h-3zM51 43h1v1h-1zM51 44h1v1h-1zM51 45h1v1h-1zM54 45h2v1h-2zM52 46h1v1h-1zM51 48h1v1h-1zM49 49h1v1h-1zM52 49h1v1h-1zM49 50h1v1h-1zM52 50h1v1h-1zM54 54h1v1h-1zM48 55h1v1h-1zM53 55h1v1h-1z"/><path fill="#ff00a7" d="M3 0h1v1h-1zM11 2h1v1h-1zM12 3h1v1h-1zM13 4h1v1h-1zM53 5h1v1h-1zM19 6h1v1h-1zM14 7h3v1h-3zM13 8h1v1h-1zM12 10h1v1h-1zM13 11h1v1h-1zM14 12h1v1h-1zM14 13h2v1h-2zM15 14h1v1h-1zM16 15h1v1h-1zM19 16h1v1h-1zM21 17h1v1h-1zM22 18h1v1h-1zM25 19h1v1h-1zM26 20h1v1h-1zM27 21h1v1h-1zM29 22h1v1h-1zM26 36h1v1h-1zM26 37h1v1h-1zM27 38h1v1h-1zM32 38h1v1h-1zM34 39h1v1h-1zM35 40h1v1h-1zM36 42h1v1h-1zM38 43h1v1h-1zM40 45h1v1h-1zM41 47h1v1h-1zM39 49h1v1h-1zM0 50h1v1h-1zM35 50h2v1h-2zM33 51h1v1h-1zM33 53h1v1h-1zM36 54h1v1h-1zM39 55h2v1h-2z"/><path fill="#3800ff" d="M4 0h1v1h-1zM27 7h1v1h-1zM54 7h1v1h-1zM27 8h4v1h-4zM29 9h1v1h-1zM31 9h1v1h-1zM26 10h1v1h-1zM29 10h1v1h-1zM31 10h2v1h-2zM27 11h6v1h-6zM29 12h1v1h-1zM27 14h1v1h-1zM27 16h1v1h-1zM28 17h2v1h-2zM30 18h1v1h-1zM31 20h1v1h-1zM23 35h1v1h-1zM24 41h1v1h-1zM24 42h1v1h-1zM28 42h2v1h-2zM24 43h2v1h-2zM27 43h3v1h-3zM24 44h1v1h-1zM26 44h3v1h-3zM23 45h2v1h-2zM27 45h2v1h-2zM24 46h1v1h-1zM24 47h1v1h-1zM24 48h1v1h-1zM25 49h1v1h-1zM26 50h4v1h-4zM27 51h2v1h-2zM30 51h1v1h-1zM27 52h2v1h-2zM54 52h1v1h-1zM27 53h2v1h-2zM27 54h1v1h-1zM30 54h1v1h-1zM52 54h1v1h-1zM13 55h2v1h-2zM22 55h1v1h-1zM27 55h4v1h-4zM29 56h4v1h-4zM29 57h2v1h-2zM33 57h1v1h-1z"/><path fill="#00cfff" d="M5 0h1v1h-1zM45 0h1v1h-1zM54 1h1v1h-1zM47 2h1v1h-1zM55 2h1v1h-1zM44 3h2v1h-2zM44 4h1v1h-1zM1 5h1v1h-1zM43 5h2v1h-2zM46 9h1v1h-1zM49 10h1v1h-1zM52 10h3v1h-3zM39 11h1v1h-1zM53 11h1v1h-1zM39 12h1v1h-1zM53 12h1v1h-1zM54 13h2v1h-2zM38 17h1v1h-1zM37 18h1v1h-1zM36 19h1v1h-1zM35 20h1v1h-1zM33 23h1v1h-1zM20 38h1v1h-1zM19 39h1v1h-1zM18 41h1v1h-1zM17 42h1v1h-1zM16 43h2v1h-2zM0 44h2v1h-2zM14 44h1v1h-1zM17 44h1v1h-1zM14 45h1v1h-1zM0 46h1v1h-1zM15 46h1v1h-1zM1 47h1v1h-1zM16 47h1v1h-1zM9 48h1v1h-1zM14 49h1v1h-1zM10 50h3v1h-3z"/><path fill="#00ff9f" d="M6 0h1v1h-1zM48 11h2v1h-2zM46 13h1v1h-1zM45 14h1v1h-1zM53 14h1v1h-1zM44 15h1v1h-1zM43 16h1v1h-1zM43 17h1v1h-1zM40 19h1v1h-1zM39 20h1v1h-1zM37 21h1v1h-1zM36 22h1v1h-1zM35 23h1v1h-1zM34 24h1v1h-1zM32 26h1v1h-1zM22 30h1v1h-1zM20 32h1v1h-1zM19 35h1v1h-1zM16 37h1v1h-1zM15 38h1v1h-1zM15 39h1v1h-1zM15 40h1v1h-1zM13 41h1v1h-1zM11 43h1v1h-1zM11 44h1v1h-1zM3 45h1v1h-1zM8 45h3v1h-3zM4 46h1v1h-1zM7 46h1v1h-1zM54 51h1v1h-1z"/><path fill="#00ff10" d="M7 0h1v1h-1zM4 3h1v1h-1zM1 6h1v1h-1zM51 18h1v1h-1zM47 19h1v1h-1zM49 19h1v1h-1zM43 20h2v1h-2zM46 20h3v1h-3zM43 21h4v1h-4zM48 21h1v1h-1zM45 22h2v1h-2zM39 23h1v1h-1zM42 23h3v1h-3zM38 24h1v1h-1zM36 25h1v1h-1zM24 28h1v1h-1zM30 28h1v1h-1zM33 28h1v1h-1zM32 29h1v1h-1zM8 32h1v1h-1zM18 33h1v1h-1zM15 35h2v1h-2zM13 36h1v1h-1zM7 37h3v1h-3zM11 37h2v1h-2zM6 38h1v1h-1zM9 38h3v1h-3zM4 39h2v1h-2zM10 39h1v1h-1zM6 41h3v1h-3zM5 42h1v1h-1zM8 42h1v1h-1zM5 43h1v1h-1zM7 43h1v1h-1zM5 44h1v1h-1zM49 56h1v1h-1z"/><path fill="#afff00" d="M8 0h1v1h-1zM51 1h1v1h-1zM54 24h1v1h-1zM53 25h1v1h-1zM21 26h4v1h-4zM28 26h1v1h-1zM43 27h2v1h-2zM51 27h1v1h-1zM6 28h2v1h-2zM39 28h1v1h-1zM44 28h1v1h-1zM51 28h1v1h-1zM5 29h1v1h-1zM16 29h2v1h-2zM38 29h1v1h-1zM44 29h1v1h-1zM51 29h1v1h-1zM15 30h1v1h-1zM28 30h1v1h-1zM37 30h1v1h-1zM4 31h1v1h-1zM14 31h1v1h-1zM27 31h1v1h-1zM30 31h1v1h-1zM35 31h1v1h-1zM46 31h2v1h-2zM12 32h2v1h-2zM1 34h1v1h-1zM49 35h2v1h-2zM3 55h1v1h-1zM54 55h1v1h-1zM4 56h1v1h-1zM48 56h1v1h-1z"/><path fill="#ff8f00" d="M9 0h1v1h-1zM1 1h1v1h-1zM50 1h1v1h-1zM0 2h1v1h-1zM51 2h1v1h-1zM4 6h1v1h-1zM5 7h1v1h-1zM5 8h1v1h-1zM0 13h2v1h-2zM6 17h1v1h-1zM7 18h1v1h-1zM0 21h2v1h-2zM9 21h1v1h-1zM3 22h1v1h-1zM9 22h1v1h-1zM3 23h1v1h-1zM9 23h1v1h-1zM9 24h9v1h-9zM24 24h1v1h-1zM29 25h1v1h-1zM1 27h1v1h-1zM0 28h1v1h-1zM0 29h1v1h-1zM54 30h2v1h-2zM53 31h1v1h-1zM53 32h1v1h-1zM30 33h1v1h-1zM39 33h1v1h-1zM41 33h1v1h-1zM35 34h2v1h-2zM39 34h1v1h-1zM43 34h1v1h-1zM37 35h2v1h-2zM44 35h1v1h-1zM45 36h1v1h-1zM53 37h1v1h-1zM46 39h1v1h-1zM47 40h1v1h-1zM51 41h1v1h-1zM51 42h1v1h-1zM52 45h2v1h-2zM55 47h1v1h-1zM50 48h1v1h-1zM50 51h2v1h-2zM2 53h1v1h-1zM50 53h1v1h-1zM55 53h1v1h-1zM3 54h1v1h-1zM4 55h1v1h-1zM5 56h1v1h-1zM47 56h1v1h-1zM52 56h1v1h-1zM46 57h1v1h-1z"/><path fill="#ff0060" d="M10 0h1v1h-1zM2 1h1v1h-1zM49 1h1v1h-1zM10 3h1v1h-1zM17 5h2v1h-2zM11 6h1v1h-1zM17 6h2v1h-2zM10 9h1v1h-1zM10 10h1v1h-1zM11 11h1v1h-1zM12 12h1v1h-1zM12 13h1v1h-1zM12 14h1v1h-1zM13 15h1v1h-1zM14 16h1v1h-1zM18 17h1v1h-1zM20 18h1v1h-1zM21 19h2v1h-2zM24 20h1v1h-1zM25 21h1v1h-1zM26 22h1v1h-1zM29 23h1v1h-1zM27 35h1v1h-1zM27 36h1v1h-1zM27 37h1v1h-1zM33 37h1v1h-1zM35 38h1v1h-1zM36 39h1v1h-1zM37 41h1v1h-1zM42 41h2v1h-2zM41 42h3v1h-3zM42 43h1v1h-1zM41 44h1v1h-1zM41 45h1v1h-1zM42 46h1v1h-1zM42 48h1v1h-1zM41 49h1v1h-1zM39 50h1v1h-1zM34 51h1v1h-1zM35 53h1v1h-1zM39 54h2v1h-2z"/><path fill="#ff00bf" d="M11 0h1v1h-1zM11 1h1v1h-1zM13 3h5v1h-5zM0 4h1v1h-1zM19 4h1v1h-1zM19 7h1v1h-1zM14 8h1v1h-1zM17 8h2v1h-2zM13 9h1v1h-1zM13 10h1v1h-1zM14 11h1v1h-1zM15 12h1v1h-1zM16 13h4v1h-4zM16 14h2v1h-2zM17 15h1v1h-1zM20 16h2v1h-2zM22 17h1v1h-1zM23 18h2v1h-2zM26 35h1v1h-1zM33 39h1v1h-1zM35 41h1v1h-1zM36 43h2v1h-2zM39 44h1v1h-1zM40 48h1v1h-1zM38 49h1v1h-1zM34 50h1v1h-1zM55 52h1v1h-1zM35 54h1v1h-1zM38 55h1v1h-1zM44 55h1v1h-1zM8 57h1v1h-1z"/><path fill="#ff00ef" d="M12 0h1v1h-1zM12 1h1v1h-1zM13 2h4v1h-4zM1 3h1v1h-1zM20 5h1v1h-1zM20 6h1v1h-1zM55 7h1v1h-1zM19 8h1v1h-1zM15 9h1v1h-1zM15 10h1v1h-1zM16 11h1v1h-1zM21 12h1v1h-1zM22 13h1v1h-1zM20 14h3v1h-3zM20 15h3v1h-3zM23 16h1v1h-1zM24 17h1v1h-1zM29 21h1v1h-1zM30 23h1v1h-1zM30 24h1v1h-1zM25 33h1v1h-1zM26 38h1v1h-1zM31 39h1v1h-1zM33 40h1v1h-1zM34 42h1v1h-1zM33 44h1v1h-1zM37 44h1v1h-1zM33 45h3v1h-3zM38 45h1v1h-1zM39 46h1v1h-1zM38 47h3v1h-3zM38 48h1v1h-1zM36 49h1v1h-1zM32 51h1v1h-1zM32 53h1v1h-1zM33 54h1v1h-1zM42 55h2v1h-2zM38 56h3v1h-3zM44 56h1v1h-1z"/><path fill="#f700ff" d="M13 0h3v1h-3zM29 0h2v1h-2zM13 1h4v1h-4zM17 2h1v1h-1zM19 3h1v1h-1zM50 3h1v1h-1zM20 4h1v1h-1zM54 6h1v1h-1zM20 7h1v1h-1zM16 9h3v1h-3zM16 10h1v1h-1zM17 11h3v1h-3zM22 12h1v1h-1zM23 13h1v1h-1zM23 14h1v1h-1zM23 15h1v1h-1zM24 16h1v1h-1zM25 17h1v1h-1zM28 20h1v1h-1zM30 22h1v1h-1zM25 34h1v1h-1zM25 36h1v1h-1zM25 37h1v1h-1zM28 39h3v1h-3zM32 40h1v1h-1zM33 41h1v1h-1zM33 42h1v1h-1zM33 43h1v1h-1zM32 44h1v1h-1zM32 45h1v1h-1zM36 45h2v1h-2zM33 46h3v1h-3zM38 46h1v1h-1zM33 47h1v1h-1zM37 47h1v1h-1zM37 48h1v1h-1zM35 49h1v1h-1zM2 51h1v1h-1zM6 55h1v1h-1zM36 55h1v1h-1zM7 56h1v1h-1zM37 56h1v1h-1zM37 57h3v1h-3zM44 57h1v1h-1z"/><path fill="#df00ff" d="M16 0h1v1h-1zM31 0h1v1h-1zM17 1h1v1h-1zM29 1h3v1h-3zM18 2h1v1h-1zM49 2h1v1h-1zM20 8h1v1h-1zM19 9h1v1h-1zM17 10h2v1h-2zM20 11h3v1h-3zM23 12h1v1h-1zM24 15h1v1h-1zM26 18h1v1h-1zM27 19h1v1h-1zM25 35h1v1h-1zM25 38h1v1h-1zM27 39h1v1h-1zM32 46h1v1h-1zM36 46h2v1h-2zM32 47h1v1h-1zM34 47h1v1h-1zM36 47h1v1h-1zM36 48h1v1h-1zM34 49h1v1h-1zM32 50h1v1h-1zM3 52h1v1h-1zM5 54h1v1h-1zM36 56h1v1h-1zM41 56h1v1h-1zM36 57h1v1h-1zM40 57h1v1h-1z"/><path fill="#c700ff" d="M17 0h1v1h-1zM28 0h1v1h-1zM32 0h1v1h-1zM55 0h1v1h-1zM28 1h1v1h-1zM2 2h1v1h-1zM29 2h1v1h-1zM20 3h1v1h-1zM21 4h1v1h-1zM51 4h1v1h-1zM21 5h1v1h-1zM21 6h1v1h-1zM19 10h1v1h-1zM24 14h1v1h-1zM25 16h1v1h-1zM29 20h1v1h-1zM30 21h1v1h-1zM26 39h1v1h-1zM31 40h1v1h-1zM32 41h1v1h-1zM32 42h1v1h-1zM32 43h1v1h-1zM31 44h1v1h-1zM31 45h1v1h-1zM35 47h1v1h-1zM32 48h4v1h-4zM33 49h1v1h-1zM4 53h1v1h-1zM32 54h1v1h-1zM35 55h1v1h-1zM42 56h2v1h-2zM41 57h1v1h-1z"/><path fill="#af00ff" d="M18 0h1v1h-1zM18 1h1v1h-1zM27 1h1v1h-1zM32 1h1v1h-1zM19 2h1v1h-1zM28 2h1v1h-1zM30 2h2v1h-2zM21 3h1v1h-1zM52 5h1v1h-1zM21 7h1v1h-1zM21 8h1v1h-1zM20 9h1v1h-1zM20 10h3v1h-3zM23 11h1v1h-1zM24 12h1v1h-1zM24 13h1v1h-1zM25 15h1v1h-1zM26 17h1v1h-1zM28 19h1v1h-1zM25 32h1v1h-1zM31 46h1v1h-1zM27 47h2v1h-2zM32 49h1v1h-1zM31 51h1v1h-1zM34 55h1v1h-1zM35 56h1v1h-1zM9 57h1v1h-1zM35 57h1v1h-1zM42 57h2v1h-2z"/><path fill="#8000ff" d="M19 0h1v1h-1zM22 0h5v1h-5zM33 0h1v1h-1zM47 0h1v1h-1zM19 1h1v1h-1zM21 1h6v1h-6zM48 1h1v1h-1zM21 2h1v1h-1zM24 2h1v1h-1zM26 2h1v1h-1zM24 3h5v1h-5zM23 4h4v1h-4zM23 5h2v1h-2zM26 5h1v1h-1zM24 6h2v1h-2zM22 7h1v1h-1zM22 8h1v1h-1zM23 9h1v1h-1zM24 10h1v1h-1zM25 12h1v1h-1zM25 13h1v1h-1zM26 16h1v1h-1zM29 19h1v1h-1zM30 20h1v1h-1zM24 34h1v1h-1zM24 35h1v1h-1zM24 38h1v1h-1zM26 40h3v1h-3zM31 42h1v1h-1zM27 46h4v1h-4zM26 47h1v1h-1zM29 47h2v1h-2zM26 48h1v1h-1zM29 48h1v1h-1zM0 49h1v1h-1zM31 49h1v1h-1zM31 54h1v1h-1zM24 55h2v1h-2zM32 55h1v1h-1zM12 56h1v1h-1zM34 56h1v1h-1zM12 57h2v1h-2z"/><path fill="#6800ff" d="M20 0h2v1h-2zM20 1h1v1h-1zM33 1h1v1h-1zM25 2h1v1h-1zM29 3h3v1h-3zM27 4h1v1h-1zM23 6h1v1h-1zM26 6h1v1h-1zM53 6h1v1h-1zM23 7h4v1h-4zM23 8h3v1h-3zM55 8h1v1h-1zM24 9h2v1h-2zM25 10h1v1h-1zM25 11h1v1h-1zM26 12h2v1h-2zM26 13h2v1h-2zM26 14h1v1h-1zM26 15h1v1h-1zM27 17h1v1h-1zM28 18h1v1h-1zM31 22h1v1h-1zM31 23h1v1h-1zM30 25h1v1h-1zM24 39h1v1h-1zM25 40h1v1h-1zM26 41h1v1h-1zM30 41h1v1h-1zM30 43h1v1h-1zM29 45h1v1h-1zM26 46h1v1h-1zM25 47h1v1h-1zM30 48h1v1h-1zM30 49h1v1h-1zM30 50h1v1h-1zM24 54h2v1h-2zM23 55h1v1h-1zM26 55h1v1h-1zM11 56h1v1h-1zM13 56h1v1h-1zM23 56h3v1h-3zM11 57h1v1h-1zM23 57h2v1h-2zM34 57h1v1h-1z"/><path fill="#9700ff" d="M27 0h1v1h-1zM3 1h1v1h-1zM20 2h1v1h-1zM22 2h2v1h-2zM27 2h1v1h-1zM32 2h1v1h-1zM22 3h2v1h-2zM22 4h1v1h-1zM22 5h1v1h-1zM25 5h1v1h-1zM22 6h1v1h-1zM21 9h2v1h-2zM23 10h1v1h-1zM24 11h1v1h-1zM25 14h1v1h-1zM27 18h1v1h-1zM24 36h1v1h-1zM24 37h1v1h-1zM25 39h1v1h-1zM29 40h2v1h-2zM31 41h1v1h-1zM31 43h1v1h-1zM30 44h1v1h-1zM30 45h1v1h-1zM31 47h1v1h-1zM27 48h2v1h-2zM31 48h1v1h-1zM1 50h1v1h-1zM31 50h1v1h-1zM31 52h1v1h-1zM31 53h1v1h-1zM33 55h1v1h-1zM0 56h1v1h-1zM1 57h1v1h-1z"/><path fill="#0800ff" d="M34 0h1v1h-1zM41 0h1v1h-1zM54 0h1v1h-1zM34 1h1v1h-1zM40 2h1v1h-1zM40 3h1v1h-1zM49 3h1v1h-1zM50 4h1v1h-1zM0 5h1v1h-1zM29 5h1v1h-1zM29 6h1v1h-1zM30 7h1v1h-1zM33 9h1v1h-1zM28 10h1v1h-1zM33 11h1v1h-1zM33 12h1v1h-1zM30 13h4v1h-4zM28 14h3v1h-3zM30 15h1v1h-1zM28 16h4v1h-4zM33 17h1v1h-1zM32 18h1v1h-1zM23 37h1v1h-1zM23 38h1v1h-1zM23 42h1v1h-1zM22 44h1v1h-1zM22 45h1v1h-1zM23 47h1v1h-1zM23 48h1v1h-1zM22 49h1v1h-1zM2 50h1v1h-1zM22 50h1v1h-1zM23 51h3v1h-3zM4 52h1v1h-1zM23 52h2v1h-2zM26 52h1v1h-1zM29 52h1v1h-1zM22 53h1v1h-1zM29 53h1v1h-1zM6 54h1v1h-1zM11 54h4v1h-4zM15 55h1v1h-1zM15 56h1v1h-1zM21 56h1v1h-1zM21 57h1v1h-1z"/><path fill="#0058ff" d="M35 0h1v1h-1zM38 0h1v1h-1zM35 1h1v1h-1zM43 1h1v1h-1zM35 2h1v1h-1zM42 2h1v1h-1zM35 3h1v1h-1zM38 3h1v1h-1zM48 3h1v1h-1zM41 4h1v1h-1zM47 4h1v1h-1zM34 5h1v1h-1zM37 5h1v1h-1zM40 5h1v1h-1zM34 6h1v1h-1zM37 6h1v1h-1zM40 6h1v1h-1zM46 6h1v1h-1zM34 7h2v1h-2zM37 7h1v1h-1zM47 7h1v1h-1zM35 8h1v1h-1zM38 8h2v1h-2zM48 8h1v1h-1zM49 9h1v1h-1zM51 9h1v1h-1zM35 12h1v1h-1zM36 14h1v1h-1zM36 15h1v1h-1zM22 37h1v1h-1zM21 39h1v1h-1zM21 42h1v1h-1zM20 46h1v1h-1zM19 47h1v1h-1zM3 48h3v1h-3zM18 48h1v1h-1zM18 49h1v1h-1zM8 50h1v1h-1zM19 50h1v1h-1zM8 51h1v1h-1zM5 52h3v1h-3zM14 52h3v1h-3zM21 52h1v1h-1zM6 53h3v1h-3zM7 54h2v1h-2zM17 54h1v1h-1zM8 55h1v1h-1zM17 55h1v1h-1zM20 55h1v1h-1z"/><path fill="#0087ff" d="M36 0h1v1h-1zM36 1h2v1h-2zM36 2h1v1h-1zM43 2h1v1h-1zM36 3h2v1h-2zM35 4h2v1h-2zM42 4h1v1h-1zM46 4h1v1h-1zM35 5h2v1h-2zM41 5h1v1h-1zM35 6h1v1h-1zM41 6h1v1h-1zM41 7h1v1h-1zM47 8h1v1h-1zM52 8h1v1h-1zM54 8h1v1h-1zM37 9h3v1h-3zM48 9h1v1h-1zM55 10h1v1h-1zM37 12h1v1h-1zM37 13h1v1h-1zM37 14h1v1h-1zM37 15h1v1h-1zM36 17h1v1h-1zM35 18h1v1h-1zM33 21h1v1h-1zM32 24h1v1h-1zM21 35h1v1h-1zM21 38h1v1h-1zM20 39h1v1h-1zM20 42h1v1h-1zM19 45h1v1h-1zM18 46h1v1h-1zM0 47h1v1h-1zM7 48h1v1h-1zM17 48h1v1h-1zM9 50h1v1h-1zM15 50h2v1h-2zM14 51h1v1h-1zM18 51h2v1h-2zM11 52h2v1h-2zM17 52h1v1h-1zM20 52h1v1h-1zM20 53h1v1h-1zM18 54h2v1h-2zM18 55h2v1h-2zM18 56h2v1h-2zM18 57h2v1h-2z"/><path fill="#0070ff" d="M37 0h1v1h-1zM38 1h1v1h-1zM47 1h1v1h-1zM38 2h1v1h-1zM42 3h1v1h-1zM37 4h1v1h-1zM46 5h1v1h-1zM36 6h1v1h-1zM36 7h1v1h-1zM46 7h1v1h-1zM52 7h2v1h-2zM36 8h2v1h-2zM40 8h1v1h-1zM36 9h1v1h-1zM36 10h1v1h-1zM36 11h1v1h-1zM36 12h1v1h-1zM36 13h1v1h-1zM36 16h1v1h-1zM35 17h1v1h-1zM34 19h1v1h-1zM33 20h1v1h-1zM31 25h1v1h-1zM20 40h1v1h-1zM20 41h1v1h-1zM20 43h1v1h-1zM20 44h1v1h-1zM20 45h1v1h-1zM19 46h1v1h-1zM18 47h1v1h-1zM6 48h1v1h-1zM8 49h1v1h-1zM17 49h1v1h-1zM17 50h2v1h-2zM9 51h1v1h-1zM15 51h3v1h-3zM20 51h1v1h-1zM55 51h1v1h-1zM8 52h3v1h-3zM13 52h1v1h-1zM17 53h1v1h-1zM20 54h1v1h-1zM17 56h1v1h-1zM17 57h1v1h-1z"/><path fill="#0028ff" d="M39 0h1v1h-1zM39 1h1v1h-1zM42 1h1v1h-1zM39 2h1v1h-1zM34 3h1v1h-1zM41 3h1v1h-1zM39 4h2v1h-2zM48 4h2v1h-2zM33 5h1v1h-1zM38 5h1v1h-1zM48 5h1v1h-1zM50 5h1v1h-1zM32 6h1v1h-1zM38 6h2v1h-2zM51 6h1v1h-1zM32 7h1v1h-1zM48 7h1v1h-1zM50 7h1v1h-1zM33 8h1v1h-1zM49 8h2v1h-2zM34 9h1v1h-1zM34 12h1v1h-1zM34 13h1v1h-1zM33 14h2v1h-2zM32 15h4v1h-4zM34 16h1v1h-1zM32 19h1v1h-1zM32 20h1v1h-1zM32 21h1v1h-1zM32 22h1v1h-1zM22 35h1v1h-1zM22 39h1v1h-1zM21 46h1v1h-1zM21 47h1v1h-1zM21 48h1v1h-1zM20 49h1v1h-1zM7 50h1v1h-1zM21 50h1v1h-1zM4 51h3v1h-3zM14 53h2v1h-2zM9 54h1v1h-1zM16 54h1v1h-1zM21 54h1v1h-1zM9 55h1v1h-1zM16 55h1v1h-1zM9 56h1v1h-1zM16 56h1v1h-1zM16 57h1v1h-1zM55 57h1v1h-1z"/><path fill="#0010ff" d="M40 0h1v1h-1zM42 0h1v1h-1zM40 1h2v1h-2zM55 1h1v1h-1zM34 2h1v1h-1zM41 2h1v1h-1zM39 3h1v1h-1zM33 4h1v1h-1zM30 5h3v1h-3zM49 5h1v1h-1zM51 5h1v1h-1zM30 6h2v1h-2zM48 6h3v1h-3zM52 6h1v1h-1zM31 7h1v1h-1zM49 7h1v1h-1zM32 8h1v1h-1zM55 9h1v1h-1zM34 10h1v1h-1zM34 11h1v1h-1zM31 14h2v1h-2zM28 15h2v1h-2zM31 15h1v1h-1zM32 16h2v1h-2zM33 18h1v1h-1zM24 32h1v1h-1zM22 40h1v1h-1zM22 41h1v1h-1zM22 42h1v1h-1zM22 43h1v1h-1zM22 46h1v1h-1zM22 47h1v1h-1zM0 48h1v1h-1zM22 48h1v1h-1zM4 49h3v1h-3zM21 49h1v1h-1zM4 50h3v1h-3zM22 51h1v1h-1zM22 52h1v1h-1zM25 52h1v1h-1zM5 53h1v1h-1zM10 54h1v1h-1zM15 54h1v1h-1zM21 55h1v1h-1z"/><path fill="#0040ff" d="M43 0h1v1h-1zM46 0h1v1h-1zM3 2h1v1h-1zM48 2h1v1h-1zM34 4h1v1h-1zM38 4h1v1h-1zM39 5h1v1h-1zM47 5h1v1h-1zM33 6h1v1h-1zM47 6h1v1h-1zM33 7h1v1h-1zM38 7h3v1h-3zM51 7h1v1h-1zM34 8h1v1h-1zM51 8h1v1h-1zM35 9h1v1h-1zM50 9h1v1h-1zM35 10h1v1h-1zM35 11h1v1h-1zM35 13h1v1h-1zM35 14h1v1h-1zM35 16h1v1h-1zM34 17h1v1h-1zM34 18h1v1h-1zM33 19h1v1h-1zM32 23h1v1h-1zM23 33h1v1h-1zM22 34h1v1h-1zM22 36h1v1h-1zM22 38h1v1h-1zM21 40h1v1h-1zM21 41h1v1h-1zM21 43h1v1h-1zM21 44h1v1h-1zM21 45h1v1h-1zM20 47h1v1h-1zM19 48h2v1h-2zM1 49h1v1h-1zM3 49h1v1h-1zM7 49h1v1h-1zM19 49h1v1h-1zM3 50h1v1h-1zM20 50h1v1h-1zM7 51h1v1h-1zM21 51h1v1h-1zM9 53h5v1h-5zM16 53h1v1h-1zM21 53h1v1h-1zM0 55h1v1h-1zM1 56h1v1h-1zM20 56h1v1h-1zM2 57h1v1h-1zM20 57h1v1h-1zM50 57h1v1h-1z"/><path fill="#009fff" d="M44 0h1v1h-1zM4 1h1v1h-1zM37 2h1v1h-1zM47 3h1v1h-1zM2 4h1v1h-1zM42 5h1v1h-1zM45 5h1v1h-1zM45 6h1v1h-1zM45 7h1v1h-1zM41 8h1v1h-1zM46 8h1v1h-1zM40 9h1v1h-1zM52 9h1v1h-1zM37 10h1v1h-1zM37 11h1v1h-1zM55 11h1v1h-1zM55 12h1v1h-1zM37 16h1v1h-1zM35 19h1v1h-1zM34 20h1v1h-1zM33 22h1v1h-1zM23 32h1v1h-1zM22 33h1v1h-1zM21 34h1v1h-1zM21 36h1v1h-1zM21 37h1v1h-1zM19 41h1v1h-1zM19 42h1v1h-1zM19 43h1v1h-1zM19 44h1v1h-1zM15 45h2v1h-2zM17 46h1v1h-1zM2 47h2v1h-2zM17 47h1v1h-1zM2 48h1v1h-1zM2 49h1v1h-1zM16 49h1v1h-1zM14 50h1v1h-1zM10 51h1v1h-1zM13 51h1v1h-1zM18 52h2v1h-2zM18 53h2v1h-2z"/><path fill="#ff008f" d="M48 0h1v1h-1zM11 3h1v1h-1zM11 4h2v1h-2zM14 4h3v1h-3zM18 4h1v1h-1zM12 5h3v1h-3zM19 5h1v1h-1zM13 6h3v1h-3zM13 7h1v1h-1zM17 7h2v1h-2zM12 8h1v1h-1zM12 9h1v1h-1zM12 11h1v1h-1zM13 12h1v1h-1zM14 14h1v1h-1zM15 15h1v1h-1zM17 16h2v1h-2zM24 19h1v1h-1zM26 21h1v1h-1zM28 22h1v1h-1zM26 34h1v1h-1zM28 38h4v1h-4zM33 38h1v1h-1zM35 39h1v1h-1zM36 41h1v1h-1zM37 42h1v1h-1zM39 43h2v1h-2zM40 44h1v1h-1zM41 46h1v1h-1zM41 48h1v1h-1zM37 50h1v1h-1zM33 52h1v1h-1zM42 54h2v1h-2zM53 54h1v1h-1zM45 56h1v1h-1zM0 57h1v1h-1z"/><path fill="#00ff28" d="M51 0h1v1h-1zM0 7h1v1h-1zM49 13h2v1h-2zM52 16h1v1h-1zM51 17h1v1h-1zM46 18h3v1h-3zM50 18h1v1h-1zM43 19h4v1h-4zM48 19h1v1h-1zM42 20h1v1h-1zM45 20h1v1h-1zM42 21h1v1h-1zM39 22h6v1h-6zM38 23h1v1h-1zM37 24h1v1h-1zM35 25h1v1h-1zM34 26h1v1h-1zM33 27h1v1h-1zM32 28h1v1h-1zM25 29h1v1h-1zM20 30h1v1h-1zM18 34h1v1h-1zM17 35h1v1h-1zM14 36h1v1h-1zM7 38h2v1h-2zM12 38h1v1h-1zM6 39h1v1h-1zM8 39h2v1h-2zM11 39h1v1h-1zM4 40h3v1h-3zM8 40h3v1h-3zM3 41h3v1h-3zM9 41h1v1h-1zM4 42h1v1h-1zM4 43h1v1h-1zM8 43h1v1h-1zM4 44h1v1h-1zM6 44h1v1h-1zM5 45h1v1h-1zM2 55h1v1h-1zM3 56h1v1h-1zM54 56h1v1h-1zM4 57h1v1h-1zM53 57h1v1h-1z"/><path fill="#00ffb7" d="M52 0h1v1h-1zM4 2h1v1h-1zM47 11h1v1h-1zM50 11h1v1h-1zM46 12h1v1h-1zM54 14h1v1h-1zM42 15h2v1h-2zM42 16h1v1h-1zM42 17h1v1h-1zM41 18h1v1h-1zM38 20h1v1h-1zM24 30h1v1h-1zM21 31h1v1h-1zM17 37h2v1h-2zM16 38h1v1h-1zM16 39h1v1h-1zM14 41h1v1h-1zM0 42h2v1h-2zM13 42h1v1h-1zM12 43h1v1h-1zM11 45h1v1h-1zM8 46h1v1h-1zM51 54h1v1h-1z"/><path fill="#00b7ff" d="M53 0h1v1h-1zM44 1h1v1h-1zM44 2h1v1h-1zM43 3h1v1h-1zM46 3h1v1h-1zM43 4h1v1h-1zM45 4h1v1h-1zM42 6h1v1h-1zM45 8h1v1h-1zM41 9h1v1h-1zM47 9h1v1h-1zM38 10h3v1h-3zM50 10h2v1h-2zM38 11h1v1h-1zM54 11h1v1h-1zM38 12h1v1h-1zM54 12h1v1h-1zM38 13h1v1h-1zM38 14h1v1h-1zM38 15h1v1h-1zM38 16h1v1h-1zM37 17h1v1h-1zM36 18h1v1h-1zM34 21h1v1h-1zM24 31h1v1h-1zM19 40h1v1h-1zM18 42h1v1h-1zM18 43h1v1h-1zM15 44h2v1h-2zM18 44h1v1h-1zM0 45h2v1h-2zM17 45h2v1h-2zM1 46h2v1h-2zM16 46h1v1h-1zM4 47h1v1h-1zM8 48h1v1h-1zM16 48h1v1h-1zM9 49h1v1h-1zM15 49h1v1h-1zM13 50h1v1h-1zM11 51h2v1h-2z"/><path fill="#80ff00" d="M0 1h1v1h-1zM0 8h1v1h-1zM55 17h1v1h-1zM54 18h1v1h-1zM54 21h2v1h-2zM55 23h1v1h-1zM53 24h1v1h-1zM52 25h1v1h-1zM43 26h3v1h-3zM20 27h1v1h-1zM26 27h1v1h-1zM28 27h1v1h-1zM38 27h2v1h-2zM50 27h1v1h-1zM27 28h2v1h-2zM37 28h1v1h-1zM46 28h1v1h-1zM50 28h1v1h-1zM6 29h1v1h-1zM46 29h1v1h-1zM50 29h1v1h-1zM18 30h1v1h-1zM36 30h1v1h-1zM47 30h1v1h-1zM5 31h1v1h-1zM11 31h1v1h-1zM15 31h2v1h-2zM31 31h1v1h-1zM34 31h1v1h-1zM48 31h1v1h-1zM51 31h1v1h-1zM11 32h1v1h-1zM14 32h1v1h-1zM48 32h1v1h-1zM12 33h2v1h-2zM51 33h1v1h-1zM2 34h1v1h-1zM49 34h2v1h-2zM1 35h1v1h-1zM1 36h1v1h-1zM0 37h1v1h-1zM47 57h1v1h-1z"/><path fill="#00ff70" d="M5 1h1v1h-1zM55 3h1v1h-1zM3 4h1v1h-1zM51 12h1v1h-1zM47 13h1v1h-1zM47 14h1v1h-1zM52 14h1v1h-1zM46 15h4v1h-4zM51 15h1v1h-1zM45 16h1v1h-1zM49 16h2v1h-2zM44 17h1v1h-1zM43 18h1v1h-1zM41 19h1v1h-1zM40 20h1v1h-1zM39 21h1v1h-1zM37 22h1v1h-1zM36 23h1v1h-1zM34 25h1v1h-1zM33 26h1v1h-1zM31 27h1v1h-1zM21 30h1v1h-1zM20 31h1v1h-1zM17 36h1v1h-1zM14 38h1v1h-1zM13 39h1v1h-1zM12 40h1v1h-1zM12 41h1v1h-1zM10 42h1v1h-1zM10 43h1v1h-1zM9 44h1v1h-1zM7 45h1v1h-1zM5 46h2v1h-2z"/><path fill="#38ff00" d="M6 1h1v1h-1zM5 2h1v1h-1zM55 16h1v1h-1zM53 17h1v1h-1zM52 19h1v1h-1zM52 20h1v1h-1zM53 22h1v1h-1zM45 24h1v1h-1zM51 24h1v1h-1zM39 25h2v1h-2zM42 25h1v1h-1zM46 25h1v1h-1zM50 25h1v1h-1zM29 26h1v1h-1zM37 26h2v1h-2zM47 26h2v1h-2zM35 27h1v1h-1zM20 28h1v1h-1zM29 28h1v1h-1zM35 29h1v1h-1zM9 30h1v1h-1zM19 30h1v1h-1zM26 30h1v1h-1zM31 30h1v1h-1zM34 30h1v1h-1zM6 32h1v1h-1zM10 32h1v1h-1zM50 32h1v1h-1zM10 33h1v1h-1zM15 33h1v1h-1zM4 34h1v1h-1zM12 34h2v1h-2zM3 35h1v1h-1zM3 36h1v1h-1zM3 37h1v1h-1zM2 38h1v1h-1zM0 39h3v1h-3zM55 49h1v1h-1zM53 51h1v1h-1zM0 52h1v1h-1zM52 52h1v1h-1z"/><path fill="#c7ff00" d="M7 1h1v1h-1zM1 7h1v1h-1zM0 16h1v1h-1zM0 17h2v1h-2zM55 24h1v1h-1zM5 25h1v1h-1zM5 26h1v1h-1zM20 26h1v1h-1zM25 26h3v1h-3zM52 26h1v1h-1zM5 27h1v1h-1zM18 27h1v1h-1zM5 28h1v1h-1zM8 28h2v1h-2zM15 28h3v1h-3zM40 28h4v1h-4zM4 29h1v1h-1zM11 29h1v1h-1zM15 29h1v1h-1zM39 29h1v1h-1zM3 30h2v1h-2zM12 30h1v1h-1zM14 30h1v1h-1zM44 30h1v1h-1zM12 31h2v1h-2zM28 31h2v1h-2zM36 31h1v1h-1zM45 31h1v1h-1zM3 32h1v1h-1zM32 32h2v1h-2zM47 32h1v1h-1zM2 33h1v1h-1zM0 34h1v1h-1zM48 34h1v1h-1zM48 35h1v1h-1zM51 35h1v1h-1zM49 36h2v1h-2zM49 55h1v1h-1z"/><path fill="#ff0030" d="M9 1h1v1h-1zM9 2h1v1h-1zM50 2h1v1h-1zM9 3h1v1h-1zM55 6h1v1h-1zM10 7h1v1h-1zM10 8h1v1h-1zM9 9h1v1h-1zM9 10h1v1h-1zM11 13h1v1h-1zM11 14h1v1h-1zM11 15h1v1h-1zM12 16h1v1h-1zM12 17h2v1h-2zM14 18h5v1h-5zM14 19h3v1h-3zM19 19h1v1h-1zM20 20h3v1h-3zM28 23h1v1h-1zM26 33h1v1h-1zM27 34h1v1h-1zM28 35h1v1h-1zM29 36h5v1h-5zM35 37h1v1h-1zM36 38h1v1h-1zM43 39h1v1h-1zM39 41h1v1h-1zM45 42h1v1h-1zM44 43h1v1h-1zM42 44h1v1h-1zM42 45h1v1h-1zM43 46h1v1h-1zM44 47h1v1h-1zM44 48h2v1h-2zM43 49h4v1h-4zM41 50h2v1h-2zM44 50h3v1h-3zM37 51h4v1h-4zM46 51h1v1h-1zM2 52h1v1h-1zM35 52h1v1h-1zM39 52h2v1h-2zM37 53h3v1h-3zM42 53h5v1h-5zM46 54h1v1h-1zM5 55h1v1h-1zM46 55h1v1h-1z"/><path fill="#ff0078" d="M10 1h1v1h-1zM10 2h1v1h-1zM10 4h1v1h-1zM17 4h1v1h-1zM52 4h1v1h-1zM10 5h2v1h-2zM15 5h2v1h-2zM12 6h1v1h-1zM16 6h1v1h-1zM12 7h1v1h-1zM11 9h1v1h-1zM11 10h1v1h-1zM13 13h1v1h-1zM13 14h1v1h-1zM14 15h1v1h-1zM15 16h2v1h-2zM19 17h2v1h-2zM21 18h1v1h-1zM23 19h1v1h-1zM25 20h1v1h-1zM27 22h1v1h-1zM32 37h1v1h-1zM34 38h1v1h-1zM36 40h1v1h-1zM38 42h3v1h-3zM41 43h1v1h-1zM42 47h1v1h-1zM40 49h1v1h-1zM38 50h1v1h-1zM34 53h1v1h-1zM54 53h1v1h-1zM37 54h2v1h-2zM41 54h1v1h-1zM44 54h1v1h-1zM45 55h1v1h-1zM52 55h1v1h-1zM45 57h1v1h-1z"/><path fill="#00e7ff" d="M45 1h1v1h-1zM45 2h1v1h-1zM3 3h1v1h-1zM43 6h2v1h-2zM42 7h1v1h-1zM44 7h1v1h-1zM42 8h1v1h-1zM44 8h1v1h-1zM53 8h1v1h-1zM45 9h1v1h-1zM53 9h1v1h-1zM41 10h1v1h-1zM48 10h1v1h-1zM40 11h2v1h-2zM40 12h1v1h-1zM39 13h1v1h-1zM39 14h1v1h-1zM39 16h1v1h-1zM39 17h1v1h-1zM34 22h1v1h-1zM32 25h1v1h-1zM23 31h1v1h-1zM25 31h1v1h-1zM22 32h1v1h-1zM21 33h1v1h-1zM20 35h1v1h-1zM20 36h1v1h-1zM20 37h1v1h-1zM18 40h1v1h-1zM15 43h1v1h-1zM2 45h1v1h-1zM14 46h1v1h-1zM5 47h1v1h-1zM1 48h1v1h-1zM10 48h1v1h-1zM15 48h1v1h-1zM10 49h4v1h-4zM0 54h1v1h-1z"/><path fill="#00ffff" d="M46 1h1v1h-1zM46 2h1v1h-1zM43 7h1v1h-1zM43 8h1v1h-1zM42 9h1v1h-1zM44 9h1v1h-1zM54 9h1v1h-1zM42 10h1v1h-1zM44 10h4v1h-4zM42 11h3v1h-3zM52 11h1v1h-1zM41 12h3v1h-3zM40 13h2v1h-2zM39 15h1v1h-1zM38 18h2v1h-2zM37 19h1v1h-1zM36 20h1v1h-1zM35 21h1v1h-1zM33 24h1v1h-1zM20 34h1v1h-1zM19 38h1v1h-1zM18 39h1v1h-1zM17 41h1v1h-1zM16 42h1v1h-1zM0 43h2v1h-2zM14 43h1v1h-1zM2 44h1v1h-1zM13 45h1v1h-1zM3 46h1v1h-1zM6 47h5v1h-5zM15 47h1v1h-1zM11 48h1v1h-1zM14 48h1v1h-1zM53 52h1v1h-1zM1 55h1v1h-1zM50 56h1v1h-1zM55 56h1v1h-1zM3 57h1v1h-1zM54 57h1v1h-1z"/><path fill="#20ff00" d="M52 1h1v1h-1zM54 16h1v1h-1zM52 18h1v1h-1zM50 20h2v1h-2zM50 21h3v1h-3zM50 22h3v1h-3zM50 23h3v1h-3zM40 24h5v1h-5zM46 24h1v1h-1zM50 24h1v1h-1zM38 25h1v1h-1zM47 25h3v1h-3zM36 26h1v1h-1zM29 27h1v1h-1zM34 28h1v1h-1zM30 29h1v1h-1zM34 29h1v1h-1zM7 30h2v1h-2zM32 30h2v1h-2zM9 31h1v1h-1zM26 31h1v1h-1zM9 32h1v1h-1zM17 32h1v1h-1zM6 33h1v1h-1zM9 33h1v1h-1zM16 33h1v1h-1zM5 34h1v1h-1zM7 34h5v1h-5zM14 34h2v1h-2zM4 35h1v1h-1zM7 35h2v1h-2zM12 35h1v1h-1zM4 36h1v1h-1zM4 37h2v1h-2zM3 38h1v1h-1zM3 39h1v1h-1z"/><path fill="#00ff87" d="M53 1h1v1h-1zM2 5h1v1h-1zM47 12h1v1h-1zM52 13h1v1h-1zM46 14h1v1h-1zM45 15h1v1h-1zM50 15h1v1h-1zM44 16h1v1h-1zM42 18h1v1h-1zM38 21h1v1h-1zM25 30h1v1h-1zM19 34h1v1h-1zM18 36h1v1h-1zM15 37h1v1h-1zM14 39h1v1h-1zM13 40h2v1h-2zM2 42h1v1h-1zM11 42h2v1h-2zM3 44h1v1h-1zM10 44h1v1h-1zM55 50h1v1h-1zM0 53h1v1h-1z"/><path fill="#ff0048" d="M1 2h1v1h-1zM51 3h1v1h-1zM9 4h1v1h-1zM9 5h1v1h-1zM9 6h2v1h-2zM11 7h1v1h-1zM11 8h1v1h-1zM10 11h1v1h-1zM11 12h1v1h-1zM12 15h1v1h-1zM13 16h1v1h-1zM14 17h4v1h-4zM19 18h1v1h-1zM20 19h1v1h-1zM23 20h1v1h-1zM24 21h1v1h-1zM25 22h1v1h-1zM28 36h1v1h-1zM28 37h4v1h-4zM34 37h1v1h-1zM37 40h1v1h-1zM42 40h2v1h-2zM38 41h1v1h-1zM40 41h2v1h-2zM44 41h1v1h-1zM44 42h1v1h-1zM43 43h1v1h-1zM43 47h1v1h-1zM43 48h1v1h-1zM42 49h1v1h-1zM40 50h1v1h-1zM1 51h1v1h-1zM35 51h2v1h-2zM34 52h1v1h-1zM3 53h1v1h-1zM36 53h1v1h-1zM40 53h2v1h-2zM4 54h1v1h-1zM45 54h1v1h-1zM6 56h1v1h-1zM46 56h1v1h-1zM51 56h1v1h-1z"/><path fill="#dfff00" d="M6 2h1v1h-1zM52 2h1v1h-1zM5 3h1v1h-1zM1 16h1v1h-1zM2 17h1v1h-1zM0 18h2v1h-2zM6 25h1v1h-1zM54 25h1v1h-1zM4 26h1v1h-1zM6 26h1v1h-1zM19 26h1v1h-1zM53 26h1v1h-1zM4 27h1v1h-1zM6 27h2v1h-2zM15 27h3v1h-3zM52 27h1v1h-1zM4 28h1v1h-1zM10 28h1v1h-1zM14 28h1v1h-1zM3 29h1v1h-1zM14 29h1v1h-1zM40 29h4v1h-4zM13 30h1v1h-1zM38 30h1v1h-1zM43 30h1v1h-1zM3 31h1v1h-1zM37 31h1v1h-1zM31 32h1v1h-1zM34 32h1v1h-1zM46 32h1v1h-1zM1 33h1v1h-1zM47 33h1v1h-1zM48 36h1v1h-1zM55 48h1v1h-1z"/><path fill="#ff6000" d="M7 2h1v1h-1zM5 5h1v1h-1zM6 6h1v1h-1zM6 7h1v1h-1zM6 8h1v1h-1zM4 9h1v1h-1zM6 9h1v1h-1zM6 10h1v1h-1zM2 13h1v1h-1zM5 14h1v1h-1zM9 18h1v1h-1zM9 19h1v1h-1zM10 21h1v1h-1zM1 22h2v1h-2zM11 22h3v1h-3zM2 23h1v1h-1zM14 23h2v1h-2zM21 23h3v1h-3zM2 24h1v1h-1zM25 24h3v1h-3zM0 26h2v1h-2zM54 31h2v1h-2zM29 33h1v1h-1zM32 34h2v1h-2zM36 35h1v1h-1zM41 35h2v1h-2zM53 35h1v1h-1zM37 36h1v1h-1zM39 36h2v1h-2zM44 36h1v1h-1zM38 37h1v1h-1zM45 37h1v1h-1zM54 37h2v1h-2zM46 40h1v1h-1zM47 41h1v1h-1zM50 42h1v1h-1zM50 46h2v1h-2zM53 46h1v1h-1zM50 47h3v1h-3zM49 48h1v1h-1zM52 48h1v1h-1zM49 51h1v1h-1zM50 52h1v1h-1zM49 54h1v1h-1z"/><path fill="#ff0000" d="M8 2h1v1h-1zM8 3h1v1h-1zM8 8h1v1h-1zM2 9h1v1h-1zM7 12h3v1h-3zM7 13h3v1h-3zM9 14h1v1h-1zM10 15h1v1h-1zM10 16h1v1h-1zM11 18h1v1h-1zM11 19h1v1h-1zM12 20h2v1h-2zM17 20h1v1h-1zM15 21h4v1h-4zM22 21h1v1h-1zM18 22h3v1h-3zM25 23h1v1h-1zM28 34h1v1h-1zM30 35h1v1h-1zM34 36h1v1h-1zM36 37h1v1h-1zM37 38h1v1h-1zM42 38h1v1h-1zM41 39h1v1h-1zM44 39h1v1h-1zM39 40h2v1h-2zM46 42h1v1h-1zM46 43h1v1h-1zM45 44h1v1h-1zM43 45h3v1h-3zM45 46h2v1h-2zM46 47h1v1h-1zM47 48h1v1h-1zM47 49h1v1h-1zM42 51h2v1h-2zM42 52h2v1h-2zM48 52h1v1h-1zM48 53h1v1h-1zM48 54h1v1h-1z"/><path fill="#ff00d7" d="M12 2h1v1h-1zM18 3h1v1h-1zM15 8h2v1h-2zM14 9h1v1h-1zM14 10h1v1h-1zM15 11h1v1h-1zM16 12h5v1h-5zM20 13h2v1h-2zM18 14h2v1h-2zM18 15h2v1h-2zM22 16h1v1h-1zM23 17h1v1h-1zM25 18h1v1h-1zM26 19h1v1h-1zM27 20h1v1h-1zM28 21h1v1h-1zM32 39h1v1h-1zM34 40h1v1h-1zM34 41h1v1h-1zM35 42h1v1h-1zM34 43h2v1h-2zM34 44h3v1h-3zM38 44h1v1h-1zM39 45h1v1h-1zM40 46h1v1h-1zM39 48h1v1h-1zM37 49h1v1h-1zM33 50h1v1h-1zM32 52h1v1h-1zM34 54h1v1h-1zM37 55h1v1h-1zM41 55h1v1h-1z"/><path fill="#5000ff" d="M33 2h1v1h-1zM32 3h1v1h-1zM1 4h1v1h-1zM28 4h1v1h-1zM27 5h1v1h-1zM27 6h1v1h-1zM26 8h1v1h-1zM26 9h1v1h-1zM30 9h1v1h-1zM30 10h1v1h-1zM26 11h1v1h-1zM28 12h1v1h-1zM28 13h1v1h-1zM29 18h1v1h-1zM30 19h1v1h-1zM31 21h1v1h-1zM24 33h1v1h-1zM24 40h1v1h-1zM25 41h1v1h-1zM27 41h3v1h-3zM25 42h3v1h-3zM30 42h1v1h-1zM26 43h1v1h-1zM25 44h1v1h-1zM29 44h1v1h-1zM25 45h2v1h-2zM25 46h1v1h-1zM25 48h1v1h-1zM26 49h4v1h-4zM53 53h1v1h-1zM23 54h1v1h-1zM26 54h1v1h-1zM11 55h2v1h-2zM31 55h1v1h-1zM8 56h1v1h-1zM14 56h1v1h-1zM22 56h1v1h-1zM26 56h3v1h-3zM33 56h1v1h-1zM10 57h1v1h-1zM14 57h1v1h-1zM22 57h1v1h-1zM25 57h4v1h-4z"/><path fill="#50ff00" d="M53 2h1v1h-1zM3 5h1v1h-1zM53 18h1v1h-1zM53 21h1v1h-1zM53 23h1v1h-1zM52 24h1v1h-1zM41 25h1v1h-1zM43 25h3v1h-3zM39 26h1v1h-1zM46 26h1v1h-1zM49 26h1v1h-1zM24 27h2v1h-2zM36 27h1v1h-1zM47 27h3v1h-3zM26 28h1v1h-1zM35 28h1v1h-1zM48 28h1v1h-1zM19 29h1v1h-1zM26 29h1v1h-1zM10 30h1v1h-1zM35 30h1v1h-1zM6 31h1v1h-1zM10 31h1v1h-1zM18 31h1v1h-1zM49 31h2v1h-2zM15 32h2v1h-2zM49 32h1v1h-1zM5 33h1v1h-1zM11 33h1v1h-1zM14 33h1v1h-1zM50 33h1v1h-1zM3 34h1v1h-1zM2 35h1v1h-1zM2 36h1v1h-1zM2 37h1v1h-1zM1 38h1v1h-1zM51 53h1v1h-1z"/><path fill="#ff0018" d="M0 3h1v1h-1zM8 4h1v1h-1zM8 5h1v1h-1zM54 5h1v1h-1zM8 6h1v1h-1zM8 7h2v1h-2zM2 8h1v1h-1zM9 8h1v1h-1zM1 9h1v1h-1zM9 11h1v1h-1zM10 12h1v1h-1zM10 13h1v1h-1zM10 14h1v1h-1zM11 16h1v1h-1zM11 17h1v1h-1zM12 18h2v1h-2zM12 19h2v1h-2zM17 19h2v1h-2zM14 20h3v1h-3zM18 20h2v1h-2zM19 21h3v1h-3zM23 21h1v1h-1zM24 22h1v1h-1zM26 23h2v1h-2zM29 24h1v1h-1zM29 35h1v1h-1zM43 38h1v1h-1zM37 39h1v1h-1zM42 39h1v1h-1zM38 40h1v1h-1zM41 40h1v1h-1zM44 40h1v1h-1zM45 41h1v1h-1zM45 43h1v1h-1zM43 44h2v1h-2zM44 46h1v1h-1zM45 47h1v1h-1zM46 48h1v1h-1zM43 50h1v1h-1zM47 50h1v1h-1zM41 51h1v1h-1zM44 51h2v1h-2zM47 51h1v1h-1zM36 52h3v1h-3zM41 52h1v1h-1zM44 52h4v1h-4zM47 53h1v1h-1zM47 54h1v1h-1zM47 55h1v1h-1zM7 57h1v1h-1z"/><path fill="#2000ff" d="M2 3h1v1h-1zM33 3h1v1h-1zM29 4h4v1h-4zM28 5h1v1h-1zM28 6h1v1h-1zM28 7h2v1h-2zM31 8h1v1h-1zM27 9h2v1h-2zM32 9h1v1h-1zM27 10h1v1h-1zM33 10h1v1h-1zM30 12h3v1h-3zM29 13h1v1h-1zM27 15h1v1h-1zM30 17h3v1h-3zM31 18h1v1h-1zM31 19h1v1h-1zM31 24h1v1h-1zM23 34h1v1h-1zM23 36h1v1h-1zM23 39h1v1h-1zM23 40h1v1h-1zM23 41h1v1h-1zM23 43h1v1h-1zM23 44h1v1h-1zM23 46h1v1h-1zM23 49h2v1h-2zM23 50h3v1h-3zM3 51h1v1h-1zM26 51h1v1h-1zM29 51h1v1h-1zM30 52h1v1h-1zM23 53h4v1h-4zM30 53h1v1h-1zM22 54h1v1h-1zM28 54h2v1h-2zM7 55h1v1h-1zM10 55h1v1h-1zM51 55h1v1h-1zM10 56h1v1h-1zM15 57h1v1h-1zM31 57h2v1h-2z"/><path fill="#ff4800" d="M6 3h1v1h-1zM52 3h1v1h-1zM6 5h1v1h-1zM3 7h1v1h-1zM7 9h1v1h-1zM4 10h2v1h-2zM7 10h1v1h-1zM0 12h2v1h-2zM3 13h1v1h-1zM6 14h1v1h-1zM7 16h1v1h-1zM8 17h1v1h-1zM14 22h1v1h-1zM0 23h2v1h-2zM16 23h2v1h-2zM1 24h1v1h-1zM28 24h1v1h-1zM1 25h1v1h-1zM54 32h2v1h-2zM28 33h1v1h-1zM54 33h2v1h-2zM31 34h1v1h-1zM54 34h2v1h-2zM35 35h1v1h-1zM54 35h2v1h-2zM41 36h3v1h-3zM54 36h2v1h-2zM39 37h2v1h-2zM38 38h2v1h-2zM45 38h1v1h-1zM45 39h1v1h-1zM48 42h2v1h-2zM49 43h2v1h-2zM49 44h2v1h-2zM49 45h2v1h-2zM49 46h1v1h-1zM54 46h2v1h-2zM49 47h1v1h-1z"/><path fill="#ff1800" d="M7 3h1v1h-1zM7 4h1v1h-1zM53 4h1v1h-1zM7 5h1v1h-1zM7 6h1v1h-1zM8 9h1v1h-1zM1 10h2v1h-2zM8 11h1v1h-1zM3 12h2v1h-2zM6 12h1v1h-1zM6 13h1v1h-1zM7 14h2v1h-2zM8 15h2v1h-2zM9 16h1v1h-1zM10 17h1v1h-1zM11 20h1v1h-1zM14 21h1v1h-1zM17 22h1v1h-1zM21 22h1v1h-1zM23 22h1v1h-1zM29 34h1v1h-1zM31 35h3v1h-3zM35 36h1v1h-1zM42 37h2v1h-2zM41 38h1v1h-1zM44 38h1v1h-1zM38 39h1v1h-1zM40 39h1v1h-1zM45 40h1v1h-1zM47 43h1v1h-1zM46 44h2v1h-2zM46 45h2v1h-2zM47 46h1v1h-1zM47 47h1v1h-1zM48 51h1v1h-1z"/><path fill="#ffef00" d="M53 3h1v1h-1zM0 9h1v1h-1zM2 15h1v1h-1zM3 17h1v1h-1zM3 18h1v1h-1zM1 19h3v1h-3zM4 24h1v1h-1zM6 24h1v1h-1zM21 25h1v1h-1zM23 25h2v1h-2zM7 26h1v1h-1zM15 26h2v1h-2zM54 26h2v1h-2zM8 27h3v1h-3zM53 27h1v1h-1zM12 28h2v1h-2zM2 29h1v1h-1zM52 29h1v1h-1zM2 30h1v1h-1zM40 30h2v1h-2zM52 30h1v1h-1zM38 31h1v1h-1zM43 31h1v1h-1zM30 32h1v1h-1zM35 32h2v1h-2zM44 32h1v1h-1zM46 33h1v1h-1zM46 34h1v1h-1zM52 34h1v1h-1zM47 35h1v1h-1zM47 36h1v1h-1zM51 37h1v1h-1zM48 38h2v1h-2zM54 41h2v1h-2zM54 42h2v1h-2zM52 51h1v1h-1z"/><path fill="#68ff00" d="M54 3h1v1h-1zM55 4h1v1h-1zM54 17h1v1h-1zM53 19h1v1h-1zM53 20h1v1h-1zM54 22h2v1h-2zM54 23h1v1h-1zM51 25h1v1h-1zM40 26h3v1h-3zM50 26h1v1h-1zM21 27h3v1h-3zM37 27h1v1h-1zM46 27h1v1h-1zM19 28h1v1h-1zM36 28h1v1h-1zM47 28h1v1h-1zM49 28h1v1h-1zM7 29h3v1h-3zM29 29h1v1h-1zM36 29h1v1h-1zM47 29h3v1h-3zM6 30h1v1h-1zM30 30h1v1h-1zM48 30h3v1h-3zM17 31h1v1h-1zM32 31h2v1h-2zM5 32h1v1h-1zM51 32h1v1h-1zM4 33h1v1h-1zM49 33h1v1h-1zM1 37h1v1h-1zM0 38h1v1h-1zM54 50h1v1h-1zM1 53h1v1h-1z"/><path fill="#ff3000" d="M6 4h1v1h-1zM7 7h1v1h-1zM3 8h1v1h-1zM7 8h1v1h-1zM3 9h1v1h-1zM3 10h1v1h-1zM8 10h1v1h-1zM0 11h8v1h-8zM2 12h1v1h-1zM5 12h1v1h-1zM4 13h2v1h-2zM7 15h1v1h-1zM8 16h1v1h-1zM9 17h1v1h-1zM10 18h1v1h-1zM10 19h1v1h-1zM10 20h1v1h-1zM11 21h3v1h-3zM15 22h2v1h-2zM22 22h1v1h-1zM18 23h3v1h-3zM24 23h1v1h-1zM0 24h1v1h-1zM0 25h1v1h-1zM27 33h1v1h-1zM30 34h1v1h-1zM34 35h1v1h-1zM36 36h1v1h-1zM37 37h1v1h-1zM41 37h1v1h-1zM44 37h1v1h-1zM40 38h1v1h-1zM39 39h1v1h-1zM46 41h1v1h-1zM47 42h1v1h-1zM48 43h1v1h-1zM48 44h1v1h-1zM48 45h1v1h-1zM48 46h1v1h-1zM48 47h1v1h-1zM53 47h2v1h-2zM48 48h1v1h-1zM53 48h2v1h-2zM48 49h1v1h-1zM53 49h1v1h-1zM48 50h1v1h-1zM49 52h1v1h-1zM49 53h1v1h-1z"/><path fill="#ffbf00" d="M54 4h1v1h-1zM4 5h1v1h-1zM3 6h1v1h-1zM3 15h1v1h-1zM4 16h1v1h-1zM5 18h1v1h-1zM6 19h2v1h-2zM1 20h1v1h-1zM8 20h1v1h-1zM3 21h2v1h-2zM8 21h1v1h-1zM5 22h1v1h-1zM8 22h1v1h-1zM4 23h1v1h-1zM3 25h1v1h-1zM8 25h1v1h-1zM16 25h2v1h-2zM26 25h2v1h-2zM9 26h5v1h-5zM2 27h1v1h-1zM54 28h2v1h-2zM1 30h1v1h-1zM1 31h1v1h-1zM40 31h2v1h-2zM27 32h2v1h-2zM38 32h1v1h-1zM42 32h1v1h-1zM32 33h1v1h-1zM34 33h1v1h-1zM37 33h1v1h-1zM44 33h1v1h-1zM45 35h1v1h-1zM52 35h1v1h-1zM46 36h1v1h-1zM52 36h1v1h-1zM52 37h1v1h-1zM51 38h2v1h-2zM47 39h1v1h-1zM50 39h3v1h-3zM52 40h2v1h-2zM52 41h1v1h-1zM52 42h1v1h-1zM53 43h1v1h-1zM50 49h1v1h-1zM51 52h1v1h-1z"/><path fill="#ffa700" d="M55 5h1v1h-1zM2 14h1v1h-1zM4 15h2v1h-2zM5 16h1v1h-1zM5 17h1v1h-1zM6 18h1v1h-1zM8 19h1v1h-1zM0 20h1v1h-1zM2 21h1v1h-1zM4 22h1v1h-1zM8 23h1v1h-1zM3 24h1v1h-1zM8 24h1v1h-1zM21 24h3v1h-3zM9 25h7v1h-7zM2 26h1v1h-1zM1 28h1v1h-1zM1 29h1v1h-1zM53 29h3v1h-3zM0 30h1v1h-1zM53 30h1v1h-1zM0 31h1v1h-1zM39 32h3v1h-3zM31 33h1v1h-1zM35 33h2v1h-2zM38 33h1v1h-1zM42 33h2v1h-2zM37 34h2v1h-2zM44 34h1v1h-1zM46 37h1v1h-1zM46 38h1v1h-1zM53 38h1v1h-1zM53 39h3v1h-3zM48 40h4v1h-4zM52 43h1v1h-1zM52 44h4v1h-4zM51 49h1v1h-1zM50 50h2v1h-2zM0 51h1v1h-1zM6 57h1v1h-1zM51 57h1v1h-1z"/><path fill="#00ffe7" d="M0 6h1v1h-1zM43 9h1v1h-1zM43 10h1v1h-1zM45 11h2v1h-2zM44 12h2v1h-2zM42 13h3v1h-3zM53 13h1v1h-1zM40 14h2v1h-2zM40 15h1v1h-1zM40 16h1v1h-1zM40 17h1v1h-1zM38 19h1v1h-1zM34 23h1v1h-1zM31 26h1v1h-1zM22 31h1v1h-1zM21 32h1v1h-1zM19 37h1v1h-1zM18 38h1v1h-1zM17 40h1v1h-1zM16 41h1v1h-1zM15 42h1v1h-1zM13 44h1v1h-1zM12 45h1v1h-1zM13 46h1v1h-1zM11 47h1v1h-1zM14 47h1v1h-1zM12 48h2v1h-2zM52 53h1v1h-1zM2 56h1v1h-1zM49 57h1v1h-1z"/><path fill="#00ffcf" d="M51 11h1v1h-1zM52 12h1v1h-1zM45 13h1v1h-1zM42 14h3v1h-3zM55 14h1v1h-1zM41 15h1v1h-1zM41 16h1v1h-1zM41 17h1v1h-1zM40 18h1v1h-1zM39 19h1v1h-1zM37 20h1v1h-1zM36 21h1v1h-1zM35 22h1v1h-1zM33 25h1v1h-1zM30 26h1v1h-1zM23 30h1v1h-1zM20 33h1v1h-1zM19 36h1v1h-1zM17 38h1v1h-1zM17 39h1v1h-1zM16 40h1v1h-1zM15 41h1v1h-1zM14 42h1v1h-1zM2 43h1v1h-1zM13 43h1v1h-1zM12 44h1v1h-1zM9 46h4v1h-4zM12 47h2v1h-2z"/><path fill="#00ff40" d="M49 12h2v1h-2zM48 13h1v1h-1zM51 13h1v1h-1zM52 15h4v1h-4zM46 17h3v1h-3zM44 18h2v1h-2zM49 18h1v1h-1zM42 19h1v1h-1zM41 21h1v1h-1zM37 23h1v1h-1zM36 24h1v1h-1zM31 28h1v1h-1zM21 29h1v1h-1zM19 32h1v1h-1zM13 37h1v1h-1zM7 39h1v1h-1zM12 39h1v1h-1zM7 40h1v1h-1zM11 40h1v1h-1zM2 41h1v1h-1zM10 41h1v1h-1zM9 42h1v1h-1zM7 44h1v1h-1zM6 45h1v1h-1zM1 54h1v1h-1zM50 55h1v1h-1zM55 55h1v1h-1zM48 57h1v1h-1z"/><path fill="#ffd700" d="M0 14h2v1h-2zM3 16h1v1h-1zM4 17h1v1h-1zM4 18h1v1h-1zM0 19h1v1h-1zM4 19h2v1h-2zM2 20h6v1h-6zM5 21h3v1h-3zM6 22h2v1h-2zM5 23h3v1h-3zM7 24h1v1h-1zM7 25h1v1h-1zM18 25h3v1h-3zM25 25h1v1h-1zM28 25h1v1h-1zM3 26h1v1h-1zM8 26h1v1h-1zM14 26h1v1h-1zM11 27h3v1h-3zM54 27h2v1h-2zM2 28h1v1h-1zM53 28h1v1h-1zM39 31h1v1h-1zM42 31h1v1h-1zM0 32h2v1h-2zM29 32h1v1h-1zM37 32h1v1h-1zM43 32h1v1h-1zM33 33h1v1h-1zM45 33h1v1h-1zM45 34h1v1h-1zM46 35h1v1h-1zM47 37h1v1h-1zM47 38h1v1h-1zM50 38h1v1h-1zM48 39h2v1h-2zM54 40h2v1h-2zM53 41h1v1h-1zM53 42h1v1h-1zM54 43h2v1h-2zM54 49h1v1h-1zM53 50h1v1h-1zM1 52h1v1h-1z"/><path fill="#f7ff00" d="M0 15h2v1h-2zM2 16h1v1h-1zM2 18h1v1h-1zM5 24h1v1h-1zM4 25h1v1h-1zM22 25h1v1h-1zM55 25h1v1h-1zM17 26h2v1h-2zM3 27h1v1h-1zM14 27h1v1h-1zM3 28h1v1h-1zM11 28h1v1h-1zM52 28h1v1h-1zM12 29h2v1h-2zM39 30h1v1h-1zM42 30h1v1h-1zM2 31h1v1h-1zM44 31h1v1h-1zM52 31h1v1h-1zM2 32h1v1h-1zM45 32h1v1h-1zM52 32h1v1h-1zM0 33h1v1h-1zM52 33h1v1h-1zM47 34h1v1h-1zM51 36h1v1h-1zM48 37h3v1h-3z"/><path fill="#08ff00" d="M53 16h1v1h-1zM52 17h1v1h-1zM50 19h2v1h-2zM49 20h1v1h-1zM47 21h1v1h-1zM49 21h1v1h-1zM47 22h3v1h-3zM40 23h2v1h-2zM45 23h5v1h-5zM39 24h1v1h-1zM47 24h3v1h-3zM37 25h1v1h-1zM35 26h1v1h-1zM34 27h1v1h-1zM21 28h3v1h-3zM25 28h1v1h-1zM20 29h1v1h-1zM31 29h1v1h-1zM33 29h1v1h-1zM7 31h2v1h-2zM19 31h1v1h-1zM7 32h1v1h-1zM18 32h1v1h-1zM7 33h2v1h-2zM17 33h1v1h-1zM6 34h1v1h-1zM16 34h2v1h-2zM5 35h2v1h-2zM9 35h3v1h-3zM13 35h2v1h-2zM5 36h8v1h-8zM6 37h1v1h-1zM10 37h1v1h-1zM4 38h2v1h-2zM0 40h4v1h-4zM6 42h2v1h-2zM6 43h1v1h-1z"/></g><rect x="925.20" y="755.50" width="284.70" height="294.00" fill="none" stroke="#808080" stroke-width="0.8"/><g transform="translate(1216.20 755.50) scale(12.60000 4.59375)" shape-rendering="crispEdges"><path fill="#ff0018" d="M0 0h1v1h-1z"/><path fill="#ff0030" d="M0 1h1v1h-1z"/><path fill="#ff0048" d="M0 2h1v1h-1z"/><path fill="#ff0060" d="M0 3h1v1h-1z"/><path fill="#ff0078" d="M0 4h1v1h-1z"/><path fill="#ff008f" d="M0 5h1v1h-1z"/><path fill="#ff00a7" d="M0 6h1v1h-1z"/><path fill="#ff00bf" d="M0 7h1v1h-1z"/><path fill="#ff00d7" d="M0 8h1v1h-1z"/><path fill="#ff00ef" d="M0 9h1v1h-1z"/><path fill="#f700ff" d="M0 10h1v1h-1z"/><path fill="#df00ff" d="M0 11h1v1h-1z"/><path fill="#c700ff" d="M0 12h1v1h-1z"/><path fill="#af00ff" d="M0 13h1v1h-1z"/><path fill="#9700ff" d="M0 14h1v1h-1z"/><path fill="#8000ff" d="M0 15h1v1h-1z"/><path fill="#6800ff" d="M0 16h1v1h-1z"/><path fill="#5000ff" d="M0 17h1v1h-1z"/><path fill="#3800ff" d="M0 18h1v1h-1z"/><path fill="#2000ff" d="M0 19h1v1h-1z"/><path fill="#0800ff" d="M0 20h1v1h-1z"/><path fill="#0010ff" d="M0 21h1v1h-1z"/><path fill="#0028ff" d="M0 22h1v1h-1z"/><path fill="#0040ff" d="M0 23h1v1h-1z"/><path fill="#0058ff" d="M0 24h1v1h-1z"/><path fill="#0070ff" d="M0 25h1v1h-1z"/><path fill="#0087ff" d="M0 26h1v1h-1z"/><path fill="#009fff" d="M0 27h1v1h-1z"/><path fill="#00b7ff" d="M0 28h1v1h-1z"/><path fill="#00cfff" d="M0 29h1v1h-1z"/><path fill="#00e7ff" d="M0 30h1v1h-1z"/><path fill="#00ffff" d="M0 31h1v1h-1z"/><path fill="#00ffe7" d="M0 32h1v1h-1z"/><path fill="#00ffcf" d="M0 33h1v1h-1z"/><path fill="#00ffb7" d="M0 34h1v1h-1z"/><path fill="#00ff9f" d="M0 35h1v1h-1z"/><path fill="#00ff87" d="M0 36h1v1h-1z"/><path fill="#00ff70" d="M0 37h1v1h-1z"/><path fill="#00ff58" d="M0 38h1v1h-1z"/><path fill="#00ff40" d="M0 39h1v1h-1z"/><path fill="#00ff28" d="M0 40h1v1h-1z"/><path fill="#00ff10" d="M0 41h1v1h-1z"/><path fill="#08ff00" d="M0 42h1v1h-1z"/><path fill="#20ff00" d="M0 43h1v1h-1z"/><path fill="#38ff00" d="M0 44h1v1h-1z"/><path fill="#50ff00" d="M0 45h1v1h-1z"/><path fill="#68ff00" d="M0 46h1v1h-1z"/><path fill="#80ff00" d="M0 47h1v1h-1z"/><path fill="#97ff00" d="M0 48h1v1h-1z"/><path fill="#afff00" d="M0 49h1v1h-1z"/><path fill="#c7ff00" d="M0 50h1v1h-1z"/><path fill="#dfff00" d="M0 51h1v1h-1z"/><path fill="#f7ff00" d="M0 52h1v1h-1z"/><path fill="#ffef00" d="M0 53h1v1h-1z"/><path fill="#ffd700" d="M0 54h1v1h-1z"/><path fill="#ffbf00" d="M0 55h1v1h-1z"/><path fill="#ffa700" d="M0 56h1v1h-1z"/><path fill="#ff8f00" d="M0 57h1v1h-1z"/><path fill="#ff7800" d="M0 58h1v1h-1z"/><path fill="#ff6000" d="M0 59h1v1h-1z"/><path fill="#ff4800" d="M0 60h1v1h-1z"/><path fill="#ff3000" d="M0 61h1v1h-1z"/><path fill="#ff1800" d="M0 62h1v1h-1z"/><path fill="#ff0000" d="M0 63h1v1h-1z"/></g><rect x="1216.20" y="755.50" width="12.60" height="294.00" fill="none" stroke="#606060" stroke-width="0.8"/><text font-size="20.7" text-anchor="start" transform="translate(1235.8 764.4) scale(1.0 1.1)">360</text><text font-size="20.7" text-anchor="start" transform="translate(1235.8 1056.7) scale(1.0 1.1)">0</text><g transform="translate(1353.30 754.90) scale(5.04107 5.02759)" shape-rendering="crispEdges"><path fill="#6c0000" d="M0 0h1v1h-1zM5 0h1v1h-1zM9 0h1v1h-1zM17 0h1v1h-1zM35 0h4v1h-4zM45 0h1v1h-1zM50 0h1v1h-1zM54 0h1v1h-1zM6 1h1v1h-1zM8 1h1v1h-1zM12 1h1v1h-1zM15 1h1v1h-1zM36 1h1v1h-1zM39 1h1v1h-1zM6 2h1v1h-1zM14 2h1v1h-1zM39 2h3v1h-3zM45 2h2v1h-2zM55 2h1v1h-1zM7 3h2v1h-2zM42 3h1v1h-1zM44 3h1v1h-1zM5 4h1v1h-1zM45 4h1v1h-1zM50 4h1v1h-1zM52 4h1v1h-1zM4 5h1v1h-1zM8 5h1v1h-1zM46 5h1v1h-1zM48 6h1v1h-1zM54 6h1v1h-1zM3 7h1v1h-1zM2 8h1v1h-1zM51 8h1v1h-1zM52 9h1v1h-1zM4 10h1v1h-1zM52 12h1v1h-1zM54 12h1v1h-1zM54 13h1v1h-1zM1 16h2v1h-2zM1 17h1v1h-1zM55 17h1v1h-1zM0 18h2v1h-2zM0 23h1v1h-1zM0 24h1v1h-1zM0 28h1v1h-1zM55 31h1v1h-1zM1 34h1v1h-1zM1 36h1v1h-1zM2 37h1v1h-1zM55 38h1v1h-1zM54 39h1v1h-1zM54 40h1v1h-1zM53 42h1v1h-1zM53 43h1v1h-1zM1 44h1v1h-1zM55 45h1v1h-1zM2 46h1v1h-1zM51 46h1v1h-1zM3 48h1v1h-1zM3 51h1v1h-1zM50 52h1v1h-1zM12 53h1v1h-1zM49 53h1v1h-1zM6 54h2v1h-2zM14 54h1v1h-1zM0 55h1v1h-1zM11 55h1v1h-1zM39 55h2v1h-2zM46 55h1v1h-1zM1 56h1v1h-1zM11 56h1v1h-1zM32 56h1v1h-1zM37 56h5v1h-5zM51 56h1v1h-1zM55 56h1v1h-1zM0 57h3v1h-3zM6 57h1v1h-1zM13 57h1v1h-1zM20 57h1v1h-1zM27 57h1v1h-1zM33 57h1v1h-1zM40 57h1v1h-1zM43 57h1v1h-1zM47 57h1v1h-1z"/><path fill="#610000" d="M1 0h2v1h-2zM10 0h1v1h-1zM14 0h1v1h-1zM46 0h2v1h-2zM55 0h1v1h-1zM0 1h3v1h-3zM7 1h1v1h-1zM13 1h1v1h-1zM37 1h2v1h-2zM46 1h1v1h-1zM51 1h1v1h-1zM55 1h1v1h-1zM7 2h2v1h-2zM11 2h1v1h-1zM52 2h1v1h-1zM43 3h1v1h-1zM49 3h1v1h-1zM52 3h1v1h-1zM8 4h1v1h-1zM51 4h1v1h-1zM3 6h1v1h-1zM55 6h1v1h-1zM54 7h1v1h-1zM54 8h1v1h-1zM1 9h1v1h-1zM55 9h1v1h-1zM52 10h1v1h-1zM0 12h1v1h-1zM2 15h1v1h-1zM55 15h1v1h-1zM55 16h1v1h-1zM26 27h1v1h-1zM0 31h1v1h-1zM0 32h1v1h-1zM55 32h1v1h-1zM1 38h2v1h-2zM55 39h1v1h-1zM2 47h1v1h-1zM1 48h1v1h-1zM3 49h1v1h-1zM2 50h2v1h-2zM52 50h1v1h-1zM1 51h1v1h-1zM53 51h1v1h-1zM1 52h1v1h-1zM0 53h2v1h-2zM11 53h1v1h-1zM31 53h3v1h-3zM0 54h3v1h-3zM11 54h1v1h-1zM48 54h1v1h-1zM6 55h2v1h-2zM15 55h1v1h-1zM41 55h1v1h-1zM47 55h1v1h-1zM53 55h3v1h-3zM2 56h1v1h-1zM6 56h1v1h-1zM17 56h1v1h-1zM45 56h1v1h-1zM52 56h1v1h-1zM11 57h2v1h-2zM14 57h1v1h-1zM19 57h1v1h-1zM41 57h2v1h-2zM44 57h1v1h-1zM54 57h1v1h-1z"/><path fill="#560000" d="M3 0h2v1h-2zM15 0h2v1h-2zM48 0h1v1h-1zM3 1h1v1h-1zM5 1h1v1h-1zM14 1h1v1h-1zM50 1h1v1h-1zM0 2h4v1h-4zM5 2h1v1h-1zM13 2h1v1h-1zM47 2h3v1h-3zM1 3h3v1h-3zM5 3h1v1h-1zM1 4h2v1h-2zM4 4h1v1h-1zM43 4h2v1h-2zM3 5h1v1h-1zM2 6h1v1h-1zM2 7h1v1h-1zM51 9h1v1h-1zM0 10h1v1h-1zM0 11h1v1h-1zM52 11h2v1h-2zM27 25h1v1h-1zM0 29h1v1h-1zM0 30h1v1h-1zM30 30h1v1h-1zM29 31h1v1h-1zM0 33h1v1h-1zM0 34h1v1h-1zM1 37h1v1h-1zM0 43h1v1h-1zM1 45h1v1h-1zM55 46h1v1h-1zM0 47h2v1h-2zM2 48h1v1h-1zM54 48h1v1h-1zM2 49h1v1h-1zM55 49h1v1h-1zM55 50h1v1h-1zM54 51h1v1h-1zM53 52h2v1h-2zM13 54h1v1h-1zM51 54h4v1h-4zM1 55h2v1h-2zM9 56h1v1h-1zM12 56h1v1h-1zM46 56h2v1h-2zM54 56h1v1h-1zM10 57h1v1h-1zM46 57h1v1h-1zM48 57h1v1h-1zM51 57h1v1h-1z"/><path fill="#770000" d="M6 0h1v1h-1zM13 0h1v1h-1zM18 0h1v1h-1zM22 0h2v1h-2zM29 0h2v1h-2zM34 0h1v1h-1zM53 0h1v1h-1zM11 1h1v1h-1zM35 1h1v1h-1zM40 1h1v1h-1zM45 1h1v1h-1zM52 1h1v1h-1zM54 1h1v1h-1zM38 2h1v1h-1zM42 2h3v1h-3zM6 3h1v1h-1zM11 3h2v1h-2zM41 3h1v1h-1zM45 3h1v1h-1zM48 3h1v1h-1zM7 4h1v1h-1zM46 4h1v1h-1zM53 4h1v1h-1zM45 5h1v1h-1zM47 5h1v1h-1zM52 5h4v1h-4zM47 6h1v1h-1zM49 6h1v1h-1zM48 7h2v1h-2zM53 7h1v1h-1zM50 8h1v1h-1zM52 8h2v1h-2zM4 9h1v1h-1zM50 9h1v1h-1zM1 10h1v1h-1zM5 10h1v1h-1zM11 10h2v1h-2zM51 11h1v1h-1zM54 11h1v1h-1zM53 13h1v1h-1zM2 14h1v1h-1zM54 14h2v1h-2zM1 15h1v1h-1zM54 15h1v1h-1zM0 17h1v1h-1zM55 18h1v1h-1zM0 19h2v1h-2zM0 20h1v1h-1zM0 25h1v1h-1zM29 25h1v1h-1zM26 26h1v1h-1zM0 27h1v1h-1zM55 28h1v1h-1zM55 29h1v1h-1zM55 30h1v1h-1zM26 31h1v1h-1zM28 32h1v1h-1zM1 33h1v1h-1zM0 35h2v1h-2zM55 35h1v1h-1zM0 36h1v1h-1zM55 36h1v1h-1zM0 37h1v1h-1zM55 37h1v1h-1zM54 38h1v1h-1zM1 39h2v1h-2zM55 40h1v1h-1zM53 41h2v1h-2zM0 42h1v1h-1zM54 42h1v1h-1zM54 43h1v1h-1zM52 44h2v1h-2zM51 45h2v1h-2zM50 47h2v1h-2zM54 47h1v1h-1zM49 48h2v1h-2zM53 48h1v1h-1zM1 49h1v1h-1zM4 49h1v1h-1zM52 49h1v1h-1zM1 50h1v1h-1zM4 50h1v1h-1zM47 50h1v1h-1zM2 51h1v1h-1zM4 51h1v1h-1zM47 51h1v1h-1zM2 52h3v1h-3zM33 52h1v1h-1zM2 53h1v1h-1zM8 53h1v1h-1zM43 53h1v1h-1zM5 54h1v1h-1zM8 54h1v1h-1zM47 54h1v1h-1zM3 55h1v1h-1zM5 55h1v1h-1zM8 55h1v1h-1zM16 55h1v1h-1zM38 55h1v1h-1zM42 55h1v1h-1zM52 55h1v1h-1zM0 56h1v1h-1zM3 56h1v1h-1zM5 56h1v1h-1zM10 56h1v1h-1zM18 56h1v1h-1zM31 56h1v1h-1zM35 56h2v1h-2zM42 56h1v1h-1zM44 56h1v1h-1zM3 57h1v1h-1zM5 57h1v1h-1zM28 57h1v1h-1zM34 57h2v1h-2zM38 57h2v1h-2zM55 57h1v1h-1z"/><path fill="#820000" d="M7 0h1v1h-1zM11 0h1v1h-1zM21 0h1v1h-1zM24 0h1v1h-1zM33 0h1v1h-1zM39 0h2v1h-2zM44 0h1v1h-1zM51 0h2v1h-2zM9 1h2v1h-2zM16 1h1v1h-1zM34 1h1v1h-1zM41 1h1v1h-1zM44 1h1v1h-1zM53 1h1v1h-1zM37 2h1v1h-1zM54 2h1v1h-1zM46 3h2v1h-2zM53 3h3v1h-3zM9 4h1v1h-1zM18 4h2v1h-2zM42 4h1v1h-1zM47 4h1v1h-1zM49 4h1v1h-1zM54 4h1v1h-1zM5 5h1v1h-1zM7 5h1v1h-1zM9 5h1v1h-1zM48 5h4v1h-4zM4 6h1v1h-1zM7 6h2v1h-2zM46 6h1v1h-1zM53 6h1v1h-1zM47 7h1v1h-1zM50 7h1v1h-1zM3 8h2v1h-2zM5 9h1v1h-1zM12 9h1v1h-1zM54 9h1v1h-1zM53 10h1v1h-1zM55 10h1v1h-1zM1 11h1v1h-1zM4 11h1v1h-1zM1 12h1v1h-1zM47 12h1v1h-1zM0 13h1v1h-1zM2 13h2v1h-2zM55 13h1v1h-1zM1 14h1v1h-1zM3 14h1v1h-1zM3 15h1v1h-1zM54 16h1v1h-1zM2 17h1v1h-1zM55 19h1v1h-1zM1 20h1v1h-1zM0 21h1v1h-1zM0 22h1v1h-1zM28 24h1v1h-1zM0 26h1v1h-1zM30 26h1v1h-1zM55 27h1v1h-1zM27 32h1v1h-1zM54 33h1v1h-1zM54 34h1v1h-1zM0 38h1v1h-1zM0 39h1v1h-1zM1 40h2v1h-2zM53 40h1v1h-1zM2 41h1v1h-1zM1 43h1v1h-1zM52 43h1v1h-1zM54 44h2v1h-2zM2 45h1v1h-1zM45 45h1v1h-1zM44 46h2v1h-2zM52 46h1v1h-1zM54 46h1v1h-1zM3 47h1v1h-1zM0 48h1v1h-1zM4 48h2v1h-2zM51 48h1v1h-1zM48 49h2v1h-2zM0 50h1v1h-1zM48 50h1v1h-1zM51 50h1v1h-1zM46 51h1v1h-1zM50 51h1v1h-1zM9 52h3v1h-3zM32 52h1v1h-1zM34 52h1v1h-1zM3 53h3v1h-3zM9 53h2v1h-2zM13 53h1v1h-1zM19 53h1v1h-1zM30 53h1v1h-1zM34 53h1v1h-1zM48 53h1v1h-1zM3 54h1v1h-1zM10 54h1v1h-1zM31 54h2v1h-2zM40 54h1v1h-1zM43 54h1v1h-1zM9 55h1v1h-1zM37 55h1v1h-1zM45 55h1v1h-1zM51 55h1v1h-1zM43 56h1v1h-1zM36 57h2v1h-2z"/><path fill="#8c0000" d="M8 0h1v1h-1zM28 0h1v1h-1zM32 0h1v1h-1zM41 0h3v1h-3zM22 1h1v1h-1zM33 1h1v1h-1zM42 1h2v1h-2zM9 2h2v1h-2zM22 2h1v1h-1zM53 2h1v1h-1zM9 3h1v1h-1zM25 3h2v1h-2zM40 3h1v1h-1zM6 4h1v1h-1zM20 4h1v1h-1zM48 4h1v1h-1zM55 4h1v1h-1zM44 5h1v1h-1zM6 6h1v1h-1zM9 6h1v1h-1zM50 6h1v1h-1zM52 6h1v1h-1zM4 7h1v1h-1zM7 7h1v1h-1zM51 7h2v1h-2zM49 8h1v1h-1zM2 9h2v1h-2zM6 9h1v1h-1zM53 9h1v1h-1zM3 10h1v1h-1zM50 10h1v1h-1zM54 10h1v1h-1zM3 11h1v1h-1zM5 11h1v1h-1zM3 12h1v1h-1zM1 13h1v1h-1zM0 14h1v1h-1zM0 15h1v1h-1zM0 16h1v1h-1zM3 16h1v1h-1zM54 17h1v1h-1zM55 20h1v1h-1zM4 21h1v1h-1zM4 22h1v1h-1zM55 23h1v1h-1zM55 24h1v1h-1zM55 25h1v1h-1zM55 26h1v1h-1zM25 29h1v1h-1zM1 30h1v1h-1zM1 32h1v1h-1zM51 33h2v1h-2zM51 34h1v1h-1zM51 35h1v1h-1zM54 35h1v1h-1zM51 36h1v1h-1zM54 36h1v1h-1zM50 37h2v1h-2zM54 37h1v1h-1zM50 38h1v1h-1zM0 40h1v1h-1zM3 40h1v1h-1zM0 41h2v1h-2zM3 41h1v1h-1zM55 41h1v1h-1zM1 42h3v1h-3zM52 42h1v1h-1zM55 43h1v1h-1zM2 44h1v1h-1zM44 45h1v1h-1zM54 45h1v1h-1zM50 46h1v1h-1zM4 47h3v1h-3zM49 47h1v1h-1zM52 47h1v1h-1zM6 48h1v1h-1zM52 48h1v1h-1zM47 49h1v1h-1zM50 49h1v1h-1zM46 50h1v1h-1zM9 51h1v1h-1zM48 51h1v1h-1zM47 52h1v1h-1zM6 53h2v1h-2zM20 53h1v1h-1zM44 53h1v1h-1zM47 53h1v1h-1zM4 54h1v1h-1zM9 54h1v1h-1zM27 54h2v1h-2zM30 54h1v1h-1zM41 54h2v1h-2zM4 55h1v1h-1zM10 55h1v1h-1zM24 55h3v1h-3zM36 55h1v1h-1zM43 55h1v1h-1zM4 56h1v1h-1zM19 56h1v1h-1zM33 56h2v1h-2zM4 57h1v1h-1zM24 57h3v1h-3z"/><path fill="#970000" d="M12 0h1v1h-1zM19 0h2v1h-2zM27 0h1v1h-1zM31 0h1v1h-1zM17 1h1v1h-1zM23 1h2v1h-2zM30 1h1v1h-1zM23 2h4v1h-4zM36 2h1v1h-1zM10 3h1v1h-1zM13 3h1v1h-1zM21 3h4v1h-4zM27 3h1v1h-1zM39 3h1v1h-1zM26 4h1v1h-1zM6 5h1v1h-1zM5 6h1v1h-1zM16 6h1v1h-1zM45 6h1v1h-1zM51 6h1v1h-1zM5 7h2v1h-2zM5 8h2v1h-2zM48 8h1v1h-1zM11 9h1v1h-1zM6 10h1v1h-1zM11 11h1v1h-1zM47 11h1v1h-1zM55 11h1v1h-1zM2 12h1v1h-1zM4 12h1v1h-1zM51 12h1v1h-1zM55 12h1v1h-1zM49 15h1v1h-1zM49 16h2v1h-2zM6 17h1v1h-1zM2 18h1v1h-1zM6 18h1v1h-1zM54 18h1v1h-1zM2 19h1v1h-1zM2 20h1v1h-1zM1 21h1v1h-1zM55 21h1v1h-1zM55 22h1v1h-1zM1 23h1v1h-1zM1 24h1v1h-1zM27 24h1v1h-1zM52 24h2v1h-2zM52 25h1v1h-1zM52 26h1v1h-1zM52 28h1v1h-1zM1 29h1v1h-1zM3 29h2v1h-2zM4 30h1v1h-1zM52 30h1v1h-1zM1 31h1v1h-1zM29 32h1v1h-1zM51 32h1v1h-1zM52 34h2v1h-2zM52 35h1v1h-1zM2 36h1v1h-1zM51 38h1v1h-1zM3 39h1v1h-1zM53 39h1v1h-1zM52 41h1v1h-1zM55 42h1v1h-1zM2 43h2v1h-2zM51 44h1v1h-1zM3 45h1v1h-1zM46 45h1v1h-1zM53 45h1v1h-1zM3 46h3v1h-3zM43 46h1v1h-1zM53 46h1v1h-1zM7 47h1v1h-1zM44 47h2v1h-2zM53 47h1v1h-1zM7 48h1v1h-1zM48 48h1v1h-1zM5 49h1v1h-1zM51 49h1v1h-1zM5 50h1v1h-1zM49 50h2v1h-2zM5 51h1v1h-1zM10 51h1v1h-1zM45 51h1v1h-1zM5 52h1v1h-1zM8 52h1v1h-1zM31 52h1v1h-1zM44 52h3v1h-3zM48 52h2v1h-2zM14 53h1v1h-1zM18 53h1v1h-1zM29 53h1v1h-1zM19 54h2v1h-2zM23 54h2v1h-2zM29 54h1v1h-1zM33 54h1v1h-1zM39 54h1v1h-1zM44 54h1v1h-1zM46 54h1v1h-1zM17 55h1v1h-1zM21 55h3v1h-3zM27 55h1v1h-1zM35 55h1v1h-1zM44 55h1v1h-1zM20 56h1v1h-1zM25 56h4v1h-4zM21 57h1v1h-1zM23 57h1v1h-1zM30 57h1v1h-1z"/><path fill="#a20000" d="M25 0h1v1h-1zM18 1h1v1h-1zM21 1h1v1h-1zM29 1h1v1h-1zM31 1h2v1h-2zM15 2h1v1h-1zM21 2h1v1h-1zM27 2h1v1h-1zM18 3h3v1h-3zM28 3h1v1h-1zM38 3h1v1h-1zM10 4h2v1h-2zM17 4h1v1h-1zM21 4h1v1h-1zM25 4h1v1h-1zM27 4h1v1h-1zM41 4h1v1h-1zM10 5h1v1h-1zM17 5h2v1h-2zM43 5h1v1h-1zM15 6h1v1h-1zM8 7h1v1h-1zM12 8h1v1h-1zM41 8h1v1h-1zM49 9h1v1h-1zM2 10h1v1h-1zM10 10h1v1h-1zM2 11h1v1h-1zM10 11h1v1h-1zM46 11h1v1h-1zM48 12h1v1h-1zM4 13h1v1h-1zM52 13h1v1h-1zM53 14h1v1h-1zM50 15h1v1h-1zM6 16h1v1h-1zM5 19h2v1h-2zM54 19h1v1h-1zM5 20h1v1h-1zM5 21h1v1h-1zM1 22h1v1h-1zM3 22h1v1h-1zM52 23h2v1h-2zM54 24h1v1h-1zM1 25h1v1h-1zM53 25h2v1h-2zM1 26h1v1h-1zM53 26h2v1h-2zM1 27h1v1h-1zM3 27h1v1h-1zM52 27h3v1h-3zM1 28h1v1h-1zM3 28h2v1h-2zM25 28h1v1h-1zM31 28h1v1h-1zM53 28h2v1h-2zM52 29h1v1h-1zM3 30h1v1h-1zM51 30h1v1h-1zM30 31h1v1h-1zM51 31h2v1h-2zM52 32h1v1h-1zM54 32h1v1h-1zM2 33h1v1h-1zM53 33h1v1h-1zM2 34h1v1h-1zM53 35h1v1h-1zM52 36h2v1h-2zM53 37h1v1h-1zM49 38h1v1h-1zM53 38h1v1h-1zM50 39h2v1h-2zM51 40h2v1h-2zM51 41h1v1h-1zM3 44h1v1h-1zM4 45h1v1h-1zM6 46h1v1h-1zM46 46h1v1h-1zM43 47h1v1h-1zM0 49h1v1h-1zM6 49h1v1h-1zM46 49h1v1h-1zM45 50h1v1h-1zM8 51h1v1h-1zM34 51h1v1h-1zM49 51h1v1h-1zM12 52h1v1h-1zM30 52h1v1h-1zM35 52h1v1h-1zM43 52h1v1h-1zM28 53h1v1h-1zM15 54h1v1h-1zM18 54h1v1h-1zM21 54h2v1h-2zM25 54h2v1h-2zM38 54h1v1h-1zM18 55h1v1h-1zM28 55h1v1h-1zM30 55h3v1h-3zM21 56h1v1h-1zM23 56h2v1h-2zM22 57h1v1h-1zM29 57h1v1h-1z"/><path fill="#ad0000" d="M26 0h1v1h-1zM25 1h4v1h-4zM28 2h3v1h-3zM34 2h2v1h-2zM37 3h1v1h-1zM28 4h1v1h-1zM16 5h1v1h-1zM19 5h1v1h-1zM7 8h1v1h-1zM42 8h1v1h-1zM47 8h1v1h-1zM41 9h2v1h-2zM6 11h1v1h-1zM50 11h1v1h-1zM5 12h1v1h-1zM9 12h2v1h-2zM46 12h1v1h-1zM8 13h2v1h-2zM47 13h2v1h-2zM4 14h1v1h-1zM4 15h1v1h-1zM53 15h1v1h-1zM4 16h2v1h-2zM5 18h1v1h-1zM4 20h1v1h-1zM54 20h1v1h-1zM3 21h1v1h-1zM5 22h1v1h-1zM2 23h3v1h-3zM54 23h1v1h-1zM2 24h2v1h-2zM2 25h2v1h-2zM26 25h1v1h-1zM2 26h2v1h-2zM4 27h1v1h-1zM31 27h1v1h-1zM2 29h1v1h-1zM51 29h1v1h-1zM54 29h1v1h-1zM25 30h1v1h-1zM54 30h1v1h-1zM4 31h1v1h-1zM54 31h1v1h-1zM26 32h1v1h-1zM2 35h1v1h-1zM50 36h1v1h-1zM6 37h1v1h-1zM49 37h1v1h-1zM52 37h1v1h-1zM3 38h1v1h-1zM6 38h1v1h-1zM52 38h1v1h-1zM52 39h1v1h-1zM50 40h1v1h-1zM4 42h1v1h-1zM51 42h1v1h-1zM4 43h1v1h-1zM4 44h1v1h-1zM46 44h1v1h-1zM5 45h1v1h-1zM43 45h1v1h-1zM50 45h1v1h-1zM7 46h1v1h-1zM42 48h4v1h-4zM7 49h1v1h-1zM40 49h2v1h-2zM43 49h1v1h-1zM6 50h4v1h-4zM6 51h1v1h-1zM11 51h1v1h-1zM15 51h2v1h-2zM33 51h1v1h-1zM35 51h1v1h-1zM6 52h2v1h-2zM17 52h3v1h-3zM17 53h1v1h-1zM27 53h1v1h-1zM35 53h1v1h-1zM42 53h1v1h-1zM45 53h2v1h-2zM34 54h2v1h-2zM37 54h1v1h-1zM45 54h1v1h-1zM19 55h2v1h-2zM29 55h1v1h-1zM22 56h1v1h-1zM30 56h1v1h-1z"/><path fill="#4c0000" d="M49 0h1v1h-1zM4 1h1v1h-1zM47 1h3v1h-3zM12 2h1v1h-1zM0 3h1v1h-1zM4 3h1v1h-1zM50 3h2v1h-2zM0 4h1v1h-1zM3 4h1v1h-1zM1 5h2v1h-2zM55 7h1v1h-1zM0 8h2v1h-2zM55 8h1v1h-1zM0 9h1v1h-1zM51 10h1v1h-1zM53 12h1v1h-1zM28 25h1v1h-1zM26 28h1v1h-1zM26 30h1v1h-1zM55 34h1v1h-1zM0 46h2v1h-2zM55 47h1v1h-1zM55 48h1v1h-1zM53 49h1v1h-1zM53 50h2v1h-2zM0 51h1v1h-1zM51 51h2v1h-2zM55 51h1v1h-1zM0 52h1v1h-1zM55 52h1v1h-1zM50 53h1v1h-1zM54 53h2v1h-2zM12 54h1v1h-1zM55 54h1v1h-1zM12 55h1v1h-1zM14 55h1v1h-1zM50 55h1v1h-1zM7 56h1v1h-1zM13 56h1v1h-1zM50 56h1v1h-1zM53 56h1v1h-1zM18 57h1v1h-1zM31 57h1v1h-1zM45 57h1v1h-1zM52 57h2v1h-2z"/><path fill="#c20000" d="M19 1h2v1h-2zM30 3h1v1h-1zM32 3h1v1h-1zM23 4h2v1h-2zM40 4h1v1h-1zM15 5h1v1h-1zM20 5h1v1h-1zM41 5h1v1h-1zM17 6h1v1h-1zM39 6h1v1h-1zM9 7h1v1h-1zM12 7h1v1h-1zM15 7h1v1h-1zM37 7h2v1h-2zM40 7h1v1h-1zM13 8h1v1h-1zM47 9h1v1h-1zM9 10h1v1h-1zM13 10h1v1h-1zM44 10h1v1h-1zM48 10h2v1h-2zM45 11h1v1h-1zM11 12h1v1h-1zM50 12h1v1h-1zM10 13h1v1h-1zM49 13h1v1h-1zM51 13h1v1h-1zM52 14h1v1h-1zM5 15h3v1h-3zM51 15h1v1h-1zM7 16h1v1h-1zM51 17h2v1h-2zM52 18h1v1h-1zM3 19h2v1h-2zM52 19h1v1h-1zM52 20h1v1h-1zM54 21h1v1h-1zM52 22h1v1h-1zM54 22h1v1h-1zM4 24h1v1h-1zM51 24h1v1h-1zM4 25h1v1h-1zM30 25h1v1h-1zM51 25h1v1h-1zM4 26h1v1h-1zM51 26h1v1h-1zM51 27h1v1h-1zM24 29h1v1h-1zM50 30h1v1h-1zM2 31h1v1h-1zM50 31h1v1h-1zM53 31h1v1h-1zM2 32h1v1h-1zM4 32h1v1h-1zM53 32h1v1h-1zM46 35h2v1h-2zM46 36h1v1h-1zM7 39h2v1h-2zM43 41h1v1h-1zM48 41h2v1h-2zM10 42h1v1h-1zM43 42h1v1h-1zM48 42h1v1h-1zM9 43h2v1h-2zM43 43h1v1h-1zM9 44h1v1h-1zM43 44h1v1h-1zM6 45h1v1h-1zM8 45h4v1h-4zM47 45h1v1h-1zM8 46h1v1h-1zM12 46h1v1h-1zM8 47h1v1h-1zM11 47h1v1h-1zM42 47h1v1h-1zM8 48h1v1h-1zM13 48h1v1h-1zM21 48h2v1h-2zM40 48h1v1h-1zM8 49h1v1h-1zM13 49h1v1h-1zM25 49h1v1h-1zM38 49h1v1h-1zM10 50h1v1h-1zM14 50h1v1h-1zM16 50h1v1h-1zM37 50h1v1h-1zM40 50h1v1h-1zM44 50h1v1h-1zM14 51h1v1h-1zM17 51h1v1h-1zM14 52h2v1h-2zM20 52h1v1h-1zM36 52h1v1h-1zM42 52h1v1h-1zM21 53h1v1h-1zM36 53h1v1h-1zM40 53h2v1h-2z"/><path fill="#410000" d="M4 2h1v1h-1zM50 2h1v1h-1zM0 7h2v1h-2zM30 27h1v1h-1zM27 31h1v1h-1zM55 33h1v1h-1zM0 44h1v1h-1zM0 45h1v1h-1zM54 49h1v1h-1zM52 52h1v1h-1zM53 53h1v1h-1zM49 54h2v1h-2zM13 55h1v1h-1zM48 55h1v1h-1zM8 56h1v1h-1zM14 56h1v1h-1zM16 56h1v1h-1zM48 56h1v1h-1zM7 57h1v1h-1zM17 57h1v1h-1zM32 57h1v1h-1zM50 57h1v1h-1z"/><path fill="#b70000" d="M16 2h3v1h-3zM31 2h3v1h-3zM14 3h1v1h-1zM17 3h1v1h-1zM29 3h1v1h-1zM31 3h1v1h-1zM12 4h1v1h-1zM22 4h1v1h-1zM31 4h2v1h-2zM11 5h1v1h-1zM42 5h1v1h-1zM10 6h1v1h-1zM41 7h1v1h-1zM46 7h1v1h-1zM7 9h1v1h-1zM13 9h1v1h-1zM48 9h1v1h-1zM45 10h3v1h-3zM9 11h1v1h-1zM12 11h1v1h-1zM48 11h1v1h-1zM6 12h1v1h-1zM8 12h1v1h-1zM8 14h1v1h-1zM48 14h2v1h-2zM48 15h1v1h-1zM51 16h1v1h-1zM53 16h1v1h-1zM3 17h1v1h-1zM5 17h1v1h-1zM50 17h1v1h-1zM53 17h1v1h-1zM53 18h1v1h-1zM53 19h1v1h-1zM3 20h1v1h-1zM6 20h1v1h-1zM53 20h1v1h-1zM2 21h1v1h-1zM2 22h1v1h-1zM29 24h1v1h-1zM2 27h1v1h-1zM25 27h1v1h-1zM2 28h1v1h-1zM51 28h1v1h-1zM31 29h1v1h-1zM53 29h1v1h-1zM2 30h1v1h-1zM53 30h1v1h-1zM3 31h1v1h-1zM50 32h1v1h-1zM50 33h1v1h-1zM50 34h1v1h-1zM50 35h1v1h-1zM3 37h1v1h-1zM7 38h1v1h-1zM49 39h1v1h-1zM4 40h1v1h-1zM8 40h1v1h-1zM49 40h1v1h-1zM4 41h1v1h-1zM50 41h1v1h-1zM9 42h1v1h-1zM47 43h1v1h-1zM51 43h1v1h-1zM10 44h1v1h-1zM44 44h2v1h-2zM47 44h1v1h-1zM11 46h1v1h-1zM49 46h1v1h-1zM12 47h1v1h-1zM46 47h1v1h-1zM48 47h1v1h-1zM12 48h1v1h-1zM41 48h1v1h-1zM46 48h2v1h-2zM39 49h1v1h-1zM42 49h1v1h-1zM44 49h2v1h-2zM15 50h1v1h-1zM38 50h2v1h-2zM7 51h1v1h-1zM36 51h1v1h-1zM44 51h1v1h-1zM13 52h1v1h-1zM16 52h1v1h-1zM29 52h1v1h-1zM23 53h2v1h-2zM16 54h2v1h-2zM36 54h1v1h-1zM33 55h2v1h-2zM29 56h1v1h-1z"/><path fill="#cd0000" d="M19 2h2v1h-2zM33 3h1v1h-1zM36 3h1v1h-1zM29 4h2v1h-2zM33 4h1v1h-1zM37 4h2v1h-2zM21 5h1v1h-1zM11 6h1v1h-1zM14 6h1v1h-1zM36 6h1v1h-1zM38 6h1v1h-1zM40 6h2v1h-2zM44 6h1v1h-1zM13 7h2v1h-2zM39 7h1v1h-1zM42 7h1v1h-1zM8 8h1v1h-1zM11 8h1v1h-1zM40 8h1v1h-1zM10 9h1v1h-1zM43 9h2v1h-2zM7 10h1v1h-1zM7 11h2v1h-2zM49 11h1v1h-1zM7 12h1v1h-1zM49 12h1v1h-1zM5 13h1v1h-1zM7 13h1v1h-1zM50 13h1v1h-1zM7 14h1v1h-1zM9 14h1v1h-1zM50 14h1v1h-1zM52 15h1v1h-1zM48 16h1v1h-1zM52 16h1v1h-1zM4 17h1v1h-1zM49 17h1v1h-1zM3 18h1v1h-1zM51 18h1v1h-1zM6 21h1v1h-1zM52 21h1v1h-1zM47 22h1v1h-1zM51 22h1v1h-1zM5 23h1v1h-1zM51 23h1v1h-1zM31 26h1v1h-1zM24 28h1v1h-1zM3 32h1v1h-1zM27 33h2v1h-2zM47 36h1v1h-1zM5 37h1v1h-1zM7 37h1v1h-1zM5 38h1v1h-1zM48 38h1v1h-1zM4 39h1v1h-1zM44 39h1v1h-1zM7 40h1v1h-1zM43 40h2v1h-2zM9 41h1v1h-1zM42 42h1v1h-1zM47 42h1v1h-1zM50 42h1v1h-1zM46 43h1v1h-1zM48 43h1v1h-1zM5 44h1v1h-1zM11 44h1v1h-1zM7 45h1v1h-1zM16 45h1v1h-1zM10 46h1v1h-1zM42 46h1v1h-1zM13 47h1v1h-1zM9 49h1v1h-1zM12 49h1v1h-1zM14 49h2v1h-2zM22 49h1v1h-1zM26 49h1v1h-1zM13 50h1v1h-1zM36 50h1v1h-1zM41 50h1v1h-1zM43 50h1v1h-1zM12 51h2v1h-2zM32 51h1v1h-1zM37 51h2v1h-2zM15 53h1v1h-1zM22 53h1v1h-1zM25 53h2v1h-2zM38 53h2v1h-2z"/><path fill="#360000" d="M51 2h1v1h-1zM0 5h1v1h-1zM1 6h1v1h-1zM29 26h1v1h-1zM26 29h1v1h-1zM28 31h1v1h-1zM51 52h1v1h-1zM51 53h2v1h-2zM15 56h1v1h-1zM9 57h1v1h-1zM15 57h1v1h-1z"/><path fill="#d80000" d="M15 3h1v1h-1zM34 3h2v1h-2zM13 4h1v1h-1zM34 4h1v1h-1zM39 4h1v1h-1zM12 5h1v1h-1zM24 5h5v1h-5zM35 5h3v1h-3zM40 5h1v1h-1zM13 6h1v1h-1zM35 6h1v1h-1zM37 6h1v1h-1zM42 6h1v1h-1zM11 7h1v1h-1zM16 7h1v1h-1zM45 7h1v1h-1zM21 8h3v1h-3zM38 8h1v1h-1zM43 8h1v1h-1zM46 8h1v1h-1zM45 9h2v1h-2zM41 10h3v1h-3zM6 13h1v1h-1zM11 13h1v1h-1zM46 13h1v1h-1zM5 14h1v1h-1zM47 14h1v1h-1zM51 14h1v1h-1zM7 17h1v1h-1zM4 18h1v1h-1zM50 18h1v1h-1zM7 19h1v1h-1zM51 19h1v1h-1zM51 20h1v1h-1zM47 21h1v1h-1zM51 21h1v1h-1zM53 21h1v1h-1zM53 22h1v1h-1zM5 24h1v1h-1zM25 26h1v1h-1zM24 27h1v1h-1zM5 29h1v1h-1zM50 29h1v1h-1zM24 30h1v1h-1zM31 30h1v1h-1zM25 31h1v1h-1zM49 31h1v1h-1zM49 32h1v1h-1zM3 33h1v1h-1zM26 33h1v1h-1zM47 33h1v1h-1zM46 34h2v1h-2zM3 36h1v1h-1zM45 36h1v1h-1zM12 37h1v1h-1zM45 37h4v1h-4zM44 38h2v1h-2zM43 39h1v1h-1zM45 39h1v1h-1zM9 40h1v1h-1zM48 40h1v1h-1zM8 41h1v1h-1zM10 41h1v1h-1zM42 41h1v1h-1zM44 41h1v1h-1zM49 42h1v1h-1zM44 43h1v1h-1zM48 44h1v1h-1zM50 44h1v1h-1zM12 45h1v1h-1zM17 45h1v1h-1zM9 46h1v1h-1zM16 46h2v1h-2zM47 46h2v1h-2zM10 47h1v1h-1zM47 47h1v1h-1zM11 48h1v1h-1zM14 48h1v1h-1zM39 48h1v1h-1zM21 49h1v1h-1zM23 49h2v1h-2zM37 49h1v1h-1zM11 50h2v1h-2zM35 50h1v1h-1zM42 50h1v1h-1zM18 51h1v1h-1zM30 51h1v1h-1zM39 51h5v1h-5zM37 52h1v1h-1zM41 52h1v1h-1zM16 53h1v1h-1zM37 53h1v1h-1z"/><path fill="#e30000" d="M16 3h1v1h-1zM16 4h1v1h-1zM36 4h1v1h-1zM14 5h1v1h-1zM22 5h2v1h-2zM31 5h2v1h-2zM34 5h1v1h-1zM38 5h2v1h-2zM12 6h1v1h-1zM18 6h1v1h-1zM24 6h1v1h-1zM10 7h1v1h-1zM23 7h2v1h-2zM36 7h1v1h-1zM44 7h1v1h-1zM14 8h1v1h-1zM24 8h2v1h-2zM37 8h1v1h-1zM39 8h1v1h-1zM44 8h1v1h-1zM8 9h2v1h-2zM8 10h1v1h-1zM16 11h1v1h-1zM44 11h1v1h-1zM12 12h1v1h-1zM15 12h2v1h-2zM45 12h1v1h-1zM12 13h1v1h-1zM6 14h1v1h-1zM12 14h2v1h-2zM8 15h1v1h-1zM47 15h1v1h-1zM44 16h1v1h-1zM45 17h1v1h-1zM7 18h1v1h-1zM46 18h1v1h-1zM10 19h1v1h-1zM7 20h1v1h-1zM9 20h2v1h-2zM6 22h1v1h-1zM9 23h1v1h-1zM28 23h1v1h-1zM8 24h2v1h-2zM5 25h1v1h-1zM8 25h1v1h-1zM5 26h1v1h-1zM8 26h1v1h-1zM5 27h1v1h-1zM5 28h1v1h-1zM32 28h1v1h-1zM5 30h1v1h-1zM49 30h1v1h-1zM5 31h1v1h-1zM5 32h1v1h-1zM47 32h1v1h-1zM4 33h2v1h-2zM46 33h1v1h-1zM49 33h1v1h-1zM3 34h1v1h-1zM5 34h1v1h-1zM11 34h1v1h-1zM3 35h1v1h-1zM45 35h1v1h-1zM5 36h2v1h-2zM11 36h1v1h-1zM48 36h2v1h-2zM11 37h1v1h-1zM4 38h1v1h-1zM8 38h1v1h-1zM12 38h1v1h-1zM46 38h1v1h-1zM5 39h2v1h-2zM48 39h1v1h-1zM5 41h1v1h-1zM7 41h1v1h-1zM47 41h1v1h-1zM5 42h1v1h-1zM8 42h1v1h-1zM44 42h1v1h-1zM46 42h1v1h-1zM5 43h1v1h-1zM11 43h1v1h-1zM42 43h1v1h-1zM50 43h1v1h-1zM8 44h1v1h-1zM15 45h1v1h-1zM37 45h1v1h-1zM48 45h2v1h-2zM13 46h1v1h-1zM9 47h1v1h-1zM21 47h1v1h-1zM41 47h1v1h-1zM9 48h2v1h-2zM20 48h1v1h-1zM10 49h2v1h-2zM25 50h1v1h-1zM34 50h1v1h-1zM31 51h1v1h-1zM21 52h1v1h-1zM28 52h1v1h-1zM38 52h3v1h-3z"/><path fill="#ed0000" d="M14 4h1v1h-1zM35 4h1v1h-1zM13 5h1v1h-1zM29 5h2v1h-2zM33 5h1v1h-1zM19 6h1v1h-1zM23 6h1v1h-1zM43 6h1v1h-1zM21 7h2v1h-2zM43 7h1v1h-1zM9 8h2v1h-2zM20 8h1v1h-1zM26 8h1v1h-1zM45 8h1v1h-1zM14 9h1v1h-1zM21 9h1v1h-1zM40 9h1v1h-1zM13 11h1v1h-1zM15 11h1v1h-1zM17 11h1v1h-1zM37 12h1v1h-1zM13 13h2v1h-2zM37 13h1v1h-1zM10 14h2v1h-2zM14 14h1v1h-1zM12 15h1v1h-1zM43 15h2v1h-2zM45 16h1v1h-1zM47 16h1v1h-1zM44 17h1v1h-1zM46 17h3v1h-3zM10 18h1v1h-1zM45 18h1v1h-1zM47 18h1v1h-1zM46 19h1v1h-1zM50 19h1v1h-1zM8 20h1v1h-1zM41 20h1v1h-1zM48 22h1v1h-1zM47 23h1v1h-1zM9 25h1v1h-1zM31 25h1v1h-1zM9 26h1v1h-1zM8 27h2v1h-2zM32 27h1v1h-1zM8 28h1v1h-1zM50 28h1v1h-1zM32 29h1v1h-1zM49 29h1v1h-1zM46 30h1v1h-1zM48 30h1v1h-1zM46 31h3v1h-3zM25 32h1v1h-1zM46 32h1v1h-1zM48 32h1v1h-1zM6 33h1v1h-1zM29 33h1v1h-1zM48 33h1v1h-1zM4 34h1v1h-1zM6 34h1v1h-1zM48 34h2v1h-2zM4 35h1v1h-1zM11 35h1v1h-1zM48 35h1v1h-1zM4 36h1v1h-1zM12 36h1v1h-1zM4 37h1v1h-1zM44 37h1v1h-1zM11 38h1v1h-1zM13 38h1v1h-1zM47 38h1v1h-1zM9 39h1v1h-1zM13 39h1v1h-1zM5 40h2v1h-2zM42 40h1v1h-1zM45 40h1v1h-1zM6 41h1v1h-1zM41 42h1v1h-1zM8 43h1v1h-1zM45 43h1v1h-1zM49 43h1v1h-1zM6 44h1v1h-1zM15 44h2v1h-2zM42 44h1v1h-1zM49 44h1v1h-1zM38 45h1v1h-1zM42 45h1v1h-1zM15 46h1v1h-1zM18 46h1v1h-1zM22 47h1v1h-1zM15 48h1v1h-1zM19 48h1v1h-1zM23 48h1v1h-1zM16 49h1v1h-1zM27 49h1v1h-1zM17 50h1v1h-1zM22 50h1v1h-1zM26 50h1v1h-1zM33 50h1v1h-1zM19 51h1v1h-1zM29 51h1v1h-1zM27 52h1v1h-1z"/><path fill="#f80000" d="M15 4h1v1h-1zM20 6h3v1h-3zM25 6h1v1h-1zM17 7h1v1h-1zM20 7h1v1h-1zM25 7h2v1h-2zM35 7h1v1h-1zM15 8h1v1h-1zM19 8h1v1h-1zM19 9h2v1h-2zM22 9h1v1h-1zM27 9h2v1h-2zM14 10h1v1h-1zM36 12h1v1h-1zM15 13h1v1h-1zM38 13h1v1h-1zM37 14h1v1h-1zM42 14h2v1h-2zM46 14h1v1h-1zM13 15h1v1h-1zM8 16h1v1h-1zM12 16h1v1h-1zM43 16h1v1h-1zM46 16h1v1h-1zM11 18h1v1h-1zM39 18h2v1h-2zM8 19h2v1h-2zM40 19h2v1h-2zM47 19h1v1h-1zM42 20h1v1h-1zM46 20h2v1h-2zM9 21h1v1h-1zM46 21h1v1h-1zM48 21h1v1h-1zM46 22h1v1h-1zM6 23h1v1h-1zM8 23h1v1h-1zM10 23h1v1h-1zM29 23h1v1h-1zM10 24h1v1h-1zM26 24h1v1h-1zM30 24h1v1h-1zM47 24h1v1h-1zM7 25h1v1h-1zM7 26h1v1h-1zM50 27h1v1h-1zM9 28h1v1h-1zM23 28h1v1h-1zM8 29h2v1h-2zM23 29h1v1h-1zM46 29h1v1h-1zM48 29h1v1h-1zM8 30h2v1h-2zM47 30h1v1h-1zM8 31h2v1h-2zM9 32h1v1h-1zM30 32h1v1h-1zM11 33h1v1h-1zM25 33h1v1h-1zM10 34h1v1h-1zM12 34h1v1h-1zM45 34h1v1h-1zM5 35h1v1h-1zM7 36h1v1h-1zM44 36h1v1h-1zM10 37h1v1h-1zM13 37h1v1h-1zM43 38h1v1h-1zM46 39h1v1h-1zM10 40h1v1h-1zM13 40h1v1h-1zM47 40h1v1h-1zM45 41h2v1h-2zM7 42h1v1h-1zM11 42h1v1h-1zM45 42h1v1h-1zM41 43h1v1h-1zM7 44h1v1h-1zM12 44h1v1h-1zM14 44h1v1h-1zM13 45h1v1h-1zM14 46h1v1h-1zM37 46h1v1h-1zM14 47h3v1h-3zM19 47h2v1h-2zM40 47h1v1h-1zM16 48h1v1h-1zM24 48h1v1h-1zM31 48h1v1h-1zM38 48h1v1h-1zM20 49h1v1h-1zM28 49h1v1h-1zM31 49h1v1h-1zM36 49h1v1h-1zM21 50h1v1h-1zM23 50h2v1h-2zM32 50h1v1h-1zM22 52h2v1h-2z"/><path fill="#2b0000" d="M0 6h1v1h-1zM27 26h1v1h-1zM30 28h1v1h-1zM30 29h1v1h-1zM49 55h1v1h-1zM49 56h1v1h-1zM49 57h1v1h-1z"/><path fill="#ff0400" d="M26 6h2v1h-2zM34 6h1v1h-1zM18 7h2v1h-2zM27 8h1v1h-1zM36 8h1v1h-1zM23 9h1v1h-1zM25 9h2v1h-2zM29 9h1v1h-1zM16 10h3v1h-3zM18 11h1v1h-1zM36 11h2v1h-2zM13 12h2v1h-2zM17 12h1v1h-1zM38 12h1v1h-1zM45 13h1v1h-1zM44 14h1v1h-1zM9 15h1v1h-1zM11 15h1v1h-1zM42 15h1v1h-1zM45 15h2v1h-2zM10 17h3v1h-3zM38 17h2v1h-2zM43 17h1v1h-1zM44 18h1v1h-1zM48 18h2v1h-2zM11 19h1v1h-1zM42 19h1v1h-1zM50 20h1v1h-1zM7 21h1v1h-1zM10 21h1v1h-1zM50 21h1v1h-1zM9 22h1v1h-1zM50 22h1v1h-1zM7 23h1v1h-1zM27 23h1v1h-1zM46 23h1v1h-1zM48 23h1v1h-1zM50 23h1v1h-1zM6 24h2v1h-2zM48 24h1v1h-1zM50 24h1v1h-1zM6 25h1v1h-1zM47 25h1v1h-1zM50 25h1v1h-1zM6 26h1v1h-1zM24 26h1v1h-1zM32 26h1v1h-1zM50 26h1v1h-1zM7 27h1v1h-1zM23 27h1v1h-1zM47 27h2v1h-2zM46 28h4v1h-4zM47 29h1v1h-1zM32 30h1v1h-1zM45 30h1v1h-1zM8 32h1v1h-1zM10 32h1v1h-1zM9 33h2v1h-2zM12 33h1v1h-1zM45 33h1v1h-1zM26 34h1v1h-1zM6 35h1v1h-1zM10 35h1v1h-1zM12 35h1v1h-1zM44 35h1v1h-1zM49 35h1v1h-1zM10 36h1v1h-1zM8 37h1v1h-1zM9 38h2v1h-2zM12 39h1v1h-1zM47 39h1v1h-1zM46 40h1v1h-1zM41 41h1v1h-1zM6 42h1v1h-1zM12 43h1v1h-1zM14 43h2v1h-2zM40 43h1v1h-1zM13 44h1v1h-1zM40 44h2v1h-2zM14 45h1v1h-1zM18 45h1v1h-1zM38 46h1v1h-1zM41 46h1v1h-1zM17 47h2v1h-2zM29 47h3v1h-3zM25 48h6v1h-6zM32 48h1v1h-1zM37 48h1v1h-1zM17 49h1v1h-1zM19 49h1v1h-1zM32 49h1v1h-1zM18 50h1v1h-1zM31 50h1v1h-1zM20 51h2v1h-2zM24 52h3v1h-3z"/><path fill="#ff0f00" d="M28 6h1v1h-1zM27 7h1v1h-1zM18 8h1v1h-1zM28 8h1v1h-1zM15 9h1v1h-1zM18 9h1v1h-1zM24 9h1v1h-1zM39 9h1v1h-1zM15 10h1v1h-1zM19 10h1v1h-1zM28 10h2v1h-2zM33 10h1v1h-1zM14 11h1v1h-1zM34 11h2v1h-2zM43 11h1v1h-1zM35 12h1v1h-1zM44 12h1v1h-1zM36 13h1v1h-1zM44 13h1v1h-1zM38 14h1v1h-1zM41 14h1v1h-1zM45 14h1v1h-1zM36 15h2v1h-2zM11 16h1v1h-1zM36 16h3v1h-3zM40 17h1v1h-1zM9 18h1v1h-1zM38 18h1v1h-1zM43 18h1v1h-1zM45 19h1v1h-1zM11 20h1v1h-1zM40 20h1v1h-1zM8 21h1v1h-1zM42 21h1v1h-1zM10 22h1v1h-1zM29 22h1v1h-1zM30 23h1v1h-1zM31 24h1v1h-1zM46 24h1v1h-1zM10 25h1v1h-1zM25 25h1v1h-1zM48 25h1v1h-1zM10 26h1v1h-1zM47 26h2v1h-2zM6 27h1v1h-1zM10 27h1v1h-1zM46 27h1v1h-1zM49 27h1v1h-1zM6 28h2v1h-2zM7 29h1v1h-1zM33 29h1v1h-1zM45 29h1v1h-1zM23 30h1v1h-1zM10 31h1v1h-1zM24 31h1v1h-1zM31 31h1v1h-1zM42 31h1v1h-1zM45 31h1v1h-1zM6 32h1v1h-1zM42 32h1v1h-1zM45 32h1v1h-1zM42 33h1v1h-1zM9 34h1v1h-1zM27 34h1v1h-1zM42 34h1v1h-1zM9 37h1v1h-1zM14 38h1v1h-1zM10 39h2v1h-2zM14 39h1v1h-1zM42 39h1v1h-1zM11 40h2v1h-2zM14 40h1v1h-1zM11 41h1v1h-1zM13 41h1v1h-1zM13 42h2v1h-2zM6 43h2v1h-2zM13 43h1v1h-1zM17 44h1v1h-1zM39 44h1v1h-1zM27 45h1v1h-1zM39 45h1v1h-1zM41 45h1v1h-1zM40 46h1v1h-1zM32 47h1v1h-1zM39 47h1v1h-1zM17 48h2v1h-2zM18 49h1v1h-1zM35 49h1v1h-1zM19 50h2v1h-2zM27 50h2v1h-2zM30 50h1v1h-1zM22 51h1v1h-1zM25 51h2v1h-2z"/><path fill="#ff2400" d="M29 6h3v1h-3zM29 8h1v1h-1zM35 8h1v1h-1zM31 9h1v1h-1zM37 9h1v1h-1zM20 10h1v1h-1zM26 10h1v1h-1zM41 11h1v1h-1zM18 12h1v1h-1zM34 12h1v1h-1zM43 12h1v1h-1zM35 13h1v1h-1zM39 13h2v1h-2zM15 14h1v1h-1zM36 14h1v1h-1zM40 14h1v1h-1zM14 15h1v1h-1zM38 15h1v1h-1zM9 16h1v1h-1zM40 16h2v1h-2zM13 17h1v1h-1zM41 17h2v1h-2zM8 18h1v1h-1zM42 18h1v1h-1zM43 19h2v1h-2zM43 20h1v1h-1zM45 20h1v1h-1zM49 20h1v1h-1zM11 21h1v1h-1zM40 21h1v1h-1zM43 21h1v1h-1zM45 21h1v1h-1zM49 21h1v1h-1zM30 22h1v1h-1zM42 22h2v1h-2zM11 23h1v1h-1zM42 23h2v1h-2zM45 23h1v1h-1zM49 23h1v1h-1zM11 24h1v1h-1zM45 24h1v1h-1zM49 24h1v1h-1zM11 25h1v1h-1zM32 25h1v1h-1zM45 27h1v1h-1zM42 29h2v1h-2zM33 30h1v1h-1zM43 30h2v1h-2zM44 31h1v1h-1zM14 33h1v1h-1zM30 33h1v1h-1zM8 34h1v1h-1zM25 34h1v1h-1zM28 34h1v1h-1zM41 34h1v1h-1zM43 34h1v1h-1zM8 35h1v1h-1zM41 35h3v1h-3zM13 36h1v1h-1zM17 37h1v1h-1zM18 38h1v1h-1zM17 39h1v1h-1zM18 40h1v1h-1zM41 40h1v1h-1zM12 41h1v1h-1zM40 42h1v1h-1zM20 43h2v1h-2zM22 44h5v1h-5zM28 44h1v1h-1zM37 44h1v1h-1zM24 45h1v1h-1zM27 46h1v1h-1zM34 46h2v1h-2zM24 47h1v1h-1zM27 47h1v1h-1zM36 47h2v1h-2zM36 48h1v1h-1zM33 49h2v1h-2zM24 51h1v1h-1zM27 51h1v1h-1z"/><path fill="#ff1a00" d="M32 6h2v1h-2zM28 7h1v1h-1zM34 7h1v1h-1zM16 8h2v1h-2zM16 9h2v1h-2zM30 9h1v1h-1zM38 9h1v1h-1zM27 10h1v1h-1zM30 10h3v1h-3zM34 10h1v1h-1zM40 10h1v1h-1zM33 11h1v1h-1zM38 11h1v1h-1zM42 11h1v1h-1zM16 13h1v1h-1zM41 13h3v1h-3zM10 15h1v1h-1zM35 15h1v1h-1zM41 15h1v1h-1zM13 16h1v1h-1zM39 16h1v1h-1zM42 16h1v1h-1zM8 17h2v1h-2zM37 17h1v1h-1zM12 18h1v1h-1zM41 18h1v1h-1zM39 19h1v1h-1zM48 19h2v1h-2zM48 20h1v1h-1zM41 21h1v1h-1zM7 22h2v1h-2zM28 22h1v1h-1zM49 22h1v1h-1zM46 25h1v1h-1zM49 25h1v1h-1zM46 26h1v1h-1zM49 26h1v1h-1zM10 28h1v1h-1zM33 28h1v1h-1zM45 28h1v1h-1zM6 29h1v1h-1zM10 29h1v1h-1zM6 30h2v1h-2zM10 30h1v1h-1zM42 30h1v1h-1zM6 31h2v1h-2zM43 31h1v1h-1zM7 32h1v1h-1zM11 32h1v1h-1zM43 32h2v1h-2zM7 33h2v1h-2zM13 33h1v1h-1zM43 33h2v1h-2zM7 34h1v1h-1zM13 34h2v1h-2zM44 34h1v1h-1zM7 35h1v1h-1zM9 35h1v1h-1zM8 36h2v1h-2zM43 36h1v1h-1zM14 37h1v1h-1zM43 37h1v1h-1zM17 38h1v1h-1zM18 39h1v1h-1zM14 41h1v1h-1zM12 42h1v1h-1zM16 43h1v1h-1zM39 43h1v1h-1zM27 44h1v1h-1zM38 44h1v1h-1zM25 45h2v1h-2zM28 45h1v1h-1zM36 45h1v1h-1zM40 45h1v1h-1zM19 46h1v1h-1zM28 46h1v1h-1zM36 46h1v1h-1zM39 46h1v1h-1zM23 47h1v1h-1zM28 47h1v1h-1zM38 47h1v1h-1zM29 49h2v1h-2zM29 50h1v1h-1zM23 51h1v1h-1zM28 51h1v1h-1z"/><path fill="#ff2f00" d="M29 7h1v1h-1zM33 7h1v1h-1zM30 8h2v1h-2zM33 8h2v1h-2zM32 9h3v1h-3zM21 10h1v1h-1zM25 10h1v1h-1zM35 10h3v1h-3zM19 11h1v1h-1zM29 11h4v1h-4zM25 12h2v1h-2zM25 13h2v1h-2zM22 14h1v1h-1zM35 14h1v1h-1zM39 14h1v1h-1zM39 15h2v1h-2zM10 16h1v1h-1zM35 16h1v1h-1zM12 19h1v1h-1zM14 21h1v1h-1zM29 21h1v1h-1zM11 22h1v1h-1zM41 22h1v1h-1zM45 22h1v1h-1zM31 23h1v1h-1zM42 24h2v1h-2zM12 25h1v1h-1zM24 25h1v1h-1zM11 26h1v1h-1zM23 26h1v1h-1zM33 27h1v1h-1zM22 28h1v1h-1zM44 28h1v1h-1zM11 29h2v1h-2zM22 29h1v1h-1zM44 29h1v1h-1zM11 30h2v1h-2zM11 31h1v1h-1zM12 32h1v1h-1zM24 32h1v1h-1zM41 33h1v1h-1zM41 36h2v1h-2zM15 37h2v1h-2zM19 39h1v1h-1zM19 40h1v1h-1zM15 42h1v1h-1zM19 43h1v1h-1zM22 43h1v1h-1zM18 44h1v1h-1zM21 44h1v1h-1zM36 44h1v1h-1zM23 45h1v1h-1zM34 45h1v1h-1zM20 46h1v1h-1zM26 46h1v1h-1zM29 46h1v1h-1zM33 46h1v1h-1zM33 47h1v1h-1zM35 47h1v1h-1zM33 48h3v1h-3z"/><path fill="#ff3a00" d="M30 7h3v1h-3zM32 8h1v1h-1zM36 9h1v1h-1zM22 10h1v1h-1zM38 10h2v1h-2zM26 11h3v1h-3zM27 12h1v1h-1zM33 12h1v1h-1zM39 12h1v1h-1zM41 12h2v1h-2zM22 13h1v1h-1zM34 13h1v1h-1zM21 14h1v1h-1zM34 14h1v1h-1zM22 15h1v1h-1zM36 17h1v1h-1zM13 18h1v1h-1zM37 18h1v1h-1zM38 19h1v1h-1zM12 20h1v1h-1zM14 20h1v1h-1zM39 20h1v1h-1zM44 20h1v1h-1zM13 21h1v1h-1zM28 21h1v1h-1zM44 21h1v1h-1zM13 22h2v1h-2zM27 22h1v1h-1zM40 22h1v1h-1zM44 22h1v1h-1zM44 23h1v1h-1zM12 24h1v1h-1zM25 24h1v1h-1zM44 24h1v1h-1zM43 25h1v1h-1zM45 25h1v1h-1zM12 26h1v1h-1zM45 26h1v1h-1zM11 27h1v1h-1zM22 27h1v1h-1zM43 27h2v1h-2zM11 28h1v1h-1zM42 28h2v1h-2zM13 30h1v1h-1zM12 31h1v1h-1zM32 31h1v1h-1zM13 32h1v1h-1zM31 32h1v1h-1zM41 32h1v1h-1zM29 34h1v1h-1zM13 35h1v1h-1zM15 36h1v1h-1zM40 37h1v1h-1zM15 38h2v1h-2zM42 38h1v1h-1zM41 39h1v1h-1zM17 40h1v1h-1zM18 41h2v1h-2zM19 42h2v1h-2zM17 43h1v1h-1zM23 43h1v1h-1zM19 44h2v1h-2zM29 44h1v1h-1zM19 45h1v1h-1zM29 45h1v1h-1zM33 45h1v1h-1zM35 45h1v1h-1zM21 46h5v1h-5zM30 46h1v1h-1zM34 47h1v1h-1z"/><path fill="#ff4500" d="M35 9h1v1h-1zM23 10h2v1h-2zM20 11h1v1h-1zM25 11h1v1h-1zM39 11h2v1h-2zM22 12h1v1h-1zM24 12h1v1h-1zM40 12h1v1h-1zM17 13h1v1h-1zM21 13h1v1h-1zM27 13h1v1h-1zM33 13h1v1h-1zM25 14h1v1h-1zM33 14h1v1h-1zM21 15h1v1h-1zM34 15h1v1h-1zM13 19h3v1h-3zM13 20h1v1h-1zM15 20h1v1h-1zM12 21h1v1h-1zM39 21h1v1h-1zM12 22h1v1h-1zM12 23h2v1h-2zM26 23h1v1h-1zM41 23h1v1h-1zM32 24h1v1h-1zM44 25h1v1h-1zM43 26h2v1h-2zM12 27h1v1h-1zM42 27h1v1h-1zM12 28h1v1h-1zM13 29h1v1h-1zM41 30h1v1h-1zM13 31h1v1h-1zM23 31h1v1h-1zM41 31h1v1h-1zM15 34h1v1h-1zM14 35h2v1h-2zM14 36h1v1h-1zM16 36h1v1h-1zM18 37h1v1h-1zM42 37h1v1h-1zM39 38h2v1h-2zM15 39h2v1h-2zM37 39h2v1h-2zM37 40h1v1h-1zM18 42h1v1h-1zM21 42h1v1h-1zM33 42h1v1h-1zM18 43h1v1h-1zM24 43h1v1h-1zM35 44h1v1h-1zM31 46h2v1h-2zM25 47h2v1h-2z"/><path fill="#ff5000" d="M21 11h1v1h-1zM24 11h1v1h-1zM19 12h1v1h-1zM21 12h1v1h-1zM23 12h1v1h-1zM28 12h2v1h-2zM32 12h1v1h-1zM23 13h2v1h-2zM32 13h1v1h-1zM26 14h1v1h-1zM15 15h1v1h-1zM14 16h1v1h-1zM22 16h1v1h-1zM14 17h1v1h-1zM16 19h1v1h-1zM16 20h1v1h-1zM15 21h1v1h-1zM30 21h1v1h-1zM13 24h1v1h-1zM13 25h1v1h-1zM42 25h1v1h-1zM13 26h1v1h-1zM33 26h1v1h-1zM41 29h1v1h-1zM22 30h1v1h-1zM33 31h1v1h-1zM14 32h1v1h-1zM24 33h1v1h-1zM27 35h1v1h-1zM17 36h1v1h-1zM40 36h1v1h-1zM39 37h1v1h-1zM41 37h1v1h-1zM19 38h1v1h-1zM41 38h1v1h-1zM15 40h1v1h-1zM20 40h1v1h-1zM38 40h1v1h-1zM15 41h1v1h-1zM20 41h1v1h-1zM40 41h1v1h-1zM22 42h1v1h-1zM34 42h1v1h-1zM25 43h1v1h-1zM27 43h1v1h-1zM38 43h1v1h-1zM30 44h1v1h-1zM20 45h3v1h-3z"/><path fill="#ff5a00" d="M22 11h2v1h-2zM20 12h1v1h-1zM30 12h2v1h-2zM18 13h1v1h-1zM28 13h1v1h-1zM16 14h1v1h-1zM23 14h1v1h-1zM32 14h1v1h-1zM23 15h1v1h-1zM14 18h1v1h-1zM17 19h1v1h-1zM28 20h1v1h-1zM40 23h1v1h-1zM41 24h1v1h-1zM42 26h1v1h-1zM34 29h1v1h-1zM15 33h1v1h-1zM31 33h1v1h-1zM26 35h1v1h-1zM28 35h1v1h-1zM38 38h1v1h-1zM20 39h1v1h-1zM17 41h1v1h-1zM33 41h2v1h-2zM16 42h2v1h-2zM39 42h1v1h-1zM26 43h1v1h-1zM28 43h1v1h-1zM35 43h2v1h-2zM34 44h1v1h-1zM30 45h1v1h-1z"/><path fill="#ff7000" d="M19 13h1v1h-1zM16 15h1v1h-1zM24 15h1v1h-1zM16 16h1v1h-1zM34 16h1v1h-1zM15 17h1v1h-1zM17 17h1v1h-1zM23 17h1v1h-1zM35 17h1v1h-1zM18 19h1v1h-1zM15 22h1v1h-1zM40 24h1v1h-1zM33 25h1v1h-1zM41 27h1v1h-1zM14 30h1v1h-1zM22 31h1v1h-1zM32 32h1v1h-1zM30 34h1v1h-1zM39 39h1v1h-1zM36 40h1v1h-1zM16 41h1v1h-1zM37 41h1v1h-1zM24 42h1v1h-1zM32 42h1v1h-1zM38 42h1v1h-1zM32 43h1v1h-1zM33 44h1v1h-1zM32 45h1v1h-1z"/><path fill="#ff6500" d="M20 13h1v1h-1zM31 13h1v1h-1zM20 14h1v1h-1zM24 14h1v1h-1zM33 15h1v1h-1zM15 16h1v1h-1zM21 16h1v1h-1zM23 16h1v1h-1zM15 18h3v1h-3zM36 18h1v1h-1zM37 19h1v1h-1zM17 20h1v1h-1zM29 20h1v1h-1zM38 20h1v1h-1zM27 21h1v1h-1zM31 22h1v1h-1zM39 22h1v1h-1zM14 23h1v1h-1zM24 24h1v1h-1zM23 25h1v1h-1zM22 26h1v1h-1zM13 27h1v1h-1zM13 28h1v1h-1zM34 28h1v1h-1zM41 28h1v1h-1zM34 30h1v1h-1zM14 31h1v1h-1zM16 35h1v1h-1zM40 35h1v1h-1zM40 39h1v1h-1zM16 40h1v1h-1zM40 40h1v1h-1zM21 41h1v1h-1zM23 42h1v1h-1zM29 43h2v1h-2zM33 43h2v1h-2zM37 43h1v1h-1z"/><path fill="#ff7b00" d="M29 13h2v1h-2zM17 14h3v1h-3zM27 14h1v1h-1zM18 15h1v1h-1zM20 15h1v1h-1zM25 15h1v1h-1zM17 16h2v1h-2zM24 16h1v1h-1zM16 17h1v1h-1zM18 17h1v1h-1zM22 17h1v1h-1zM18 18h1v1h-1zM18 20h1v1h-1zM16 21h1v1h-1zM25 23h1v1h-1zM32 23h1v1h-1zM34 27h1v1h-1zM21 28h1v1h-1zM14 29h1v1h-1zM21 29h1v1h-1zM40 29h1v1h-1zM40 30h1v1h-1zM23 32h1v1h-1zM16 34h1v1h-1zM40 34h1v1h-1zM18 36h1v1h-1zM39 36h1v1h-1zM19 37h1v1h-1zM38 37h1v1h-1zM20 38h1v1h-1zM37 38h1v1h-1zM21 40h1v1h-1zM39 40h1v1h-1zM38 41h2v1h-2zM35 42h1v1h-1zM37 42h1v1h-1zM31 43h1v1h-1zM31 44h1v1h-1zM31 45h1v1h-1z"/><path fill="#ff9b00" d="M28 14h1v1h-1zM26 15h1v1h-1zM25 16h1v1h-1zM33 16h1v1h-1zM28 19h1v1h-1zM36 19h1v1h-1zM17 21h1v1h-1zM14 26h1v1h-1zM34 26h1v1h-1zM40 27h1v1h-1zM21 30h1v1h-1zM34 31h1v1h-1zM33 32h1v1h-1zM16 33h1v1h-1zM32 33h1v1h-1zM39 35h1v1h-1zM27 36h1v1h-1zM37 37h1v1h-1zM33 40h1v1h-1zM24 41h1v1h-1zM26 42h1v1h-1z"/><path fill="#ffc600" d="M29 14h1v1h-1zM27 15h1v1h-1zM26 16h1v1h-1zM32 16h1v1h-1zM25 17h1v1h-1zM20 19h1v1h-1zM30 19h1v1h-1zM19 20h1v1h-1zM31 20h1v1h-1zM37 21h1v1h-1zM17 22h1v1h-1zM15 24h1v1h-1zM39 27h1v1h-1zM35 28h1v1h-1zM39 28h1v1h-1zM15 29h1v1h-1zM20 29h1v1h-1zM39 31h1v1h-1zM39 32h1v1h-1zM17 33h1v1h-1zM39 33h1v1h-1zM38 34h1v1h-1zM30 35h1v1h-1zM21 38h1v1h-1zM22 39h1v1h-1z"/><path fill="#ffbc00" d="M30 14h1v1h-1zM31 15h1v1h-1zM22 18h1v1h-1zM27 19h1v1h-1zM26 21h1v1h-1zM38 22h1v1h-1zM22 25h1v1h-1zM34 25h1v1h-1zM39 29h1v1h-1zM35 30h1v1h-1zM39 30h1v1h-1zM21 31h1v1h-1zM22 32h1v1h-1zM39 34h1v1h-1zM19 36h1v1h-1zM34 39h1v1h-1zM23 40h1v1h-1zM32 40h1v1h-1zM25 41h1v1h-1zM31 41h1v1h-1zM28 42h2v1h-2z"/><path fill="#ff8600" d="M31 14h1v1h-1zM17 15h1v1h-1zM19 15h1v1h-1zM19 17h3v1h-3zM19 18h2v1h-2zM38 21h1v1h-1zM26 22h1v1h-1zM39 23h1v1h-1zM14 24h1v1h-1zM41 25h1v1h-1zM40 31h1v1h-1zM40 32h1v1h-1zM40 33h1v1h-1zM17 35h1v1h-1zM25 35h1v1h-1zM29 35h1v1h-1zM36 39h1v1h-1zM22 41h2v1h-2zM35 41h2v1h-2zM25 42h1v1h-1zM36 42h1v1h-1zM32 44h1v1h-1z"/><path fill="#ffe700" d="M28 15h1v1h-1zM26 17h1v1h-1zM34 18h1v1h-1zM22 19h1v1h-1zM35 19h1v1h-1zM26 20h1v1h-1zM18 22h1v1h-1zM17 23h1v1h-1zM15 25h1v1h-1zM21 25h1v1h-1zM35 25h1v1h-1zM39 26h1v1h-1zM20 27h1v1h-1zM15 28h1v1h-1zM36 29h1v1h-1zM38 29h1v1h-1zM16 30h1v1h-1zM38 30h1v1h-1zM16 31h1v1h-1zM38 31h1v1h-1zM17 32h1v1h-1zM38 32h1v1h-1zM38 33h1v1h-1zM23 34h1v1h-1zM37 34h1v1h-1zM20 36h1v1h-1zM36 36h1v1h-1zM27 37h1v1h-1zM23 39h1v1h-1zM31 40h1v1h-1zM30 41h1v1h-1z"/><path fill="#ffff1c" d="M29 15h1v1h-1zM28 16h1v1h-1zM31 17h1v1h-1zM32 18h2v1h-2zM23 19h1v1h-1zM33 19h1v1h-1zM22 20h1v1h-1zM33 20h2v1h-2zM36 23h1v1h-1zM19 24h1v1h-1zM37 26h1v1h-1zM16 28h1v1h-1zM19 31h1v1h-1zM19 33h1v1h-1zM36 34h1v1h-1zM22 35h1v1h-1zM22 36h2v1h-2zM22 37h1v1h-1zM33 38h1v1h-1zM24 39h1v1h-1z"/><path fill="#ffff0c" d="M30 15h1v1h-1zM28 17h1v1h-1zM30 18h2v1h-2zM32 20h1v1h-1zM35 20h1v1h-1zM20 21h1v1h-1zM33 22h1v1h-1zM23 23h1v1h-1zM17 24h2v1h-2zM20 24h1v1h-1zM22 24h1v1h-1zM36 24h1v1h-1zM38 24h1v1h-1zM20 25h1v1h-1zM36 25h1v1h-1zM38 25h1v1h-1zM36 27h1v1h-1zM36 28h1v1h-1zM18 30h1v1h-1zM37 31h1v1h-1zM36 32h1v1h-1zM19 34h1v1h-1zM23 35h1v1h-1zM31 36h1v1h-1zM23 37h1v1h-1zM35 37h1v1h-1zM24 38h1v1h-1zM29 38h2v1h-2zM31 39h1v1h-1zM25 40h1v1h-1z"/><path fill="#ff9000" d="M32 15h1v1h-1zM19 16h2v1h-2zM24 17h1v1h-1zM27 20h1v1h-1zM30 20h1v1h-1zM37 20h1v1h-1zM31 21h1v1h-1zM14 25h1v1h-1zM41 26h1v1h-1zM21 27h1v1h-1zM40 28h1v1h-1zM15 32h1v1h-1zM24 34h1v1h-1zM38 36h1v1h-1zM21 39h1v1h-1zM34 40h2v1h-2zM32 41h1v1h-1zM31 42h1v1h-1z"/><path fill="#fff200" d="M27 16h1v1h-1zM31 16h1v1h-1zM27 17h1v1h-1zM26 18h1v1h-1zM31 19h1v1h-1zM19 22h1v1h-1zM18 23h1v1h-1zM38 23h1v1h-1zM16 24h1v1h-1zM15 26h1v1h-1zM20 26h1v1h-1zM15 27h1v1h-1zM36 30h1v1h-1zM21 32h1v1h-1zM18 33h1v1h-1zM37 33h1v1h-1zM19 35h1v1h-1zM31 35h1v1h-1zM21 37h1v1h-1zM26 37h1v1h-1zM30 37h1v1h-1zM22 38h1v1h-1zM32 39h1v1h-1zM27 41h1v1h-1z"/><path fill="#ffff5d" d="M29 16h1v1h-1zM23 21h1v1h-1zM21 23h2v1h-2zM32 36h1v1h-1zM33 37h1v1h-1zM25 39h1v1h-1zM27 39h2v1h-2z"/><path fill="#ffff4d" d="M30 16h1v1h-1zM29 17h2v1h-2zM22 21h1v1h-1zM34 21h1v1h-1zM21 22h1v1h-1zM37 24h1v1h-1zM17 25h2v1h-2zM16 26h1v1h-1zM21 34h1v1h-1zM35 34h1v1h-1zM32 35h1v1h-1zM29 39h1v1h-1zM28 40h2v1h-2z"/><path fill="#fffc00" d="M32 17h1v1h-1zM29 18h1v1h-1zM26 19h1v1h-1zM34 19h1v1h-1zM20 20h2v1h-2zM25 21h1v1h-1zM36 21h1v1h-1zM24 22h1v1h-1zM37 22h1v1h-1zM19 23h1v1h-1zM34 23h2v1h-2zM36 26h1v1h-1zM38 26h1v1h-1zM38 27h1v1h-1zM38 28h1v1h-1zM16 29h1v1h-1zM19 29h1v1h-1zM37 29h1v1h-1zM17 30h1v1h-1zM19 30h1v1h-1zM37 30h1v1h-1zM17 31h2v1h-2zM20 31h1v1h-1zM36 31h1v1h-1zM18 32h1v1h-1zM35 32h1v1h-1zM37 32h1v1h-1zM22 33h1v1h-1zM34 33h1v1h-1zM32 34h1v1h-1zM36 35h1v1h-1zM21 36h1v1h-1zM24 36h1v1h-1zM24 37h2v1h-2zM23 38h1v1h-1zM34 38h1v1h-1zM28 41h2v1h-2z"/><path fill="#ffdc00" d="M33 17h1v1h-1zM25 18h1v1h-1zM27 18h2v1h-2zM21 19h1v1h-1zM19 21h1v1h-1zM32 21h1v1h-1zM34 24h2v1h-2zM39 25h1v1h-1zM35 26h1v1h-1zM35 31h1v1h-1zM18 34h1v1h-1zM30 36h1v1h-1zM28 37h2v1h-2zM35 38h1v1h-1zM33 39h1v1h-1zM24 40h1v1h-1z"/><path fill="#ffb100" d="M34 17h1v1h-1zM24 18h1v1h-1zM29 19h1v1h-1zM18 21h1v1h-1zM32 22h1v1h-1zM24 23h1v1h-1zM23 24h1v1h-1zM21 26h1v1h-1zM40 26h1v1h-1zM14 27h1v1h-1zM35 29h1v1h-1zM15 30h1v1h-1zM15 31h1v1h-1zM23 33h1v1h-1zM31 34h1v1h-1zM18 35h1v1h-1zM26 36h1v1h-1zM29 36h1v1h-1zM37 36h1v1h-1zM20 37h1v1h-1zM36 38h1v1h-1zM35 39h1v1h-1zM27 42h1v1h-1zM30 42h1v1h-1z"/><path fill="#ffa600" d="M21 18h1v1h-1zM23 18h1v1h-1zM35 18h1v1h-1zM19 19h1v1h-1zM16 22h1v1h-1zM15 23h1v1h-1zM33 24h1v1h-1zM39 24h1v1h-1zM40 25h1v1h-1zM14 28h1v1h-1zM17 34h1v1h-1zM38 35h1v1h-1zM28 36h1v1h-1zM22 40h1v1h-1z"/><path fill="#ffff2d" d="M24 19h2v1h-2zM32 19h1v1h-1zM21 21h1v1h-1zM24 21h1v1h-1zM33 21h1v1h-1zM35 21h1v1h-1zM20 22h1v1h-1zM36 22h1v1h-1zM20 23h1v1h-1zM21 24h1v1h-1zM16 25h1v1h-1zM37 25h1v1h-1zM16 27h1v1h-1zM37 27h1v1h-1zM19 28h1v1h-1zM37 28h1v1h-1zM17 29h2v1h-2zM19 32h2v1h-2zM20 33h1v1h-1zM36 33h1v1h-1zM22 34h1v1h-1zM33 34h1v1h-1zM20 35h2v1h-2zM35 36h1v1h-1zM34 37h1v1h-1zM28 38h1v1h-1zM31 38h2v1h-2zM30 40h1v1h-1z"/><path fill="#ffff6d" d="M23 20h2v1h-2zM22 22h1v1h-1zM17 26h2v1h-2zM17 28h2v1h-2zM32 37h1v1h-1zM26 39h1v1h-1z"/><path fill="#ffff3d" d="M25 20h1v1h-1zM23 22h1v1h-1zM34 22h2v1h-2zM37 23h1v1h-1zM19 25h1v1h-1zM19 26h1v1h-1zM19 27h1v1h-1zM21 33h1v1h-1zM35 33h1v1h-1zM20 34h1v1h-1zM34 34h1v1h-1zM35 35h1v1h-1zM31 37h1v1h-1zM25 38h3v1h-3zM30 39h1v1h-1zM26 40h2v1h-2z"/><path fill="#ffd100" d="M36 20h1v1h-1zM25 22h1v1h-1zM16 23h1v1h-1zM33 23h1v1h-1zM35 27h1v1h-1zM20 28h1v1h-1zM20 30h1v1h-1zM16 32h1v1h-1zM34 32h1v1h-1zM33 33h1v1h-1zM24 35h1v1h-1zM37 35h1v1h-1zM25 36h1v1h-1zM36 37h1v1h-1zM26 41h1v1h-1z"/><path fill="#160000" d="M28 26h1v1h-1zM28 27h1v1h-1zM28 28h1v1h-1zM27 29h1v1h-1z"/><path fill="#ffff7d" d="M17 27h2v1h-2zM34 36h1v1h-1z"/><path fill="#200000" d="M27 27h1v1h-1zM27 28h1v1h-1zM27 30h1v1h-1zM8 57h1v1h-1zM16 57h1v1h-1z"/><path fill="#000000" d="M29 27h1v1h-1zM29 28h1v1h-1zM29 29h1v1h-1z"/><path fill="#0b0000" d="M28 29h1v1h-1zM28 30h2v1h-2z"/><path fill="#ffff9e" d="M33 35h1v1h-1zM33 36h1v1h-1z"/><path fill="#ffff8e" d="M34 35h1v1h-1z"/></g><rect x="1353.30" y="754.90" width="282.30" height="291.60" fill="none" stroke="#808080" stroke-width="0.8"/><g transform="translate(1641.20 754.90) scale(11.60000 4.55625)" shape-rendering="crispEdges"><path fill="#ffffff" d="M0 0h1v1h-1z"/><path fill="#ffffef" d="M0 1h1v1h-1z"/><path fill="#ffffdf" d="M0 2h1v1h-1z"/><path fill="#ffffce" d="M0 3h1v1h-1z"/><path fill="#ffffbe" d="M0 4h1v1h-1z"/><path fill="#ffffae" d="M0 5h1v1h-1z"/><path fill="#ffff9e" d="M0 6h1v1h-1z"/><path fill="#ffff8e" d="M0 7h1v1h-1z"/><path fill="#ffff7d" d="M0 8h1v1h-1z"/><path fill="#ffff6d" d="M0 9h1v1h-1z"/><path fill="#ffff5d" d="M0 10h1v1h-1z"/><path fill="#ffff4d" d="M0 11h1v1h-1z"/><path fill="#ffff3d" d="M0 12h1v1h-1z"/><path fill="#ffff2d" d="M0 13h1v1h-1z"/><path fill="#ffff1c" d="M0 14h1v1h-1z"/><path fill="#ffff0c" d="M0 15h1v1h-1z"/><path fill="#fffc00" d="M0 16h1v1h-1z"/><path fill="#fff200" d="M0 17h1v1h-1z"/><path fill="#ffe700" d="M0 18h1v1h-1z"/><path fill="#ffdc00" d="M0 19h1v1h-1z"/><path fill="#ffd100" d="M0 20h1v1h-1z"/><path fill="#ffc600" d="M0 21h1v1h-1z"/><path fill="#ffbc00" d="M0 22h1v1h-1z"/><path fill="#ffb100" d="M0 23h1v1h-1z"/><path fill="#ffa600" d="M0 24h1v1h-1z"/><path fill="#ff9b00" d="M0 25h1v1h-1z"/><path fill="#ff9000" d="M0 26h1v1h-1z"/><path fill="#ff8600" d="M0 27h1v1h-1z"/><path fill="#ff7b00" d="M0 28h1v1h-1z"/><path fill="#ff7000" d="M0 29h1v1h-1z"/><path fill="#ff6500" d="M0 30h1v1h-1z"/><path fill="#ff5a00" d="M0 31h1v1h-1z"/><path fill="#ff5000" d="M0 32h1v1h-1z"/><path fill="#ff4500" d="M0 33h1v1h-1z"/><path fill="#ff3a00" d="M0 34h1v1h-1z"/><path fill="#ff2f00" d="M0 35h1v1h-1z"/><path fill="#ff2400" d="M0 36h1v1h-1z"/><path fill="#ff1a00" d="M0 37h1v1h-1z"/><path fill="#ff0f00" d="M0 38h1v1h-1z"/><path fill="#ff0400" d="M0 39h1v1h-1z"/><path fill="#f80000" d="M0 40h1v1h-1z"/><path fill="#ed0000" d="M0 41h1v1h-1z"/><path fill="#e30000" d="M0 42h1v1h-1z"/><path fill="#d80000" d="M0 43h1v1h-1z"/><path fill="#cd0000" d="M0 44h1v1h-1z"/><path fill="#c20000" d="M0 45h1v1h-1z"/><path fill="#b70000" d="M0 46h1v1h-1z"/><path fill="#ad0000" d="M0 47h1v1h-1z"/><path fill="#a20000" d="M0 48h1v1h-1z"/><path fill="#970000" d="M0 49h1v1h-1z"/><path fill="#8c0000" d="M0 50h1v1h-1z"/><path fill="#820000" d="M0 51h1v1h-1z"/><path fill="#770000" d="M0 52h1v1h-1z"/><path fill="#6c0000" d="M0 53h1v1h-1z"/><path fill="#610000" d="M0 54h1v1h-1z"/><path fill="#560000" d="M0 55h1v1h-1z"/><path fill="#4c0000" d="M0 56h1v1h-1z"/><path fill="#410000" d="M0 57h1v1h-1z"/><path fill="#360000" d="M0 58h1v1h-1z"/><path fill="#2b0000" d="M0 59h1v1h-1z"/><path fill="#200000" d="M0 60h1v1h-1z"/><path fill="#160000" d="M0 61h1v1h-1z"/><path fill="#0b0000" d="M0 62h1v1h-1z"/><path fill="#000000" d="M0 63h1v1h-1z"/></g><rect x="1641.20" y="754.90" width="11.60" height="291.60" fill="none" stroke="#606060" stroke-width="0.8"/><text font-size="20.7" text-anchor="start" transform="translate(1658.4 764.1) scale(1.0 1.1)">40</text><text font-size="20.7" text-anchor="start" transform="translate(1658.4 1051.0) scale(1.0 1.1)">0</text><clipPath id="cp0"><rect x="55.3" y="31.2" width="286.2" height="238.8"/></clipPath><polyline points="55.1,183.6 57.3,170.2 58.9,169.1 60.7,183.6 62.4,196.9 64.0,172.4 65.6,170.2 66.9,183.6 68.4,210.2 70.0,190.2 71.8,205.8 73.6,228.0 74.7,246.9 76.2,232.4 78.0,223.6 79.6,205.8 81.1,183.6 82.9,183.6 84.7,205.8 86.2,192.4 87.3,172.4 89.1,154.7 90.7,159.1 92.2,188.0 94.0,179.1 95.8,145.8 97.3,143.6 99.1,152.4 100.7,163.6 102.4,143.6 104.0,143.6 105.6,165.8 107.3,196.9 108.9,188.0 110.7,152.4 112.2,134.7 114.0,125.8 116.2,125.8 118.0,143.6 119.6,152.4 121.1,132.4 122.9,119.1 124.7,115.8 126.2,121.3 127.8,128.0 129.6,154.7 131.3,134.7 132.9,108.0 135.1,92.4 137.3,79.1 139.6,68.0 142.4,54.7 144.7,65.8 146.9,105.8 149.1,163.6 150.7,134.7 152.2,101.3 154.4,76.9 156.7,59.1 159.3,56.9 161.6,63.6 163.8,81.3 166.0,101.3 168.2,125.8 170.4,148.0 172.2,168.0 174.4,159.1 176.2,143.6 178.4,132.4 180.7,136.9 182.9,143.6 185.6,156.9 187.8,143.6 190.0,128.0 192.2,125.8 194.4,134.7 196.7,128.0 199.3,134.7 202.2,145.8 204.4,139.1 206.7,128.0 208.2,123.6 210.4,132.4 212.2,152.4 214.0,170.2 215.6,156.9 217.8,143.6 220.0,156.9 221.6,172.4 222.9,189.1 224.7,181.3 226.7,165.8 228.9,148.0 231.1,132.4 233.3,116.9 235.6,110.2 237.8,112.4 239.3,128.0 240.7,142.4 242.9,121.3 245.6,105.8 247.8,94.7 246.0,101.3 250.4,65.8 252.7,54.7 255.3,45.8 257.1,54.7 258.9,94.7 260.4,134.7 261.6,152.4 263.3,99.1 265.6,72.4 267.8,59.1 270.0,61.3 272.2,79.1 274.4,99.1 277.1,101.3 279.3,116.9 281.1,134.7 283.8,132.4 286.0,143.6 289.3,170.2 290.4,181.3 292.2,152.4 294.4,161.3 296.7,192.4 298.9,149.1 301.6,170.2 304.2,183.6 306.4,154.7 308.7,188.0 310.9,161.3 313.1,185.8 315.3,165.8 317.6,188.0 320.2,170.2 322.0,188.0 324.2,165.8 326.4,190.2 328.7,170.2 330.9,190.2 333.1,174.7 334.9,196.9 336.7,183.6 338.2,172.4 339.8,183.6" fill="none" stroke="#ff1a1a" stroke-width="2.6" stroke-linejoin="round" stroke-linecap="round" stroke-dasharray="0.1 4.6" clip-path="url(#cp0)"/><polyline points="55.1,193.6 58.4,174.7 61.8,156.9 64.7,148.0 67.8,144.0 70.0,149.1 71.8,165.8 73.6,196.9 74.7,223.6 75.8,201.3 76.9,185.8 78.9,181.3 81.1,166.9 82.9,172.4 85.1,188.0 87.3,195.8 89.1,183.6 91.3,165.8 93.6,149.1 95.8,145.8 98.4,152.4 101.8,154.7 104.0,165.8 106.7,188.0 108.9,192.4 111.1,183.6 113.1,161.3 115.1,146.9 117.3,148.0 118.9,156.9 120.7,171.3 122.2,139.1 123.6,125.8 125.6,125.8 127.3,132.4 129.6,168.0 131.8,139.1 133.3,116.9 134.7,103.6 137.3,88.0 139.6,72.4 142.2,56.9 144.4,61.3 146.2,83.6 148.4,134.7 149.6,152.4 151.1,128.0 152.9,99.1 152.2,105.8 154.4,83.6 157.1,65.8 159.3,58.0 161.6,61.3 163.3,76.9 165.6,99.1 167.8,121.3 170.0,139.1 172.2,152.4 174.4,155.8 176.2,145.8 177.8,134.7 180.0,132.4 182.2,134.7 183.8,132.4 185.1,141.3 186.7,150.2 188.2,139.1 190.0,125.8 192.2,123.6 194.4,123.1 196.7,124.7 199.3,132.4 201.6,141.3 203.3,142.4 205.1,134.7 206.7,125.8 208.2,121.3 210.0,128.0 211.8,143.6 213.6,165.8 214.4,169.1 215.6,156.9 217.1,140.2 218.9,143.6 220.7,156.9 222.4,170.2 224.4,174.7 226.0,172.4 227.8,161.3 230.0,145.8 232.2,132.4 234.4,123.6 236.7,118.0 238.4,116.9 240.0,125.8 241.1,132.4 242.9,116.9 245.1,105.8 247.8,94.7 246.0,108.0 249.3,96.9 251.6,79.1 253.8,59.1 255.6,48.0 257.1,52.4 258.9,83.6 260.4,121.3 261.6,139.1 262.9,105.8 264.9,83.6 267.1,65.8 269.3,58.0 271.1,56.9 272.7,65.8 274.4,81.3 276.7,94.7 278.9,105.8 280.4,121.3 281.6,139.1 282.7,149.1 284.2,134.7 285.6,129.1 287.1,134.7 288.2,152.4 289.8,174.7 291.1,152.4 292.7,141.3 294.0,148.0 295.3,165.8 296.7,175.8 298.2,168.0 300.4,159.1 303.3,152.4 306.0,149.1 308.2,148.0 310.4,151.3 312.7,151.3 314.4,159.1 316.7,168.0 318.9,163.6 321.6,154.7 324.2,148.0 326.4,141.3 328.2,145.8 330.4,153.6 332.7,165.8 334.4,179.1 335.8,183.6 337.1,165.8 338.0,154.7 339.3,170.2 340.7,181.3" fill="none" stroke="#0a14ff" stroke-width="3.0" stroke-linejoin="round" stroke-linecap="round" clip-path="url(#cp0)"/><rect x="55.3" y="31.2" width="286.2" height="238.8" fill="none" stroke="#000" stroke-width="1.7"/><line x1="55.3" y1="270" x2="55.3" y2="266" stroke="#000" stroke-width="1.3"/><text x="55.3" y="285.5" font-size="12.2" text-anchor="middle">90</text><line x1="103.0" y1="270" x2="103.0" y2="266" stroke="#000" stroke-width="1.3"/><text x="103.0" y="285.5" font-size="12.2" text-anchor="middle">120</text><line x1="150.7" y1="270" x2="150.7" y2="266" stroke="#000" stroke-width="1.3"/><text x="150.7" y="285.5" font-size="12.2" text-anchor="middle">150</text><line x1="198.4" y1="270" x2="198.4" y2="266" stroke="#000" stroke-width="1.3"/><text x="198.4" y="285.5" font-size="12.2" text-anchor="middle">180</text><line x1="246.1" y1="270" x2="246.1" y2="266" stroke="#000" stroke-width="1.3"/><text x="246.1" y="285.5" font-size="12.2" text-anchor="middle">210</text><line x1="293.8" y1="270" x2="293.8" y2="266" stroke="#000" stroke-width="1.3"/><text x="293.8" y="285.5" font-size="12.2" text-anchor="middle">240</text><line x1="341.5" y1="270" x2="341.5" y2="266" stroke="#000" stroke-width="1.3"/><text x="341.5" y="285.5" font-size="12.2" text-anchor="middle">270</text><line x1="55.3" y1="31.2" x2="59.3" y2="31.2" stroke="#000" stroke-width="1.3"/><text x="51.3" y="35.4" font-size="12.2" text-anchor="end">20</text><line x1="55.3" y1="79.0" x2="59.3" y2="79.0" stroke="#000" stroke-width="1.3"/><text x="51.3" y="83.2" font-size="12.2" text-anchor="end">10</text><line x1="55.3" y1="126.7" x2="59.3" y2="126.7" stroke="#000" stroke-width="1.3"/><text x="51.3" y="130.9" font-size="12.2" text-anchor="end">0</text><line x1="55.3" y1="174.5" x2="59.3" y2="174.5" stroke="#000" stroke-width="1.3"/><text x="51.3" y="178.7" font-size="12.2" text-anchor="end">-10</text><line x1="55.3" y1="222.2" x2="59.3" y2="222.2" stroke="#000" stroke-width="1.3"/><text x="51.3" y="226.4" font-size="12.2" text-anchor="end">-20</text><line x1="55.3" y1="270.0" x2="59.3" y2="270.0" stroke="#000" stroke-width="1.3"/><text x="51.3" y="274.2" font-size="12.2" text-anchor="end">-30</text><text font-size="19.3" text-anchor="middle" transform="translate(198.4 303.0) scale(1.0 1.05)">Theta(deg)</text><text font-size="19.4" text-anchor="middle" transform="translate(27.3 151.9) rotate(-90) scale(1.06 1.0)">Realized Gain(dB)</text><text font-size="19.2" text-anchor="start" transform="translate(57.3 49.7) scale(1.0 1.04)">Phi=45°</text><polyline points="92.3,233.7 117.3,233.7" fill="none" stroke="#ff1a1a" stroke-width="2.6" stroke-linejoin="round" stroke-linecap="round" stroke-dasharray="0.1 5"/><text x="124.9" y="237.9" font-size="13" text-anchor="start">Simulation</text><polyline points="91.9,250.5 121.7,250.5" fill="none" stroke="#0a14ff" stroke-width="3.1" stroke-linejoin="round" stroke-linecap="round"/><text x="124.9" y="255.2" font-size="13" text-anchor="start">Measurement</text><text font-size="30.5" text-anchor="middle" transform="translate(197.2 333.5) scale(1.0 1.07)">(a)</text><clipPath id="cp1"><rect x="470.7" y="30.5" width="284.90000000000003" height="238.89999999999998"/></clipPath><polyline points="470.7,209.4 473.6,216.2 476.5,182.6 478.7,122.2 480.3,84.2 481.4,120.0 482.5,196.0 483.2,213.9 484.8,160.2 485.9,191.5 488.1,227.3 490.4,240.8 492.2,227.3 494.4,213.9 496.0,231.8 497.1,205.0 498.9,169.2 501.6,205.0 503.8,182.6 506.0,196.0 509.4,222.9 512.7,227.3 515.0,240.8 516.8,249.7 518.3,236.3 521.2,247.5 523.9,258.7 526.6,263.1 528.4,263.1 530.6,256.4 534.0,249.7 537.4,231.8 540.0,218.4 542.3,182.6 543.6,93.1 544.5,21.5 545.9,21.5 546.7,137.9 548.1,216.2 549.7,240.8 551.9,260.9 554.1,256.4 557.5,249.7 560.2,240.8 563.1,222.9 566.4,216.2 566.2,205.0 569.6,160.2 572.9,153.5 576.3,151.3 577.9,160.2 579.7,187.1 583.0,218.4 586.4,227.3 590.8,236.3 594.2,222.9 597.6,191.5 599.8,182.6 602.0,187.1 605.4,209.4 608.7,222.9 612.1,228.5 617.7,234.1 622.2,222.9 626.6,205.0 628.9,198.3 631.1,216.2 634.5,240.8 636.7,253.1 638.9,243.0 642.3,232.9 645.7,235.2 647.9,231.8 651.2,213.9 653.9,200.5 656.2,202.7 659.1,209.4 662.4,211.7 660.0,209.4 663.4,216.2 665.6,182.6 667.2,93.1 668.1,21.5 668.9,21.5 669.4,70.7 670.7,187.1 672.3,182.6 673.9,142.3 675.7,120.0 677.4,187.1 679.0,120.0 680.1,61.8 681.3,93.1 682.4,151.3 684.2,155.8 686.4,164.7 688.0,205.0 690.2,234.1 693.6,249.7 696.9,258.7 699.8,256.4 702.5,243.0 704.7,227.3 707.0,160.2 708.1,106.5 709.2,160.2 710.6,227.3 712.6,247.5 714.8,252.0 717.7,260.9 720.4,254.2 722.6,247.5 724.9,243.0 727.1,240.8 729.4,245.2 731.1,240.8 733.8,247.5 736.1,240.8 737.9,182.6 738.7,133.4 740.5,151.3 742.8,164.7 745.0,187.1 747.2,211.7 749.0,182.6 750.6,211.7 752.2,209.4 754.0,222.9 755.7,227.3" fill="none" stroke="#000" stroke-width="1.8" stroke-linejoin="round" stroke-linecap="butt" stroke-dasharray="4.3 2.9" clip-path="url(#cp1)"/><polyline points="470.7,209.4 472.9,218.4 475.8,228.5 478.1,182.6 479.6,131.1 480.3,113.2 481.4,137.9 482.5,178.1 484.1,182.6 485.9,191.5 488.1,209.4 489.9,230.7 491.5,220.6 493.7,211.7 496.0,209.4 497.5,209.4 499.3,137.9 501.1,151.3 503.3,169.2 506.0,178.1 507.1,196.0 508.7,234.1 510.5,193.8 512.3,202.7 513.9,216.2 516.1,231.8 517.7,240.8 519.9,234.1 521.2,240.8 523.5,252.0 525.7,263.1 527.3,264.3 528.9,258.7 531.1,258.7 533.3,254.2 536.2,247.5 537.8,234.1 539.1,218.4 541.4,213.9 542.9,182.6 544.1,93.1 545.0,95.4 546.3,160.2 547.4,220.6 549.0,234.1 550.8,252.0 552.3,262.0 554.1,254.2 556.4,253.1 559.3,252.0 561.5,234.1 563.7,220.6 566.0,222.9 568.0,191.5 565.8,222.9 568.0,196.0 570.3,144.6 571.4,151.3 572.9,178.1 575.2,173.7 577.9,160.2 579.7,182.6 580.8,202.7 581.9,191.5 583.7,209.4 585.3,222.9 587.5,231.8 589.7,238.5 592.0,241.9 594.2,227.3 596.4,205.0 598.7,187.1 600.2,183.7 602.0,191.5 603.8,205.0 605.4,209.4 607.0,218.4 608.7,227.3 610.5,237.4 612.1,229.6 613.7,228.5 615.9,232.9 618.8,235.2 621.0,227.3 623.3,218.4 625.5,211.7 627.8,202.7 629.3,200.5 630.7,213.9 632.2,227.3 633.8,238.5 635.6,246.4 637.4,247.5 638.9,240.8 641.2,235.2 642.7,234.1 644.5,237.4 646.8,238.5 648.6,227.3 650.8,218.4 653.0,209.4 655.7,210.6 659.1,212.8 662.4,215.0 660.0,209.4 662.7,216.2 664.9,200.5 666.7,137.9 668.1,66.3 668.9,93.1 670.1,205.0 671.6,196.0 673.4,160.2 675.2,133.4 676.8,124.4 678.3,115.5 679.7,84.2 680.8,115.5 681.9,164.7 684.6,165.8 686.8,169.2 688.6,205.0 690.2,234.1 692.4,247.5 694.7,249.7 696.9,260.9 699.1,258.7 701.4,256.4 703.6,256.4 705.9,249.7 707.4,182.6 708.3,149.0 709.7,182.6 711.0,243.0 713.2,243.0 715.5,254.2 717.7,262.0 720.0,249.7 722.2,238.5 724.9,227.3 726.7,236.3 728.2,236.3 730.5,231.8 732.7,227.3 734.9,225.1 736.5,236.3 737.9,182.6 739.4,146.8 741.0,151.3 743.2,164.7 745.0,182.6 746.6,231.8 747.7,182.6 749.0,102.1 749.9,115.5 751.3,182.6 752.8,193.8 754.4,213.9 755.7,238.5" fill="none" stroke="#ff1a1a" stroke-width="1.8" stroke-linejoin="round" stroke-linecap="round" clip-path="url(#cp1)"/><polyline points="470.7,251.5 755.6,251.5" fill="none" stroke="#000" stroke-width="1.6" stroke-linejoin="round" stroke-linecap="butt" stroke-dasharray="4.3 2.9"/><rect x="470.7" y="30.5" width="284.90000000000003" height="238.89999999999998" fill="none" stroke="#000" stroke-width="1.7"/><line x1="470.7" y1="269.4" x2="470.7" y2="265.4" stroke="#000" stroke-width="1.3"/><text x="470.7" y="284.9" font-size="12.2" text-anchor="middle">120</text><line x1="541.9" y1="269.4" x2="541.9" y2="265.4" stroke="#000" stroke-width="1.3"/><text x="541.9" y="284.9" font-size="12.2" text-anchor="middle">150</text><line x1="613.1" y1="269.4" x2="613.1" y2="265.4" stroke="#000" stroke-width="1.3"/><text x="613.1" y="284.9" font-size="12.2" text-anchor="middle">180</text><line x1="684.4" y1="269.4" x2="684.4" y2="265.4" stroke="#000" stroke-width="1.3"/><text x="684.4" y="284.9" font-size="12.2" text-anchor="middle">210</text><line x1="755.6" y1="269.4" x2="755.6" y2="265.4" stroke="#000" stroke-width="1.3"/><text x="755.6" y="284.9" font-size="12.2" text-anchor="middle">240</text><line x1="470.7" y1="269.4" x2="474.7" y2="269.4" stroke="#000" stroke-width="1.3"/><text x="466.7" y="273.6" font-size="12.2" text-anchor="end">0</text><line x1="470.7" y1="251.5" x2="474.7" y2="251.5" stroke="#000" stroke-width="1.3"/><text x="466.7" y="255.7" font-size="12.2" text-anchor="end">3</text><line x1="470.7" y1="209.7" x2="474.7" y2="209.7" stroke="#000" stroke-width="1.3"/><text x="466.7" y="213.9" font-size="12.2" text-anchor="end">10</text><line x1="470.7" y1="149.9" x2="474.7" y2="149.9" stroke="#000" stroke-width="1.3"/><text x="466.7" y="154.1" font-size="12.2" text-anchor="end">20</text><line x1="470.7" y1="90.2" x2="474.7" y2="90.2" stroke="#000" stroke-width="1.3"/><text x="466.7" y="94.4" font-size="12.2" text-anchor="end">30</text><line x1="470.7" y1="30.5" x2="474.7" y2="30.5" stroke="#000" stroke-width="1.3"/><text x="466.7" y="34.7" font-size="12.2" text-anchor="end">40</text><text font-size="19.3" text-anchor="middle" transform="translate(613.1 302.4) scale(1.0 1.05)">Theta(deg)</text><text font-size="19.2" text-anchor="middle" transform="translate(447.3 151.2) rotate(-90) scale(1.06 1.0)">Axial Ratio(dB)</text><text font-size="19.2" text-anchor="start" transform="translate(472.7 49.0) scale(1.0 1.04)">Phi=45°</text><polyline points="563.8,46.9 594.8,46.9" fill="none" stroke="#000" stroke-width="1.9" stroke-linejoin="round" stroke-linecap="butt" stroke-dasharray="4.3 2.9"/><text x="597.6" y="51.6" font-size="13" text-anchor="start">Sim.AR</text><polyline points="563.8,63.5 594.8,63.5" fill="none" stroke="#ff1a1a" stroke-width="2.0" stroke-linejoin="round" stroke-linecap="butt"/><text x="597.6" y="68.5" font-size="13" text-anchor="start">Mea.AR</text><text font-size="30.5" text-anchor="middle" transform="translate(615.4 332.9) scale(1.0 1.07)">(b)</text><clipPath id="cp2"><rect x="924.2" y="30.9" width="285.79999999999995" height="239.4"/></clipPath><polyline points="924.3,181.3 925.9,201.3 927.2,225.8 929.4,188.0 931.0,179.1 932.6,205.8 933.9,244.7 935.4,201.3 937.7,183.6 939.9,210.2 941.4,234.7 943.2,196.9 945.0,181.3 946.6,219.1 948.1,261.3 949.9,188.0 951.7,172.4 953.2,188.0 955.4,225.8 957.7,188.0 959.2,170.2 961.0,174.7 962.3,188.0 963.7,161.3 965.4,134.7 967.2,130.2 968.8,152.4 970.3,134.7 972.1,116.9 973.4,112.4 975.4,132.4 977.7,134.7 979.2,121.3 981.0,116.9 982.8,132.4 984.3,156.9 985.9,172.4 987.7,116.9 989.0,112.4 990.3,130.2 992.1,152.4 994.3,192.4 996.6,161.3 998.8,128.0 1001.0,101.3 1003.7,83.6 1006.6,63.6 1009.9,53.6 1012.6,56.9 1014.3,76.9 1016.6,112.4 1018.8,148.0 1017.0,94.7 1019.2,139.1 1020.3,148.0 1021.9,121.3 1023.7,72.4 1026.3,52.4 1029.2,59.1 1032.6,83.6 1035.9,94.7 1038.1,110.2 1040.3,132.4 1042.6,145.8 1044.8,130.2 1047.0,123.6 1050.3,134.7 1052.6,121.3 1055.9,114.7 1058.1,120.2 1060.3,134.7 1063.7,150.2 1065.9,136.9 1068.1,129.1 1070.3,134.7 1072.6,161.3 1074.3,183.6 1075.2,205.8 1075.9,256.9 1077.0,212.4 1079.2,208.0 1081.4,210.2 1083.7,214.7 1085.9,210.2 1088.1,205.8 1090.3,192.4 1092.6,172.4 1094.8,159.1 1097.0,154.7 1099.2,143.6 1102.6,132.4 1104.8,143.6 1107.0,172.4 1109.2,188.0 1111.4,212.4 1112.6,183.6 1114.3,152.4 1115.9,116.9 1113.0,161.3 1114.1,128.0 1116.3,99.1 1118.6,81.3 1120.8,61.3 1123.0,52.4 1125.2,56.9 1126.8,81.3 1128.6,101.3 1130.3,112.4 1131.9,83.6 1134.1,61.3 1137.0,56.9 1139.2,63.6 1140.8,83.6 1143.0,101.3 1145.2,112.4 1148.1,116.9 1149.7,128.0 1151.2,152.4 1152.6,188.0 1154.1,159.1 1156.3,154.7 1158.6,163.6 1160.1,170.2 1161.9,156.9 1164.1,170.2 1165.4,188.0 1167.0,150.2 1168.6,139.1 1170.3,152.4 1171.9,161.3 1173.4,156.9 1175.2,148.0 1177.4,152.4 1179.7,188.0 1181.9,172.4 1184.1,161.3 1185.9,201.3 1187.4,212.4 1189.0,183.6 1190.8,205.8 1192.6,232.4 1194.1,210.2 1195.7,203.6 1197.4,223.6 1199.2,232.4 1201.4,214.7 1203.0,221.3 1205.2,225.8 1207.4,223.6 1209.0,234.7" fill="none" stroke="#ff1a1a" stroke-width="2.6" stroke-linejoin="round" stroke-linecap="round" stroke-dasharray="0.1 4.6" clip-path="url(#cp2)"/><polyline points="924.3,181.3 925.9,201.3 927.7,219.1 929.4,188.0 931.0,179.1 933.2,178.0 936.1,179.1 938.3,188.0 939.9,205.8 941.4,222.4 943.2,201.3 945.0,181.3 947.2,175.8 949.9,174.7 952.1,179.1 953.9,196.9 954.8,190.2 956.1,165.8 957.7,156.9 959.9,155.8 961.4,161.3 962.8,162.4 964.3,154.7 965.9,141.3 967.7,132.4 968.8,133.6 970.3,156.9 971.7,132.4 973.2,121.3 975.4,116.9 977.7,116.9 979.9,120.2 981.4,128.0 983.2,143.6 985.0,159.1 986.8,172.4 988.8,173.6 991.0,166.9 992.6,165.8 994.3,179.1 996.1,161.3 997.7,139.1 999.2,116.9 1001.0,101.3 1003.2,85.8 1005.4,72.4 1007.7,59.1 1009.9,56.9 1012.1,59.1 1014.3,72.4 1016.1,94.7 1017.7,121.3 1019.2,139.1 1018.1,116.9 1019.7,139.1 1021.0,141.3 1022.6,105.8 1024.8,65.8 1027.0,53.6 1029.2,59.1 1031.4,72.4 1033.7,88.0 1036.6,94.7 1038.1,105.8 1039.7,121.3 1041.4,139.1 1043.2,150.2 1044.8,134.7 1046.3,125.8 1048.1,125.8 1049.9,139.1 1050.8,128.0 1052.6,121.3 1055.9,119.1 1058.1,121.3 1060.3,134.7 1062.6,156.9 1063.7,165.8 1065.4,150.2 1067.7,145.8 1070.3,150.2 1072.6,161.3 1074.3,183.6 1075.2,192.4 1077.0,176.9 1079.2,173.6 1081.4,176.9 1082.8,192.4 1084.1,210.2 1085.9,212.4 1088.1,208.0 1090.3,201.3 1092.6,183.6 1094.3,161.3 1096.6,154.7 1099.2,143.6 1101.4,132.4 1103.2,130.2 1104.8,141.3 1106.3,165.8 1108.1,170.2 1110.3,165.8 1112.6,156.9 1114.1,134.7 1115.9,99.1 1114.8,121.3 1116.3,101.3 1118.6,81.3 1120.8,65.8 1123.0,53.6 1125.2,54.7 1126.8,72.4 1128.1,99.1 1129.0,106.9 1130.3,94.7 1131.9,72.4 1134.1,59.1 1136.3,56.9 1138.6,59.1 1140.1,70.2 1141.9,90.2 1144.1,103.6 1146.3,112.4 1148.6,116.9 1149.9,128.0 1151.2,152.4 1152.6,174.7 1154.1,161.3 1156.3,154.7 1158.6,150.2 1160.1,152.4 1161.9,155.8 1163.7,149.1 1166.3,149.1 1168.6,152.4 1170.3,156.9 1171.9,164.7 1173.4,161.3 1175.2,145.8 1177.0,144.7 1178.6,170.2 1179.7,188.0 1181.4,165.8 1183.7,148.0 1186.3,145.8 1189.0,143.6 1190.8,144.7 1192.6,165.8 1194.1,199.1 1195.7,199.1 1197.0,176.9 1198.6,174.7 1200.8,175.8 1203.0,179.1 1204.6,188.0 1206.3,185.8 1208.1,188.0 1209.7,186.9" fill="none" stroke="#0a14ff" stroke-width="3.0" stroke-linejoin="round" stroke-linecap="round" clip-path="url(#cp2)"/><rect x="924.2" y="30.9" width="285.79999999999995" height="239.4" fill="none" stroke="#000" stroke-width="1.7"/><line x1="924.2" y1="270.3" x2="924.2" y2="266.3" stroke="#000" stroke-width="1.3"/><text x="924.2" y="285.8" font-size="12.2" text-anchor="middle">90</text><line x1="971.8" y1="270.3" x2="971.8" y2="266.3" stroke="#000" stroke-width="1.3"/><text x="971.8" y="285.8" font-size="12.2" text-anchor="middle">120</text><line x1="1019.5" y1="270.3" x2="1019.5" y2="266.3" stroke="#000" stroke-width="1.3"/><text x="1019.5" y="285.8" font-size="12.2" text-anchor="middle">150</text><line x1="1067.1" y1="270.3" x2="1067.1" y2="266.3" stroke="#000" stroke-width="1.3"/><text x="1067.1" y="285.8" font-size="12.2" text-anchor="middle">180</text><line x1="1114.7" y1="270.3" x2="1114.7" y2="266.3" stroke="#000" stroke-width="1.3"/><text x="1114.7" y="285.8" font-size="12.2" text-anchor="middle">210</text><line x1="1162.4" y1="270.3" x2="1162.4" y2="266.3" stroke="#000" stroke-width="1.3"/><text x="1162.4" y="285.8" font-size="12.2" text-anchor="middle">240</text><line x1="1210.0" y1="270.3" x2="1210.0" y2="266.3" stroke="#000" stroke-width="1.3"/><text x="1210.0" y="285.8" font-size="12.2" text-anchor="middle">270</text><line x1="924.2" y1="30.9" x2="928.2" y2="30.9" stroke="#000" stroke-width="1.3"/><text x="920.2" y="35.1" font-size="12.2" text-anchor="end">20</text><line x1="924.2" y1="78.8" x2="928.2" y2="78.8" stroke="#000" stroke-width="1.3"/><text x="920.2" y="83.0" font-size="12.2" text-anchor="end">10</text><line x1="924.2" y1="126.7" x2="928.2" y2="126.7" stroke="#000" stroke-width="1.3"/><text x="920.2" y="130.9" font-size="12.2" text-anchor="end">0</text><line x1="924.2" y1="174.5" x2="928.2" y2="174.5" stroke="#000" stroke-width="1.3"/><text x="920.2" y="178.7" font-size="12.2" text-anchor="end">-10</text><line x1="924.2" y1="222.4" x2="928.2" y2="222.4" stroke="#000" stroke-width="1.3"/><text x="920.2" y="226.6" font-size="12.2" text-anchor="end">-20</text><line x1="924.2" y1="270.3" x2="928.2" y2="270.3" stroke="#000" stroke-width="1.3"/><text x="920.2" y="274.5" font-size="12.2" text-anchor="end">-30</text><text font-size="19.3" text-anchor="middle" transform="translate(1067.1 303.3) scale(1.0 1.05)">Theta(deg)</text><text font-size="19.4" text-anchor="middle" transform="translate(896.0 151.9) rotate(-90) scale(1.06 1.0)">Realized Gain(dB)</text><text font-size="19.2" text-anchor="start" transform="translate(926.2 49.4) scale(1.0 1.04)">Phi=135°</text><polyline points="958.2,237.2 983.2,237.2" fill="none" stroke="#ff1a1a" stroke-width="2.6" stroke-linejoin="round" stroke-linecap="round" stroke-dasharray="0.1 5"/><text x="990.8" y="241.4" font-size="13" text-anchor="start">Simulation</text><polyline points="957.8,254.0 987.6,254.0" fill="none" stroke="#0a14ff" stroke-width="3.1" stroke-linejoin="round" stroke-linecap="round"/><text x="990.8" y="258.7" font-size="13" text-anchor="start">Measurement</text><text font-size="30.5" text-anchor="middle" transform="translate(1065.3 333.8) scale(1.0 1.07)">(g)</text><clipPath id="cp3"><rect x="1352" y="30.2" width="284.79999999999995" height="239.3"/></clipPath><polyline points="1352.1,196.0 1353.9,205.0 1355.7,216.2 1357.5,231.8 1358.4,254.2 1359.7,216.2 1361.3,164.7 1362.9,182.6 1364.7,196.0 1366.4,231.8 1368.0,241.9 1369.1,209.4 1370.7,126.7 1371.8,70.7 1372.7,43.9 1373.6,81.9 1375.0,171.4 1376.3,209.4 1378.1,220.6 1379.9,200.5 1381.4,196.0 1383.7,227.3 1384.8,234.1 1386.6,200.5 1388.8,178.1 1391.1,160.2 1393.3,153.5 1394.9,164.7 1396.4,196.0 1398.7,227.3 1401.6,249.7 1404.5,247.5 1407.2,252.0 1409.9,260.9 1412.8,256.4 1415.7,240.8 1418.4,209.4 1420.1,184.8 1421.7,187.1 1423.9,196.0 1426.2,216.2 1429.1,238.5 1431.8,258.7 1433.6,264.3 1435.8,258.7 1438.0,240.8 1439.8,213.9 1441.2,213.9 1443.0,231.8 1445.6,240.8 1445.0,240.8 1447.2,245.2 1449.5,218.4 1451.7,182.6 1453.9,151.3 1454.8,126.7 1455.7,81.9 1456.6,111.0 1458.0,142.3 1459.5,137.9 1461.1,120.0 1462.9,104.3 1464.7,120.0 1466.3,128.9 1467.8,160.2 1469.6,187.1 1471.8,200.5 1474.1,211.7 1476.3,196.0 1478.6,189.3 1480.8,198.3 1483.0,202.7 1485.3,213.9 1487.5,234.1 1489.7,240.8 1492.0,227.3 1494.2,218.4 1496.5,211.7 1498.7,205.0 1500.9,216.2 1503.6,231.8 1506.5,249.7 1508.8,263.1 1511.0,258.7 1514.4,260.9 1518.8,263.1 1522.2,260.9 1525.5,252.0 1528.9,247.5 1532.2,238.5 1535.6,231.8 1539.0,222.9 1542.3,213.9 1541.0,222.9 1543.2,200.5 1545.5,187.1 1547.3,169.2 1549.1,156.9 1550.4,178.1 1552.2,211.7 1554.0,240.8 1556.2,254.2 1558.4,249.7 1560.7,252.0 1562.5,227.3 1564.5,160.2 1565.6,79.7 1566.7,104.3 1567.8,160.2 1569.0,209.4 1570.5,227.3 1572.8,249.7 1575.7,260.9 1579.0,260.9 1582.4,260.9 1585.7,258.7 1588.0,227.3 1590.2,137.9 1592.0,39.4 1593.1,81.9 1594.7,182.6 1596.9,238.5 1599.6,263.1 1602.5,267.6 1605.9,258.7 1608.1,240.8 1610.4,234.1 1612.6,231.8 1614.8,222.9 1617.1,236.3 1618.9,240.8 1620.4,218.4 1622.0,182.6 1623.1,162.5 1624.2,196.0 1626.0,211.7 1628.7,200.5 1630.0,198.3 1631.6,216.2 1633.2,227.3 1635.0,249.7 1636.1,227.3" fill="none" stroke="#000" stroke-width="1.8" stroke-linejoin="round" stroke-linecap="butt" stroke-dasharray="4.7 4.6" clip-path="url(#cp3)"/><polyline points="1352.1,216.2 1353.5,231.8 1355.3,207.2 1356.8,222.9 1358.4,229.6 1360.2,196.0 1362.0,173.7 1363.5,158.0 1365.1,178.1 1366.4,200.5 1368.0,218.4 1369.1,182.6 1370.7,133.4 1372.3,95.4 1373.6,120.0 1374.7,182.6 1375.8,216.2 1377.6,222.9 1379.2,209.4 1380.3,205.0 1382.1,202.7 1383.7,196.0 1385.2,187.1 1387.0,169.2 1388.8,164.7 1390.4,151.3 1392.0,137.9 1393.3,151.3 1394.9,169.2 1396.4,196.0 1397.8,222.9 1399.3,245.2 1400.9,249.7 1402.7,245.2 1404.9,244.1 1406.7,249.7 1408.3,254.2 1410.5,262.0 1412.8,256.4 1415.0,245.2 1417.2,231.8 1418.8,213.9 1420.6,193.8 1422.8,191.5 1425.1,198.3 1426.9,213.9 1428.4,227.3 1430.0,240.8 1431.8,256.4 1433.6,262.0 1435.1,256.4 1436.7,254.2 1438.5,243.0 1440.3,220.6 1441.8,211.7 1443.4,225.1 1445.2,234.1 1447.4,231.8 1445.0,231.8 1447.2,234.1 1449.5,209.4 1451.7,182.6 1453.9,149.0 1456.2,146.8 1458.4,146.8 1460.2,133.4 1461.8,124.4 1464.0,126.7 1466.3,131.1 1467.4,155.8 1468.5,182.6 1470.7,196.0 1473.0,213.9 1475.2,189.3 1477.4,205.0 1479.7,187.1 1481.9,200.5 1484.1,213.9 1486.4,231.8 1488.6,236.3 1490.9,238.5 1492.4,216.2 1493.8,178.1 1494.7,187.1 1496.0,209.4 1497.6,205.0 1499.1,196.0 1500.9,209.4 1503.2,227.3 1505.4,247.5 1507.6,249.7 1509.9,245.2 1512.1,236.3 1514.4,243.0 1516.6,254.2 1518.8,256.4 1521.1,249.7 1523.3,245.2 1525.5,240.8 1527.8,240.8 1530.0,236.3 1532.2,231.8 1534.5,227.3 1536.7,222.9 1539.0,211.7 1541.2,207.2 1543.4,200.5 1541.0,209.4 1543.2,207.2 1545.0,196.0 1546.6,178.1 1548.2,196.0 1549.9,205.0 1551.7,218.4 1554.0,231.8 1556.2,236.3 1558.4,234.1 1560.7,240.8 1562.3,227.3 1563.8,187.1 1565.2,160.2 1566.1,137.9 1567.4,160.2 1568.3,209.4 1570.1,211.7 1571.9,231.8 1574.1,254.2 1575.7,267.6 1577.2,256.4 1579.0,256.4 1581.3,256.4 1583.5,254.2 1585.7,256.4 1587.1,254.2 1588.4,187.1 1590.2,137.9 1592.0,99.8 1593.6,160.2 1595.1,205.0 1596.9,227.3 1598.7,258.7 1599.6,267.6 1601.4,258.7 1603.6,254.2 1605.9,256.4 1607.7,240.8 1609.2,236.3 1611.5,231.8 1613.7,216.2 1615.5,191.5 1617.5,196.0 1619.3,216.2 1620.4,238.5 1621.5,220.6 1623.3,227.3 1624.9,247.5 1626.5,236.3 1628.2,238.5 1630.0,238.5 1631.6,234.1 1633.2,238.5 1634.5,231.8 1636.1,209.4" fill="none" stroke="#ff1a1a" stroke-width="1.8" stroke-linejoin="round" stroke-linecap="round" clip-path="url(#cp3)"/><polyline points="1352.0,251.6 1636.8,251.6" fill="none" stroke="#000" stroke-width="1.6" stroke-linejoin="round" stroke-linecap="butt" stroke-dasharray="4.3 2.9"/><rect x="1352" y="30.2" width="284.79999999999995" height="239.3" fill="none" stroke="#000" stroke-width="1.7"/><line x1="1352.0" y1="269.5" x2="1352.0" y2="265.5" stroke="#000" stroke-width="1.3"/><text x="1352.0" y="285.0" font-size="12.2" text-anchor="middle">120</text><line x1="1423.2" y1="269.5" x2="1423.2" y2="265.5" stroke="#000" stroke-width="1.3"/><text x="1423.2" y="285.0" font-size="12.2" text-anchor="middle">150</text><line x1="1494.4" y1="269.5" x2="1494.4" y2="265.5" stroke="#000" stroke-width="1.3"/><text x="1494.4" y="285.0" font-size="12.2" text-anchor="middle">180</text><line x1="1565.6" y1="269.5" x2="1565.6" y2="265.5" stroke="#000" stroke-width="1.3"/><text x="1565.6" y="285.0" font-size="12.2" text-anchor="middle">210</text><line x1="1636.8" y1="269.5" x2="1636.8" y2="265.5" stroke="#000" stroke-width="1.3"/><text x="1636.8" y="285.0" font-size="12.2" text-anchor="middle">240</text><line x1="1352" y1="269.5" x2="1356" y2="269.5" stroke="#000" stroke-width="1.3"/><text x="1348.0" y="273.7" font-size="12.2" text-anchor="end">0</text><line x1="1352" y1="251.6" x2="1356" y2="251.6" stroke="#000" stroke-width="1.3"/><text x="1348.0" y="255.8" font-size="12.2" text-anchor="end">3</text><line x1="1352" y1="209.7" x2="1356" y2="209.7" stroke="#000" stroke-width="1.3"/><text x="1348.0" y="213.9" font-size="12.2" text-anchor="end">10</text><line x1="1352" y1="149.8" x2="1356" y2="149.8" stroke="#000" stroke-width="1.3"/><text x="1348.0" y="154.0" font-size="12.2" text-anchor="end">20</text><line x1="1352" y1="90.0" x2="1356" y2="90.0" stroke="#000" stroke-width="1.3"/><text x="1348.0" y="94.2" font-size="12.2" text-anchor="end">30</text><line x1="1352" y1="30.2" x2="1356" y2="30.2" stroke="#000" stroke-width="1.3"/><text x="1348.0" y="34.4" font-size="12.2" text-anchor="end">40</text><text font-size="19.3" text-anchor="middle" transform="translate(1494.4 302.5) scale(1.0 1.05)">Theta(deg)</text><text font-size="19.2" text-anchor="middle" transform="translate(1329.0 151.2) rotate(-90) scale(1.06 1.0)">Axial Ratio(dB)</text><text font-size="19.2" text-anchor="start" transform="translate(1354.0 48.7) scale(1.0 1.04)">Phi=135°</text><polyline points="1474.8,48.0 1505.8,48.0" fill="none" stroke="#000" stroke-width="1.9" stroke-linejoin="round" stroke-linecap="butt" stroke-dasharray="4.7 4.6"/><text x="1508.6" y="52.7" font-size="13" text-anchor="start">Sim.AR</text><polyline points="1474.8,64.6 1505.8,64.6" fill="none" stroke="#ff1a1a" stroke-width="2.0" stroke-linejoin="round" stroke-linecap="butt"/><text x="1508.6" y="69.6" font-size="13" text-anchor="start">Mea.AR</text><text font-size="30.5" text-anchor="middle" transform="translate(1497.0 333.0) scale(1.0 1.07)">(h)</text><text font-size="24.6" text-anchor="middle" transform="translate(192.0 368.5) scale(1 1.05)">Phase_<tspan font-style="italic">l</tspan>=1</text><text font-size="24.6" text-anchor="middle" transform="translate(612.0 370.1) scale(1 1.05)">Magnitude_<tspan font-style="italic">l</tspan>=1</text><text font-size="24.6" text-anchor="middle" transform="translate(190.6 746.6) scale(1 1.05)">Phase_<tspan font-style="italic">l</tspan>=2</text><text font-size="24.6" text-anchor="middle" transform="translate(613.5 749.2) scale(1 1.05)">Magnitude_<tspan font-style="italic">l</tspan>=2</text><text font-size="24.6" text-anchor="middle" transform="translate(1069.4 367.2) scale(1 1.05)">Phase_<tspan font-style="italic">l</tspan>=− 1</text><text font-size="24.6" text-anchor="middle" transform="translate(1477.4 367.2) scale(1 1.05)">Magnitude_<tspan font-style="italic">l</tspan>=− 1</text><text font-size="24.6" text-anchor="middle" transform="translate(1079.0 746.6) scale(1 1.05)">Phase_<tspan font-style="italic">l</tspan>=− 2</text><text font-size="24.6" text-anchor="middle" transform="translate(1495.5 746.6) scale(1 1.05)">Magnitude_<tspan font-style="italic">l</tspan>=− 2</text><text font-size="30.5" text-anchor="middle" transform="translate(192.5 692.2) scale(1.0 1.07)">(c)</text><text font-size="30.5" text-anchor="middle" transform="translate(616.0 689.0) scale(1.0 1.07)">(d)</text><text font-size="30.5" text-anchor="middle" transform="translate(189.8 1073.5) scale(1.0 1.07)">(e)</text><text font-size="30.5" text-anchor="middle" transform="translate(612.7 1072.0) scale(1.0 1.07)">(f)</text><text font-size="30.5" text-anchor="middle" transform="translate(1065.0 696.9) scale(1.0 1.07)">(i)</text><text font-size="30.5" text-anchor="middle" transform="translate(1501.5 693.5) scale(1.0 1.07)">(j)</text><text font-size="30.5" text-anchor="middle" transform="translate(1065.0 1075.3) scale(1.0 1.07)">(k)</text><text font-size="30.5" text-anchor="middle" transform="translate(1501.5 1073.5) scale(1.0 1.07)">(l)</text><line x1="39.3" y1="1054.6" x2="39.3" y2="998" stroke="#000" stroke-width="2.4"/><path d="M39.3 989.3 L33.6 999.8 L45 999.8 Z" fill="#000"/><line x1="38.1" y1="1053.4" x2="101" y2="1053.4" stroke="#000" stroke-width="2.4"/><path d="M110.8 1053.4 L99.5 1047.8 L99.5 1059 Z" fill="#000"/><text x="38.6" y="984.5" font-size="24" text-anchor="middle">y</text><text x="118.0" y="1060.0" font-size="24" text-anchor="middle">x</text>
</svg>
</body></html>
